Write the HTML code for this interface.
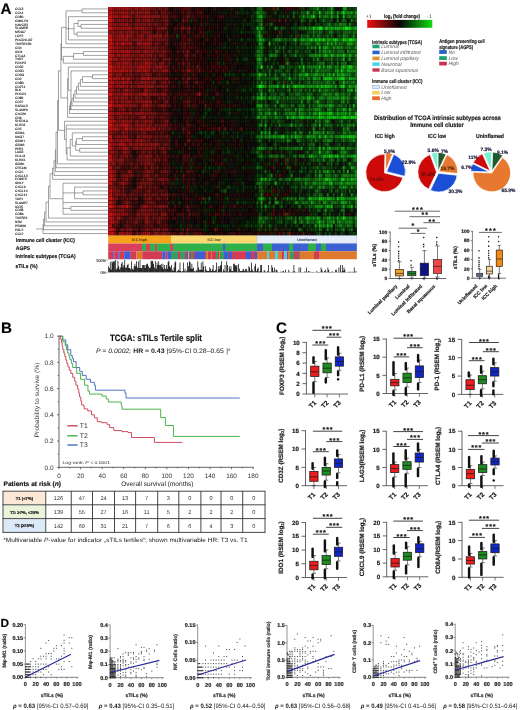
<!DOCTYPE html>
<html><head><meta charset="utf-8"><title>Figure</title>
<style>
html,body{margin:0;padding:0;background:#fff;}
body{width:520px;height:710px;overflow:hidden;}
svg{display:block;filter:blur(0.3px);font-family:"Liberation Sans",Arial,sans-serif;text-rendering:geometricPrecision;}
text[font-weight=bold]{stroke:#222;stroke-width:0.18px;}
.nb{stroke:none!important;}
.lb{stroke:#222;stroke-width:0.1px;}
</style></head><body>
<svg width="520" height="710" viewBox="0 0 520 710">
<rect width="520" height="710" fill="#fff"/>
<text x="0.6" y="13.8" font-size="15.2" font-weight="bold" font-family="Liberation Sans">A</text>
<text x="1" y="332.6" font-size="15.2" font-weight="bold">B</text>
<text x="276" y="333" font-size="15.2" font-weight="bold">C</text>
<text x="0.6" y="626.8" font-size="11.8" font-weight="bold">D</text>
<g font-size="3.3" fill="#111" style="stroke:#333;stroke-width:0.12px">
<text x="15" y="10.09">CCL3</text>
<text x="15" y="13.96">CCL4</text>
<text x="15" y="17.83">CD80</text>
<text x="15" y="21.71">CMKLR1</text>
<text x="15" y="25.58">HAVCR2</text>
<text x="15" y="29.45">SLAMF8</text>
<text x="15" y="33.32">MS4A7</text>
<text x="15" y="37.2">LCP2</text>
<text x="15" y="41.07">PDCD1LG2</text>
<text x="15" y="44.94">TNFSF13B</text>
<text x="15" y="48.82">CD4</text>
<text x="15" y="52.69">IDO1</text>
<text x="15" y="56.56">CTLA4</text>
<text x="15" y="60.43">TIGIT</text>
<text x="15" y="64.31">FOXP3</text>
<text x="15" y="68.18">CD3Z</text>
<text x="15" y="72.05">CD3D</text>
<text x="15" y="75.93">CD3G</text>
<text x="15" y="79.8">CD2</text>
<text x="15" y="83.67">CD8B</text>
<text x="15" y="87.54">CD274</text>
<text x="15" y="91.42">BLK</text>
<text x="15" y="95.29">PDCD1</text>
<text x="15" y="99.16">CD86</text>
<text x="15" y="103.04">CD27</text>
<text x="15" y="106.91">RASAL3</text>
<text x="15" y="110.78">SLAMF6</text>
<text x="15" y="114.65">CXCR6</text>
<text x="15" y="118.53">CD6</text>
<text x="15" y="122.4">SH2D1A</text>
<text x="15" y="126.27">KLRD1</text>
<text x="15" y="130.15">CD5</text>
<text x="15" y="134.02">GZMA</text>
<text x="15" y="137.89">NKG7</text>
<text x="15" y="141.76">GZMH</text>
<text x="15" y="145.64">GZMB</text>
<text x="15" y="149.51">PRF1</text>
<text x="15" y="153.38">LAG3</text>
<text x="15" y="157.26">HLA-G</text>
<text x="15" y="161.13">KLRK1</text>
<text x="15" y="165">GZMK</text>
<text x="15" y="168.87">CRTAM</text>
<text x="15" y="172.75">CCL5</text>
<text x="15" y="176.62">CXCL13</text>
<text x="15" y="180.49">EOMES</text>
<text x="15" y="184.37">GNLY</text>
<text x="15" y="188.24">CXCL9</text>
<text x="15" y="192.11">CXCL10</text>
<text x="15" y="195.98">CXCL11</text>
<text x="15" y="199.86">TAP1</text>
<text x="15" y="203.73">SLAMF7</text>
<text x="15" y="207.6">ICOS</text>
<text x="15" y="211.48">CD38</text>
<text x="15" y="215.35">CD8A</text>
<text x="15" y="219.22">TNFSF4</text>
<text x="15" y="223.09">B2M</text>
<text x="15" y="226.97">PSMB9</text>
<text x="15" y="230.84">FGL2</text>
<text x="15" y="234.71">CCL2</text>
</g>
<path d="M82 8.94H108.2M82 12.81H108.2M82 8.94V12.81M66 10.87H82M68.5 16.68H108.2M78 20.56H108.2M81 24.43H108.2M81 28.3H108.2M81 24.43V28.3M78 26.36H81M78 20.56V26.36M74 23.46H78M77 32.17H108.2M77 36.05H108.2M77 32.17V36.05M74 34.11H77M74 23.46V34.11M68.5 28.78H74M68.5 39.92H108.2M68.5 16.68V39.92M66 28.3H68.5M66 43.79H108.2M66 10.87V43.79M61.5 27.33H66M61.5 47.67H108.2M83.4 51.54H108.2M83.4 55.41H108.2M83.4 51.54V55.41M73.6 53.47H83.4M73.6 59.28H108.2M73.6 53.47V59.28M63.3 56.38H73.6M63.3 63.16H108.2M63.3 56.38V63.16M61.5 59.77H63.3M61.5 27.33V59.77M60.9 43.55H61.5M68.3 67.03H108.2M71 70.9H108.2M92.5 74.78H108.2M92.5 78.65H108.2M92.5 74.78V78.65M82.4 76.71H92.5M82.4 82.52H108.2M82.4 76.71V82.52M80.4 79.62H82.4M80.4 86.39H108.2M80.4 79.62V86.39M78.4 83.01H80.4M78.4 90.27H108.2M78.4 83.01V90.27M76.5 86.64H78.4M76.5 94.14H108.2M76.5 86.64V94.14M75 90.39H76.5M75 98.01H108.2M75 90.39V98.01M73.5 94.2H75M73.5 101.89H108.2M73.5 94.2V101.89M72 98.04H73.5M72 105.76H108.2M72 98.04V105.76M70.5 101.9H72M70.5 109.63H108.2M70.5 101.9V109.63M69.5 105.77H70.5M69.5 113.5H108.2M69.5 105.77V113.5M71 109.64H69.5M71 70.9V109.64M68.3 90.27H71M68.3 67.03V90.27M67.6 78.65H68.3M67.6 117.38H108.2M67.6 78.65V117.38M60.9 98.01H67.6M60.9 43.55V98.01M58.5 70.78H60.9M64.5 121.25H108.2M66.2 125.12H108.2M66.2 129H108.2M72.3 132.87H108.2M82.4 136.74H108.2M82.4 140.61H108.2M82.4 136.74V140.61M76.3 138.68H82.4M76.3 144.49H108.2M76.3 138.68V144.49M75.7 141.58H76.3M79.7 148.36H108.2M79.7 152.23H108.2M79.7 148.36V152.23M75.7 150.3H79.7M75.7 141.58V150.3M72.3 145.94H75.7M72.3 132.87V145.94M70.3 139.4H72.3M70.3 156.11H108.2M70.3 139.4V156.11M67 147.76H70.3M67 159.98H108.2M67 147.76V159.98M66.2 153.87H67M66.2 125.12V153.87M64.5 139.49H66.2M64.5 121.25V139.49M58.5 130.37H64.5M58.5 70.78V130.37M57.5 100.58H58.5M57.5 163.85H108.2M57.5 100.58V163.85M56 132.21H57.5M56 167.72H108.2M56 132.21V167.72M55.4 149.97H56M55.4 171.6H108.2M55.4 149.97V171.6M54 160.78H55.4M54 175.47H108.2M54 160.78V175.47M52.5 168.13H54M52.5 179.34H108.2M52.5 168.13V179.34M50 173.74H52.5M63 183.22H108.2M74.6 187.09H108.2M83 190.96H108.2M83 194.83H108.2M83 190.96V194.83M74.6 192.9H83M74.6 198.71H108.2M74.6 187.09V198.71M63 192.9H74.6M63 202.58H108.2M70.8 206.45H108.2M70.8 210.33H108.2M70.8 206.45V210.33M63 208.39H70.8M63 214.2H108.2M63 183.22V214.2M50 198.71H63M50 173.74V198.71M48.5 186.22H50M48.5 218.07H108.2M48.5 186.22V218.07M46 202.15H48.5M46 221.94H108.2M46 202.15V221.94M44.6 212.05H46M44.6 225.82H108.2M44.6 212.05V225.82M43.6 218.93H44.6M43.6 229.69H108.2M43.6 218.93V229.69M43 224.31H43.6M43 233.56H108.2M43 224.31V233.56M36 228.94H43" fill="none" stroke="#555" stroke-width="0.55"/>
<g filter="url(#hb)">
<rect x="108.2" y="7" width="248.6" height="228.5" fill="#000"/>
<path fill="#aa1414" d="M108.2 7h2v3.87h-2zM118.22 7h2v3.87h-2zM122.23 7h2v3.87h-2zM126.24 7h2v3.87h-2zM148.3 7h2v3.87h-2zM108.2 10.87h2v3.87h-2zM114.21 14.75h2v3.87h-2zM144.29 14.75h2v3.87h-2zM148.3 14.75h2v3.87h-2zM112.21 26.36h2v3.87h-2zM116.22 26.36h2v3.87h-2zM122.23 26.36h2v3.87h-2zM126.24 37.98h2v3.87h-2zM148.3 41.86h2v3.87h-2zM122.23 53.47h2v3.87h-2zM148.3 61.22h2v3.87h-2zM144.29 65.09h2v3.87h-2zM114.21 68.97h2v3.87h-2zM122.23 68.97h2v3.87h-2zM164.34 68.97h2v3.87h-2zM188.39 68.97h2v3.87h-2zM146.29 76.71h4.01v3.87h-4.01zM108.2 80.58h2v3.87h-2zM122.23 84.46h2v3.87h-2zM126.24 84.46h2v3.87h-2zM130.25 84.46h2v3.87h-2zM108.2 88.33h2v3.87h-2zM122.23 92.2h2v3.87h-2zM130.25 92.2h2v3.87h-2zM198.42 92.2h2v3.87h-2zM110.2 96.08h2v3.87h-2zM108.2 99.95h2v3.87h-2zM128.25 99.95h2v3.87h-2zM112.21 103.82h2v3.87h-2zM116.22 103.82h2v3.87h-2zM142.28 103.82h2v3.87h-2zM110.2 107.69h2v3.87h-2zM112.21 111.57h2v3.87h-2zM116.22 111.57h2v3.87h-2zM122.23 119.31h2v3.87h-2zM116.22 123.19h2v3.87h-2zM124.24 123.19h4.01v3.87h-4.01zM112.21 127.06h2v3.87h-2zM124.24 127.06h4.01v3.87h-4.01zM146.29 127.06h2v3.87h-2zM136.27 138.68h2v3.87h-2zM140.28 138.68h2v3.87h-2zM122.23 146.42h2v3.87h-2zM110.2 150.3h2v3.87h-2zM108.2 161.92h2v3.87h-2zM108.2 169.66h2v3.87h-2zM128.25 169.66h2v3.87h-2zM108.2 173.53h2v3.87h-2zM108.2 208.39h2v3.87h-2zM112.21 216.14h2v3.87h-2zM118.22 216.14h2v3.87h-2zM108.2 223.88h4.01v3.87h-4.01zM126.24 231.63h2v3.87h-2zM148.3 231.63h2v3.87h-2z"/>
<path fill="#be1414" d="M110.2 7h2v3.87h-2zM122.23 14.75h2v3.87h-2zM108.2 22.49h2v3.87h-2zM108.2 41.86h2v3.87h-2zM116.22 41.86h2v3.87h-2zM108.2 45.73h2v3.87h-2zM110.2 49.6h2v3.87h-2zM122.23 49.6h2v3.87h-2zM108.2 53.47h2v3.87h-2zM112.21 53.47h2v3.87h-2zM130.25 68.97h2v3.87h-2zM144.29 68.97h2v3.87h-2zM108.2 72.84h2v3.87h-2zM112.21 80.58h2v3.87h-2zM110.2 84.46h2v3.87h-2zM110.2 115.44h2v3.87h-2zM110.2 127.06h2v3.87h-2zM110.2 142.55h2v3.87h-2zM140.28 142.55h2v3.87h-2zM110.2 154.17h2v3.87h-2zM110.2 165.79h2v3.87h-2zM108.2 177.41h2v3.87h-2zM112.21 204.52h2v3.87h-2zM108.2 216.14h4.01v3.87h-4.01z"/>
<path fill="#a01414" d="M112.21 7h2v3.87h-2zM116.22 7h2v3.87h-2zM124.24 7h2v3.87h-2zM136.27 7h2v3.87h-2zM142.28 7h2v3.87h-2zM122.23 10.87h2v3.87h-2zM126.24 10.87h2v3.87h-2zM136.27 10.87h2v3.87h-2zM112.21 14.75h2v3.87h-2zM116.22 14.75h2v3.87h-2zM124.24 14.75h4.01v3.87h-4.01zM136.27 14.75h2v3.87h-2zM142.28 14.75h2v3.87h-2zM112.21 18.62h2v3.87h-2zM130.25 18.62h2v3.87h-2zM126.24 22.49h2v3.87h-2zM148.3 22.49h2v3.87h-2zM120.23 26.36h2v3.87h-2zM126.24 26.36h2v3.87h-2zM136.27 26.36h2v3.87h-2zM142.28 26.36h2v3.87h-2zM120.23 34.11h4.01v3.87h-4.01zM140.28 34.11h2v3.87h-2zM118.22 37.98h2v3.87h-2zM124.24 37.98h2v3.87h-2zM148.3 37.98h2v3.87h-2zM112.21 41.86h2v3.87h-2zM120.23 41.86h2v3.87h-2zM146.29 41.86h2v3.87h-2zM112.21 45.73h2v3.87h-2zM116.22 45.73h2v3.87h-2zM112.21 49.6h2v3.87h-2zM120.23 49.6h2v3.87h-2zM124.24 49.6h2v3.87h-2zM128.25 49.6h2v3.87h-2zM138.27 49.6h2v3.87h-2zM186.39 49.6h2v3.87h-2zM128.25 53.47h2v3.87h-2zM122.23 57.35h2v3.87h-2zM130.25 57.35h2v3.87h-2zM136.27 57.35h2v3.87h-2zM144.29 57.35h2v3.87h-2zM118.22 61.22h2v3.87h-2zM122.23 61.22h2v3.87h-2zM144.29 61.22h4.01v3.87h-4.01zM130.25 65.09h2v3.87h-2zM136.27 65.09h2v3.87h-2zM146.29 65.09h2v3.87h-2zM112.21 68.97h2v3.87h-2zM124.24 68.97h2v3.87h-2zM140.28 68.97h2v3.87h-2zM146.29 68.97h2v3.87h-2zM118.22 76.71h2v3.87h-2zM126.24 76.71h4.01v3.87h-4.01zM126.24 80.58h2v3.87h-2zM130.25 80.58h2v3.87h-2zM144.29 80.58h2v3.87h-2zM112.21 84.46h2v3.87h-2zM144.29 84.46h2v3.87h-2zM144.29 88.33h2v3.87h-2zM118.22 92.2h2v3.87h-2zM124.24 92.2h4.01v3.87h-4.01zM142.28 92.2h6.01v3.87h-6.01zM108.2 96.08h2v3.87h-2zM116.22 96.08h2v3.87h-2zM112.21 99.95h2v3.87h-2zM116.22 99.95h2v3.87h-2zM118.22 103.82h2v3.87h-2zM122.23 103.82h2v3.87h-2zM118.22 111.57h2v3.87h-2zM122.23 111.57h2v3.87h-2zM136.27 111.57h2v3.87h-2zM112.21 115.44h2v3.87h-2zM136.27 119.31h2v3.87h-2zM144.29 119.31h2v3.87h-2zM112.21 123.19h2v3.87h-2zM136.27 123.19h2v3.87h-2zM144.29 123.19h2v3.87h-2zM116.22 127.06h2v3.87h-2zM130.25 127.06h2v3.87h-2zM152.31 127.06h2v3.87h-2zM110.2 130.93h2v3.87h-2zM122.23 130.93h2v3.87h-2zM108.2 138.68h2v3.87h-2zM120.23 138.68h2v3.87h-2zM112.21 142.55h2v3.87h-2zM118.22 142.55h4.01v3.87h-4.01zM124.24 142.55h2v3.87h-2zM136.27 142.55h2v3.87h-2zM146.29 142.55h2v3.87h-2zM150.3 142.55h2v3.87h-2zM124.24 146.42h4.01v3.87h-4.01zM144.29 146.42h2v3.87h-2zM112.21 150.3h2v3.87h-2zM112.21 173.53h2v3.87h-2zM126.24 177.41h2v3.87h-2zM122.23 181.28h2v3.87h-2zM110.2 185.15h2v3.87h-2zM116.22 192.9h2v3.87h-2zM144.29 192.9h2v3.87h-2zM112.21 196.77h2v3.87h-2zM148.3 196.77h2v3.87h-2zM112.21 208.39h2v3.87h-2zM122.23 208.39h2v3.87h-2zM114.21 212.26h2v3.87h-2zM164.34 212.26h2v3.87h-2zM108.2 220.01h2v3.87h-2zM146.29 231.63h2v3.87h-2z"/>
<path fill="#821414" d="M114.21 7h2v3.87h-2zM130.25 7h2v3.87h-2zM146.29 7h2v3.87h-2zM272.6 7h2v3.87h-2zM118.22 10.87h2v3.87h-2zM130.25 10.87h4.01v3.87h-4.01zM156.32 10.87h2v3.87h-2zM120.23 14.75h2v3.87h-2zM130.25 14.75h2v3.87h-2zM140.28 14.75h2v3.87h-2zM136.27 18.62h4.01v3.87h-4.01zM144.29 18.62h2v3.87h-2zM166.34 18.62h2v3.87h-2zM182.38 18.62h2v3.87h-2zM112.21 22.49h2v3.87h-2zM118.22 22.49h4.01v3.87h-4.01zM140.28 22.49h2v3.87h-2zM144.29 26.36h2v3.87h-2zM150.3 26.36h2v3.87h-2zM158.32 26.36h2v3.87h-2zM182.38 26.36h2v3.87h-2zM110.2 30.24h4.01v3.87h-4.01zM118.22 30.24h4.01v3.87h-4.01zM136.27 30.24h2v3.87h-2zM142.28 30.24h2v3.87h-2zM148.3 30.24h2v3.87h-2zM156.32 30.24h2v3.87h-2zM138.27 34.11h2v3.87h-2zM146.29 34.11h2v3.87h-2zM164.34 34.11h2v3.87h-2zM142.28 37.98h2v3.87h-2zM156.32 37.98h2v3.87h-2zM118.22 41.86h2v3.87h-2zM154.31 41.86h2v3.87h-2zM118.22 45.73h2v3.87h-2zM126.24 45.73h2v3.87h-2zM130.25 45.73h2v3.87h-2zM140.28 45.73h2v3.87h-2zM146.29 45.73h4.01v3.87h-4.01zM156.32 45.73h2v3.87h-2zM134.26 49.6h2v3.87h-2zM142.28 49.6h2v3.87h-2zM150.3 49.6h2v3.87h-2zM156.32 49.6h2v3.87h-2zM120.23 53.47h2v3.87h-2zM136.27 53.47h2v3.87h-2zM148.3 53.47h2v3.87h-2zM154.31 53.47h2v3.87h-2zM186.39 53.47h2v3.87h-2zM126.24 57.35h4.01v3.87h-4.01zM114.21 61.22h2v3.87h-2zM120.23 61.22h2v3.87h-2zM128.25 61.22h2v3.87h-2zM136.27 61.22h2v3.87h-2zM140.28 61.22h2v3.87h-2zM150.3 61.22h2v3.87h-2zM154.31 65.09h4.01v3.87h-4.01zM164.34 65.09h2v3.87h-2zM134.26 68.97h2v3.87h-2zM160.33 68.97h2v3.87h-2zM186.39 68.97h2v3.87h-2zM118.22 72.84h4.01v3.87h-4.01zM126.24 72.84h2v3.87h-2zM124.24 76.71h2v3.87h-2zM136.27 76.71h2v3.87h-2zM150.3 76.71h2v3.87h-2zM158.32 76.71h2v3.87h-2zM114.21 80.58h2v3.87h-2zM120.23 80.58h2v3.87h-2zM136.27 80.58h2v3.87h-2zM148.3 80.58h2v3.87h-2zM136.27 84.46h8.02v3.87h-8.02zM146.29 84.46h8.02v3.87h-8.02zM118.22 88.33h2v3.87h-2zM114.21 92.2h2v3.87h-2zM120.23 92.2h2v3.87h-2zM148.3 92.2h4.01v3.87h-4.01zM160.33 92.2h2v3.87h-2zM114.21 96.08h2v3.87h-2zM120.23 96.08h4.01v3.87h-4.01zM140.28 96.08h2v3.87h-2zM146.29 96.08h2v3.87h-2zM124.24 99.95h4.01v3.87h-4.01zM130.25 99.95h2v3.87h-2zM148.3 99.95h4.01v3.87h-4.01zM136.27 103.82h2v3.87h-2zM150.3 103.82h2v3.87h-2zM162.33 103.82h2v3.87h-2zM118.22 107.69h2v3.87h-2zM140.28 107.69h2v3.87h-2zM126.24 111.57h2v3.87h-2zM138.27 111.57h6.01v3.87h-6.01zM154.31 111.57h2v3.87h-2zM118.22 115.44h2v3.87h-2zM118.22 119.31h2v3.87h-2zM128.25 119.31h2v3.87h-2zM146.29 119.31h2v3.87h-2zM166.34 119.31h2v3.87h-2zM114.21 123.19h2v3.87h-2zM142.28 123.19h2v3.87h-2zM160.33 123.19h2v3.87h-2zM118.22 127.06h2v3.87h-2zM142.28 127.06h2v3.87h-2zM162.33 127.06h2v3.87h-2zM126.24 130.93h2v3.87h-2zM144.29 130.93h2v3.87h-2zM116.22 134.81h2v3.87h-2zM122.23 134.81h4.01v3.87h-4.01zM146.29 134.81h2v3.87h-2zM150.3 134.81h2v3.87h-2zM166.34 134.81h2v3.87h-2zM144.29 138.68h2v3.87h-2zM116.22 142.55h2v3.87h-2zM134.26 142.55h2v3.87h-2zM144.29 142.55h2v3.87h-2zM152.31 142.55h6.01v3.87h-6.01zM164.34 142.55h2v3.87h-2zM118.22 146.42h2v3.87h-2zM134.26 146.42h4.01v3.87h-4.01zM140.28 146.42h2v3.87h-2zM154.31 146.42h2v3.87h-2zM108.2 150.3h2v3.87h-2zM164.34 150.3h2v3.87h-2zM114.21 154.17h2v3.87h-2zM120.23 154.17h2v3.87h-2zM144.29 154.17h2v3.87h-2zM116.22 158.04h2v3.87h-2zM148.3 158.04h2v3.87h-2zM114.21 161.92h2v3.87h-2zM130.25 161.92h2v3.87h-2zM156.32 165.79h2v3.87h-2zM164.34 169.66h2v3.87h-2zM114.21 173.53h2v3.87h-2zM122.23 173.53h2v3.87h-2zM144.29 173.53h2v3.87h-2zM148.3 177.41h4.01v3.87h-4.01zM160.33 177.41h2v3.87h-2zM124.24 181.28h2v3.87h-2zM112.21 185.15h2v3.87h-2zM148.3 189.03h2v3.87h-2zM124.24 192.9h2v3.87h-2zM166.34 192.9h2v3.87h-2zM114.21 204.52h2v3.87h-2zM118.22 204.52h2v3.87h-2zM146.29 204.52h2v3.87h-2zM154.31 204.52h2v3.87h-2zM150.3 208.39h2v3.87h-2zM120.23 212.26h2v3.87h-2zM124.24 212.26h2v3.87h-2zM138.27 212.26h2v3.87h-2zM146.29 212.26h2v3.87h-2zM152.31 212.26h2v3.87h-2zM188.39 212.26h2v3.87h-2zM136.27 216.14h2v3.87h-2zM144.29 216.14h4.01v3.87h-4.01zM158.32 216.14h2v3.87h-2zM144.29 220.01h4.01v3.87h-4.01zM122.23 227.75h2v3.87h-2zM152.31 227.75h2v3.87h-2zM162.33 227.75h2v3.87h-2zM214.46 227.75h2v3.87h-2zM124.24 231.63h2v3.87h-2zM130.25 231.63h2v3.87h-2z"/>
<path fill="#8c1414" d="M120.23 7h2v3.87h-2zM114.21 10.87h2v3.87h-2zM144.29 10.87h4.01v3.87h-4.01zM118.22 14.75h2v3.87h-2zM128.25 14.75h2v3.87h-2zM138.27 14.75h2v3.87h-2zM162.33 14.75h2v3.87h-2zM126.24 18.62h2v3.87h-2zM146.29 18.62h4.01v3.87h-4.01zM114.21 22.49h2v3.87h-2zM122.23 22.49h2v3.87h-2zM136.27 22.49h2v3.87h-2zM144.29 22.49h2v3.87h-2zM114.21 26.36h2v3.87h-2zM118.22 26.36h2v3.87h-2zM130.25 26.36h2v3.87h-2zM138.27 26.36h2v3.87h-2zM146.29 26.36h2v3.87h-2zM164.34 26.36h2v3.87h-2zM108.2 30.24h2v3.87h-2zM126.24 30.24h2v3.87h-2zM144.29 30.24h2v3.87h-2zM112.21 34.11h2v3.87h-2zM116.22 34.11h2v3.87h-2zM128.25 34.11h2v3.87h-2zM136.27 34.11h2v3.87h-2zM142.28 34.11h2v3.87h-2zM150.3 34.11h2v3.87h-2zM156.32 34.11h2v3.87h-2zM114.21 37.98h2v3.87h-2zM122.23 37.98h2v3.87h-2zM130.25 37.98h2v3.87h-2zM138.27 37.98h2v3.87h-2zM124.24 41.86h4.01v3.87h-4.01zM136.27 41.86h6.01v3.87h-6.01zM150.3 41.86h2v3.87h-2zM114.21 45.73h2v3.87h-2zM120.23 45.73h2v3.87h-2zM144.29 45.73h2v3.87h-2zM118.22 49.6h2v3.87h-2zM148.3 49.6h2v3.87h-2zM152.31 49.6h2v3.87h-2zM164.34 49.6h2v3.87h-2zM140.28 53.47h2v3.87h-2zM146.29 53.47h2v3.87h-2zM112.21 57.35h6.01v3.87h-6.01zM140.28 57.35h2v3.87h-2zM134.26 61.22h2v3.87h-2zM116.22 65.09h2v3.87h-2zM126.24 65.09h2v3.87h-2zM158.32 65.09h4.01v3.87h-4.01zM166.34 68.97h2v3.87h-2zM118.22 80.58h2v3.87h-2zM128.25 80.58h2v3.87h-2zM146.29 80.58h2v3.87h-2zM164.34 80.58h2v3.87h-2zM118.22 84.46h4.01v3.87h-4.01zM162.33 84.46h2v3.87h-2zM124.24 88.33h4.01v3.87h-4.01zM146.29 88.33h2v3.87h-2zM112.21 92.2h2v3.87h-2zM128.25 92.2h2v3.87h-2zM138.27 92.2h4.01v3.87h-4.01zM156.32 92.2h2v3.87h-2zM164.34 92.2h2v3.87h-2zM112.21 96.08h2v3.87h-2zM130.25 96.08h2v3.87h-2zM120.23 99.95h2v3.87h-2zM140.28 99.95h2v3.87h-2zM144.29 99.95h4.01v3.87h-4.01zM166.34 99.95h2v3.87h-2zM114.21 103.82h2v3.87h-2zM124.24 103.82h2v3.87h-2zM128.25 103.82h4.01v3.87h-4.01zM148.3 103.82h2v3.87h-2zM120.23 111.57h2v3.87h-2zM124.24 111.57h2v3.87h-2zM128.25 111.57h4.01v3.87h-4.01zM144.29 111.57h2v3.87h-2zM150.3 111.57h2v3.87h-2zM120.23 115.44h2v3.87h-2zM126.24 115.44h2v3.87h-2zM140.28 115.44h6.01v3.87h-6.01zM148.3 115.44h2v3.87h-2zM124.24 119.31h2v3.87h-2zM130.25 119.31h2v3.87h-2zM118.22 123.19h4.01v3.87h-4.01zM128.25 123.19h2v3.87h-2zM164.34 123.19h2v3.87h-2zM122.23 127.06h2v3.87h-2zM154.31 127.06h2v3.87h-2zM158.32 127.06h2v3.87h-2zM108.2 130.93h2v3.87h-2zM118.22 134.81h2v3.87h-2zM148.3 134.81h2v3.87h-2zM112.21 138.68h2v3.87h-2zM124.24 138.68h2v3.87h-2zM128.25 138.68h2v3.87h-2zM188.39 138.68h2v3.87h-2zM114.21 142.55h2v3.87h-2zM128.25 142.55h4.01v3.87h-4.01zM142.28 142.55h2v3.87h-2zM112.21 146.42h2v3.87h-2zM150.3 146.42h2v3.87h-2zM122.23 150.3h2v3.87h-2zM142.28 150.3h2v3.87h-2zM140.28 154.17h2v3.87h-2zM112.21 158.04h2v3.87h-2zM146.29 158.04h2v3.87h-2zM110.2 161.92h4.01v3.87h-4.01zM144.29 161.92h2v3.87h-2zM144.29 165.79h2v3.87h-2zM150.3 165.79h2v3.87h-2zM114.21 169.66h2v3.87h-2zM146.29 169.66h2v3.87h-2zM126.24 173.53h2v3.87h-2zM130.25 173.53h2v3.87h-2zM122.23 177.41h2v3.87h-2zM162.33 177.41h2v3.87h-2zM120.23 181.28h2v3.87h-2zM140.28 181.28h2v3.87h-2zM144.29 181.28h2v3.87h-2zM148.3 181.28h2v3.87h-2zM108.2 185.15h2v3.87h-2zM122.23 185.15h2v3.87h-2zM114.21 189.03h2v3.87h-2zM112.21 200.64h2v3.87h-2zM126.24 200.64h2v3.87h-2zM120.23 204.52h4.01v3.87h-4.01zM144.29 208.39h2v3.87h-2zM116.22 212.26h2v3.87h-2zM126.24 212.26h2v3.87h-2zM136.27 212.26h2v3.87h-2zM284.63 212.26h2v3.87h-2zM116.22 216.14h2v3.87h-2zM116.22 220.01h2v3.87h-2zM114.21 227.75h2v3.87h-2zM126.24 227.75h2v3.87h-2zM114.21 231.63h2v3.87h-2zM118.22 231.63h6.01v3.87h-6.01zM136.27 231.63h2v3.87h-2zM142.28 231.63h2v3.87h-2zM154.31 231.63h4.01v3.87h-4.01z"/>
<path fill="#961414" d="M128.25 7h2v3.87h-2zM134.26 7h2v3.87h-2zM140.28 7h2v3.87h-2zM144.29 7h2v3.87h-2zM112.21 10.87h2v3.87h-2zM116.22 10.87h2v3.87h-2zM120.23 10.87h2v3.87h-2zM124.24 10.87h2v3.87h-2zM148.3 10.87h2v3.87h-2zM146.29 14.75h2v3.87h-2zM118.22 18.62h2v3.87h-2zM122.23 18.62h2v3.87h-2zM124.24 22.49h2v3.87h-2zM124.24 26.36h2v3.87h-2zM140.28 26.36h2v3.87h-2zM188.39 26.36h2v3.87h-2zM118.22 34.11h2v3.87h-2zM130.25 34.11h2v3.87h-2zM148.3 34.11h2v3.87h-2zM154.31 34.11h2v3.87h-2zM112.21 37.98h2v3.87h-2zM116.22 37.98h2v3.87h-2zM120.23 37.98h2v3.87h-2zM136.27 37.98h2v3.87h-2zM140.28 37.98h2v3.87h-2zM146.29 37.98h2v3.87h-2zM150.3 37.98h2v3.87h-2zM128.25 41.86h4.01v3.87h-4.01zM142.28 41.86h2v3.87h-2zM114.21 49.6h2v3.87h-2zM130.25 49.6h2v3.87h-2zM136.27 49.6h2v3.87h-2zM146.29 49.6h2v3.87h-2zM116.22 53.47h4.01v3.87h-4.01zM124.24 53.47h4.01v3.87h-4.01zM142.28 53.47h2v3.87h-2zM150.3 53.47h2v3.87h-2zM120.23 57.35h2v3.87h-2zM124.24 57.35h2v3.87h-2zM116.22 61.22h2v3.87h-2zM124.24 61.22h4.01v3.87h-4.01zM130.25 61.22h2v3.87h-2zM114.21 65.09h2v3.87h-2zM124.24 65.09h2v3.87h-2zM128.25 65.09h2v3.87h-2zM138.27 65.09h4.01v3.87h-4.01zM118.22 68.97h2v3.87h-2zM136.27 68.97h4.01v3.87h-4.01zM142.28 68.97h2v3.87h-2zM148.3 68.97h2v3.87h-2zM162.33 68.97h2v3.87h-2zM116.22 72.84h2v3.87h-2zM130.25 72.84h2v3.87h-2zM112.21 76.71h6.01v3.87h-6.01zM140.28 76.71h6.01v3.87h-6.01zM116.22 80.58h2v3.87h-2zM124.24 80.58h2v3.87h-2zM116.22 84.46h2v3.87h-2zM112.21 88.33h2v3.87h-2zM116.22 92.2h2v3.87h-2zM136.27 92.2h2v3.87h-2zM162.33 92.2h2v3.87h-2zM122.23 99.95h2v3.87h-2zM142.28 99.95h2v3.87h-2zM126.24 103.82h2v3.87h-2zM144.29 103.82h4.01v3.87h-4.01zM108.2 107.69h2v3.87h-2zM122.23 107.69h2v3.87h-2zM114.21 119.31h2v3.87h-2zM126.24 119.31h2v3.87h-2zM130.25 123.19h2v3.87h-2zM140.28 123.19h2v3.87h-2zM148.3 123.19h2v3.87h-2zM136.27 127.06h2v3.87h-2zM144.29 127.06h2v3.87h-2zM126.24 134.81h2v3.87h-2zM116.22 138.68h2v3.87h-2zM122.23 138.68h2v3.87h-2zM126.24 138.68h2v3.87h-2zM130.25 138.68h2v3.87h-2zM148.3 146.42h2v3.87h-2zM162.33 146.42h2v3.87h-2zM124.24 150.3h2v3.87h-2zM126.24 154.17h2v3.87h-2zM146.29 154.17h2v3.87h-2zM122.23 158.04h2v3.87h-2zM154.31 158.04h2v3.87h-2zM148.3 161.92h2v3.87h-2zM112.21 169.66h2v3.87h-2zM148.3 169.66h2v3.87h-2zM146.29 173.53h2v3.87h-2zM112.21 177.41h4.01v3.87h-4.01zM140.28 185.15h2v3.87h-2zM124.24 204.52h2v3.87h-2zM162.33 204.52h2v3.87h-2zM110.2 208.39h2v3.87h-2zM118.22 212.26h2v3.87h-2zM122.23 212.26h2v3.87h-2zM144.29 212.26h2v3.87h-2zM148.3 212.26h2v3.87h-2zM146.29 227.75h2v3.87h-2zM128.25 231.63h2v3.87h-2zM144.29 231.63h2v3.87h-2zM288.64 231.63h2v3.87h-2z"/>
<path fill="#6e1414" d="M132.26 7h2v3.87h-2zM138.27 7h2v3.87h-2zM154.31 7h2v3.87h-2zM160.33 7h2v3.87h-2zM160.33 10.87h2v3.87h-2zM164.34 14.75h4.01v3.87h-4.01zM124.24 18.62h2v3.87h-2zM164.34 18.62h2v3.87h-2zM128.25 22.49h2v3.87h-2zM156.32 22.49h2v3.87h-2zM164.34 22.49h2v3.87h-2zM132.26 26.36h2v3.87h-2zM156.32 26.36h2v3.87h-2zM180.37 26.36h2v3.87h-2zM114.21 30.24h4.01v3.87h-4.01zM124.24 30.24h2v3.87h-2zM140.28 30.24h2v3.87h-2zM166.34 30.24h2v3.87h-2zM132.26 34.11h2v3.87h-2zM296.65 34.11h2v3.87h-2zM128.25 37.98h2v3.87h-2zM132.26 37.98h4.01v3.87h-4.01zM152.31 37.98h2v3.87h-2zM160.33 37.98h2v3.87h-2zM166.34 37.98h2v3.87h-2zM114.21 41.86h2v3.87h-2zM166.34 41.86h2v3.87h-2zM124.24 45.73h2v3.87h-2zM132.26 45.73h2v3.87h-2zM160.33 45.73h2v3.87h-2zM140.28 49.6h2v3.87h-2zM160.33 49.6h2v3.87h-2zM134.26 53.47h2v3.87h-2zM118.22 57.35h2v3.87h-2zM138.27 57.35h2v3.87h-2zM150.3 57.35h2v3.87h-2zM156.32 57.35h2v3.87h-2zM162.33 57.35h4.01v3.87h-4.01zM168.35 57.35h2v3.87h-2zM112.21 61.22h2v3.87h-2zM168.35 61.22h2v3.87h-2zM188.39 61.22h2v3.87h-2zM284.63 61.22h2v3.87h-2zM132.26 65.09h4.01v3.87h-4.01zM152.31 65.09h2v3.87h-2zM166.34 65.09h2v3.87h-2zM156.32 68.97h2v3.87h-2zM150.3 72.84h2v3.87h-2zM152.31 76.71h6.01v3.87h-6.01zM162.33 76.71h2v3.87h-2zM150.3 80.58h6.01v3.87h-6.01zM168.35 80.58h2v3.87h-2zM196.41 80.58h2v3.87h-2zM156.32 84.46h2v3.87h-2zM114.21 88.33h2v3.87h-2zM128.25 88.33h2v3.87h-2zM148.3 88.33h2v3.87h-2zM132.26 92.2h2v3.87h-2zM158.32 92.2h2v3.87h-2zM196.41 92.2h2v3.87h-2zM118.22 96.08h2v3.87h-2zM134.26 96.08h4.01v3.87h-4.01zM114.21 99.95h2v3.87h-2zM118.22 99.95h2v3.87h-2zM134.26 99.95h6.01v3.87h-6.01zM154.31 99.95h2v3.87h-2zM186.39 99.95h2v3.87h-2zM140.28 103.82h2v3.87h-2zM188.39 103.82h2v3.87h-2zM124.24 107.69h2v3.87h-2zM142.28 107.69h2v3.87h-2zM152.31 111.57h2v3.87h-2zM116.22 115.44h2v3.87h-2zM160.33 115.44h2v3.87h-2zM140.28 119.31h2v3.87h-2zM164.34 119.31h2v3.87h-2zM154.31 123.19h2v3.87h-2zM134.26 127.06h2v3.87h-2zM150.3 127.06h2v3.87h-2zM218.47 127.06h2v3.87h-2zM240.52 127.06h2v3.87h-2zM112.21 130.93h2v3.87h-2zM142.28 130.93h2v3.87h-2zM154.31 134.81h2v3.87h-2zM114.21 138.68h2v3.87h-2zM134.26 138.68h2v3.87h-2zM138.27 138.68h2v3.87h-2zM154.31 138.68h2v3.87h-2zM168.35 138.68h2v3.87h-2zM158.32 142.55h2v3.87h-2zM132.26 146.42h2v3.87h-2zM158.32 146.42h2v3.87h-2zM164.34 146.42h2v3.87h-2zM154.31 150.3h2v3.87h-2zM122.23 154.17h2v3.87h-2zM130.25 154.17h2v3.87h-2zM138.27 154.17h2v3.87h-2zM114.21 158.04h2v3.87h-2zM136.27 158.04h2v3.87h-2zM140.28 158.04h2v3.87h-2zM158.32 158.04h2v3.87h-2zM118.22 161.92h2v3.87h-2zM136.27 161.92h2v3.87h-2zM152.31 161.92h2v3.87h-2zM114.21 165.79h2v3.87h-2zM136.27 165.79h2v3.87h-2zM160.33 169.66h2v3.87h-2zM128.25 173.53h2v3.87h-2zM124.24 177.41h2v3.87h-2zM156.32 177.41h2v3.87h-2zM112.21 181.28h2v3.87h-2zM126.24 181.28h2v3.87h-2zM162.33 181.28h2v3.87h-2zM114.21 185.15h2v3.87h-2zM148.3 185.15h2v3.87h-2zM116.22 189.03h2v3.87h-2zM136.27 189.03h2v3.87h-2zM118.22 192.9h2v3.87h-2zM130.25 192.9h2v3.87h-2zM154.31 192.9h2v3.87h-2zM114.21 196.77h4.01v3.87h-4.01zM158.32 196.77h2v3.87h-2zM114.21 200.64h2v3.87h-2zM124.24 200.64h2v3.87h-2zM148.3 200.64h2v3.87h-2zM128.25 204.52h2v3.87h-2zM140.28 204.52h2v3.87h-2zM150.3 204.52h2v3.87h-2zM164.34 204.52h2v3.87h-2zM116.22 208.39h6.01v3.87h-6.01zM140.28 208.39h4.01v3.87h-4.01zM146.29 208.39h2v3.87h-2zM156.32 208.39h2v3.87h-2zM130.25 212.26h2v3.87h-2zM142.28 212.26h2v3.87h-2zM138.27 216.14h2v3.87h-2zM160.33 216.14h2v3.87h-2zM114.21 220.01h2v3.87h-2zM126.24 220.01h2v3.87h-2zM134.26 220.01h4.01v3.87h-4.01zM156.32 220.01h2v3.87h-2zM136.27 227.75h2v3.87h-2zM148.3 227.75h2v3.87h-2zM154.31 227.75h2v3.87h-2zM164.34 227.75h4.01v3.87h-4.01zM152.31 231.63h2v3.87h-2zM282.62 231.63h2v3.87h-2z"/>
<path fill="#641414" d="M150.3 7h2v3.87h-2zM166.34 7h2v3.87h-2zM134.26 10.87h2v3.87h-2zM154.31 10.87h2v3.87h-2zM162.33 10.87h2v3.87h-2zM134.26 14.75h2v3.87h-2zM188.39 14.75h2v3.87h-2zM114.21 18.62h4.01v3.87h-4.01zM128.25 18.62h2v3.87h-2zM134.26 18.62h2v3.87h-2zM140.28 18.62h2v3.87h-2zM150.3 18.62h4.01v3.87h-4.01zM156.32 18.62h2v3.87h-2zM162.33 18.62h2v3.87h-2zM186.39 18.62h2v3.87h-2zM284.63 18.62h2v3.87h-2zM146.29 22.49h2v3.87h-2zM150.3 22.49h2v3.87h-2zM200.42 22.49h2v3.87h-2zM186.39 26.36h2v3.87h-2zM150.3 30.24h2v3.87h-2zM188.39 30.24h2v3.87h-2zM154.31 37.98h2v3.87h-2zM164.34 37.98h2v3.87h-2zM188.39 37.98h2v3.87h-2zM158.32 41.86h2v3.87h-2zM164.34 41.86h2v3.87h-2zM188.39 41.86h2v3.87h-2zM128.25 45.73h2v3.87h-2zM138.27 45.73h2v3.87h-2zM152.31 45.73h4.01v3.87h-4.01zM162.33 45.73h2v3.87h-2zM154.31 49.6h2v3.87h-2zM158.32 49.6h2v3.87h-2zM182.38 49.6h2v3.87h-2zM196.41 49.6h2v3.87h-2zM114.21 53.47h2v3.87h-2zM158.32 53.47h4.01v3.87h-4.01zM164.34 53.47h2v3.87h-2zM184.38 53.47h2v3.87h-2zM194.41 53.47h2v3.87h-2zM152.31 57.35h4.01v3.87h-4.01zM166.34 57.35h2v3.87h-2zM152.31 61.22h2v3.87h-2zM158.32 61.22h2v3.87h-2zM186.39 65.09h2v3.87h-2zM132.26 68.97h2v3.87h-2zM158.32 68.97h2v3.87h-2zM182.38 68.97h2v3.87h-2zM114.21 72.84h2v3.87h-2zM124.24 72.84h2v3.87h-2zM128.25 72.84h2v3.87h-2zM136.27 72.84h2v3.87h-2zM140.28 72.84h4.01v3.87h-4.01zM158.32 72.84h2v3.87h-2zM132.26 76.71h2v3.87h-2zM182.38 76.71h2v3.87h-2zM186.39 76.71h4.01v3.87h-4.01zM160.33 80.58h2v3.87h-2zM132.26 84.46h4.01v3.87h-4.01zM154.31 84.46h2v3.87h-2zM158.32 84.46h2v3.87h-2zM164.34 84.46h4.01v3.87h-4.01zM116.22 88.33h2v3.87h-2zM132.26 88.33h2v3.87h-2zM138.27 88.33h2v3.87h-2zM150.3 88.33h2v3.87h-2zM154.31 88.33h2v3.87h-2zM164.34 88.33h2v3.87h-2zM216.46 92.2h2v3.87h-2zM138.27 96.08h2v3.87h-2zM144.29 96.08h2v3.87h-2zM158.32 96.08h2v3.87h-2zM132.26 99.95h2v3.87h-2zM188.39 99.95h2v3.87h-2zM158.32 103.82h2v3.87h-2zM168.35 103.82h2v3.87h-2zM128.25 107.69h4.01v3.87h-4.01zM136.27 107.69h2v3.87h-2zM144.29 107.69h4.01v3.87h-4.01zM162.33 107.69h2v3.87h-2zM132.26 111.57h2v3.87h-2zM164.34 111.57h2v3.87h-2zM124.24 115.44h2v3.87h-2zM132.26 115.44h2v3.87h-2zM150.3 115.44h4.01v3.87h-4.01zM134.26 119.31h2v3.87h-2zM138.27 119.31h2v3.87h-2zM152.31 119.31h2v3.87h-2zM162.33 123.19h2v3.87h-2zM132.26 127.06h2v3.87h-2zM164.34 127.06h2v3.87h-2zM168.35 127.06h2v3.87h-2zM182.38 127.06h2v3.87h-2zM116.22 130.93h2v3.87h-2zM124.24 130.93h2v3.87h-2zM130.25 130.93h2v3.87h-2zM136.27 130.93h2v3.87h-2zM140.28 130.93h2v3.87h-2zM160.33 130.93h2v3.87h-2zM130.25 134.81h2v3.87h-2zM140.28 134.81h2v3.87h-2zM156.32 134.81h2v3.87h-2zM164.34 134.81h2v3.87h-2zM146.29 138.68h2v3.87h-2zM156.32 138.68h2v3.87h-2zM162.33 142.55h2v3.87h-2zM166.34 142.55h2v3.87h-2zM184.38 142.55h2v3.87h-2zM114.21 146.42h2v3.87h-2zM128.25 146.42h2v3.87h-2zM152.31 146.42h2v3.87h-2zM160.33 146.42h2v3.87h-2zM168.35 146.42h2v3.87h-2zM188.39 146.42h2v3.87h-2zM114.21 150.3h4.01v3.87h-4.01zM128.25 150.3h2v3.87h-2zM144.29 150.3h2v3.87h-2zM150.3 150.3h2v3.87h-2zM162.33 150.3h2v3.87h-2zM116.22 154.17h2v3.87h-2zM142.28 154.17h2v3.87h-2zM164.34 154.17h2v3.87h-2zM126.24 158.04h2v3.87h-2zM138.27 158.04h2v3.87h-2zM142.28 158.04h2v3.87h-2zM150.3 158.04h2v3.87h-2zM284.63 158.04h2v3.87h-2zM122.23 161.92h2v3.87h-2zM284.63 161.92h2v3.87h-2zM112.21 165.79h2v3.87h-2zM116.22 165.79h4.01v3.87h-4.01zM130.25 165.79h2v3.87h-2zM134.26 165.79h2v3.87h-2zM152.31 165.79h2v3.87h-2zM164.34 165.79h2v3.87h-2zM272.6 165.79h2v3.87h-2zM150.3 169.66h4.01v3.87h-4.01zM162.33 169.66h2v3.87h-2zM166.34 169.66h2v3.87h-2zM120.23 173.53h2v3.87h-2zM138.27 173.53h2v3.87h-2zM142.28 173.53h2v3.87h-2zM154.31 173.53h4.01v3.87h-4.01zM182.38 173.53h2v3.87h-2zM152.31 177.41h2v3.87h-2zM158.32 177.41h2v3.87h-2zM164.34 177.41h2v3.87h-2zM142.28 181.28h2v3.87h-2zM146.29 181.28h2v3.87h-2zM150.3 181.28h2v3.87h-2zM116.22 185.15h2v3.87h-2zM136.27 185.15h2v3.87h-2zM150.3 185.15h2v3.87h-2zM154.31 185.15h2v3.87h-2zM146.29 189.03h2v3.87h-2zM160.33 189.03h2v3.87h-2zM112.21 192.9h2v3.87h-2zM120.23 192.9h2v3.87h-2zM132.26 192.9h2v3.87h-2zM136.27 192.9h2v3.87h-2zM140.28 192.9h2v3.87h-2zM146.29 192.9h2v3.87h-2zM150.3 192.9h2v3.87h-2zM156.32 192.9h2v3.87h-2zM160.33 192.9h4.01v3.87h-4.01zM134.26 196.77h2v3.87h-2zM146.29 196.77h2v3.87h-2zM150.3 196.77h2v3.87h-2zM156.32 196.77h2v3.87h-2zM128.25 200.64h2v3.87h-2zM152.31 200.64h2v3.87h-2zM116.22 204.52h2v3.87h-2zM130.25 204.52h2v3.87h-2zM156.32 204.52h2v3.87h-2zM186.39 204.52h2v3.87h-2zM152.31 208.39h2v3.87h-2zM160.33 208.39h2v3.87h-2zM150.3 212.26h2v3.87h-2zM154.31 212.26h2v3.87h-2zM114.21 216.14h2v3.87h-2zM120.23 216.14h2v3.87h-2zM130.25 216.14h2v3.87h-2zM148.3 216.14h2v3.87h-2zM162.33 216.14h2v3.87h-2zM114.21 223.88h2v3.87h-2zM126.24 223.88h2v3.87h-2zM144.29 223.88h2v3.87h-2zM150.3 223.88h2v3.87h-2zM182.38 227.75h2v3.87h-2zM158.32 231.63h2v3.87h-2zM166.34 231.63h4.01v3.87h-4.01z"/>
<path fill="#781414" d="M152.31 7h2v3.87h-2zM158.32 7h2v3.87h-2zM164.34 7h2v3.87h-2zM128.25 10.87h2v3.87h-2zM138.27 10.87h6.01v3.87h-6.01zM164.34 10.87h2v3.87h-2zM150.3 14.75h10.02v3.87h-10.02zM186.39 14.75h2v3.87h-2zM120.23 18.62h2v3.87h-2zM142.28 18.62h2v3.87h-2zM278.61 18.62h2v3.87h-2zM116.22 22.49h2v3.87h-2zM130.25 22.49h2v3.87h-2zM134.26 22.49h2v3.87h-2zM138.27 22.49h2v3.87h-2zM142.28 22.49h2v3.87h-2zM154.31 22.49h2v3.87h-2zM166.34 22.49h2v3.87h-2zM134.26 26.36h2v3.87h-2zM148.3 26.36h2v3.87h-2zM160.33 26.36h4.01v3.87h-4.01zM122.23 30.24h2v3.87h-2zM128.25 30.24h6.01v3.87h-6.01zM146.29 30.24h2v3.87h-2zM278.61 30.24h2v3.87h-2zM114.21 34.11h2v3.87h-2zM124.24 34.11h2v3.87h-2zM152.31 34.11h2v3.87h-2zM158.32 34.11h4.01v3.87h-4.01zM166.34 34.11h2v3.87h-2zM144.29 37.98h2v3.87h-2zM158.32 37.98h2v3.87h-2zM162.33 37.98h2v3.87h-2zM156.32 41.86h2v3.87h-2zM122.23 45.73h2v3.87h-2zM136.27 45.73h2v3.87h-2zM142.28 45.73h2v3.87h-2zM150.3 45.73h2v3.87h-2zM132.26 49.6h2v3.87h-2zM162.33 49.6h2v3.87h-2zM130.25 53.47h4.01v3.87h-4.01zM138.27 53.47h2v3.87h-2zM144.29 53.47h2v3.87h-2zM162.33 53.47h2v3.87h-2zM134.26 57.35h2v3.87h-2zM142.28 57.35h2v3.87h-2zM146.29 57.35h4.01v3.87h-4.01zM186.39 57.35h2v3.87h-2zM138.27 61.22h2v3.87h-2zM142.28 61.22h2v3.87h-2zM154.31 61.22h2v3.87h-2zM160.33 61.22h4.01v3.87h-4.01zM182.38 61.22h2v3.87h-2zM120.23 65.09h2v3.87h-2zM150.3 65.09h2v3.87h-2zM162.33 65.09h2v3.87h-2zM196.41 65.09h2v3.87h-2zM128.25 68.97h2v3.87h-2zM152.31 68.97h4.01v3.87h-4.01zM198.42 68.97h2v3.87h-2zM112.21 72.84h2v3.87h-2zM144.29 72.84h6.01v3.87h-6.01zM120.23 76.71h2v3.87h-2zM130.25 76.71h2v3.87h-2zM160.33 76.71h2v3.87h-2zM164.34 76.71h4.01v3.87h-4.01zM134.26 80.58h2v3.87h-2zM138.27 80.58h6.01v3.87h-6.01zM162.33 80.58h2v3.87h-2zM186.39 80.58h2v3.87h-2zM114.21 84.46h2v3.87h-2zM124.24 84.46h2v3.87h-2zM160.33 84.46h2v3.87h-2zM122.23 88.33h2v3.87h-2zM130.25 88.33h2v3.87h-2zM134.26 92.2h2v3.87h-2zM152.31 92.2h4.01v3.87h-4.01zM124.24 96.08h4.01v3.87h-4.01zM148.3 96.08h2v3.87h-2zM162.33 96.08h2v3.87h-2zM164.34 99.95h2v3.87h-2zM132.26 103.82h4.01v3.87h-4.01zM160.33 103.82h2v3.87h-2zM164.34 103.82h2v3.87h-2zM204.43 103.82h2v3.87h-2zM112.21 107.69h2v3.87h-2zM120.23 107.69h2v3.87h-2zM148.3 107.69h2v3.87h-2zM114.21 111.57h2v3.87h-2zM134.26 111.57h2v3.87h-2zM146.29 111.57h4.01v3.87h-4.01zM122.23 115.44h2v3.87h-2zM130.25 115.44h2v3.87h-2zM138.27 115.44h2v3.87h-2zM116.22 119.31h2v3.87h-2zM120.23 119.31h2v3.87h-2zM142.28 119.31h2v3.87h-2zM148.3 119.31h4.01v3.87h-4.01zM134.26 123.19h2v3.87h-2zM138.27 123.19h2v3.87h-2zM146.29 123.19h2v3.87h-2zM150.3 123.19h2v3.87h-2zM156.32 123.19h2v3.87h-2zM166.34 123.19h2v3.87h-2zM120.23 127.06h2v3.87h-2zM128.25 127.06h2v3.87h-2zM138.27 127.06h2v3.87h-2zM224.48 127.06h2v3.87h-2zM188.39 130.93h2v3.87h-2zM114.21 134.81h2v3.87h-2zM120.23 134.81h2v3.87h-2zM136.27 134.81h4.01v3.87h-4.01zM142.28 134.81h4.01v3.87h-4.01zM160.33 134.81h2v3.87h-2zM118.22 138.68h2v3.87h-2zM142.28 138.68h2v3.87h-2zM148.3 138.68h2v3.87h-2zM126.24 142.55h2v3.87h-2zM132.26 142.55h2v3.87h-2zM138.27 142.55h2v3.87h-2zM148.3 142.55h2v3.87h-2zM116.22 146.42h2v3.87h-2zM120.23 146.42h2v3.87h-2zM138.27 146.42h2v3.87h-2zM142.28 146.42h2v3.87h-2zM146.29 146.42h2v3.87h-2zM126.24 150.3h2v3.87h-2zM148.3 150.3h2v3.87h-2zM112.21 154.17h2v3.87h-2zM124.24 154.17h2v3.87h-2zM148.3 154.17h4.01v3.87h-4.01zM156.32 154.17h2v3.87h-2zM118.22 158.04h4.01v3.87h-4.01zM144.29 158.04h2v3.87h-2zM164.34 158.04h2v3.87h-2zM120.23 161.92h2v3.87h-2zM140.28 161.92h2v3.87h-2zM146.29 161.92h2v3.87h-2zM150.3 161.92h2v3.87h-2zM130.25 169.66h2v3.87h-2zM144.29 169.66h2v3.87h-2zM124.24 173.53h2v3.87h-2zM148.3 173.53h2v3.87h-2zM142.28 177.41h2v3.87h-2zM146.29 177.41h2v3.87h-2zM166.34 177.41h2v3.87h-2zM118.22 181.28h2v3.87h-2zM138.27 185.15h2v3.87h-2zM144.29 185.15h2v3.87h-2zM112.21 189.03h2v3.87h-2zM118.22 189.03h2v3.87h-2zM122.23 189.03h2v3.87h-2zM114.21 192.9h2v3.87h-2zM122.23 192.9h2v3.87h-2zM148.3 192.9h2v3.87h-2zM152.31 192.9h2v3.87h-2zM164.34 192.9h2v3.87h-2zM126.24 196.77h2v3.87h-2zM130.25 196.77h2v3.87h-2zM136.27 196.77h2v3.87h-2zM144.29 196.77h2v3.87h-2zM166.34 196.77h2v3.87h-2zM202.43 196.77h2v3.87h-2zM146.29 200.64h2v3.87h-2zM150.3 200.64h2v3.87h-2zM142.28 204.52h2v3.87h-2zM148.3 204.52h2v3.87h-2zM158.32 204.52h4.01v3.87h-4.01zM166.34 204.52h2v3.87h-2zM114.21 208.39h2v3.87h-2zM148.3 208.39h2v3.87h-2zM140.28 212.26h2v3.87h-2zM156.32 212.26h2v3.87h-2zM160.33 212.26h4.01v3.87h-4.01zM152.31 216.14h2v3.87h-2zM148.3 220.01h2v3.87h-2zM158.32 220.01h2v3.87h-2zM120.23 227.75h2v3.87h-2zM128.25 227.75h4.01v3.87h-4.01zM144.29 227.75h2v3.87h-2zM156.32 227.75h4.01v3.87h-4.01zM186.39 227.75h2v3.87h-2zM140.28 231.63h2v3.87h-2zM160.33 231.63h6.01v3.87h-6.01zM180.37 231.63h2v3.87h-2zM186.39 231.63h2v3.87h-2zM302.67 231.63h2v3.87h-2z"/>
<path fill="#5a0a0a" d="M156.32 7h2v3.87h-2zM162.33 7h2v3.87h-2zM182.38 7h2v3.87h-2zM186.39 7h4.01v3.87h-4.01zM196.41 7h2v3.87h-2zM286.63 7h2v3.87h-2zM150.3 10.87h4.01v3.87h-4.01zM166.34 10.87h2v3.87h-2zM132.26 14.75h2v3.87h-2zM160.33 14.75h2v3.87h-2zM182.38 14.75h2v3.87h-2zM154.31 18.62h2v3.87h-2zM132.26 22.49h2v3.87h-2zM152.31 22.49h2v3.87h-2zM158.32 22.49h4.01v3.87h-4.01zM152.31 26.36h2v3.87h-2zM166.34 26.36h2v3.87h-2zM176.36 26.36h2v3.87h-2zM184.38 26.36h2v3.87h-2zM134.26 30.24h2v3.87h-2zM158.32 30.24h4.01v3.87h-4.01zM180.37 30.24h2v3.87h-2zM134.26 34.11h2v3.87h-2zM144.29 34.11h2v3.87h-2zM162.33 34.11h2v3.87h-2zM182.38 37.98h2v3.87h-2zM186.39 37.98h2v3.87h-2zM134.26 41.86h2v3.87h-2zM160.33 41.86h2v3.87h-2zM182.38 41.86h4.01v3.87h-4.01zM134.26 45.73h2v3.87h-2zM164.34 45.73h2v3.87h-2zM190.4 45.73h2v3.87h-2zM166.34 49.6h2v3.87h-2zM152.31 53.47h2v3.87h-2zM164.34 61.22h2v3.87h-2zM186.39 61.22h2v3.87h-2zM182.38 65.09h2v3.87h-2zM188.39 65.09h2v3.87h-2zM192.4 68.97h2v3.87h-2zM216.46 68.97h2v3.87h-2zM122.23 72.84h2v3.87h-2zM134.26 72.84h2v3.87h-2zM156.32 72.84h2v3.87h-2zM162.33 72.84h2v3.87h-2zM186.39 72.84h2v3.87h-2zM138.27 76.71h2v3.87h-2zM174.36 76.71h2v3.87h-2zM166.34 80.58h2v3.87h-2zM184.38 80.58h2v3.87h-2zM194.41 80.58h2v3.87h-2zM192.4 84.46h2v3.87h-2zM120.23 88.33h2v3.87h-2zM134.26 88.33h4.01v3.87h-4.01zM152.31 88.33h2v3.87h-2zM162.33 88.33h2v3.87h-2zM166.34 92.2h2v3.87h-2zM128.25 96.08h2v3.87h-2zM164.34 96.08h2v3.87h-2zM156.32 99.95h2v3.87h-2zM162.33 99.95h2v3.87h-2zM182.38 99.95h2v3.87h-2zM198.42 99.95h2v3.87h-2zM156.32 103.82h2v3.87h-2zM166.34 103.82h2v3.87h-2zM116.22 107.69h2v3.87h-2zM162.33 111.57h2v3.87h-2zM166.34 111.57h2v3.87h-2zM114.21 115.44h2v3.87h-2zM128.25 115.44h2v3.87h-2zM134.26 115.44h2v3.87h-2zM162.33 115.44h4.01v3.87h-4.01zM132.26 119.31h2v3.87h-2zM160.33 119.31h4.01v3.87h-4.01zM152.31 123.19h2v3.87h-2zM158.32 123.19h2v3.87h-2zM156.32 127.06h2v3.87h-2zM160.33 127.06h2v3.87h-2zM198.42 127.06h2v3.87h-2zM114.21 130.93h2v3.87h-2zM120.23 130.93h2v3.87h-2zM156.32 130.93h2v3.87h-2zM112.21 134.81h2v3.87h-2zM152.31 134.81h2v3.87h-2zM132.26 138.68h2v3.87h-2zM152.31 138.68h2v3.87h-2zM162.33 138.68h2v3.87h-2zM186.39 138.68h2v3.87h-2zM168.35 142.55h2v3.87h-2zM130.25 146.42h2v3.87h-2zM140.28 150.3h2v3.87h-2zM160.33 150.3h2v3.87h-2zM186.39 154.17h2v3.87h-2zM128.25 158.04h2v3.87h-2zM156.32 158.04h2v3.87h-2zM126.24 161.92h2v3.87h-2zM142.28 161.92h2v3.87h-2zM162.33 161.92h2v3.87h-2zM168.35 161.92h2v3.87h-2zM186.39 165.79h2v3.87h-2zM116.22 169.66h2v3.87h-2zM120.23 169.66h4.01v3.87h-4.01zM142.28 169.66h2v3.87h-2zM120.23 177.41h2v3.87h-2zM140.28 177.41h2v3.87h-2zM144.29 177.41h2v3.87h-2zM182.38 177.41h2v3.87h-2zM188.39 177.41h2v3.87h-2zM114.21 181.28h2v3.87h-2zM136.27 181.28h4.01v3.87h-4.01zM166.34 181.28h2v3.87h-2zM118.22 185.15h2v3.87h-2zM142.28 185.15h2v3.87h-2zM156.32 185.15h2v3.87h-2zM164.34 185.15h2v3.87h-2zM134.26 189.03h2v3.87h-2zM144.29 189.03h2v3.87h-2zM150.3 189.03h2v3.87h-2zM134.26 192.9h2v3.87h-2zM172.35 192.9h2v3.87h-2zM266.58 192.9h2v3.87h-2zM120.23 196.77h4.01v3.87h-4.01zM160.33 196.77h2v3.87h-2zM164.34 196.77h2v3.87h-2zM122.23 200.64h2v3.87h-2zM144.29 200.64h2v3.87h-2zM154.31 200.64h2v3.87h-2zM152.31 204.52h2v3.87h-2zM124.24 208.39h4.01v3.87h-4.01zM130.25 208.39h2v3.87h-2zM136.27 208.39h4.01v3.87h-4.01zM288.64 208.39h2v3.87h-2zM214.46 212.26h2v3.87h-2zM132.26 216.14h2v3.87h-2zM140.28 216.14h4.01v3.87h-4.01zM154.31 216.14h4.01v3.87h-4.01zM164.34 216.14h2v3.87h-2zM118.22 220.01h2v3.87h-2zM150.3 220.01h4.01v3.87h-4.01zM128.25 223.88h2v3.87h-2zM146.29 223.88h4.01v3.87h-4.01zM152.31 223.88h2v3.87h-2zM160.33 223.88h2v3.87h-2zM164.34 223.88h2v3.87h-2zM124.24 227.75h2v3.87h-2zM140.28 227.75h4.01v3.87h-4.01zM150.3 227.75h2v3.87h-2zM150.3 231.63h2v3.87h-2zM172.35 231.63h2v3.87h-2zM194.41 231.63h4.01v3.87h-4.01zM270.59 231.63h2v3.87h-2zM278.61 231.63h2v3.87h-2z"/>
<path fill="#280a0a" d="M168.35 7h2v3.87h-2zM172.35 7h2v3.87h-2zM194.41 7h2v3.87h-2zM200.42 7h2v3.87h-2zM206.44 7h2v3.87h-2zM210.45 7h2v3.87h-2zM270.59 7h2v3.87h-2zM278.61 7h2v3.87h-2zM292.65 7h2v3.87h-2zM338.76 7h2v3.87h-2zM172.35 10.87h2v3.87h-2zM176.36 10.87h2v3.87h-2zM194.41 10.87h2v3.87h-2zM216.46 10.87h2v3.87h-2zM270.59 10.87h2v3.87h-2zM180.37 14.75h2v3.87h-2zM194.41 14.75h6.01v3.87h-6.01zM204.43 14.75h2v3.87h-2zM212.45 14.75h2v3.87h-2zM216.46 14.75h2v3.87h-2zM228.49 14.75h2v3.87h-2zM288.64 14.75h2v3.87h-2zM180.37 18.62h2v3.87h-2zM212.45 18.62h2v3.87h-2zM220.47 18.62h2v3.87h-2zM262.57 18.62h2v3.87h-2zM280.62 18.62h2v3.87h-2zM290.64 18.62h2v3.87h-2zM296.65 18.62h2v3.87h-2zM184.38 22.49h4.01v3.87h-4.01zM196.41 22.49h2v3.87h-2zM224.48 22.49h2v3.87h-2zM232.5 22.49h2v3.87h-2zM262.57 22.49h2v3.87h-2zM284.63 22.49h2v3.87h-2zM168.35 26.36h2v3.87h-2zM172.35 26.36h2v3.87h-2zM190.4 26.36h2v3.87h-2zM220.47 26.36h2v3.87h-2zM230.5 26.36h2v3.87h-2zM172.35 30.24h6.01v3.87h-6.01zM214.46 30.24h2v3.87h-2zM272.6 30.24h2v3.87h-2zM174.36 34.11h2v3.87h-2zM186.39 34.11h2v3.87h-2zM232.5 34.11h2v3.87h-2zM262.57 34.11h2v3.87h-2zM174.36 37.98h2v3.87h-2zM192.4 37.98h2v3.87h-2zM202.43 37.98h2v3.87h-2zM226.49 37.98h2v3.87h-2zM232.5 37.98h2v3.87h-2zM176.36 41.86h2v3.87h-2zM190.4 41.86h2v3.87h-2zM196.41 41.86h2v3.87h-2zM200.42 41.86h2v3.87h-2zM204.43 41.86h2v3.87h-2zM208.44 41.86h2v3.87h-2zM212.45 41.86h4.01v3.87h-4.01zM296.65 41.86h2v3.87h-2zM178.37 45.73h2v3.87h-2zM206.44 45.73h2v3.87h-2zM190.4 49.6h2v3.87h-2zM202.43 49.6h2v3.87h-2zM220.47 49.6h2v3.87h-2zM230.5 49.6h2v3.87h-2zM284.63 49.6h2v3.87h-2zM292.65 49.6h2v3.87h-2zM172.35 53.47h2v3.87h-2zM178.37 53.47h2v3.87h-2zM206.44 53.47h4.01v3.87h-4.01zM212.45 53.47h2v3.87h-2zM218.47 53.47h2v3.87h-2zM228.49 53.47h2v3.87h-2zM286.63 53.47h2v3.87h-2zM188.39 57.35h2v3.87h-2zM192.4 57.35h2v3.87h-2zM196.41 57.35h2v3.87h-2zM202.43 57.35h2v3.87h-2zM226.49 57.35h6.01v3.87h-6.01zM290.64 57.35h2v3.87h-2zM320.71 57.35h2v3.87h-2zM196.41 61.22h2v3.87h-2zM206.44 61.22h2v3.87h-2zM226.49 61.22h2v3.87h-2zM176.36 65.09h2v3.87h-2zM180.37 65.09h2v3.87h-2zM204.43 65.09h2v3.87h-2zM216.46 65.09h2v3.87h-2zM222.48 65.09h2v3.87h-2zM226.49 65.09h2v3.87h-2zM230.5 65.09h2v3.87h-2zM234.5 65.09h2v3.87h-2zM248.54 65.09h2v3.87h-2zM208.44 68.97h2v3.87h-2zM220.47 68.97h2v3.87h-2zM224.48 68.97h2v3.87h-2zM180.37 72.84h2v3.87h-2zM194.41 72.84h4.01v3.87h-4.01zM202.43 72.84h2v3.87h-2zM214.46 72.84h2v3.87h-2zM170.35 76.71h4.01v3.87h-4.01zM180.37 76.71h2v3.87h-2zM208.44 76.71h4.01v3.87h-4.01zM222.48 76.71h2v3.87h-2zM238.51 76.71h2v3.87h-2zM170.35 80.58h2v3.87h-2zM174.36 80.58h2v3.87h-2zM180.37 80.58h2v3.87h-2zM204.43 80.58h2v3.87h-2zM208.44 80.58h2v3.87h-2zM230.5 80.58h2v3.87h-2zM234.5 80.58h2v3.87h-2zM336.75 80.58h2v3.87h-2zM170.35 84.46h2v3.87h-2zM176.36 84.46h2v3.87h-2zM196.41 84.46h2v3.87h-2zM202.43 84.46h2v3.87h-2zM214.46 84.46h2v3.87h-2zM242.52 84.46h2v3.87h-2zM182.38 88.33h6.01v3.87h-6.01zM216.46 88.33h2v3.87h-2zM228.49 88.33h2v3.87h-2zM172.35 92.2h2v3.87h-2zM202.43 92.2h2v3.87h-2zM210.45 92.2h2v3.87h-2zM218.47 92.2h6.01v3.87h-6.01zM172.35 96.08h2v3.87h-2zM176.36 96.08h4.01v3.87h-4.01zM182.38 96.08h2v3.87h-2zM196.41 96.08h4.01v3.87h-4.01zM202.43 96.08h2v3.87h-2zM190.4 99.95h2v3.87h-2zM238.51 99.95h2v3.87h-2zM172.35 103.82h2v3.87h-2zM176.36 103.82h2v3.87h-2zM198.42 103.82h2v3.87h-2zM206.44 103.82h4.01v3.87h-4.01zM214.46 103.82h4.01v3.87h-4.01zM220.47 103.82h6.01v3.87h-6.01zM158.32 107.69h4.01v3.87h-4.01zM186.39 107.69h2v3.87h-2zM218.47 107.69h2v3.87h-2zM172.35 111.57h2v3.87h-2zM178.37 111.57h2v3.87h-2zM216.46 111.57h2v3.87h-2zM238.51 111.57h2v3.87h-2zM192.4 115.44h4.01v3.87h-4.01zM208.44 119.31h2v3.87h-2zM212.45 119.31h2v3.87h-2zM232.5 119.31h4.01v3.87h-4.01zM248.54 119.31h2v3.87h-2zM302.67 119.31h2v3.87h-2zM184.38 123.19h2v3.87h-2zM190.4 123.19h2v3.87h-2zM194.41 123.19h2v3.87h-2zM198.42 123.19h2v3.87h-2zM226.49 123.19h2v3.87h-2zM230.5 123.19h4.01v3.87h-4.01zM238.51 123.19h2v3.87h-2zM248.54 123.19h2v3.87h-2zM266.58 123.19h2v3.87h-2zM304.67 123.19h2v3.87h-2zM178.37 127.06h2v3.87h-2zM196.41 127.06h2v3.87h-2zM202.43 127.06h2v3.87h-2zM208.44 127.06h2v3.87h-2zM234.5 127.06h2v3.87h-2zM254.55 127.06h2v3.87h-2zM272.6 127.06h2v3.87h-2zM316.7 127.06h2v3.87h-2zM168.35 130.93h2v3.87h-2zM184.38 134.81h2v3.87h-2zM200.42 134.81h2v3.87h-2zM182.38 138.68h2v3.87h-2zM206.44 138.68h2v3.87h-2zM210.45 138.68h2v3.87h-2zM216.46 138.68h2v3.87h-2zM178.37 142.55h2v3.87h-2zM182.38 142.55h2v3.87h-2zM208.44 142.55h4.01v3.87h-4.01zM214.46 142.55h2v3.87h-2zM224.48 142.55h2v3.87h-2zM230.5 142.55h2v3.87h-2zM234.5 142.55h2v3.87h-2zM276.61 142.55h2v3.87h-2zM284.63 142.55h2v3.87h-2zM172.35 146.42h2v3.87h-2zM180.37 146.42h2v3.87h-2zM212.45 146.42h4.01v3.87h-4.01zM222.48 146.42h2v3.87h-2zM230.5 146.42h2v3.87h-2zM184.38 150.3h2v3.87h-2zM214.46 150.3h2v3.87h-2zM278.61 150.3h2v3.87h-2zM132.26 154.17h4.01v3.87h-4.01zM170.35 154.17h2v3.87h-2zM194.41 154.17h6.01v3.87h-6.01zM212.45 154.17h2v3.87h-2zM216.46 154.17h4.01v3.87h-4.01zM168.35 158.04h2v3.87h-2zM220.47 158.04h2v3.87h-2zM270.59 158.04h2v3.87h-2zM184.38 161.92h2v3.87h-2zM206.44 161.92h2v3.87h-2zM262.57 161.92h2v3.87h-2zM128.25 165.79h2v3.87h-2zM172.35 165.79h4.01v3.87h-4.01zM182.38 165.79h2v3.87h-2zM188.39 165.79h2v3.87h-2zM198.42 165.79h2v3.87h-2zM220.47 165.79h2v3.87h-2zM234.5 165.79h2v3.87h-2zM278.61 165.79h2v3.87h-2zM170.35 169.66h2v3.87h-2zM200.42 169.66h2v3.87h-2zM206.44 169.66h2v3.87h-2zM230.5 169.66h4.01v3.87h-4.01zM242.52 169.66h2v3.87h-2zM248.54 169.66h2v3.87h-2zM334.75 169.66h2v3.87h-2zM178.37 173.53h2v3.87h-2zM194.41 173.53h2v3.87h-2zM214.46 173.53h4.01v3.87h-4.01zM234.5 173.53h2v3.87h-2zM238.51 173.53h2v3.87h-2zM172.35 177.41h2v3.87h-2zM178.37 177.41h2v3.87h-2zM184.38 177.41h2v3.87h-2zM200.42 177.41h2v3.87h-2zM206.44 177.41h2v3.87h-2zM210.45 177.41h4.01v3.87h-4.01zM220.47 177.41h2v3.87h-2zM132.26 181.28h2v3.87h-2zM174.36 181.28h2v3.87h-2zM216.46 181.28h2v3.87h-2zM220.47 181.28h2v3.87h-2zM128.25 185.15h2v3.87h-2zM172.35 185.15h4.01v3.87h-4.01zM202.43 185.15h2v3.87h-2zM266.58 185.15h2v3.87h-2zM128.25 189.03h2v3.87h-2zM202.43 189.03h2v3.87h-2zM280.62 189.03h2v3.87h-2zM286.63 189.03h2v3.87h-2zM302.67 189.03h2v3.87h-2zM192.4 192.9h2v3.87h-2zM218.47 192.9h2v3.87h-2zM248.54 192.9h2v3.87h-2zM274.6 192.9h2v3.87h-2zM278.61 192.9h2v3.87h-2zM282.62 192.9h2v3.87h-2zM174.36 196.77h2v3.87h-2zM184.38 196.77h2v3.87h-2zM190.4 196.77h2v3.87h-2zM248.54 196.77h2v3.87h-2zM276.61 196.77h2v3.87h-2zM140.28 200.64h2v3.87h-2zM180.37 200.64h2v3.87h-2zM184.38 200.64h2v3.87h-2zM218.47 200.64h2v3.87h-2zM270.59 200.64h2v3.87h-2zM168.35 204.52h2v3.87h-2zM176.36 204.52h2v3.87h-2zM182.38 204.52h2v3.87h-2zM192.4 204.52h8.02v3.87h-8.02zM202.43 204.52h2v3.87h-2zM226.49 204.52h2v3.87h-2zM246.53 204.52h4.01v3.87h-4.01zM254.55 204.52h2v3.87h-2zM134.26 208.39h2v3.87h-2zM176.36 208.39h2v3.87h-2zM196.41 208.39h4.01v3.87h-4.01zM214.46 208.39h2v3.87h-2zM220.47 208.39h2v3.87h-2zM238.51 208.39h2v3.87h-2zM262.57 208.39h2v3.87h-2zM276.61 208.39h2v3.87h-2zM284.63 208.39h2v3.87h-2zM306.68 208.39h2v3.87h-2zM190.4 212.26h2v3.87h-2zM202.43 212.26h2v3.87h-2zM232.5 212.26h4.01v3.87h-4.01zM244.53 212.26h2v3.87h-2zM248.54 212.26h2v3.87h-2zM254.55 212.26h2v3.87h-2zM290.64 212.26h2v3.87h-2zM302.67 212.26h2v3.87h-2zM176.36 216.14h2v3.87h-2zM184.38 216.14h4.01v3.87h-4.01zM198.42 216.14h2v3.87h-2zM232.5 216.14h2v3.87h-2zM272.6 216.14h2v3.87h-2zM142.28 220.01h2v3.87h-2zM186.39 220.01h2v3.87h-2zM202.43 220.01h2v3.87h-2zM208.44 220.01h2v3.87h-2zM214.46 220.01h2v3.87h-2zM262.57 223.88h2v3.87h-2zM192.4 227.75h2v3.87h-2zM212.45 227.75h2v3.87h-2zM220.47 227.75h2v3.87h-2zM272.6 227.75h2v3.87h-2zM304.67 227.75h2v3.87h-2zM202.43 231.63h2v3.87h-2zM218.47 231.63h2v3.87h-2zM226.49 231.63h4.01v3.87h-4.01zM246.53 231.63h2v3.87h-2zM252.55 231.63h2v3.87h-2zM262.57 231.63h4.01v3.87h-4.01zM280.62 231.63h2v3.87h-2zM284.63 231.63h2v3.87h-2zM290.64 231.63h2v3.87h-2zM296.65 231.63h4.01v3.87h-4.01zM306.68 231.63h4.01v3.87h-4.01zM320.71 231.63h2v3.87h-2zM332.74 231.63h2v3.87h-2z"/>
<path fill="#140a0a" d="M170.35 7h2v3.87h-2zM222.48 7h4.01v3.87h-4.01zM228.49 7h2v3.87h-2zM206.44 10.87h2v3.87h-2zM212.45 10.87h2v3.87h-2zM226.49 10.87h2v3.87h-2zM232.5 10.87h2v3.87h-2zM248.54 10.87h2v3.87h-2zM178.37 14.75h2v3.87h-2zM214.46 14.75h2v3.87h-2zM224.48 14.75h4.01v3.87h-4.01zM238.51 14.75h2v3.87h-2zM244.53 14.75h2v3.87h-2zM248.54 14.75h2v3.87h-2zM178.37 18.62h2v3.87h-2zM198.42 18.62h2v3.87h-2zM222.48 18.62h2v3.87h-2zM240.52 18.62h2v3.87h-2zM248.54 18.62h2v3.87h-2zM282.62 18.62h2v3.87h-2zM286.63 18.62h2v3.87h-2zM306.68 18.62h2v3.87h-2zM312.69 18.62h2v3.87h-2zM338.76 18.62h2v3.87h-2zM346.78 18.62h2v3.87h-2zM192.4 22.49h2v3.87h-2zM202.43 22.49h2v3.87h-2zM214.46 22.49h2v3.87h-2zM218.47 22.49h2v3.87h-2zM222.48 22.49h2v3.87h-2zM238.51 22.49h2v3.87h-2zM278.61 22.49h2v3.87h-2zM288.64 22.49h2v3.87h-2zM296.65 22.49h2v3.87h-2zM312.69 22.49h2v3.87h-2zM320.71 22.49h2v3.87h-2zM206.44 26.36h2v3.87h-2zM210.45 26.36h2v3.87h-2zM218.47 26.36h2v3.87h-2zM222.48 26.36h2v3.87h-2zM228.49 26.36h2v3.87h-2zM244.53 26.36h2v3.87h-2zM248.54 26.36h2v3.87h-2zM184.38 30.24h2v3.87h-2zM190.4 30.24h2v3.87h-2zM196.41 30.24h2v3.87h-2zM210.45 30.24h4.01v3.87h-4.01zM218.47 30.24h6.01v3.87h-6.01zM274.6 30.24h4.01v3.87h-4.01zM288.64 30.24h2v3.87h-2zM230.5 34.11h2v3.87h-2zM234.5 34.11h6.01v3.87h-6.01zM244.53 34.11h2v3.87h-2zM250.54 34.11h2v3.87h-2zM272.6 34.11h2v3.87h-2zM208.44 37.98h2v3.87h-2zM212.45 37.98h2v3.87h-2zM216.46 37.98h2v3.87h-2zM222.48 37.98h2v3.87h-2zM230.5 37.98h2v3.87h-2zM244.53 37.98h2v3.87h-2zM170.35 41.86h2v3.87h-2zM216.46 41.86h2v3.87h-2zM230.5 41.86h2v3.87h-2zM240.52 41.86h2v3.87h-2zM248.54 41.86h2v3.87h-2zM266.58 41.86h2v3.87h-2zM286.63 41.86h2v3.87h-2zM170.35 45.73h2v3.87h-2zM202.43 45.73h4.01v3.87h-4.01zM210.45 45.73h2v3.87h-2zM220.47 45.73h2v3.87h-2zM230.5 45.73h2v3.87h-2zM234.5 45.73h2v3.87h-2zM266.58 45.73h2v3.87h-2zM172.35 49.6h4.01v3.87h-4.01zM222.48 49.6h2v3.87h-2zM228.49 49.6h2v3.87h-2zM232.5 49.6h2v3.87h-2zM264.58 49.6h4.01v3.87h-4.01zM230.5 53.47h4.01v3.87h-4.01zM238.51 53.47h2v3.87h-2zM210.45 57.35h2v3.87h-2zM222.48 57.35h2v3.87h-2zM234.5 57.35h2v3.87h-2zM252.55 57.35h2v3.87h-2zM262.57 57.35h2v3.87h-2zM276.61 57.35h2v3.87h-2zM280.62 57.35h2v3.87h-2zM208.44 61.22h2v3.87h-2zM224.48 61.22h2v3.87h-2zM248.54 61.22h2v3.87h-2zM266.58 61.22h2v3.87h-2zM298.66 61.22h2v3.87h-2zM194.41 65.09h2v3.87h-2zM202.43 65.09h2v3.87h-2zM228.49 65.09h2v3.87h-2zM242.52 65.09h2v3.87h-2zM246.53 65.09h2v3.87h-2zM172.35 68.97h2v3.87h-2zM212.45 68.97h2v3.87h-2zM232.5 68.97h6.01v3.87h-6.01zM244.53 68.97h4.01v3.87h-4.01zM252.55 68.97h2v3.87h-2zM290.64 68.97h2v3.87h-2zM174.36 72.84h2v3.87h-2zM198.42 72.84h4.01v3.87h-4.01zM210.45 72.84h2v3.87h-2zM216.46 72.84h2v3.87h-2zM178.37 76.71h2v3.87h-2zM198.42 76.71h2v3.87h-2zM202.43 76.71h2v3.87h-2zM212.45 76.71h2v3.87h-2zM226.49 76.71h4.01v3.87h-4.01zM240.52 76.71h2v3.87h-2zM210.45 80.58h2v3.87h-2zM224.48 80.58h2v3.87h-2zM246.53 80.58h4.01v3.87h-4.01zM266.58 80.58h2v3.87h-2zM190.4 84.46h2v3.87h-2zM204.43 84.46h2v3.87h-2zM208.44 84.46h2v3.87h-2zM226.49 84.46h2v3.87h-2zM230.5 84.46h2v3.87h-2zM172.35 88.33h4.01v3.87h-4.01zM200.42 88.33h2v3.87h-2zM218.47 88.33h2v3.87h-2zM234.5 88.33h2v3.87h-2zM238.51 88.33h2v3.87h-2zM290.64 88.33h2v3.87h-2zM208.44 92.2h2v3.87h-2zM212.45 92.2h2v3.87h-2zM210.45 96.08h2v3.87h-2zM214.46 96.08h6.01v3.87h-6.01zM222.48 96.08h2v3.87h-2zM230.5 96.08h2v3.87h-2zM242.52 96.08h2v3.87h-2zM170.35 99.95h2v3.87h-2zM196.41 99.95h2v3.87h-2zM214.46 99.95h2v3.87h-2zM230.5 99.95h4.01v3.87h-4.01zM252.55 99.95h2v3.87h-2zM266.58 99.95h2v3.87h-2zM212.45 103.82h2v3.87h-2zM230.5 103.82h2v3.87h-2zM240.52 103.82h2v3.87h-2zM246.53 103.82h2v3.87h-2zM252.55 103.82h2v3.87h-2zM170.35 107.69h2v3.87h-2zM198.42 107.69h4.01v3.87h-4.01zM216.46 107.69h2v3.87h-2zM324.72 107.69h2v3.87h-2zM174.36 111.57h4.01v3.87h-4.01zM214.46 111.57h2v3.87h-2zM232.5 111.57h2v3.87h-2zM172.35 115.44h2v3.87h-2zM212.45 115.44h2v3.87h-2zM220.47 115.44h4.01v3.87h-4.01zM240.52 115.44h2v3.87h-2zM170.35 119.31h4.01v3.87h-4.01zM176.36 119.31h2v3.87h-2zM184.38 119.31h2v3.87h-2zM192.4 119.31h2v3.87h-2zM238.51 119.31h2v3.87h-2zM242.52 119.31h2v3.87h-2zM252.55 119.31h2v3.87h-2zM304.67 119.31h2v3.87h-2zM332.74 119.31h2v3.87h-2zM172.35 123.19h2v3.87h-2zM196.41 123.19h2v3.87h-2zM218.47 123.19h2v3.87h-2zM240.52 123.19h2v3.87h-2zM254.55 123.19h2v3.87h-2zM272.6 123.19h2v3.87h-2zM180.37 127.06h2v3.87h-2zM192.4 127.06h2v3.87h-2zM204.43 127.06h2v3.87h-2zM228.49 127.06h2v3.87h-2zM232.5 127.06h2v3.87h-2zM244.53 127.06h4.01v3.87h-4.01zM252.55 127.06h2v3.87h-2zM266.58 127.06h2v3.87h-2zM288.64 127.06h2v3.87h-2zM192.4 130.93h2v3.87h-2zM216.46 130.93h2v3.87h-2zM238.51 130.93h2v3.87h-2zM280.62 130.93h2v3.87h-2zM172.35 134.81h6.01v3.87h-6.01zM180.37 134.81h4.01v3.87h-4.01zM216.46 134.81h2v3.87h-2zM220.47 134.81h2v3.87h-2zM224.48 134.81h4.01v3.87h-4.01zM234.5 134.81h2v3.87h-2zM248.54 134.81h2v3.87h-2zM180.37 138.68h2v3.87h-2zM212.45 138.68h2v3.87h-2zM230.5 138.68h4.01v3.87h-4.01zM242.52 138.68h2v3.87h-2zM254.55 138.68h2v3.87h-2zM292.65 138.68h2v3.87h-2zM170.35 142.55h2v3.87h-2zM190.4 142.55h2v3.87h-2zM200.42 142.55h2v3.87h-2zM240.52 142.55h4.01v3.87h-4.01zM246.53 142.55h4.01v3.87h-4.01zM254.55 142.55h2v3.87h-2zM292.65 142.55h4.01v3.87h-4.01zM304.67 142.55h2v3.87h-2zM320.71 142.55h2v3.87h-2zM352.79 142.55h2v3.87h-2zM178.37 146.42h2v3.87h-2zM184.38 146.42h2v3.87h-2zM190.4 146.42h2v3.87h-2zM202.43 146.42h2v3.87h-2zM208.44 146.42h2v3.87h-2zM246.53 146.42h6.01v3.87h-6.01zM132.26 150.3h2v3.87h-2zM196.41 150.3h2v3.87h-2zM200.42 150.3h2v3.87h-2zM208.44 150.3h2v3.87h-2zM230.5 150.3h2v3.87h-2zM242.52 150.3h2v3.87h-2zM248.54 150.3h2v3.87h-2zM262.57 150.3h2v3.87h-2zM272.6 150.3h2v3.87h-2zM282.62 150.3h2v3.87h-2zM332.74 150.3h2v3.87h-2zM214.46 154.17h2v3.87h-2zM224.48 154.17h4.01v3.87h-4.01zM234.5 154.17h2v3.87h-2zM252.55 154.17h2v3.87h-2zM170.35 158.04h2v3.87h-2zM180.37 158.04h2v3.87h-2zM196.41 158.04h2v3.87h-2zM218.47 158.04h2v3.87h-2zM228.49 158.04h2v3.87h-2zM238.51 158.04h2v3.87h-2zM266.58 158.04h2v3.87h-2zM278.61 158.04h2v3.87h-2zM300.66 158.04h2v3.87h-2zM306.68 158.04h2v3.87h-2zM176.36 161.92h2v3.87h-2zM186.39 161.92h2v3.87h-2zM196.41 161.92h6.01v3.87h-6.01zM218.47 161.92h2v3.87h-2zM224.48 161.92h2v3.87h-2zM230.5 161.92h4.01v3.87h-4.01zM238.51 161.92h4.01v3.87h-4.01zM248.54 161.92h2v3.87h-2zM304.67 161.92h2v3.87h-2zM310.69 161.92h2v3.87h-2zM192.4 165.79h2v3.87h-2zM214.46 165.79h2v3.87h-2zM226.49 165.79h2v3.87h-2zM240.52 165.79h2v3.87h-2zM268.59 165.79h4.01v3.87h-4.01zM296.65 165.79h2v3.87h-2zM174.36 169.66h2v3.87h-2zM178.37 169.66h2v3.87h-2zM184.38 169.66h2v3.87h-2zM194.41 169.66h2v3.87h-2zM210.45 169.66h2v3.87h-2zM246.53 169.66h2v3.87h-2zM280.62 169.66h2v3.87h-2zM284.63 169.66h2v3.87h-2zM170.35 173.53h2v3.87h-2zM196.41 173.53h2v3.87h-2zM200.42 173.53h4.01v3.87h-4.01zM218.47 173.53h2v3.87h-2zM224.48 173.53h4.01v3.87h-4.01zM232.5 173.53h2v3.87h-2zM242.52 173.53h2v3.87h-2zM246.53 173.53h6.01v3.87h-6.01zM272.6 173.53h2v3.87h-2zM282.62 173.53h4.01v3.87h-4.01zM292.65 173.53h2v3.87h-2zM302.67 173.53h2v3.87h-2zM196.41 177.41h2v3.87h-2zM202.43 177.41h2v3.87h-2zM208.44 177.41h2v3.87h-2zM214.46 177.41h2v3.87h-2zM230.5 177.41h2v3.87h-2zM246.53 177.41h4.01v3.87h-4.01zM134.26 181.28h2v3.87h-2zM196.41 181.28h4.01v3.87h-4.01zM202.43 181.28h2v3.87h-2zM244.53 181.28h2v3.87h-2zM132.26 185.15h2v3.87h-2zM160.33 185.15h2v3.87h-2zM222.48 185.15h4.01v3.87h-4.01zM284.63 185.15h4.01v3.87h-4.01zM176.36 189.03h2v3.87h-2zM180.37 189.03h2v3.87h-2zM212.45 189.03h2v3.87h-2zM218.47 189.03h2v3.87h-2zM238.51 189.03h2v3.87h-2zM244.53 189.03h2v3.87h-2zM250.54 189.03h4.01v3.87h-4.01zM284.63 189.03h2v3.87h-2zM296.65 189.03h2v3.87h-2zM190.4 192.9h2v3.87h-2zM200.42 192.9h4.01v3.87h-4.01zM212.45 192.9h2v3.87h-2zM222.48 192.9h6.01v3.87h-6.01zM230.5 192.9h4.01v3.87h-4.01zM236.51 192.9h2v3.87h-2zM242.52 192.9h2v3.87h-2zM246.53 192.9h2v3.87h-2zM250.54 192.9h2v3.87h-2zM268.59 192.9h2v3.87h-2zM296.65 192.9h2v3.87h-2zM330.74 192.9h2v3.87h-2zM338.76 192.9h2v3.87h-2zM140.28 196.77h2v3.87h-2zM170.35 196.77h2v3.87h-2zM176.36 196.77h2v3.87h-2zM196.41 196.77h2v3.87h-2zM206.44 196.77h2v3.87h-2zM222.48 196.77h2v3.87h-2zM234.5 196.77h2v3.87h-2zM238.51 196.77h2v3.87h-2zM244.53 196.77h2v3.87h-2zM296.65 196.77h2v3.87h-2zM118.22 200.64h2v3.87h-2zM138.27 200.64h2v3.87h-2zM174.36 200.64h4.01v3.87h-4.01zM182.38 200.64h2v3.87h-2zM188.39 200.64h2v3.87h-2zM212.45 200.64h2v3.87h-2zM220.47 200.64h2v3.87h-2zM232.5 200.64h4.01v3.87h-4.01zM266.58 200.64h2v3.87h-2zM172.35 204.52h2v3.87h-2zM212.45 204.52h2v3.87h-2zM220.47 204.52h2v3.87h-2zM236.51 204.52h2v3.87h-2zM252.55 204.52h2v3.87h-2zM286.63 204.52h2v3.87h-2zM184.38 208.39h2v3.87h-2zM202.43 208.39h2v3.87h-2zM216.46 208.39h2v3.87h-2zM224.48 208.39h2v3.87h-2zM230.5 208.39h6.01v3.87h-6.01zM246.53 208.39h2v3.87h-2zM250.54 208.39h2v3.87h-2zM266.58 208.39h2v3.87h-2zM274.6 208.39h2v3.87h-2zM280.62 208.39h2v3.87h-2zM286.63 208.39h2v3.87h-2zM290.64 208.39h4.01v3.87h-4.01zM320.71 208.39h2v3.87h-2zM346.78 208.39h2v3.87h-2zM174.36 212.26h2v3.87h-2zM212.45 212.26h2v3.87h-2zM226.49 212.26h2v3.87h-2zM236.51 212.26h2v3.87h-2zM242.52 212.26h2v3.87h-2zM250.54 212.26h4.01v3.87h-4.01zM274.6 212.26h2v3.87h-2zM280.62 212.26h2v3.87h-2zM294.65 212.26h2v3.87h-2zM318.71 212.26h2v3.87h-2zM346.78 212.26h2v3.87h-2zM170.35 216.14h2v3.87h-2zM192.4 216.14h2v3.87h-2zM210.45 216.14h2v3.87h-2zM218.47 216.14h4.01v3.87h-4.01zM228.49 216.14h4.01v3.87h-4.01zM234.5 216.14h2v3.87h-2zM238.51 216.14h4.01v3.87h-4.01zM296.65 216.14h2v3.87h-2zM168.35 220.01h2v3.87h-2zM174.36 220.01h2v3.87h-2zM192.4 220.01h2v3.87h-2zM200.42 220.01h2v3.87h-2zM206.44 220.01h2v3.87h-2zM210.45 220.01h2v3.87h-2zM216.46 220.01h2v3.87h-2zM220.47 220.01h4.01v3.87h-4.01zM228.49 220.01h2v3.87h-2zM234.5 220.01h2v3.87h-2zM172.35 223.88h2v3.87h-2zM202.43 223.88h2v3.87h-2zM292.65 223.88h2v3.87h-2zM300.66 223.88h2v3.87h-2zM208.44 227.75h2v3.87h-2zM218.47 227.75h2v3.87h-2zM222.48 227.75h2v3.87h-2zM228.49 227.75h8.02v3.87h-8.02zM240.52 227.75h2v3.87h-2zM244.53 227.75h4.01v3.87h-4.01zM254.55 227.75h2v3.87h-2zM278.61 227.75h2v3.87h-2zM322.72 227.75h2v3.87h-2zM332.74 227.75h2v3.87h-2zM206.44 231.63h2v3.87h-2zM222.48 231.63h2v3.87h-2zM250.54 231.63h2v3.87h-2zM254.55 231.63h2v3.87h-2zM276.61 231.63h2v3.87h-2zM312.69 231.63h2v3.87h-2zM322.72 231.63h2v3.87h-2zM336.75 231.63h2v3.87h-2z"/>
<path fill="#3c0a0a" d="M174.36 7h2v3.87h-2zM180.37 7h2v3.87h-2zM198.42 7h2v3.87h-2zM266.58 7h2v3.87h-2zM288.64 7h2v3.87h-2zM298.66 7h2v3.87h-2zM170.35 10.87h2v3.87h-2zM174.36 10.87h2v3.87h-2zM180.37 10.87h2v3.87h-2zM284.63 10.87h2v3.87h-2zM168.35 14.75h2v3.87h-2zM184.38 14.75h2v3.87h-2zM202.43 14.75h2v3.87h-2zM218.47 14.75h6.01v3.87h-6.01zM270.59 14.75h2v3.87h-2zM168.35 18.62h2v3.87h-2zM172.35 18.62h2v3.87h-2zM200.42 18.62h2v3.87h-2zM206.44 18.62h2v3.87h-2zM266.58 18.62h2v3.87h-2zM270.59 18.62h4.01v3.87h-4.01zM170.35 22.49h2v3.87h-2zM180.37 22.49h2v3.87h-2zM188.39 22.49h2v3.87h-2zM194.41 22.49h2v3.87h-2zM206.44 22.49h2v3.87h-2zM216.46 22.49h2v3.87h-2zM274.6 22.49h2v3.87h-2zM306.68 22.49h2v3.87h-2zM194.41 26.36h2v3.87h-2zM202.43 26.36h2v3.87h-2zM208.44 26.36h2v3.87h-2zM216.46 26.36h2v3.87h-2zM152.31 30.24h2v3.87h-2zM162.33 30.24h2v3.87h-2zM192.4 30.24h2v3.87h-2zM202.43 30.24h2v3.87h-2zM266.58 30.24h2v3.87h-2zM180.37 34.11h2v3.87h-2zM196.41 34.11h4.01v3.87h-4.01zM206.44 34.11h2v3.87h-2zM278.61 34.11h2v3.87h-2zM168.35 37.98h2v3.87h-2zM180.37 37.98h2v3.87h-2zM184.38 37.98h2v3.87h-2zM190.4 37.98h2v3.87h-2zM194.41 37.98h2v3.87h-2zM168.35 41.86h2v3.87h-2zM186.39 41.86h2v3.87h-2zM192.4 41.86h2v3.87h-2zM218.47 41.86h2v3.87h-2zM176.36 45.73h2v3.87h-2zM180.37 45.73h2v3.87h-2zM186.39 45.73h2v3.87h-2zM192.4 45.73h2v3.87h-2zM198.42 45.73h2v3.87h-2zM170.35 49.6h2v3.87h-2zM176.36 49.6h4.01v3.87h-4.01zM198.42 49.6h2v3.87h-2zM204.43 49.6h2v3.87h-2zM210.45 49.6h2v3.87h-2zM214.46 49.6h4.01v3.87h-4.01zM238.51 49.6h2v3.87h-2zM170.35 53.47h2v3.87h-2zM176.36 53.47h2v3.87h-2zM182.38 53.47h2v3.87h-2zM198.42 53.47h4.01v3.87h-4.01zM216.46 53.47h2v3.87h-2zM224.48 53.47h2v3.87h-2zM174.36 57.35h4.01v3.87h-4.01zM184.38 57.35h2v3.87h-2zM190.4 57.35h2v3.87h-2zM200.42 57.35h2v3.87h-2zM192.4 61.22h2v3.87h-2zM210.45 61.22h2v3.87h-2zM234.5 61.22h2v3.87h-2zM178.37 65.09h2v3.87h-2zM200.42 65.09h2v3.87h-2zM206.44 65.09h2v3.87h-2zM210.45 65.09h2v3.87h-2zM170.35 68.97h2v3.87h-2zM180.37 68.97h2v3.87h-2zM196.41 68.97h2v3.87h-2zM206.44 68.97h2v3.87h-2zM214.46 68.97h2v3.87h-2zM226.49 68.97h2v3.87h-2zM238.51 68.97h2v3.87h-2zM152.31 72.84h2v3.87h-2zM168.35 72.84h2v3.87h-2zM184.38 76.71h2v3.87h-2zM192.4 76.71h4.01v3.87h-4.01zM204.43 76.71h2v3.87h-2zM156.32 80.58h2v3.87h-2zM202.43 80.58h2v3.87h-2zM178.37 84.46h2v3.87h-2zM182.38 84.46h2v3.87h-2zM200.42 84.46h2v3.87h-2zM140.28 88.33h2v3.87h-2zM158.32 88.33h2v3.87h-2zM214.46 88.33h2v3.87h-2zM168.35 92.2h4.01v3.87h-4.01zM174.36 92.2h2v3.87h-2zM182.38 92.2h2v3.87h-2zM188.39 92.2h2v3.87h-2zM150.3 96.08h2v3.87h-2zM154.31 96.08h2v3.87h-2zM186.39 96.08h2v3.87h-2zM152.31 99.95h2v3.87h-2zM168.35 99.95h2v3.87h-2zM174.36 99.95h2v3.87h-2zM218.47 99.95h2v3.87h-2zM174.36 103.82h2v3.87h-2zM182.38 103.82h2v3.87h-2zM210.45 103.82h2v3.87h-2zM218.47 103.82h2v3.87h-2zM234.5 103.82h2v3.87h-2zM132.26 107.69h2v3.87h-2zM166.34 107.69h2v3.87h-2zM184.38 107.69h2v3.87h-2zM168.35 111.57h4.01v3.87h-4.01zM184.38 111.57h2v3.87h-2zM196.41 111.57h2v3.87h-2zM166.34 115.44h4.01v3.87h-4.01zM182.38 115.44h2v3.87h-2zM186.39 115.44h4.01v3.87h-4.01zM154.31 119.31h2v3.87h-2zM168.35 119.31h2v3.87h-2zM188.39 119.31h2v3.87h-2zM196.41 119.31h2v3.87h-2zM202.43 119.31h2v3.87h-2zM220.47 119.31h4.01v3.87h-4.01zM178.37 123.19h2v3.87h-2zM182.38 123.19h2v3.87h-2zM200.42 123.19h2v3.87h-2zM206.44 123.19h2v3.87h-2zM210.45 123.19h2v3.87h-2zM206.44 127.06h2v3.87h-2zM216.46 127.06h2v3.87h-2zM222.48 127.06h2v3.87h-2zM230.5 127.06h2v3.87h-2zM148.3 130.93h2v3.87h-2zM186.39 130.93h2v3.87h-2zM186.39 134.81h2v3.87h-2zM190.4 134.81h2v3.87h-2zM174.36 138.68h2v3.87h-2zM196.41 138.68h2v3.87h-2zM174.36 142.55h4.01v3.87h-4.01zM188.39 142.55h2v3.87h-2zM196.41 142.55h4.01v3.87h-4.01zM238.51 142.55h2v3.87h-2zM176.36 146.42h2v3.87h-2zM182.38 146.42h2v3.87h-2zM196.41 146.42h2v3.87h-2zM216.46 146.42h2v3.87h-2zM138.27 150.3h2v3.87h-2zM152.31 150.3h2v3.87h-2zM182.38 150.3h2v3.87h-2zM188.39 150.3h2v3.87h-2zM172.35 154.17h2v3.87h-2zM134.26 158.04h2v3.87h-2zM182.38 158.04h4.01v3.87h-4.01zM202.43 158.04h2v3.87h-2zM288.64 158.04h2v3.87h-2zM296.65 158.04h2v3.87h-2zM216.46 161.92h2v3.87h-2zM276.61 161.92h2v3.87h-2zM138.27 165.79h2v3.87h-2zM142.28 165.79h2v3.87h-2zM160.33 165.79h2v3.87h-2zM196.41 165.79h2v3.87h-2zM290.64 165.79h2v3.87h-2zM118.22 169.66h2v3.87h-2zM138.27 169.66h2v3.87h-2zM154.31 169.66h2v3.87h-2zM158.32 169.66h2v3.87h-2zM234.5 169.66h2v3.87h-2zM134.26 173.53h2v3.87h-2zM198.42 173.53h2v3.87h-2zM186.39 177.41h2v3.87h-2zM130.25 181.28h2v3.87h-2zM182.38 181.28h2v3.87h-2zM206.44 181.28h2v3.87h-2zM124.24 185.15h2v3.87h-2zM130.25 185.15h2v3.87h-2zM162.33 185.15h2v3.87h-2zM166.34 185.15h2v3.87h-2zM188.39 185.15h2v3.87h-2zM272.6 185.15h2v3.87h-2zM126.24 189.03h2v3.87h-2zM188.39 189.03h2v3.87h-2zM288.64 189.03h2v3.87h-2zM138.27 192.9h2v3.87h-2zM174.36 192.9h2v3.87h-2zM184.38 192.9h2v3.87h-2zM208.44 192.9h2v3.87h-2zM284.63 192.9h2v3.87h-2zM118.22 196.77h2v3.87h-2zM132.26 196.77h2v3.87h-2zM182.38 196.77h2v3.87h-2zM188.39 196.77h2v3.87h-2zM220.47 196.77h2v3.87h-2zM116.22 200.64h2v3.87h-2zM156.32 200.64h2v3.87h-2zM164.34 200.64h6.01v3.87h-6.01zM136.27 204.52h2v3.87h-2zM190.4 204.52h2v3.87h-2zM208.44 204.52h4.01v3.87h-4.01zM232.5 204.52h4.01v3.87h-4.01zM166.34 208.39h2v3.87h-2zM170.35 208.39h4.01v3.87h-4.01zM182.38 208.39h2v3.87h-2zM282.62 208.39h2v3.87h-2zM302.67 208.39h2v3.87h-2zM132.26 212.26h2v3.87h-2zM170.35 212.26h2v3.87h-2zM176.36 212.26h4.01v3.87h-4.01zM208.44 212.26h2v3.87h-2zM224.48 212.26h2v3.87h-2zM228.49 212.26h2v3.87h-2zM278.61 212.26h2v3.87h-2zM288.64 212.26h2v3.87h-2zM292.65 212.26h2v3.87h-2zM168.35 216.14h2v3.87h-2zM172.35 216.14h4.01v3.87h-4.01zM138.27 220.01h2v3.87h-2zM154.31 220.01h2v3.87h-2zM182.38 220.01h2v3.87h-2zM118.22 223.88h2v3.87h-2zM122.23 223.88h2v3.87h-2zM132.26 223.88h2v3.87h-2zM138.27 223.88h6.01v3.87h-6.01zM158.32 223.88h2v3.87h-2zM186.39 223.88h4.01v3.87h-4.01zM118.22 227.75h2v3.87h-2zM190.4 227.75h2v3.87h-2zM270.59 227.75h2v3.87h-2zM134.26 231.63h2v3.87h-2zM176.36 231.63h2v3.87h-2zM184.38 231.63h2v3.87h-2zM188.39 231.63h2v3.87h-2zM220.47 231.63h2v3.87h-2zM230.5 231.63h6.01v3.87h-6.01zM248.54 231.63h2v3.87h-2zM256.56 231.63h4.01v3.87h-4.01zM266.58 231.63h2v3.87h-2z"/>
<path fill="#320a0a" d="M176.36 7h4.01v3.87h-4.01zM190.4 7h2v3.87h-2zM202.43 7h2v3.87h-2zM274.6 7h2v3.87h-2zM282.62 7h2v3.87h-2zM290.64 7h2v3.87h-2zM296.65 7h2v3.87h-2zM158.32 10.87h2v3.87h-2zM184.38 10.87h2v3.87h-2zM190.4 10.87h4.01v3.87h-4.01zM202.43 10.87h2v3.87h-2zM210.45 10.87h2v3.87h-2zM234.5 10.87h2v3.87h-2zM238.51 10.87h2v3.87h-2zM298.66 10.87h2v3.87h-2zM170.35 14.75h2v3.87h-2zM190.4 14.75h2v3.87h-2zM234.5 14.75h2v3.87h-2zM296.65 14.75h2v3.87h-2zM196.41 18.62h2v3.87h-2zM216.46 18.62h2v3.87h-2zM168.35 22.49h2v3.87h-2zM176.36 22.49h4.01v3.87h-4.01zM208.44 22.49h2v3.87h-2zM234.5 22.49h2v3.87h-2zM280.62 22.49h2v3.87h-2zM192.4 26.36h2v3.87h-2zM200.42 26.36h2v3.87h-2zM212.45 26.36h2v3.87h-2zM182.38 30.24h2v3.87h-2zM290.64 30.24h2v3.87h-2zM170.35 34.11h4.01v3.87h-4.01zM178.37 34.11h2v3.87h-2zM192.4 34.11h2v3.87h-2zM200.42 34.11h2v3.87h-2zM216.46 34.11h4.01v3.87h-4.01zM266.58 34.11h2v3.87h-2zM196.41 37.98h2v3.87h-2zM178.37 41.86h2v3.87h-2zM194.41 41.86h2v3.87h-2zM198.42 41.86h2v3.87h-2zM220.47 41.86h2v3.87h-2zM234.5 41.86h2v3.87h-2zM238.51 41.86h2v3.87h-2zM168.35 45.73h2v3.87h-2zM196.41 45.73h2v3.87h-2zM180.37 49.6h2v3.87h-2zM184.38 49.6h2v3.87h-2zM194.41 49.6h2v3.87h-2zM206.44 49.6h2v3.87h-2zM218.47 49.6h2v3.87h-2zM226.49 49.6h2v3.87h-2zM168.35 53.47h2v3.87h-2zM190.4 53.47h2v3.87h-2zM226.49 53.47h2v3.87h-2zM234.5 53.47h2v3.87h-2zM170.35 57.35h2v3.87h-2zM178.37 57.35h2v3.87h-2zM198.42 57.35h2v3.87h-2zM224.48 57.35h2v3.87h-2zM282.62 57.35h2v3.87h-2zM176.36 61.22h2v3.87h-2zM180.37 61.22h2v3.87h-2zM194.41 61.22h2v3.87h-2zM202.43 61.22h2v3.87h-2zM214.46 61.22h2v3.87h-2zM292.65 61.22h2v3.87h-2zM174.36 65.09h2v3.87h-2zM190.4 65.09h2v3.87h-2zM214.46 65.09h2v3.87h-2zM220.47 65.09h2v3.87h-2zM264.58 65.09h2v3.87h-2zM178.37 68.97h2v3.87h-2zM200.42 68.97h2v3.87h-2zM230.5 68.97h2v3.87h-2zM250.54 68.97h2v3.87h-2zM266.58 68.97h2v3.87h-2zM182.38 72.84h2v3.87h-2zM188.39 72.84h2v3.87h-2zM190.4 76.71h2v3.87h-2zM206.44 76.71h2v3.87h-2zM232.5 76.71h2v3.87h-2zM172.35 80.58h2v3.87h-2zM188.39 80.58h2v3.87h-2zM192.4 80.58h2v3.87h-2zM198.42 80.58h4.01v3.87h-4.01zM216.46 80.58h4.01v3.87h-4.01zM238.51 80.58h2v3.87h-2zM174.36 84.46h2v3.87h-2zM184.38 84.46h2v3.87h-2zM206.44 84.46h2v3.87h-2zM210.45 84.46h2v3.87h-2zM222.48 84.46h2v3.87h-2zM178.37 88.33h2v3.87h-2zM192.4 88.33h2v3.87h-2zM202.43 88.33h2v3.87h-2zM176.36 92.2h2v3.87h-2zM190.4 92.2h4.01v3.87h-4.01zM214.46 92.2h2v3.87h-2zM184.38 96.08h2v3.87h-2zM192.4 96.08h2v3.87h-2zM160.33 99.95h2v3.87h-2zM172.35 99.95h2v3.87h-2zM192.4 99.95h2v3.87h-2zM200.42 99.95h2v3.87h-2zM206.44 99.95h2v3.87h-2zM194.41 103.82h4.01v3.87h-4.01zM232.5 103.82h2v3.87h-2zM238.51 103.82h2v3.87h-2zM154.31 107.69h2v3.87h-2zM172.35 107.69h2v3.87h-2zM182.38 107.69h2v3.87h-2zM194.41 107.69h2v3.87h-2zM182.38 111.57h2v3.87h-2zM188.39 111.57h4.01v3.87h-4.01zM234.5 111.57h2v3.87h-2zM174.36 115.44h2v3.87h-2zM184.38 115.44h2v3.87h-2zM158.32 119.31h2v3.87h-2zM182.38 119.31h2v3.87h-2zM230.5 119.31h2v3.87h-2zM176.36 123.19h2v3.87h-2zM192.4 123.19h2v3.87h-2zM214.46 123.19h2v3.87h-2zM234.5 123.19h2v3.87h-2zM170.35 127.06h4.01v3.87h-4.01zM176.36 127.06h2v3.87h-2zM194.41 127.06h2v3.87h-2zM210.45 127.06h2v3.87h-2zM214.46 127.06h2v3.87h-2zM238.51 127.06h2v3.87h-2zM158.32 130.93h2v3.87h-2zM164.34 130.93h2v3.87h-2zM184.38 130.93h2v3.87h-2zM134.26 134.81h2v3.87h-2zM198.42 138.68h2v3.87h-2zM214.46 138.68h2v3.87h-2zM234.5 138.68h2v3.87h-2zM186.39 142.55h2v3.87h-2zM202.43 142.55h2v3.87h-2zM216.46 142.55h4.01v3.87h-4.01zM206.44 146.42h2v3.87h-2zM234.5 146.42h2v3.87h-2zM158.32 150.3h2v3.87h-2zM166.34 150.3h2v3.87h-2zM270.59 150.3h2v3.87h-2zM284.63 150.3h2v3.87h-2zM298.66 150.3h2v3.87h-2zM192.4 154.17h2v3.87h-2zM210.45 154.17h2v3.87h-2zM188.39 158.04h2v3.87h-2zM194.41 158.04h2v3.87h-2zM230.5 158.04h2v3.87h-2zM280.62 158.04h2v3.87h-2zM292.65 158.04h2v3.87h-2zM158.32 161.92h2v3.87h-2zM210.45 161.92h2v3.87h-2zM214.46 161.92h2v3.87h-2zM222.48 161.92h2v3.87h-2zM266.58 161.92h2v3.87h-2zM292.65 161.92h2v3.87h-2zM314.7 161.92h2v3.87h-2zM322.72 161.92h2v3.87h-2zM122.23 165.79h4.01v3.87h-4.01zM158.32 165.79h2v3.87h-2zM200.42 165.79h2v3.87h-2zM266.58 165.79h2v3.87h-2zM284.63 165.79h2v3.87h-2zM134.26 169.66h2v3.87h-2zM182.38 169.66h2v3.87h-2zM190.4 169.66h2v3.87h-2zM272.6 169.66h2v3.87h-2zM282.62 169.66h2v3.87h-2zM118.22 173.53h2v3.87h-2zM140.28 173.53h2v3.87h-2zM168.35 173.53h2v3.87h-2zM192.4 173.53h2v3.87h-2zM276.61 173.53h2v3.87h-2zM138.27 177.41h2v3.87h-2zM234.5 181.28h2v3.87h-2zM186.39 189.03h2v3.87h-2zM274.6 189.03h2v3.87h-2zM176.36 192.9h2v3.87h-2zM188.39 192.9h2v3.87h-2zM194.41 192.9h4.01v3.87h-4.01zM228.49 192.9h2v3.87h-2zM238.51 192.9h2v3.87h-2zM264.58 192.9h2v3.87h-2zM286.63 192.9h2v3.87h-2zM172.35 196.77h2v3.87h-2zM194.41 196.77h2v3.87h-2zM200.42 196.77h2v3.87h-2zM278.61 196.77h2v3.87h-2zM120.23 200.64h2v3.87h-2zM132.26 200.64h4.01v3.87h-4.01zM142.28 200.64h2v3.87h-2zM162.33 200.64h2v3.87h-2zM186.39 200.64h2v3.87h-2zM134.26 204.52h2v3.87h-2zM138.27 204.52h2v3.87h-2zM178.37 204.52h2v3.87h-2zM184.38 204.52h2v3.87h-2zM218.47 204.52h2v3.87h-2zM228.49 204.52h2v3.87h-2zM132.26 208.39h2v3.87h-2zM174.36 208.39h2v3.87h-2zM206.44 208.39h2v3.87h-2zM304.67 208.39h2v3.87h-2zM168.35 212.26h2v3.87h-2zM194.41 212.26h6.01v3.87h-6.01zM210.45 212.26h2v3.87h-2zM218.47 212.26h2v3.87h-2zM238.51 212.26h4.01v3.87h-4.01zM256.56 212.26h2v3.87h-2zM266.58 212.26h2v3.87h-2zM196.41 216.14h2v3.87h-2zM222.48 216.14h2v3.87h-2zM120.23 220.01h2v3.87h-2zM124.24 220.01h2v3.87h-2zM162.33 220.01h2v3.87h-2zM166.34 220.01h2v3.87h-2zM176.36 220.01h2v3.87h-2zM154.31 223.88h4.01v3.87h-4.01zM168.35 223.88h2v3.87h-2zM170.35 227.75h2v3.87h-2zM174.36 227.75h6.01v3.87h-6.01zM196.41 227.75h6.01v3.87h-6.01zM282.62 227.75h4.01v3.87h-4.01zM204.43 231.63h2v3.87h-2zM210.45 231.63h2v3.87h-2zM216.46 231.63h2v3.87h-2zM274.6 231.63h2v3.87h-2zM292.65 231.63h2v3.87h-2z"/>
<path fill="#640a0a" d="M184.38 7h2v3.87h-2zM154.31 26.36h2v3.87h-2zM132.26 57.35h2v3.87h-2zM128.25 84.46h2v3.87h-2zM150.3 107.69h2v3.87h-2zM146.29 165.79h2v3.87h-2zM132.26 173.53h2v3.87h-2zM156.32 189.03h2v3.87h-2zM128.25 192.9h2v3.87h-2zM128.25 216.14h2v3.87h-2zM166.34 216.14h2v3.87h-2zM130.25 220.01h2v3.87h-2z"/>
<path fill="#1e0a0a" d="M192.4 7h2v3.87h-2zM216.46 7h2v3.87h-2zM220.47 7h2v3.87h-2zM234.5 7h2v3.87h-2zM238.51 7h2v3.87h-2zM248.54 7h2v3.87h-2zM254.55 7h2v3.87h-2zM262.57 7h4.01v3.87h-4.01zM284.63 7h2v3.87h-2zM304.67 7h2v3.87h-2zM178.37 10.87h2v3.87h-2zM220.47 10.87h2v3.87h-2zM266.58 10.87h2v3.87h-2zM282.62 10.87h2v3.87h-2zM210.45 14.75h2v3.87h-2zM230.5 14.75h4.01v3.87h-4.01zM284.63 14.75h2v3.87h-2zM170.35 18.62h2v3.87h-2zM204.43 18.62h2v3.87h-2zM276.61 18.62h2v3.87h-2zM334.75 18.62h2v3.87h-2zM174.36 22.49h2v3.87h-2zM276.61 22.49h2v3.87h-2zM282.62 22.49h2v3.87h-2zM298.66 22.49h2v3.87h-2zM170.35 26.36h2v3.87h-2zM178.37 26.36h2v3.87h-2zM196.41 26.36h2v3.87h-2zM204.43 26.36h2v3.87h-2zM238.51 26.36h2v3.87h-2zM154.31 30.24h2v3.87h-2zM178.37 30.24h2v3.87h-2zM194.41 30.24h2v3.87h-2zM270.59 30.24h2v3.87h-2zM210.45 34.11h6.01v3.87h-6.01zM222.48 34.11h2v3.87h-2zM240.52 34.11h2v3.87h-2zM248.54 34.11h2v3.87h-2zM170.35 37.98h4.01v3.87h-4.01zM178.37 37.98h2v3.87h-2zM198.42 37.98h2v3.87h-2zM210.45 37.98h2v3.87h-2zM218.47 37.98h2v3.87h-2zM172.35 41.86h2v3.87h-2zM210.45 41.86h2v3.87h-2zM232.5 41.86h2v3.87h-2zM250.54 41.86h2v3.87h-2zM270.59 41.86h2v3.87h-2zM174.36 45.73h2v3.87h-2zM214.46 45.73h2v3.87h-2zM192.4 49.6h2v3.87h-2zM212.45 49.6h2v3.87h-2zM272.6 49.6h2v3.87h-2zM344.77 49.6h2v3.87h-2zM174.36 53.47h2v3.87h-2zM180.37 53.47h2v3.87h-2zM204.43 53.47h2v3.87h-2zM210.45 53.47h2v3.87h-2zM214.46 53.47h2v3.87h-2zM220.47 53.47h2v3.87h-2zM248.54 53.47h2v3.87h-2zM172.35 57.35h2v3.87h-2zM204.43 57.35h4.01v3.87h-4.01zM214.46 57.35h2v3.87h-2zM170.35 61.22h2v3.87h-2zM174.36 61.22h2v3.87h-2zM190.4 61.22h2v3.87h-2zM200.42 61.22h2v3.87h-2zM212.45 61.22h2v3.87h-2zM228.49 61.22h4.01v3.87h-4.01zM238.51 61.22h2v3.87h-2zM280.62 61.22h2v3.87h-2zM304.67 61.22h2v3.87h-2zM170.35 65.09h2v3.87h-2zM184.38 65.09h2v3.87h-2zM208.44 65.09h2v3.87h-2zM232.5 65.09h2v3.87h-2zM238.51 65.09h2v3.87h-2zM244.53 65.09h2v3.87h-2zM204.43 68.97h2v3.87h-2zM218.47 68.97h2v3.87h-2zM272.6 68.97h2v3.87h-2zM176.36 72.84h2v3.87h-2zM208.44 72.84h2v3.87h-2zM218.47 72.84h2v3.87h-2zM200.42 76.71h2v3.87h-2zM214.46 76.71h2v3.87h-2zM218.47 76.71h2v3.87h-2zM224.48 76.71h2v3.87h-2zM230.5 76.71h2v3.87h-2zM176.36 80.58h2v3.87h-2zM190.4 80.58h2v3.87h-2zM206.44 80.58h2v3.87h-2zM228.49 80.58h2v3.87h-2zM272.6 80.58h2v3.87h-2zM194.41 84.46h2v3.87h-2zM190.4 88.33h2v3.87h-2zM196.41 88.33h2v3.87h-2zM204.43 88.33h2v3.87h-2zM208.44 88.33h6.01v3.87h-6.01zM220.47 88.33h2v3.87h-2zM224.48 92.2h2v3.87h-2zM230.5 92.2h6.01v3.87h-6.01zM238.51 92.2h2v3.87h-2zM248.54 92.2h2v3.87h-2zM170.35 96.08h2v3.87h-2zM200.42 96.08h2v3.87h-2zM176.36 99.95h6.01v3.87h-6.01zM208.44 99.95h4.01v3.87h-4.01zM220.47 99.95h4.01v3.87h-4.01zM170.35 103.82h2v3.87h-2zM178.37 103.82h4.01v3.87h-4.01zM200.42 103.82h2v3.87h-2zM226.49 103.82h2v3.87h-2zM242.52 103.82h2v3.87h-2zM168.35 107.69h2v3.87h-2zM174.36 107.69h4.01v3.87h-4.01zM188.39 107.69h2v3.87h-2zM196.41 107.69h2v3.87h-2zM202.43 107.69h2v3.87h-2zM210.45 107.69h2v3.87h-2zM214.46 107.69h2v3.87h-2zM222.48 107.69h2v3.87h-2zM180.37 111.57h2v3.87h-2zM186.39 111.57h2v3.87h-2zM194.41 111.57h2v3.87h-2zM198.42 111.57h2v3.87h-2zM230.5 111.57h2v3.87h-2zM176.36 115.44h2v3.87h-2zM198.42 115.44h2v3.87h-2zM206.44 115.44h2v3.87h-2zM180.37 119.31h2v3.87h-2zM194.41 119.31h2v3.87h-2zM206.44 119.31h2v3.87h-2zM216.46 119.31h2v3.87h-2zM224.48 119.31h4.01v3.87h-4.01zM216.46 123.19h2v3.87h-2zM220.47 123.19h2v3.87h-2zM228.49 123.19h2v3.87h-2zM244.53 123.19h2v3.87h-2zM190.4 127.06h2v3.87h-2zM200.42 127.06h2v3.87h-2zM220.47 127.06h2v3.87h-2zM236.51 127.06h2v3.87h-2zM248.54 127.06h4.01v3.87h-4.01zM282.62 127.06h2v3.87h-2zM354.8 127.06h2v3.87h-2zM190.4 130.93h2v3.87h-2zM194.41 130.93h2v3.87h-2zM218.47 134.81h2v3.87h-2zM170.35 138.68h2v3.87h-2zM202.43 138.68h2v3.87h-2zM220.47 138.68h2v3.87h-2zM228.49 138.68h2v3.87h-2zM238.51 138.68h2v3.87h-2zM248.54 138.68h2v3.87h-2zM172.35 142.55h2v3.87h-2zM194.41 142.55h2v3.87h-2zM206.44 142.55h2v3.87h-2zM226.49 142.55h4.01v3.87h-4.01zM232.5 142.55h2v3.87h-2zM268.59 142.55h2v3.87h-2zM332.74 142.55h2v3.87h-2zM174.36 146.42h2v3.87h-2zM194.41 146.42h2v3.87h-2zM238.51 146.42h2v3.87h-2zM134.26 150.3h2v3.87h-2zM168.35 150.3h2v3.87h-2zM174.36 150.3h2v3.87h-2zM186.39 150.3h2v3.87h-2zM216.46 150.3h2v3.87h-2zM220.47 150.3h2v3.87h-2zM296.65 150.3h2v3.87h-2zM300.66 150.3h2v3.87h-2zM174.36 154.17h2v3.87h-2zM178.37 154.17h2v3.87h-2zM208.44 154.17h2v3.87h-2zM220.47 154.17h4.01v3.87h-4.01zM230.5 154.17h2v3.87h-2zM238.51 154.17h2v3.87h-2zM244.53 154.17h2v3.87h-2zM174.36 158.04h6.01v3.87h-6.01zM214.46 158.04h4.01v3.87h-4.01zM248.54 158.04h2v3.87h-2zM298.66 158.04h2v3.87h-2zM178.37 161.92h2v3.87h-2zM202.43 161.92h2v3.87h-2zM244.53 161.92h4.01v3.87h-4.01zM250.54 161.92h2v3.87h-2zM274.6 161.92h2v3.87h-2zM278.61 161.92h2v3.87h-2zM296.65 161.92h2v3.87h-2zM184.38 165.79h2v3.87h-2zM238.51 165.79h2v3.87h-2zM292.65 165.79h2v3.87h-2zM172.35 169.66h2v3.87h-2zM222.48 169.66h8.02v3.87h-8.02zM238.51 169.66h2v3.87h-2zM244.53 169.66h2v3.87h-2zM250.54 169.66h4.01v3.87h-4.01zM266.58 169.66h2v3.87h-2zM180.37 173.53h2v3.87h-2zM186.39 173.53h2v3.87h-2zM190.4 173.53h2v3.87h-2zM210.45 173.53h2v3.87h-2zM220.47 173.53h2v3.87h-2zM230.5 173.53h2v3.87h-2zM280.62 173.53h2v3.87h-2zM132.26 177.41h2v3.87h-2zM184.38 181.28h4.01v3.87h-4.01zM200.42 181.28h2v3.87h-2zM210.45 181.28h2v3.87h-2zM232.5 181.28h2v3.87h-2zM238.51 181.28h2v3.87h-2zM248.54 181.28h2v3.87h-2zM134.26 185.15h2v3.87h-2zM176.36 185.15h2v3.87h-2zM180.37 185.15h2v3.87h-2zM262.57 185.15h2v3.87h-2zM168.35 189.03h2v3.87h-2zM178.37 189.03h2v3.87h-2zM182.38 189.03h4.01v3.87h-4.01zM194.41 189.03h2v3.87h-2zM216.46 189.03h2v3.87h-2zM256.56 189.03h2v3.87h-2zM346.78 189.03h2v3.87h-2zM178.37 192.9h4.01v3.87h-4.01zM186.39 192.9h2v3.87h-2zM206.44 192.9h2v3.87h-2zM210.45 192.9h2v3.87h-2zM220.47 192.9h2v3.87h-2zM234.5 192.9h2v3.87h-2zM240.52 192.9h2v3.87h-2zM244.53 192.9h2v3.87h-2zM280.62 192.9h2v3.87h-2zM300.66 192.9h2v3.87h-2zM138.27 196.77h2v3.87h-2zM168.35 196.77h2v3.87h-2zM192.4 196.77h2v3.87h-2zM216.46 196.77h4.01v3.87h-4.01zM230.5 196.77h4.01v3.87h-4.01zM196.41 200.64h2v3.87h-2zM262.57 200.64h2v3.87h-2zM170.35 204.52h2v3.87h-2zM200.42 204.52h2v3.87h-2zM214.46 204.52h2v3.87h-2zM230.5 204.52h2v3.87h-2zM238.51 204.52h8.02v3.87h-8.02zM288.64 204.52h2v3.87h-2zM180.37 208.39h2v3.87h-2zM190.4 208.39h6.01v3.87h-6.01zM226.49 208.39h2v3.87h-2zM252.55 208.39h4.01v3.87h-4.01zM278.61 208.39h2v3.87h-2zM344.77 208.39h2v3.87h-2zM184.38 212.26h4.01v3.87h-4.01zM200.42 212.26h2v3.87h-2zM206.44 212.26h2v3.87h-2zM230.5 212.26h2v3.87h-2zM246.53 212.26h2v3.87h-2zM276.61 212.26h2v3.87h-2zM298.66 212.26h2v3.87h-2zM304.67 212.26h2v3.87h-2zM340.76 212.26h2v3.87h-2zM352.79 212.26h2v3.87h-2zM194.41 216.14h2v3.87h-2zM248.54 216.14h2v3.87h-2zM188.39 220.01h2v3.87h-2zM196.41 220.01h4.01v3.87h-4.01zM218.47 220.01h2v3.87h-2zM224.48 220.01h2v3.87h-2zM120.23 223.88h2v3.87h-2zM174.36 223.88h2v3.87h-2zM178.37 223.88h2v3.87h-2zM182.38 223.88h2v3.87h-2zM210.45 223.88h2v3.87h-2zM234.5 223.88h2v3.87h-2zM138.27 227.75h2v3.87h-2zM172.35 227.75h2v3.87h-2zM184.38 227.75h2v3.87h-2zM210.45 227.75h2v3.87h-2zM250.54 227.75h2v3.87h-2zM266.58 227.75h2v3.87h-2zM296.65 227.75h2v3.87h-2zM344.77 227.75h2v3.87h-2zM214.46 231.63h2v3.87h-2zM224.48 231.63h2v3.87h-2zM236.51 231.63h2v3.87h-2zM240.52 231.63h6.01v3.87h-6.01zM294.65 231.63h2v3.87h-2z"/>
<path fill="#0a140a" d="M204.43 7h2v3.87h-2zM218.47 7h2v3.87h-2zM232.5 7h2v3.87h-2zM246.53 7h2v3.87h-2zM280.62 7h2v3.87h-2zM294.65 7h2v3.87h-2zM334.75 7h2v3.87h-2zM340.76 7h2v3.87h-2zM214.46 10.87h2v3.87h-2zM228.49 10.87h2v3.87h-2zM268.59 10.87h2v3.87h-2zM290.64 10.87h2v3.87h-2zM208.44 14.75h2v3.87h-2zM240.52 14.75h2v3.87h-2zM246.53 14.75h2v3.87h-2zM276.61 14.75h2v3.87h-2zM290.64 14.75h2v3.87h-2zM316.7 14.75h2v3.87h-2zM202.43 18.62h2v3.87h-2zM208.44 18.62h4.01v3.87h-4.01zM218.47 18.62h2v3.87h-2zM224.48 18.62h2v3.87h-2zM232.5 18.62h2v3.87h-2zM238.51 18.62h2v3.87h-2zM264.58 18.62h2v3.87h-2zM298.66 18.62h2v3.87h-2zM198.42 22.49h2v3.87h-2zM210.45 22.49h2v3.87h-2zM228.49 22.49h4.01v3.87h-4.01zM236.51 22.49h2v3.87h-2zM240.52 22.49h2v3.87h-2zM244.53 22.49h2v3.87h-2zM272.6 22.49h2v3.87h-2zM304.67 22.49h2v3.87h-2zM310.69 22.49h2v3.87h-2zM232.5 26.36h2v3.87h-2zM270.59 26.36h2v3.87h-2zM278.61 26.36h2v3.87h-2zM216.46 30.24h2v3.87h-2zM224.48 30.24h4.01v3.87h-4.01zM232.5 30.24h4.01v3.87h-4.01zM284.63 30.24h2v3.87h-2zM300.66 30.24h2v3.87h-2zM190.4 34.11h2v3.87h-2zM264.58 34.11h2v3.87h-2zM270.59 34.11h2v3.87h-2zM274.6 34.11h2v3.87h-2zM284.63 34.11h4.01v3.87h-4.01zM222.48 41.86h2v3.87h-2zM252.55 41.86h4.01v3.87h-4.01zM280.62 41.86h2v3.87h-2zM208.44 45.73h2v3.87h-2zM212.45 45.73h2v3.87h-2zM216.46 45.73h2v3.87h-2zM232.5 45.73h2v3.87h-2zM238.51 45.73h2v3.87h-2zM248.54 45.73h2v3.87h-2zM252.55 45.73h2v3.87h-2zM286.63 45.73h2v3.87h-2zM208.44 49.6h2v3.87h-2zM234.5 49.6h2v3.87h-2zM242.52 49.6h2v3.87h-2zM246.53 49.6h2v3.87h-2zM250.54 49.6h2v3.87h-2zM280.62 49.6h2v3.87h-2zM312.69 49.6h2v3.87h-2zM196.41 53.47h2v3.87h-2zM236.51 53.47h2v3.87h-2zM240.52 53.47h6.01v3.87h-6.01zM250.54 53.47h2v3.87h-2zM266.58 53.47h2v3.87h-2zM180.37 57.35h2v3.87h-2zM208.44 57.35h2v3.87h-2zM212.45 57.35h2v3.87h-2zM218.47 57.35h2v3.87h-2zM232.5 57.35h2v3.87h-2zM240.52 57.35h2v3.87h-2zM250.54 57.35h2v3.87h-2zM254.55 57.35h2v3.87h-2zM278.61 57.35h2v3.87h-2zM288.64 57.35h2v3.87h-2zM294.65 57.35h2v3.87h-2zM298.66 57.35h2v3.87h-2zM172.35 61.22h2v3.87h-2zM204.43 61.22h2v3.87h-2zM236.51 61.22h2v3.87h-2zM244.53 61.22h4.01v3.87h-4.01zM250.54 61.22h2v3.87h-2zM262.57 61.22h2v3.87h-2zM274.6 61.22h2v3.87h-2zM278.61 61.22h2v3.87h-2zM282.62 61.22h2v3.87h-2zM346.78 61.22h2v3.87h-2zM252.55 65.09h2v3.87h-2zM240.52 68.97h4.01v3.87h-4.01zM254.55 68.97h2v3.87h-2zM172.35 72.84h2v3.87h-2zM204.43 72.84h2v3.87h-2zM226.49 72.84h2v3.87h-2zM230.5 72.84h2v3.87h-2zM234.5 72.84h2v3.87h-2zM244.53 72.84h4.01v3.87h-4.01zM266.58 72.84h2v3.87h-2zM244.53 76.71h4.01v3.87h-4.01zM320.71 76.71h2v3.87h-2zM242.52 80.58h2v3.87h-2zM250.54 80.58h2v3.87h-2zM254.55 80.58h2v3.87h-2zM274.6 80.58h2v3.87h-2zM280.62 80.58h2v3.87h-2zM300.66 80.58h2v3.87h-2zM212.45 84.46h2v3.87h-2zM216.46 84.46h2v3.87h-2zM220.47 84.46h2v3.87h-2zM224.48 84.46h2v3.87h-2zM236.51 84.46h6.01v3.87h-6.01zM246.53 84.46h2v3.87h-2zM176.36 88.33h2v3.87h-2zM194.41 88.33h2v3.87h-2zM222.48 88.33h2v3.87h-2zM230.5 88.33h2v3.87h-2zM246.53 88.33h2v3.87h-2zM252.55 88.33h2v3.87h-2zM226.49 92.2h2v3.87h-2zM240.52 92.2h2v3.87h-2zM246.53 92.2h2v3.87h-2zM254.55 92.2h2v3.87h-2zM206.44 96.08h4.01v3.87h-4.01zM220.47 96.08h2v3.87h-2zM228.49 96.08h2v3.87h-2zM248.54 96.08h2v3.87h-2zM212.45 99.95h2v3.87h-2zM224.48 99.95h2v3.87h-2zM240.52 99.95h2v3.87h-2zM246.53 99.95h4.01v3.87h-4.01zM254.55 99.95h2v3.87h-2zM310.69 99.95h2v3.87h-2zM324.72 99.95h2v3.87h-2zM244.53 103.82h2v3.87h-2zM250.54 103.82h2v3.87h-2zM254.55 103.82h2v3.87h-2zM276.61 103.82h2v3.87h-2zM294.65 103.82h2v3.87h-2zM192.4 107.69h2v3.87h-2zM212.45 107.69h2v3.87h-2zM230.5 107.69h2v3.87h-2zM248.54 107.69h2v3.87h-2zM202.43 111.57h2v3.87h-2zM224.48 111.57h2v3.87h-2zM240.52 111.57h2v3.87h-2zM254.55 111.57h2v3.87h-2zM170.35 115.44h2v3.87h-2zM196.41 115.44h2v3.87h-2zM200.42 115.44h2v3.87h-2zM216.46 115.44h4.01v3.87h-4.01zM230.5 115.44h2v3.87h-2zM238.51 115.44h2v3.87h-2zM248.54 115.44h2v3.87h-2zM190.4 119.31h2v3.87h-2zM200.42 119.31h2v3.87h-2zM204.43 119.31h2v3.87h-2zM210.45 119.31h2v3.87h-2zM214.46 119.31h2v3.87h-2zM218.47 119.31h2v3.87h-2zM228.49 119.31h2v3.87h-2zM240.52 119.31h2v3.87h-2zM246.53 119.31h2v3.87h-2zM254.55 119.31h2v3.87h-2zM268.59 119.31h2v3.87h-2zM284.63 119.31h2v3.87h-2zM180.37 123.19h2v3.87h-2zM204.43 123.19h2v3.87h-2zM208.44 123.19h2v3.87h-2zM246.53 123.19h2v3.87h-2zM250.54 123.19h4.01v3.87h-4.01zM262.57 123.19h2v3.87h-2zM308.68 123.19h2v3.87h-2zM260.57 127.06h2v3.87h-2zM292.65 127.06h2v3.87h-2zM304.67 127.06h4.01v3.87h-4.01zM170.35 130.93h2v3.87h-2zM196.41 130.93h2v3.87h-2zM202.43 130.93h2v3.87h-2zM208.44 130.93h2v3.87h-2zM234.5 130.93h2v3.87h-2zM240.52 130.93h2v3.87h-2zM270.59 130.93h2v3.87h-2zM306.68 130.93h2v3.87h-2zM194.41 134.81h4.01v3.87h-4.01zM210.45 134.81h4.01v3.87h-4.01zM228.49 134.81h2v3.87h-2zM238.51 134.81h6.01v3.87h-6.01zM252.55 134.81h2v3.87h-2zM190.4 138.68h4.01v3.87h-4.01zM224.48 138.68h2v3.87h-2zM246.53 138.68h2v3.87h-2zM250.54 138.68h4.01v3.87h-4.01zM262.57 138.68h4.01v3.87h-4.01zM270.59 138.68h2v3.87h-2zM332.74 138.68h2v3.87h-2zM256.56 142.55h2v3.87h-2zM282.62 142.55h2v3.87h-2zM288.64 142.55h2v3.87h-2zM296.65 142.55h2v3.87h-2zM314.7 142.55h2v3.87h-2zM198.42 146.42h2v3.87h-2zM210.45 146.42h2v3.87h-2zM218.47 146.42h4.01v3.87h-4.01zM224.48 146.42h2v3.87h-2zM228.49 146.42h2v3.87h-2zM254.55 146.42h2v3.87h-2zM276.61 146.42h2v3.87h-2zM170.35 150.3h4.01v3.87h-4.01zM176.36 150.3h2v3.87h-2zM192.4 150.3h2v3.87h-2zM224.48 150.3h2v3.87h-2zM238.51 150.3h4.01v3.87h-4.01zM246.53 150.3h2v3.87h-2zM292.65 150.3h2v3.87h-2zM302.67 150.3h2v3.87h-2zM334.75 150.3h2v3.87h-2zM202.43 154.17h2v3.87h-2zM228.49 154.17h2v3.87h-2zM248.54 154.17h2v3.87h-2zM172.35 158.04h2v3.87h-2zM192.4 158.04h2v3.87h-2zM206.44 158.04h2v3.87h-2zM226.49 158.04h2v3.87h-2zM242.52 158.04h2v3.87h-2zM250.54 158.04h2v3.87h-2zM256.56 158.04h2v3.87h-2zM264.58 158.04h2v3.87h-2zM348.78 158.04h2v3.87h-2zM174.36 161.92h2v3.87h-2zM180.37 161.92h2v3.87h-2zM226.49 161.92h4.01v3.87h-4.01zM234.5 161.92h2v3.87h-2zM254.55 161.92h2v3.87h-2zM260.57 161.92h2v3.87h-2zM270.59 161.92h2v3.87h-2zM288.64 161.92h2v3.87h-2zM324.72 161.92h2v3.87h-2zM332.74 161.92h2v3.87h-2zM338.76 161.92h2v3.87h-2zM170.35 165.79h2v3.87h-2zM178.37 165.79h2v3.87h-2zM202.43 165.79h2v3.87h-2zM228.49 165.79h6.01v3.87h-6.01zM236.51 165.79h2v3.87h-2zM244.53 165.79h2v3.87h-2zM280.62 165.79h2v3.87h-2zM218.47 169.66h4.01v3.87h-4.01zM236.51 169.66h2v3.87h-2zM240.52 169.66h2v3.87h-2zM274.6 169.66h2v3.87h-2zM296.65 169.66h2v3.87h-2zM302.67 169.66h2v3.87h-2zM344.77 169.66h2v3.87h-2zM172.35 173.53h2v3.87h-2zM204.43 173.53h2v3.87h-2zM236.51 173.53h2v3.87h-2zM240.52 173.53h2v3.87h-2zM252.55 173.53h4.01v3.87h-4.01zM262.57 173.53h2v3.87h-2zM296.65 173.53h2v3.87h-2zM300.66 173.53h2v3.87h-2zM322.72 173.53h2v3.87h-2zM190.4 177.41h2v3.87h-2zM194.41 177.41h2v3.87h-2zM198.42 177.41h2v3.87h-2zM218.47 177.41h2v3.87h-2zM222.48 177.41h2v3.87h-2zM228.49 177.41h2v3.87h-2zM234.5 177.41h4.01v3.87h-4.01zM250.54 177.41h2v3.87h-2zM276.61 177.41h2v3.87h-2zM180.37 181.28h2v3.87h-2zM194.41 181.28h2v3.87h-2zM208.44 181.28h2v3.87h-2zM236.51 181.28h2v3.87h-2zM270.59 181.28h2v3.87h-2zM280.62 181.28h2v3.87h-2zM284.63 181.28h2v3.87h-2zM178.37 185.15h2v3.87h-2zM192.4 185.15h2v3.87h-2zM196.41 185.15h2v3.87h-2zM204.43 185.15h2v3.87h-2zM210.45 185.15h6.01v3.87h-6.01zM220.47 185.15h2v3.87h-2zM230.5 185.15h2v3.87h-2zM240.52 185.15h2v3.87h-2zM244.53 185.15h2v3.87h-2zM248.54 185.15h2v3.87h-2zM256.56 185.15h2v3.87h-2zM268.59 185.15h2v3.87h-2zM274.6 185.15h2v3.87h-2zM278.61 185.15h2v3.87h-2zM172.35 189.03h2v3.87h-2zM196.41 189.03h2v3.87h-2zM210.45 189.03h2v3.87h-2zM228.49 189.03h6.01v3.87h-6.01zM248.54 189.03h2v3.87h-2zM254.55 189.03h2v3.87h-2zM292.65 189.03h2v3.87h-2zM310.69 189.03h4.01v3.87h-4.01zM326.73 189.03h2v3.87h-2zM170.35 192.9h2v3.87h-2zM198.42 192.9h2v3.87h-2zM214.46 192.9h2v3.87h-2zM288.64 192.9h2v3.87h-2zM292.65 192.9h4.01v3.87h-4.01zM324.72 192.9h2v3.87h-2zM328.73 192.9h2v3.87h-2zM214.46 196.77h2v3.87h-2zM228.49 196.77h2v3.87h-2zM242.52 196.77h2v3.87h-2zM246.53 196.77h2v3.87h-2zM250.54 196.77h2v3.87h-2zM266.58 196.77h2v3.87h-2zM272.6 196.77h2v3.87h-2zM194.41 200.64h2v3.87h-2zM202.43 200.64h2v3.87h-2zM210.45 200.64h2v3.87h-2zM214.46 200.64h4.01v3.87h-4.01zM254.55 200.64h2v3.87h-2zM282.62 200.64h2v3.87h-2zM262.57 204.52h2v3.87h-2zM200.42 208.39h2v3.87h-2zM210.45 208.39h2v3.87h-2zM240.52 208.39h4.01v3.87h-4.01zM270.59 208.39h2v3.87h-2zM310.69 208.39h2v3.87h-2zM352.79 208.39h2v3.87h-2zM220.47 212.26h2v3.87h-2zM296.65 212.26h2v3.87h-2zM300.66 212.26h2v3.87h-2zM306.68 212.26h2v3.87h-2zM320.71 212.26h2v3.87h-2zM330.74 212.26h2v3.87h-2zM334.75 212.26h2v3.87h-2zM344.77 212.26h2v3.87h-2zM180.37 216.14h2v3.87h-2zM200.42 216.14h2v3.87h-2zM204.43 216.14h2v3.87h-2zM244.53 216.14h2v3.87h-2zM252.55 216.14h2v3.87h-2zM256.56 216.14h2v3.87h-2zM184.38 220.01h2v3.87h-2zM236.51 220.01h2v3.87h-2zM242.52 220.01h2v3.87h-2zM250.54 220.01h2v3.87h-2zM176.36 223.88h2v3.87h-2zM194.41 223.88h2v3.87h-2zM208.44 223.88h2v3.87h-2zM212.45 223.88h2v3.87h-2zM218.47 223.88h2v3.87h-2zM238.51 223.88h2v3.87h-2zM242.52 223.88h2v3.87h-2zM272.6 223.88h2v3.87h-2zM280.62 223.88h4.01v3.87h-4.01zM288.64 223.88h2v3.87h-2zM298.66 223.88h2v3.87h-2zM224.48 227.75h2v3.87h-2zM290.64 227.75h2v3.87h-2zM302.67 227.75h2v3.87h-2zM352.79 227.75h2v3.87h-2zM208.44 231.63h2v3.87h-2zM304.67 231.63h2v3.87h-2zM310.69 231.63h2v3.87h-2zM338.76 231.63h2v3.87h-2zM344.77 231.63h2v3.87h-2z"/>
<path fill="#0a0a0a" d="M208.44 7h2v3.87h-2zM244.53 7h2v3.87h-2zM336.75 7h2v3.87h-2zM204.43 10.87h2v3.87h-2zM208.44 10.87h2v3.87h-2zM276.61 10.87h2v3.87h-2zM242.52 14.75h2v3.87h-2zM274.6 14.75h2v3.87h-2zM214.46 18.62h2v3.87h-2zM228.49 18.62h2v3.87h-2zM234.5 18.62h2v3.87h-2zM246.53 18.62h2v3.87h-2zM316.7 18.62h2v3.87h-2zM332.74 18.62h2v3.87h-2zM172.35 22.49h2v3.87h-2zM190.4 22.49h2v3.87h-2zM220.47 22.49h2v3.87h-2zM290.64 22.49h2v3.87h-2zM214.46 26.36h2v3.87h-2zM246.53 26.36h2v3.87h-2zM266.58 26.36h2v3.87h-2zM168.35 30.24h4.01v3.87h-4.01zM228.49 30.24h4.01v3.87h-4.01zM238.51 30.24h2v3.87h-2zM282.62 30.24h2v3.87h-2zM298.66 30.24h2v3.87h-2zM220.47 34.11h2v3.87h-2zM224.48 34.11h2v3.87h-2zM228.49 34.11h2v3.87h-2zM242.52 34.11h2v3.87h-2zM246.53 34.11h2v3.87h-2zM252.55 34.11h2v3.87h-2zM282.62 34.11h2v3.87h-2zM292.65 34.11h2v3.87h-2zM334.75 34.11h2v3.87h-2zM200.42 37.98h2v3.87h-2zM220.47 37.98h2v3.87h-2zM224.48 37.98h2v3.87h-2zM234.5 37.98h2v3.87h-2zM238.51 37.98h2v3.87h-2zM206.44 41.86h2v3.87h-2zM226.49 41.86h2v3.87h-2zM246.53 41.86h2v3.87h-2zM264.58 41.86h2v3.87h-2zM172.35 45.73h2v3.87h-2zM200.42 45.73h2v3.87h-2zM248.54 49.6h2v3.87h-2zM202.43 53.47h2v3.87h-2zM280.62 53.47h2v3.87h-2zM238.51 57.35h2v3.87h-2zM248.54 57.35h2v3.87h-2zM344.77 57.35h2v3.87h-2zM220.47 61.22h2v3.87h-2zM232.5 61.22h2v3.87h-2zM242.52 61.22h2v3.87h-2zM254.55 61.22h2v3.87h-2zM324.72 61.22h2v3.87h-2zM236.51 65.09h2v3.87h-2zM240.52 65.09h2v3.87h-2zM250.54 65.09h2v3.87h-2zM276.61 65.09h2v3.87h-2zM248.54 68.97h2v3.87h-2zM222.48 72.84h2v3.87h-2zM238.51 72.84h2v3.87h-2zM250.54 76.71h2v3.87h-2zM214.46 80.58h2v3.87h-2zM240.52 80.58h2v3.87h-2zM244.53 80.58h2v3.87h-2zM180.37 84.46h2v3.87h-2zM218.47 84.46h2v3.87h-2zM232.5 84.46h4.01v3.87h-4.01zM180.37 88.33h2v3.87h-2zM224.48 88.33h2v3.87h-2zM232.5 88.33h2v3.87h-2zM242.52 92.2h2v3.87h-2zM250.54 92.2h2v3.87h-2zM224.48 96.08h2v3.87h-2zM232.5 96.08h2v3.87h-2zM238.51 96.08h2v3.87h-2zM234.5 99.95h4.01v3.87h-4.01zM244.53 99.95h2v3.87h-2zM202.43 103.82h2v3.87h-2zM248.54 103.82h2v3.87h-2zM180.37 107.69h2v3.87h-2zM234.5 107.69h2v3.87h-2zM200.42 111.57h2v3.87h-2zM208.44 111.57h6.01v3.87h-6.01zM220.47 111.57h4.01v3.87h-4.01zM244.53 111.57h2v3.87h-2zM248.54 111.57h2v3.87h-2zM178.37 115.44h4.01v3.87h-4.01zM178.37 119.31h2v3.87h-2zM250.54 119.31h2v3.87h-2zM288.64 119.31h2v3.87h-2zM312.69 119.31h2v3.87h-2zM212.45 123.19h2v3.87h-2zM224.48 123.19h2v3.87h-2zM242.52 123.19h2v3.87h-2zM226.49 127.06h2v3.87h-2zM242.52 127.06h2v3.87h-2zM270.59 127.06h2v3.87h-2zM280.62 127.06h2v3.87h-2zM174.36 130.93h4.01v3.87h-4.01zM180.37 130.93h2v3.87h-2zM214.46 130.93h2v3.87h-2zM230.5 130.93h2v3.87h-2zM198.42 134.81h2v3.87h-2zM202.43 134.81h2v3.87h-2zM244.53 134.81h4.01v3.87h-4.01zM172.35 138.68h2v3.87h-2zM178.37 138.68h2v3.87h-2zM184.38 138.68h2v3.87h-2zM204.43 138.68h2v3.87h-2zM208.44 138.68h2v3.87h-2zM236.51 138.68h2v3.87h-2zM244.53 138.68h2v3.87h-2zM180.37 142.55h2v3.87h-2zM212.45 142.55h2v3.87h-2zM236.51 142.55h2v3.87h-2zM244.53 142.55h2v3.87h-2zM250.54 142.55h4.01v3.87h-4.01zM266.58 142.55h2v3.87h-2zM270.59 142.55h2v3.87h-2zM280.62 142.55h2v3.87h-2zM316.7 142.55h2v3.87h-2zM340.76 142.55h2v3.87h-2zM186.39 146.42h2v3.87h-2zM192.4 146.42h2v3.87h-2zM232.5 146.42h2v3.87h-2zM244.53 146.42h2v3.87h-2zM190.4 150.3h2v3.87h-2zM194.41 150.3h2v3.87h-2zM218.47 150.3h2v3.87h-2zM234.5 150.3h2v3.87h-2zM180.37 154.17h2v3.87h-2zM190.4 154.17h2v3.87h-2zM242.52 154.17h2v3.87h-2zM250.54 154.17h2v3.87h-2zM254.55 154.17h2v3.87h-2zM198.42 158.04h4.01v3.87h-4.01zM232.5 158.04h4.01v3.87h-4.01zM244.53 158.04h2v3.87h-2zM334.75 158.04h2v3.87h-2zM170.35 161.92h2v3.87h-2zM194.41 161.92h2v3.87h-2zM208.44 161.92h2v3.87h-2zM212.45 161.92h2v3.87h-2zM242.52 161.92h2v3.87h-2zM282.62 161.92h2v3.87h-2zM340.76 161.92h2v3.87h-2zM206.44 165.79h2v3.87h-2zM276.61 165.79h2v3.87h-2zM306.68 165.79h2v3.87h-2zM198.42 169.66h2v3.87h-2zM270.59 169.66h2v3.87h-2zM286.63 169.66h2v3.87h-2zM306.68 169.66h2v3.87h-2zM340.76 169.66h2v3.87h-2zM348.78 169.66h2v3.87h-2zM206.44 173.53h2v3.87h-2zM228.49 173.53h2v3.87h-2zM244.53 173.53h2v3.87h-2zM312.69 173.53h2v3.87h-2zM134.26 177.41h2v3.87h-2zM204.43 177.41h2v3.87h-2zM216.46 177.41h2v3.87h-2zM232.5 177.41h2v3.87h-2zM242.52 177.41h4.01v3.87h-4.01zM190.4 181.28h2v3.87h-2zM212.45 181.28h4.01v3.87h-4.01zM226.49 181.28h2v3.87h-2zM230.5 181.28h2v3.87h-2zM246.53 181.28h2v3.87h-2zM250.54 181.28h4.01v3.87h-4.01zM168.35 185.15h2v3.87h-2zM198.42 185.15h2v3.87h-2zM208.44 185.15h2v3.87h-2zM238.51 185.15h2v3.87h-2zM252.55 185.15h2v3.87h-2zM170.35 189.03h2v3.87h-2zM174.36 189.03h2v3.87h-2zM198.42 189.03h4.01v3.87h-4.01zM206.44 189.03h2v3.87h-2zM214.46 189.03h2v3.87h-2zM226.49 189.03h2v3.87h-2zM234.5 189.03h2v3.87h-2zM246.53 189.03h2v3.87h-2zM332.74 189.03h2v3.87h-2zM204.43 192.9h2v3.87h-2zM252.55 192.9h2v3.87h-2zM310.69 192.9h2v3.87h-2zM334.75 192.9h2v3.87h-2zM180.37 196.77h2v3.87h-2zM210.45 196.77h4.01v3.87h-4.01zM254.55 196.77h2v3.87h-2zM192.4 200.64h2v3.87h-2zM198.42 200.64h2v3.87h-2zM272.6 200.64h2v3.87h-2zM180.37 204.52h2v3.87h-2zM206.44 204.52h2v3.87h-2zM216.46 204.52h2v3.87h-2zM276.61 204.52h2v3.87h-2zM282.62 204.52h2v3.87h-2zM178.37 208.39h2v3.87h-2zM248.54 208.39h2v3.87h-2zM336.75 208.39h2v3.87h-2zM262.57 212.26h2v3.87h-2zM350.79 212.26h2v3.87h-2zM190.4 216.14h2v3.87h-2zM202.43 216.14h2v3.87h-2zM208.44 216.14h2v3.87h-2zM216.46 216.14h2v3.87h-2zM224.48 216.14h4.01v3.87h-4.01zM246.53 216.14h2v3.87h-2zM170.35 220.01h4.01v3.87h-4.01zM178.37 220.01h2v3.87h-2zM190.4 220.01h2v3.87h-2zM194.41 220.01h2v3.87h-2zM226.49 220.01h2v3.87h-2zM238.51 220.01h2v3.87h-2zM282.62 220.01h2v3.87h-2zM296.65 220.01h2v3.87h-2zM192.4 223.88h2v3.87h-2zM200.42 223.88h2v3.87h-2zM230.5 223.88h2v3.87h-2zM332.74 223.88h2v3.87h-2zM248.54 227.75h2v3.87h-2zM294.65 227.75h2v3.87h-2zM212.45 231.63h2v3.87h-2zM326.73 231.63h2v3.87h-2zM346.78 231.63h2v3.87h-2z"/>
<path fill="#0a1e0a" d="M212.45 7h2v3.87h-2zM226.49 7h2v3.87h-2zM236.51 7h2v3.87h-2zM218.47 10.87h2v3.87h-2zM222.48 10.87h2v3.87h-2zM230.5 10.87h2v3.87h-2zM244.53 10.87h2v3.87h-2zM250.54 10.87h2v3.87h-2zM278.61 10.87h2v3.87h-2zM286.63 10.87h2v3.87h-2zM236.51 14.75h2v3.87h-2zM254.55 14.75h2v3.87h-2zM272.6 14.75h2v3.87h-2zM294.65 14.75h2v3.87h-2zM174.36 18.62h4.01v3.87h-4.01zM192.4 18.62h2v3.87h-2zM226.49 18.62h2v3.87h-2zM230.5 18.62h2v3.87h-2zM236.51 18.62h2v3.87h-2zM268.59 18.62h2v3.87h-2zM292.65 18.62h2v3.87h-2zM212.45 22.49h2v3.87h-2zM254.55 22.49h2v3.87h-2zM286.63 22.49h2v3.87h-2zM292.65 22.49h2v3.87h-2zM346.78 22.49h2v3.87h-2zM226.49 26.36h2v3.87h-2zM234.5 26.36h2v3.87h-2zM240.52 26.36h2v3.87h-2zM286.63 26.36h4.01v3.87h-4.01zM204.43 30.24h4.01v3.87h-4.01zM242.52 30.24h2v3.87h-2zM246.53 30.24h4.01v3.87h-4.01zM268.59 30.24h2v3.87h-2zM302.67 30.24h4.01v3.87h-4.01zM322.72 30.24h2v3.87h-2zM204.43 34.11h2v3.87h-2zM208.44 34.11h2v3.87h-2zM176.36 37.98h2v3.87h-2zM204.43 37.98h2v3.87h-2zM242.52 37.98h2v3.87h-2zM250.54 37.98h2v3.87h-2zM254.55 37.98h2v3.87h-2zM228.49 41.86h2v3.87h-2zM236.51 41.86h2v3.87h-2zM242.52 41.86h2v3.87h-2zM278.61 41.86h2v3.87h-2zM292.65 41.86h2v3.87h-2zM218.47 45.73h2v3.87h-2zM226.49 45.73h2v3.87h-2zM240.52 45.73h4.01v3.87h-4.01zM246.53 45.73h2v3.87h-2zM276.61 45.73h2v3.87h-2zM292.65 45.73h2v3.87h-2zM316.7 45.73h2v3.87h-2zM224.48 49.6h2v3.87h-2zM240.52 49.6h2v3.87h-2zM244.53 49.6h2v3.87h-2zM252.55 49.6h2v3.87h-2zM222.48 53.47h2v3.87h-2zM220.47 57.35h2v3.87h-2zM266.58 57.35h2v3.87h-2zM270.59 57.35h2v3.87h-2zM292.65 57.35h2v3.87h-2zM304.67 57.35h2v3.87h-2zM310.69 57.35h2v3.87h-2zM240.52 61.22h2v3.87h-2zM270.59 61.22h2v3.87h-2zM290.64 61.22h2v3.87h-2zM310.69 61.22h2v3.87h-2zM338.76 61.22h2v3.87h-2zM254.55 65.09h2v3.87h-2zM274.6 65.09h2v3.87h-2zM284.63 65.09h2v3.87h-2zM258.56 68.97h2v3.87h-2zM282.62 68.97h2v3.87h-2zM170.35 72.84h2v3.87h-2zM178.37 72.84h2v3.87h-2zM190.4 72.84h2v3.87h-2zM206.44 72.84h2v3.87h-2zM220.47 72.84h2v3.87h-2zM240.52 72.84h2v3.87h-2zM290.64 72.84h2v3.87h-2zM242.52 76.71h2v3.87h-2zM252.55 76.71h4.01v3.87h-4.01zM222.48 80.58h2v3.87h-2zM236.51 80.58h2v3.87h-2zM288.64 80.58h2v3.87h-2zM310.69 80.58h2v3.87h-2zM228.49 84.46h2v3.87h-2zM244.53 84.46h2v3.87h-2zM250.54 84.46h2v3.87h-2zM254.55 84.46h2v3.87h-2zM170.35 88.33h2v3.87h-2zM254.55 88.33h4.01v3.87h-4.01zM262.57 88.33h2v3.87h-2zM266.58 88.33h2v3.87h-2zM274.6 88.33h2v3.87h-2zM284.63 88.33h2v3.87h-2zM310.69 88.33h2v3.87h-2zM338.76 88.33h2v3.87h-2zM344.77 88.33h2v3.87h-2zM204.43 92.2h2v3.87h-2zM236.51 92.2h2v3.87h-2zM244.53 92.2h2v3.87h-2zM266.58 92.2h2v3.87h-2zM286.63 92.2h2v3.87h-2zM190.4 96.08h2v3.87h-2zM204.43 96.08h2v3.87h-2zM234.5 96.08h2v3.87h-2zM204.43 99.95h2v3.87h-2zM268.59 99.95h2v3.87h-2zM304.67 99.95h2v3.87h-2zM350.79 99.95h2v3.87h-2zM190.4 103.82h2v3.87h-2zM236.51 103.82h2v3.87h-2zM262.57 103.82h2v3.87h-2zM346.78 103.82h2v3.87h-2zM190.4 107.69h2v3.87h-2zM232.5 107.69h2v3.87h-2zM242.52 107.69h4.01v3.87h-4.01zM206.44 111.57h2v3.87h-2zM226.49 111.57h2v3.87h-2zM236.51 111.57h2v3.87h-2zM250.54 111.57h2v3.87h-2zM210.45 115.44h2v3.87h-2zM214.46 115.44h2v3.87h-2zM226.49 115.44h4.01v3.87h-4.01zM234.5 115.44h2v3.87h-2zM242.52 115.44h2v3.87h-2zM236.51 119.31h2v3.87h-2zM244.53 119.31h2v3.87h-2zM262.57 119.31h2v3.87h-2zM286.63 119.31h2v3.87h-2zM292.65 119.31h2v3.87h-2zM330.74 119.31h2v3.87h-2zM350.79 119.31h2v3.87h-2zM236.51 123.19h2v3.87h-2zM278.61 127.06h2v3.87h-2zM300.66 127.06h2v3.87h-2zM324.72 127.06h2v3.87h-2zM332.74 127.06h6.01v3.87h-6.01zM340.76 127.06h2v3.87h-2zM350.79 127.06h2v3.87h-2zM178.37 130.93h2v3.87h-2zM206.44 130.93h2v3.87h-2zM218.47 130.93h4.01v3.87h-4.01zM228.49 130.93h2v3.87h-2zM244.53 130.93h4.01v3.87h-4.01zM254.55 130.93h2v3.87h-2zM258.56 130.93h2v3.87h-2zM278.61 130.93h2v3.87h-2zM296.65 130.93h2v3.87h-2zM170.35 134.81h2v3.87h-2zM214.46 134.81h2v3.87h-2zM230.5 134.81h2v3.87h-2zM222.48 138.68h2v3.87h-2zM266.58 138.68h2v3.87h-2zM220.47 142.55h4.01v3.87h-4.01zM290.64 142.55h2v3.87h-2zM300.66 142.55h2v3.87h-2zM330.74 142.55h2v3.87h-2zM344.77 142.55h2v3.87h-2zM170.35 146.42h2v3.87h-2zM204.43 146.42h2v3.87h-2zM236.51 146.42h2v3.87h-2zM242.52 146.42h2v3.87h-2zM272.6 146.42h2v3.87h-2zM302.67 146.42h2v3.87h-2zM180.37 150.3h2v3.87h-2zM202.43 150.3h2v3.87h-2zM206.44 150.3h2v3.87h-2zM232.5 150.3h2v3.87h-2zM236.51 150.3h2v3.87h-2zM244.53 150.3h2v3.87h-2zM274.6 150.3h4.01v3.87h-4.01zM204.43 154.17h4.01v3.87h-4.01zM232.5 154.17h2v3.87h-2zM240.52 154.17h2v3.87h-2zM266.58 154.17h2v3.87h-2zM296.65 154.17h2v3.87h-2zM204.43 158.04h2v3.87h-2zM208.44 158.04h4.01v3.87h-4.01zM222.48 158.04h2v3.87h-2zM246.53 158.04h2v3.87h-2zM252.55 158.04h2v3.87h-2zM282.62 158.04h2v3.87h-2zM302.67 158.04h2v3.87h-2zM190.4 161.92h2v3.87h-2zM236.51 161.92h2v3.87h-2zM252.55 161.92h2v3.87h-2zM290.64 161.92h2v3.87h-2zM344.77 161.92h2v3.87h-2zM194.41 165.79h2v3.87h-2zM210.45 165.79h2v3.87h-2zM222.48 165.79h4.01v3.87h-4.01zM246.53 165.79h2v3.87h-2zM250.54 165.79h6.01v3.87h-6.01zM262.57 165.79h2v3.87h-2zM294.65 165.79h2v3.87h-2zM298.66 165.79h2v3.87h-2zM332.74 165.79h2v3.87h-2zM336.75 165.79h4.01v3.87h-4.01zM196.41 169.66h2v3.87h-2zM208.44 169.66h2v3.87h-2zM212.45 169.66h2v3.87h-2zM254.55 169.66h6.01v3.87h-6.01zM262.57 169.66h2v3.87h-2zM278.61 169.66h2v3.87h-2zM294.65 169.66h2v3.87h-2zM176.36 173.53h2v3.87h-2zM208.44 173.53h2v3.87h-2zM222.48 173.53h2v3.87h-2zM286.63 173.53h2v3.87h-2zM294.65 173.53h2v3.87h-2zM170.35 177.41h2v3.87h-2zM180.37 177.41h2v3.87h-2zM226.49 177.41h2v3.87h-2zM238.51 177.41h4.01v3.87h-4.01zM252.55 177.41h2v3.87h-2zM170.35 181.28h2v3.87h-2zM178.37 181.28h2v3.87h-2zM204.43 181.28h2v3.87h-2zM224.48 181.28h2v3.87h-2zM228.49 181.28h2v3.87h-2zM290.64 181.28h2v3.87h-2zM184.38 185.15h2v3.87h-2zM190.4 185.15h2v3.87h-2zM206.44 185.15h2v3.87h-2zM234.5 185.15h2v3.87h-2zM282.62 185.15h2v3.87h-2zM288.64 185.15h2v3.87h-2zM190.4 189.03h4.01v3.87h-4.01zM208.44 189.03h2v3.87h-2zM240.52 189.03h2v3.87h-2zM304.67 189.03h2v3.87h-2zM320.71 189.03h4.01v3.87h-4.01zM338.76 189.03h2v3.87h-2zM350.79 189.03h2v3.87h-2zM354.8 189.03h2v3.87h-2zM290.64 192.9h2v3.87h-2zM304.67 192.9h2v3.87h-2zM322.72 192.9h2v3.87h-2zM346.78 192.9h4.01v3.87h-4.01zM178.37 196.77h2v3.87h-2zM240.52 196.77h2v3.87h-2zM252.55 196.77h2v3.87h-2zM170.35 200.64h2v3.87h-2zM206.44 200.64h4.01v3.87h-4.01zM222.48 200.64h4.01v3.87h-4.01zM228.49 200.64h4.01v3.87h-4.01zM238.51 200.64h2v3.87h-2zM246.53 200.64h2v3.87h-2zM250.54 200.64h2v3.87h-2zM258.56 200.64h2v3.87h-2zM290.64 200.64h2v3.87h-2zM320.71 200.64h2v3.87h-2zM204.43 204.52h2v3.87h-2zM274.6 204.52h2v3.87h-2zM294.65 204.52h2v3.87h-2zM302.67 204.52h2v3.87h-2zM332.74 204.52h2v3.87h-2zM212.45 208.39h2v3.87h-2zM236.51 208.39h2v3.87h-2zM244.53 208.39h2v3.87h-2zM258.56 208.39h2v3.87h-2zM268.59 208.39h2v3.87h-2zM294.65 208.39h2v3.87h-2zM298.66 208.39h2v3.87h-2zM314.7 208.39h2v3.87h-2zM334.75 208.39h2v3.87h-2zM338.76 208.39h2v3.87h-2zM348.78 208.39h2v3.87h-2zM354.8 208.39h2v3.87h-2zM204.43 212.26h2v3.87h-2zM264.58 212.26h2v3.87h-2zM316.7 212.26h2v3.87h-2zM326.73 212.26h2v3.87h-2zM336.75 212.26h2v3.87h-2zM178.37 216.14h2v3.87h-2zM206.44 216.14h2v3.87h-2zM242.52 216.14h2v3.87h-2zM250.54 216.14h2v3.87h-2zM282.62 216.14h2v3.87h-2zM230.5 220.01h4.01v3.87h-4.01zM240.52 220.01h2v3.87h-2zM244.53 220.01h2v3.87h-2zM254.55 220.01h2v3.87h-2zM270.59 220.01h4.01v3.87h-4.01zM170.35 223.88h2v3.87h-2zM184.38 223.88h2v3.87h-2zM198.42 223.88h2v3.87h-2zM206.44 223.88h2v3.87h-2zM214.46 223.88h2v3.87h-2zM220.47 223.88h2v3.87h-2zM228.49 223.88h2v3.87h-2zM236.51 223.88h2v3.87h-2zM276.61 223.88h2v3.87h-2zM286.63 223.88h2v3.87h-2zM352.79 223.88h2v3.87h-2zM206.44 227.75h2v3.87h-2zM236.51 227.75h2v3.87h-2zM242.52 227.75h2v3.87h-2zM252.55 227.75h2v3.87h-2zM262.57 227.75h2v3.87h-2zM292.65 227.75h2v3.87h-2zM260.57 231.63h2v3.87h-2zM268.59 231.63h2v3.87h-2zM300.66 231.63h2v3.87h-2zM330.74 231.63h2v3.87h-2z"/>
<path fill="#460a0a" d="M214.46 7h2v3.87h-2zM198.42 10.87h4.01v3.87h-4.01zM172.35 14.75h2v3.87h-2zM176.36 14.75h2v3.87h-2zM200.42 14.75h2v3.87h-2zM206.44 14.75h2v3.87h-2zM132.26 18.62h2v3.87h-2zM184.38 18.62h2v3.87h-2zM188.39 18.62h2v3.87h-2zM194.41 18.62h2v3.87h-2zM182.38 22.49h2v3.87h-2zM198.42 26.36h2v3.87h-2zM164.34 30.24h2v3.87h-2zM198.42 30.24h4.01v3.87h-4.01zM168.35 34.11h2v3.87h-2zM194.41 34.11h2v3.87h-2zM174.36 41.86h2v3.87h-2zM202.43 41.86h2v3.87h-2zM194.41 45.73h2v3.87h-2zM188.39 49.6h2v3.87h-2zM200.42 49.6h2v3.87h-2zM166.34 53.47h2v3.87h-2zM188.39 53.47h2v3.87h-2zM158.32 57.35h2v3.87h-2zM194.41 57.35h2v3.87h-2zM216.46 57.35h2v3.87h-2zM184.38 61.22h2v3.87h-2zM198.42 61.22h2v3.87h-2zM172.35 65.09h2v3.87h-2zM192.4 65.09h2v3.87h-2zM198.42 65.09h2v3.87h-2zM212.45 65.09h2v3.87h-2zM176.36 68.97h2v3.87h-2zM184.38 68.97h2v3.87h-2zM190.4 68.97h2v3.87h-2zM194.41 68.97h2v3.87h-2zM202.43 68.97h2v3.87h-2zM210.45 68.97h2v3.87h-2zM164.34 72.84h2v3.87h-2zM176.36 76.71h2v3.87h-2zM196.41 76.71h2v3.87h-2zM216.46 76.71h2v3.87h-2zM220.47 76.71h2v3.87h-2zM234.5 76.71h2v3.87h-2zM132.26 80.58h2v3.87h-2zM284.63 80.58h2v3.87h-2zM168.35 84.46h2v3.87h-2zM172.35 84.46h2v3.87h-2zM186.39 84.46h2v3.87h-2zM198.42 84.46h2v3.87h-2zM156.32 88.33h2v3.87h-2zM160.33 88.33h2v3.87h-2zM168.35 88.33h2v3.87h-2zM188.39 88.33h2v3.87h-2zM198.42 88.33h2v3.87h-2zM180.37 92.2h2v3.87h-2zM184.38 92.2h2v3.87h-2zM194.41 92.2h2v3.87h-2zM200.42 92.2h2v3.87h-2zM206.44 92.2h2v3.87h-2zM152.31 96.08h2v3.87h-2zM160.33 96.08h2v3.87h-2zM166.34 96.08h2v3.87h-2zM174.36 96.08h2v3.87h-2zM188.39 96.08h2v3.87h-2zM194.41 96.08h2v3.87h-2zM184.38 99.95h2v3.87h-2zM194.41 99.95h2v3.87h-2zM202.43 99.95h2v3.87h-2zM184.38 103.82h2v3.87h-2zM228.49 103.82h2v3.87h-2zM114.21 107.69h2v3.87h-2zM126.24 107.69h2v3.87h-2zM134.26 107.69h2v3.87h-2zM138.27 107.69h2v3.87h-2zM156.32 107.69h2v3.87h-2zM158.32 115.44h2v3.87h-2zM198.42 119.31h2v3.87h-2zM168.35 123.19h4.01v3.87h-4.01zM174.36 123.19h2v3.87h-2zM202.43 123.19h2v3.87h-2zM222.48 123.19h2v3.87h-2zM174.36 127.06h2v3.87h-2zM184.38 127.06h2v3.87h-2zM188.39 127.06h2v3.87h-2zM310.69 127.06h2v3.87h-2zM128.25 130.93h2v3.87h-2zM132.26 130.93h4.01v3.87h-4.01zM152.31 130.93h2v3.87h-2zM182.38 130.93h2v3.87h-2zM158.32 134.81h2v3.87h-2zM188.39 134.81h2v3.87h-2zM176.36 138.68h2v3.87h-2zM194.41 138.68h2v3.87h-2zM200.42 138.68h2v3.87h-2zM192.4 142.55h2v3.87h-2zM130.25 150.3h2v3.87h-2zM156.32 150.3h2v3.87h-2zM266.58 150.3h2v3.87h-2zM136.27 154.17h2v3.87h-2zM152.31 154.17h2v3.87h-2zM158.32 154.17h4.01v3.87h-4.01zM166.34 154.17h4.01v3.87h-4.01zM176.36 154.17h2v3.87h-2zM182.38 154.17h4.01v3.87h-4.01zM200.42 154.17h2v3.87h-2zM130.25 158.04h4.01v3.87h-4.01zM160.33 158.04h2v3.87h-2zM166.34 158.04h2v3.87h-2zM212.45 158.04h2v3.87h-2zM272.6 158.04h2v3.87h-2zM116.22 161.92h2v3.87h-2zM132.26 161.92h4.01v3.87h-4.01zM138.27 161.92h2v3.87h-2zM154.31 161.92h2v3.87h-2zM160.33 161.92h2v3.87h-2zM164.34 161.92h4.01v3.87h-4.01zM182.38 161.92h2v3.87h-2zM192.4 161.92h2v3.87h-2zM132.26 165.79h2v3.87h-2zM140.28 165.79h2v3.87h-2zM148.3 165.79h2v3.87h-2zM166.34 165.79h4.01v3.87h-4.01zM124.24 169.66h2v3.87h-2zM176.36 169.66h2v3.87h-2zM214.46 169.66h2v3.87h-2zM116.22 173.53h2v3.87h-2zM136.27 173.53h2v3.87h-2zM158.32 173.53h2v3.87h-2zM162.33 173.53h2v3.87h-2zM184.38 173.53h2v3.87h-2zM188.39 173.53h2v3.87h-2zM130.25 177.41h2v3.87h-2zM168.35 177.41h2v3.87h-2zM174.36 177.41h2v3.87h-2zM128.25 181.28h2v3.87h-2zM154.31 181.28h2v3.87h-2zM158.32 181.28h2v3.87h-2zM168.35 181.28h2v3.87h-2zM192.4 181.28h2v3.87h-2zM126.24 185.15h2v3.87h-2zM146.29 185.15h2v3.87h-2zM152.31 185.15h2v3.87h-2zM158.32 185.15h2v3.87h-2zM216.46 185.15h2v3.87h-2zM124.24 189.03h2v3.87h-2zM142.28 189.03h2v3.87h-2zM154.31 189.03h2v3.87h-2zM162.33 189.03h6.01v3.87h-6.01zM266.58 189.03h2v3.87h-2zM272.6 189.03h2v3.87h-2zM276.61 189.03h2v3.87h-2zM158.32 192.9h2v3.87h-2zM168.35 192.9h2v3.87h-2zM182.38 192.9h2v3.87h-2zM262.57 192.9h2v3.87h-2zM142.28 196.77h2v3.87h-2zM152.31 196.77h2v3.87h-2zM162.33 196.77h2v3.87h-2zM186.39 196.77h2v3.87h-2zM198.42 196.77h2v3.87h-2zM136.27 200.64h2v3.87h-2zM158.32 200.64h2v3.87h-2zM132.26 204.52h2v3.87h-2zM188.39 204.52h2v3.87h-2zM218.47 208.39h2v3.87h-2zM272.6 208.39h2v3.87h-2zM296.65 208.39h2v3.87h-2zM134.26 212.26h2v3.87h-2zM158.32 212.26h2v3.87h-2zM172.35 212.26h2v3.87h-2zM180.37 212.26h2v3.87h-2zM192.4 212.26h2v3.87h-2zM222.48 212.26h2v3.87h-2zM270.59 212.26h2v3.87h-2zM308.68 212.26h2v3.87h-2zM348.78 212.26h2v3.87h-2zM124.24 216.14h2v3.87h-2zM150.3 216.14h2v3.87h-2zM188.39 216.14h2v3.87h-2zM122.23 220.01h2v3.87h-2zM112.21 223.88h2v3.87h-2zM136.27 223.88h2v3.87h-2zM166.34 223.88h2v3.87h-2zM116.22 227.75h2v3.87h-2zM216.46 227.75h2v3.87h-2zM260.57 227.75h2v3.87h-2zM116.22 231.63h2v3.87h-2zM132.26 231.63h2v3.87h-2zM174.36 231.63h2v3.87h-2zM178.37 231.63h2v3.87h-2zM238.51 231.63h2v3.87h-2z"/>
<path fill="#500a0a" d="M230.5 7h2v3.87h-2zM168.35 10.87h2v3.87h-2zM182.38 10.87h2v3.87h-2zM186.39 10.87h4.01v3.87h-4.01zM196.41 10.87h2v3.87h-2zM174.36 14.75h2v3.87h-2zM192.4 14.75h2v3.87h-2zM158.32 18.62h4.01v3.87h-4.01zM162.33 22.49h2v3.87h-2zM266.58 22.49h2v3.87h-2zM174.36 26.36h2v3.87h-2zM138.27 30.24h2v3.87h-2zM186.39 30.24h2v3.87h-2zM182.38 34.11h4.01v3.87h-4.01zM188.39 34.11h2v3.87h-2zM202.43 34.11h2v3.87h-2zM206.44 37.98h2v3.87h-2zM214.46 37.98h2v3.87h-2zM132.26 41.86h2v3.87h-2zM152.31 41.86h2v3.87h-2zM162.33 41.86h2v3.87h-2zM180.37 41.86h2v3.87h-2zM158.32 45.73h2v3.87h-2zM166.34 45.73h2v3.87h-2zM182.38 45.73h4.01v3.87h-4.01zM188.39 45.73h2v3.87h-2zM168.35 49.6h2v3.87h-2zM156.32 53.47h2v3.87h-2zM192.4 53.47h2v3.87h-2zM160.33 57.35h2v3.87h-2zM182.38 57.35h2v3.87h-2zM132.26 61.22h2v3.87h-2zM156.32 61.22h2v3.87h-2zM166.34 61.22h2v3.87h-2zM178.37 61.22h2v3.87h-2zM216.46 61.22h2v3.87h-2zM168.35 65.09h2v3.87h-2zM218.47 65.09h2v3.87h-2zM224.48 65.09h2v3.87h-2zM150.3 68.97h2v3.87h-2zM168.35 68.97h2v3.87h-2zM174.36 68.97h2v3.87h-2zM222.48 68.97h2v3.87h-2zM132.26 72.84h2v3.87h-2zM138.27 72.84h2v3.87h-2zM154.31 72.84h2v3.87h-2zM160.33 72.84h2v3.87h-2zM166.34 72.84h2v3.87h-2zM184.38 72.84h2v3.87h-2zM192.4 72.84h2v3.87h-2zM134.26 76.71h2v3.87h-2zM168.35 76.71h2v3.87h-2zM158.32 80.58h2v3.87h-2zM182.38 80.58h2v3.87h-2zM188.39 84.46h2v3.87h-2zM142.28 88.33h2v3.87h-2zM166.34 88.33h2v3.87h-2zM178.37 92.2h2v3.87h-2zM186.39 92.2h2v3.87h-2zM132.26 96.08h2v3.87h-2zM142.28 96.08h2v3.87h-2zM156.32 96.08h2v3.87h-2zM168.35 96.08h2v3.87h-2zM158.32 99.95h2v3.87h-2zM216.46 99.95h2v3.87h-2zM138.27 103.82h2v3.87h-2zM152.31 103.82h4.01v3.87h-4.01zM186.39 103.82h2v3.87h-2zM192.4 103.82h2v3.87h-2zM152.31 107.69h2v3.87h-2zM164.34 107.69h2v3.87h-2zM156.32 111.57h6.01v3.87h-6.01zM136.27 115.44h2v3.87h-2zM146.29 115.44h2v3.87h-2zM154.31 115.44h4.01v3.87h-4.01zM156.32 119.31h2v3.87h-2zM186.39 119.31h2v3.87h-2zM132.26 123.19h2v3.87h-2zM186.39 123.19h4.01v3.87h-4.01zM166.34 127.06h2v3.87h-2zM186.39 127.06h2v3.87h-2zM212.45 127.06h2v3.87h-2zM118.22 130.93h2v3.87h-2zM138.27 130.93h2v3.87h-2zM146.29 130.93h2v3.87h-2zM150.3 130.93h2v3.87h-2zM154.31 130.93h2v3.87h-2zM162.33 130.93h2v3.87h-2zM166.34 130.93h2v3.87h-2zM128.25 134.81h2v3.87h-2zM132.26 134.81h2v3.87h-2zM162.33 134.81h2v3.87h-2zM168.35 134.81h2v3.87h-2zM150.3 138.68h2v3.87h-2zM158.32 138.68h4.01v3.87h-4.01zM164.34 138.68h4.01v3.87h-4.01zM160.33 142.55h2v3.87h-2zM156.32 146.42h2v3.87h-2zM166.34 146.42h2v3.87h-2zM200.42 146.42h2v3.87h-2zM118.22 150.3h4.01v3.87h-4.01zM136.27 150.3h2v3.87h-2zM146.29 150.3h2v3.87h-2zM198.42 150.3h2v3.87h-2zM118.22 154.17h2v3.87h-2zM128.25 154.17h2v3.87h-2zM154.31 154.17h2v3.87h-2zM162.33 154.17h2v3.87h-2zM188.39 154.17h2v3.87h-2zM124.24 158.04h2v3.87h-2zM152.31 158.04h2v3.87h-2zM162.33 158.04h2v3.87h-2zM186.39 158.04h2v3.87h-2zM124.24 161.92h2v3.87h-2zM128.25 161.92h2v3.87h-2zM156.32 161.92h2v3.87h-2zM188.39 161.92h2v3.87h-2zM220.47 161.92h2v3.87h-2zM120.23 165.79h2v3.87h-2zM126.24 165.79h2v3.87h-2zM154.31 165.79h2v3.87h-2zM162.33 165.79h2v3.87h-2zM126.24 169.66h2v3.87h-2zM132.26 169.66h2v3.87h-2zM136.27 169.66h2v3.87h-2zM140.28 169.66h2v3.87h-2zM156.32 169.66h2v3.87h-2zM168.35 169.66h2v3.87h-2zM186.39 169.66h4.01v3.87h-4.01zM192.4 169.66h2v3.87h-2zM216.46 169.66h2v3.87h-2zM150.3 173.53h4.01v3.87h-4.01zM160.33 173.53h2v3.87h-2zM164.34 173.53h4.01v3.87h-4.01zM174.36 173.53h2v3.87h-2zM212.45 173.53h2v3.87h-2zM278.61 173.53h2v3.87h-2zM116.22 177.41h4.01v3.87h-4.01zM128.25 177.41h2v3.87h-2zM136.27 177.41h2v3.87h-2zM154.31 177.41h2v3.87h-2zM192.4 177.41h2v3.87h-2zM116.22 181.28h2v3.87h-2zM152.31 181.28h2v3.87h-2zM156.32 181.28h2v3.87h-2zM160.33 181.28h2v3.87h-2zM164.34 181.28h2v3.87h-2zM188.39 181.28h2v3.87h-2zM120.23 185.15h2v3.87h-2zM186.39 185.15h2v3.87h-2zM120.23 189.03h2v3.87h-2zM130.25 189.03h4.01v3.87h-4.01zM138.27 189.03h4.01v3.87h-4.01zM152.31 189.03h2v3.87h-2zM158.32 189.03h2v3.87h-2zM126.24 192.9h2v3.87h-2zM142.28 192.9h2v3.87h-2zM216.46 192.9h2v3.87h-2zM270.59 192.9h2v3.87h-2zM124.24 196.77h2v3.87h-2zM128.25 196.77h2v3.87h-2zM154.31 196.77h2v3.87h-2zM130.25 200.64h2v3.87h-2zM160.33 200.64h2v3.87h-2zM174.36 204.52h2v3.87h-2zM222.48 204.52h2v3.87h-2zM128.25 208.39h2v3.87h-2zM154.31 208.39h2v3.87h-2zM158.32 208.39h2v3.87h-2zM162.33 208.39h4.01v3.87h-4.01zM168.35 208.39h2v3.87h-2zM186.39 208.39h4.01v3.87h-4.01zM128.25 212.26h2v3.87h-2zM166.34 212.26h2v3.87h-2zM182.38 212.26h2v3.87h-2zM216.46 212.26h2v3.87h-2zM272.6 212.26h2v3.87h-2zM282.62 212.26h2v3.87h-2zM122.23 216.14h2v3.87h-2zM126.24 216.14h2v3.87h-2zM134.26 216.14h2v3.87h-2zM182.38 216.14h2v3.87h-2zM128.25 220.01h2v3.87h-2zM132.26 220.01h2v3.87h-2zM140.28 220.01h2v3.87h-2zM160.33 220.01h2v3.87h-2zM164.34 220.01h2v3.87h-2zM116.22 223.88h2v3.87h-2zM124.24 223.88h2v3.87h-2zM130.25 223.88h2v3.87h-2zM134.26 223.88h2v3.87h-2zM162.33 223.88h2v3.87h-2zM132.26 227.75h4.01v3.87h-4.01zM160.33 227.75h2v3.87h-2zM168.35 227.75h2v3.87h-2zM188.39 227.75h2v3.87h-2zM194.41 227.75h2v3.87h-2zM238.51 227.75h2v3.87h-2zM276.61 227.75h2v3.87h-2zM138.27 231.63h2v3.87h-2zM170.35 231.63h2v3.87h-2zM182.38 231.63h2v3.87h-2zM192.4 231.63h2v3.87h-2zM198.42 231.63h4.01v3.87h-4.01z"/>
<path fill="#0a320a" d="M240.52 7h2v3.87h-2zM246.53 10.87h2v3.87h-2zM254.55 10.87h2v3.87h-2zM334.75 10.87h2v3.87h-2zM250.54 14.75h4.01v3.87h-4.01zM268.59 14.75h2v3.87h-2zM340.76 14.75h2v3.87h-2zM190.4 18.62h2v3.87h-2zM246.53 22.49h2v3.87h-2zM252.55 22.49h2v3.87h-2zM256.56 22.49h2v3.87h-2zM330.74 22.49h2v3.87h-2zM352.79 22.49h2v3.87h-2zM224.48 26.36h2v3.87h-2zM284.63 26.36h2v3.87h-2zM252.55 30.24h4.01v3.87h-4.01zM280.62 30.24h2v3.87h-2zM296.65 30.24h2v3.87h-2zM340.76 30.24h2v3.87h-2zM280.62 34.11h2v3.87h-2zM320.71 34.11h2v3.87h-2zM340.76 34.11h2v3.87h-2zM348.78 34.11h2v3.87h-2zM228.49 37.98h2v3.87h-2zM248.54 37.98h2v3.87h-2zM266.58 37.98h2v3.87h-2zM224.48 41.86h2v3.87h-2zM274.6 41.86h2v3.87h-2zM254.55 45.73h2v3.87h-2zM284.63 45.73h2v3.87h-2zM304.67 45.73h2v3.87h-2zM320.71 45.73h2v3.87h-2zM286.63 49.6h2v3.87h-2zM264.58 53.47h2v3.87h-2zM304.67 53.47h4.01v3.87h-4.01zM242.52 57.35h6.01v3.87h-6.01zM274.6 57.35h2v3.87h-2zM306.68 57.35h2v3.87h-2zM314.7 57.35h2v3.87h-2zM332.74 57.35h2v3.87h-2zM350.79 57.35h2v3.87h-2zM218.47 61.22h2v3.87h-2zM222.48 61.22h2v3.87h-2zM288.64 61.22h2v3.87h-2zM294.65 61.22h2v3.87h-2zM314.7 61.22h2v3.87h-2zM332.74 61.22h2v3.87h-2zM348.78 61.22h4.01v3.87h-4.01zM262.57 65.09h2v3.87h-2zM292.65 65.09h2v3.87h-2zM260.57 68.97h2v3.87h-2zM292.65 68.97h2v3.87h-2zM296.65 68.97h2v3.87h-2zM304.67 68.97h2v3.87h-2zM248.54 72.84h2v3.87h-2zM278.61 76.71h4.01v3.87h-4.01zM178.37 80.58h2v3.87h-2zM252.55 80.58h2v3.87h-2zM258.56 80.58h2v3.87h-2zM294.65 80.58h2v3.87h-2zM334.75 80.58h2v3.87h-2zM266.58 84.46h2v3.87h-2zM278.61 88.33h4.01v3.87h-4.01zM306.68 88.33h2v3.87h-2zM352.79 88.33h2v3.87h-2zM180.37 96.08h2v3.87h-2zM246.53 96.08h2v3.87h-2zM250.54 96.08h2v3.87h-2zM254.55 96.08h2v3.87h-2zM228.49 99.95h2v3.87h-2zM250.54 99.95h2v3.87h-2zM258.56 99.95h2v3.87h-2zM270.59 99.95h2v3.87h-2zM286.63 99.95h2v3.87h-2zM338.76 99.95h2v3.87h-2zM270.59 103.82h4.01v3.87h-4.01zM288.64 103.82h2v3.87h-2zM350.79 103.82h2v3.87h-2zM204.43 107.69h2v3.87h-2zM224.48 107.69h2v3.87h-2zM246.53 107.69h2v3.87h-2zM282.62 107.69h2v3.87h-2zM346.78 107.69h2v3.87h-2zM192.4 111.57h2v3.87h-2zM280.62 111.57h2v3.87h-2zM256.56 119.31h2v3.87h-2zM282.62 119.31h2v3.87h-2zM298.66 119.31h2v3.87h-2zM310.69 119.31h2v3.87h-2zM320.71 119.31h2v3.87h-2zM334.75 119.31h4.01v3.87h-4.01zM342.77 119.31h2v3.87h-2zM352.79 119.31h2v3.87h-2zM302.67 123.19h2v3.87h-2zM334.75 123.19h2v3.87h-2zM338.76 123.19h2v3.87h-2zM276.61 127.06h2v3.87h-2zM286.63 127.06h2v3.87h-2zM302.67 127.06h2v3.87h-2zM314.7 127.06h2v3.87h-2zM326.73 127.06h4.01v3.87h-4.01zM226.49 130.93h2v3.87h-2zM236.51 130.93h2v3.87h-2zM250.54 130.93h4.01v3.87h-4.01zM256.56 130.93h2v3.87h-2zM284.63 130.93h2v3.87h-2zM288.64 130.93h2v3.87h-2zM304.67 130.93h2v3.87h-2zM324.72 130.93h2v3.87h-2zM340.76 130.93h2v3.87h-2zM204.43 134.81h2v3.87h-2zM250.54 134.81h2v3.87h-2zM240.52 138.68h2v3.87h-2zM338.76 138.68h2v3.87h-2zM272.6 142.55h2v3.87h-2zM278.61 142.55h2v3.87h-2zM334.75 142.55h2v3.87h-2zM226.49 146.42h2v3.87h-2zM306.68 146.42h2v3.87h-2zM344.77 146.42h2v3.87h-2zM178.37 150.3h2v3.87h-2zM212.45 150.3h2v3.87h-2zM222.48 150.3h2v3.87h-2zM226.49 150.3h2v3.87h-2zM250.54 150.3h2v3.87h-2zM280.62 150.3h2v3.87h-2zM286.63 150.3h2v3.87h-2zM308.68 150.3h2v3.87h-2zM348.78 150.3h2v3.87h-2zM236.51 154.17h2v3.87h-2zM262.57 154.17h2v3.87h-2zM304.67 154.17h2v3.87h-2zM276.61 158.04h2v3.87h-2zM326.73 158.04h2v3.87h-2zM258.56 161.92h2v3.87h-2zM272.6 161.92h2v3.87h-2zM280.62 161.92h2v3.87h-2zM298.66 161.92h2v3.87h-2zM302.67 161.92h2v3.87h-2zM306.68 161.92h2v3.87h-2zM312.69 161.92h2v3.87h-2zM320.71 161.92h2v3.87h-2zM334.75 161.92h2v3.87h-2zM346.78 161.92h2v3.87h-2zM180.37 165.79h2v3.87h-2zM310.69 165.79h2v3.87h-2zM318.71 165.79h4.01v3.87h-4.01zM340.76 165.79h2v3.87h-2zM346.78 165.79h2v3.87h-2zM180.37 169.66h2v3.87h-2zM260.57 169.66h2v3.87h-2zM258.56 173.53h2v3.87h-2zM274.6 173.53h2v3.87h-2zM288.64 173.53h2v3.87h-2zM176.36 177.41h2v3.87h-2zM282.62 177.41h2v3.87h-2zM172.35 181.28h2v3.87h-2zM218.47 181.28h2v3.87h-2zM276.61 181.28h2v3.87h-2zM288.64 181.28h2v3.87h-2zM296.65 181.28h2v3.87h-2zM302.67 181.28h2v3.87h-2zM182.38 185.15h2v3.87h-2zM194.41 185.15h2v3.87h-2zM218.47 185.15h2v3.87h-2zM236.51 185.15h2v3.87h-2zM276.61 185.15h2v3.87h-2zM296.65 185.15h2v3.87h-2zM306.68 185.15h2v3.87h-2zM334.75 185.15h2v3.87h-2zM204.43 189.03h2v3.87h-2zM220.47 189.03h4.01v3.87h-4.01zM236.51 189.03h2v3.87h-2zM264.58 189.03h2v3.87h-2zM268.59 189.03h2v3.87h-2zM278.61 189.03h2v3.87h-2zM300.66 189.03h2v3.87h-2zM272.6 192.9h2v3.87h-2zM352.79 192.9h2v3.87h-2zM204.43 196.77h2v3.87h-2zM224.48 196.77h2v3.87h-2zM280.62 196.77h2v3.87h-2zM304.67 196.77h2v3.87h-2zM172.35 200.64h2v3.87h-2zM242.52 200.64h2v3.87h-2zM298.66 200.64h2v3.87h-2zM278.61 204.52h2v3.87h-2zM290.64 204.52h2v3.87h-2zM306.68 204.52h2v3.87h-2zM352.79 204.52h2v3.87h-2zM204.43 208.39h2v3.87h-2zM268.59 212.26h2v3.87h-2zM214.46 216.14h2v3.87h-2zM246.53 220.01h2v3.87h-2zM252.55 220.01h2v3.87h-2zM256.56 220.01h2v3.87h-2zM266.58 220.01h2v3.87h-2zM274.6 220.01h2v3.87h-2zM190.4 223.88h2v3.87h-2zM216.46 223.88h2v3.87h-2zM224.48 223.88h2v3.87h-2zM244.53 223.88h4.01v3.87h-4.01zM254.55 223.88h2v3.87h-2zM312.69 223.88h2v3.87h-2zM180.37 227.75h2v3.87h-2zM204.43 227.75h2v3.87h-2zM280.62 227.75h2v3.87h-2zM288.64 227.75h2v3.87h-2zM312.69 227.75h2v3.87h-2zM348.78 231.63h4.01v3.87h-4.01zM354.8 231.63h2v3.87h-2z"/>
<path fill="#0a280a" d="M242.52 7h2v3.87h-2zM250.54 7h4.01v3.87h-4.01zM268.59 7h2v3.87h-2zM306.68 7h2v3.87h-2zM320.71 7h2v3.87h-2zM324.72 7h2v3.87h-2zM346.78 7h2v3.87h-2zM350.79 7h2v3.87h-2zM224.48 10.87h2v3.87h-2zM240.52 10.87h4.01v3.87h-4.01zM272.6 10.87h2v3.87h-2zM280.62 10.87h2v3.87h-2zM288.64 10.87h2v3.87h-2zM310.69 10.87h2v3.87h-2zM266.58 14.75h2v3.87h-2zM280.62 14.75h2v3.87h-2zM338.76 14.75h2v3.87h-2zM242.52 18.62h4.01v3.87h-4.01zM250.54 18.62h2v3.87h-2zM254.55 18.62h2v3.87h-2zM274.6 18.62h2v3.87h-2zM288.64 18.62h2v3.87h-2zM294.65 18.62h2v3.87h-2zM348.78 18.62h2v3.87h-2zM204.43 22.49h2v3.87h-2zM226.49 22.49h2v3.87h-2zM248.54 22.49h4.01v3.87h-4.01zM264.58 22.49h2v3.87h-2zM302.67 22.49h2v3.87h-2zM354.8 22.49h2v3.87h-2zM236.51 26.36h2v3.87h-2zM242.52 26.36h2v3.87h-2zM250.54 26.36h6.01v3.87h-6.01zM264.58 26.36h2v3.87h-2zM272.6 26.36h2v3.87h-2zM208.44 30.24h2v3.87h-2zM236.51 30.24h2v3.87h-2zM244.53 30.24h2v3.87h-2zM250.54 30.24h2v3.87h-2zM286.63 30.24h2v3.87h-2zM292.65 30.24h2v3.87h-2zM334.75 30.24h2v3.87h-2zM226.49 34.11h2v3.87h-2zM254.55 34.11h2v3.87h-2zM268.59 34.11h2v3.87h-2zM288.64 34.11h2v3.87h-2zM298.66 34.11h2v3.87h-2zM310.69 34.11h2v3.87h-2zM332.74 34.11h2v3.87h-2zM236.51 37.98h2v3.87h-2zM246.53 37.98h2v3.87h-2zM252.55 37.98h2v3.87h-2zM270.59 37.98h2v3.87h-2zM244.53 41.86h2v3.87h-2zM256.56 41.86h2v3.87h-2zM282.62 41.86h2v3.87h-2zM288.64 41.86h2v3.87h-2zM222.48 45.73h4.01v3.87h-4.01zM228.49 45.73h2v3.87h-2zM244.53 45.73h2v3.87h-2zM250.54 45.73h2v3.87h-2zM264.58 45.73h2v3.87h-2zM270.59 45.73h4.01v3.87h-4.01zM280.62 45.73h2v3.87h-2zM236.51 49.6h2v3.87h-2zM254.55 49.6h2v3.87h-2zM262.57 49.6h2v3.87h-2zM298.66 49.6h2v3.87h-2zM302.67 49.6h2v3.87h-2zM310.69 49.6h2v3.87h-2zM316.7 49.6h2v3.87h-2zM246.53 53.47h2v3.87h-2zM252.55 53.47h2v3.87h-2zM278.61 53.47h2v3.87h-2zM296.65 53.47h2v3.87h-2zM272.6 57.35h2v3.87h-2zM296.65 57.35h2v3.87h-2zM302.67 57.35h2v3.87h-2zM308.68 57.35h2v3.87h-2zM252.55 61.22h2v3.87h-2zM264.58 61.22h2v3.87h-2zM268.59 61.22h2v3.87h-2zM334.75 61.22h2v3.87h-2zM268.59 65.09h2v3.87h-2zM272.6 65.09h2v3.87h-2zM304.67 65.09h2v3.87h-2zM228.49 68.97h2v3.87h-2zM212.45 72.84h2v3.87h-2zM236.51 72.84h2v3.87h-2zM270.59 72.84h2v3.87h-2zM276.61 72.84h4.01v3.87h-4.01zM236.51 76.71h2v3.87h-2zM248.54 76.71h2v3.87h-2zM296.65 76.71h2v3.87h-2zM220.47 80.58h2v3.87h-2zM232.5 80.58h2v3.87h-2zM296.65 80.58h2v3.87h-2zM248.54 84.46h2v3.87h-2zM206.44 88.33h2v3.87h-2zM236.51 88.33h2v3.87h-2zM240.52 88.33h2v3.87h-2zM244.53 88.33h2v3.87h-2zM248.54 88.33h2v3.87h-2zM302.67 88.33h2v3.87h-2zM228.49 92.2h2v3.87h-2zM252.55 92.2h2v3.87h-2zM262.57 92.2h2v3.87h-2zM276.61 92.2h2v3.87h-2zM284.63 92.2h2v3.87h-2zM314.7 92.2h2v3.87h-2zM350.79 92.2h2v3.87h-2zM226.49 96.08h2v3.87h-2zM244.53 96.08h2v3.87h-2zM226.49 99.95h2v3.87h-2zM242.52 99.95h2v3.87h-2zM262.57 99.95h2v3.87h-2zM278.61 99.95h2v3.87h-2zM298.66 99.95h2v3.87h-2zM344.77 99.95h2v3.87h-2zM304.67 103.82h4.01v3.87h-4.01zM310.69 103.82h2v3.87h-2zM178.37 107.69h2v3.87h-2zM206.44 107.69h2v3.87h-2zM220.47 107.69h2v3.87h-2zM226.49 107.69h2v3.87h-2zM238.51 107.69h4.01v3.87h-4.01zM254.55 107.69h2v3.87h-2zM292.65 107.69h2v3.87h-2zM218.47 111.57h2v3.87h-2zM242.52 111.57h2v3.87h-2zM246.53 111.57h2v3.87h-2zM262.57 111.57h2v3.87h-2zM190.4 115.44h2v3.87h-2zM204.43 115.44h2v3.87h-2zM208.44 115.44h2v3.87h-2zM224.48 115.44h2v3.87h-2zM232.5 115.44h2v3.87h-2zM236.51 115.44h2v3.87h-2zM244.53 115.44h4.01v3.87h-4.01zM250.54 115.44h6.01v3.87h-6.01zM174.36 119.31h2v3.87h-2zM258.56 119.31h2v3.87h-2zM274.6 119.31h2v3.87h-2zM308.68 119.31h2v3.87h-2zM344.77 119.31h2v3.87h-2zM256.56 123.19h2v3.87h-2zM268.59 123.19h2v3.87h-2zM276.61 123.19h2v3.87h-2zM316.7 123.19h2v3.87h-2zM320.71 123.19h2v3.87h-2zM332.74 123.19h2v3.87h-2zM256.56 127.06h2v3.87h-2zM262.57 127.06h2v3.87h-2zM274.6 127.06h2v3.87h-2zM284.63 127.06h2v3.87h-2zM290.64 127.06h2v3.87h-2zM294.65 127.06h2v3.87h-2zM308.68 127.06h2v3.87h-2zM320.71 127.06h2v3.87h-2zM338.76 127.06h2v3.87h-2zM198.42 130.93h2v3.87h-2zM224.48 130.93h2v3.87h-2zM232.5 130.93h2v3.87h-2zM242.52 130.93h2v3.87h-2zM248.54 130.93h2v3.87h-2zM272.6 130.93h2v3.87h-2zM282.62 130.93h2v3.87h-2zM302.67 130.93h2v3.87h-2zM310.69 130.93h2v3.87h-2zM334.75 130.93h2v3.87h-2zM178.37 134.81h2v3.87h-2zM192.4 134.81h2v3.87h-2zM206.44 134.81h4.01v3.87h-4.01zM222.48 134.81h2v3.87h-2zM232.5 134.81h2v3.87h-2zM254.55 134.81h2v3.87h-2zM218.47 138.68h2v3.87h-2zM226.49 138.68h2v3.87h-2zM272.6 138.68h2v3.87h-2zM284.63 138.68h2v3.87h-2zM294.65 138.68h2v3.87h-2zM304.67 138.68h2v3.87h-2zM312.69 138.68h2v3.87h-2zM320.71 138.68h2v3.87h-2zM204.43 142.55h2v3.87h-2zM258.56 142.55h2v3.87h-2zM262.57 142.55h2v3.87h-2zM328.73 142.55h2v3.87h-2zM346.78 142.55h2v3.87h-2zM240.52 146.42h2v3.87h-2zM204.43 150.3h2v3.87h-2zM254.55 150.3h2v3.87h-2zM264.58 150.3h2v3.87h-2zM294.65 150.3h2v3.87h-2zM310.69 150.3h2v3.87h-2zM350.79 150.3h4.01v3.87h-4.01zM246.53 154.17h2v3.87h-2zM278.61 154.17h2v3.87h-2zM284.63 154.17h4.01v3.87h-4.01zM290.64 154.17h2v3.87h-2zM236.51 158.04h2v3.87h-2zM240.52 158.04h2v3.87h-2zM254.55 158.04h2v3.87h-2zM258.56 158.04h2v3.87h-2zM262.57 158.04h2v3.87h-2zM268.59 158.04h2v3.87h-2zM290.64 158.04h2v3.87h-2zM304.67 158.04h2v3.87h-2zM340.76 158.04h2v3.87h-2zM346.78 158.04h2v3.87h-2zM172.35 161.92h2v3.87h-2zM204.43 161.92h2v3.87h-2zM264.58 161.92h2v3.87h-2zM300.66 161.92h2v3.87h-2zM316.7 161.92h2v3.87h-2zM176.36 165.79h2v3.87h-2zM212.45 165.79h2v3.87h-2zM216.46 165.79h2v3.87h-2zM248.54 165.79h2v3.87h-2zM264.58 165.79h2v3.87h-2zM274.6 165.79h2v3.87h-2zM282.62 165.79h2v3.87h-2zM302.67 165.79h2v3.87h-2zM204.43 169.66h2v3.87h-2zM290.64 169.66h4.01v3.87h-4.01zM312.69 169.66h2v3.87h-2zM316.7 169.66h2v3.87h-2zM320.71 169.66h2v3.87h-2zM264.58 173.53h2v3.87h-2zM298.66 173.53h2v3.87h-2zM304.67 173.53h2v3.87h-2zM310.69 173.53h2v3.87h-2zM338.76 173.53h2v3.87h-2zM224.48 177.41h2v3.87h-2zM254.55 177.41h2v3.87h-2zM176.36 181.28h2v3.87h-2zM222.48 181.28h2v3.87h-2zM240.52 181.28h4.01v3.87h-4.01zM254.55 181.28h2v3.87h-2zM272.6 181.28h2v3.87h-2zM170.35 185.15h2v3.87h-2zM200.42 185.15h2v3.87h-2zM232.5 185.15h2v3.87h-2zM246.53 185.15h2v3.87h-2zM250.54 185.15h2v3.87h-2zM298.66 185.15h2v3.87h-2zM336.75 185.15h2v3.87h-2zM242.52 189.03h2v3.87h-2zM282.62 189.03h2v3.87h-2zM290.64 189.03h2v3.87h-2zM306.68 189.03h2v3.87h-2zM324.72 189.03h2v3.87h-2zM254.55 192.9h4.01v3.87h-4.01zM302.67 192.9h2v3.87h-2zM236.51 196.77h2v3.87h-2zM270.59 196.77h2v3.87h-2zM190.4 200.64h2v3.87h-2zM226.49 200.64h2v3.87h-2zM240.52 200.64h2v3.87h-2zM248.54 200.64h2v3.87h-2zM252.55 200.64h2v3.87h-2zM264.58 200.64h2v3.87h-2zM284.63 200.64h4.01v3.87h-4.01zM224.48 204.52h2v3.87h-2zM250.54 204.52h2v3.87h-2zM258.56 204.52h2v3.87h-2zM270.59 204.52h2v3.87h-2zM284.63 204.52h2v3.87h-2zM292.65 204.52h2v3.87h-2zM296.65 204.52h2v3.87h-2zM300.66 204.52h2v3.87h-2zM208.44 208.39h2v3.87h-2zM228.49 208.39h2v3.87h-2zM256.56 208.39h2v3.87h-2zM300.66 208.39h2v3.87h-2zM326.73 208.39h2v3.87h-2zM332.74 208.39h2v3.87h-2zM312.69 212.26h2v3.87h-2zM332.74 212.26h2v3.87h-2zM212.45 216.14h2v3.87h-2zM236.51 216.14h2v3.87h-2zM254.55 216.14h2v3.87h-2zM276.61 216.14h2v3.87h-2zM292.65 216.14h2v3.87h-2zM320.71 216.14h2v3.87h-2zM180.37 220.01h2v3.87h-2zM248.54 220.01h2v3.87h-2zM288.64 220.01h2v3.87h-2zM196.41 223.88h2v3.87h-2zM222.48 223.88h2v3.87h-2zM226.49 223.88h2v3.87h-2zM232.5 223.88h2v3.87h-2zM240.52 223.88h2v3.87h-2zM248.54 223.88h2v3.87h-2zM252.55 223.88h2v3.87h-2zM266.58 223.88h2v3.87h-2zM278.61 223.88h2v3.87h-2zM306.68 223.88h2v3.87h-2zM310.69 223.88h2v3.87h-2zM202.43 227.75h2v3.87h-2zM226.49 227.75h2v3.87h-2zM256.56 227.75h2v3.87h-2zM286.63 227.75h2v3.87h-2zM308.68 227.75h2v3.87h-2zM316.7 227.75h2v3.87h-2zM324.72 227.75h2v3.87h-2zM328.73 227.75h2v3.87h-2zM354.8 227.75h2v3.87h-2zM190.4 231.63h2v3.87h-2zM272.6 231.63h2v3.87h-2zM314.7 231.63h2v3.87h-2zM342.77 231.63h2v3.87h-2z"/>
<path fill="#146414" d="M256.56 7h2v3.87h-2zM292.65 10.87h2v3.87h-2zM300.66 10.87h2v3.87h-2zM332.74 10.87h2v3.87h-2zM292.65 14.75h2v3.87h-2zM308.68 14.75h2v3.87h-2zM256.56 18.62h2v3.87h-2zM308.68 18.62h2v3.87h-2zM270.59 22.49h2v3.87h-2zM326.73 22.49h2v3.87h-2zM280.62 26.36h2v3.87h-2zM298.66 26.36h2v3.87h-2zM256.56 30.24h2v3.87h-2zM342.77 30.24h2v3.87h-2zM354.8 30.24h2v3.87h-2zM300.66 34.11h2v3.87h-2zM316.7 34.11h4.01v3.87h-4.01zM330.74 34.11h2v3.87h-2zM344.77 34.11h4.01v3.87h-4.01zM294.65 41.86h2v3.87h-2zM314.7 41.86h2v3.87h-2zM328.73 41.86h2v3.87h-2zM352.79 41.86h2v3.87h-2zM274.6 45.73h2v3.87h-2zM278.61 45.73h2v3.87h-2zM282.62 45.73h2v3.87h-2zM334.75 45.73h2v3.87h-2zM344.77 45.73h2v3.87h-2zM274.6 49.6h4.01v3.87h-4.01zM288.64 49.6h2v3.87h-2zM294.65 49.6h2v3.87h-2zM314.7 49.6h2v3.87h-2zM336.75 49.6h8.02v3.87h-8.02zM348.78 49.6h2v3.87h-2zM272.6 53.47h2v3.87h-2zM284.63 53.47h2v3.87h-2zM328.73 53.47h2v3.87h-2zM334.75 53.47h2v3.87h-2zM326.73 57.35h2v3.87h-2zM336.75 57.35h2v3.87h-2zM354.8 57.35h2v3.87h-2zM256.56 61.22h2v3.87h-2zM260.57 61.22h2v3.87h-2zM318.71 61.22h4.01v3.87h-4.01zM340.76 61.22h4.01v3.87h-4.01zM354.8 61.22h2v3.87h-2zM266.58 65.09h2v3.87h-2zM274.6 68.97h2v3.87h-2zM286.63 68.97h2v3.87h-2zM294.65 68.97h2v3.87h-2zM300.66 68.97h2v3.87h-2zM322.72 68.97h2v3.87h-2zM344.77 68.97h2v3.87h-2zM280.62 72.84h2v3.87h-2zM284.63 72.84h2v3.87h-2zM288.64 72.84h2v3.87h-2zM294.65 72.84h2v3.87h-2zM308.68 72.84h2v3.87h-2zM330.74 72.84h2v3.87h-2zM284.63 76.71h2v3.87h-2zM294.65 76.71h2v3.87h-2zM300.66 76.71h2v3.87h-2zM344.77 76.71h4.01v3.87h-4.01zM298.66 80.58h2v3.87h-2zM306.68 80.58h2v3.87h-2zM320.71 80.58h2v3.87h-2zM328.73 80.58h2v3.87h-2zM338.76 80.58h2v3.87h-2zM332.74 84.46h2v3.87h-2zM346.78 84.46h2v3.87h-2zM294.65 88.33h2v3.87h-2zM298.66 88.33h4.01v3.87h-4.01zM322.72 88.33h2v3.87h-2zM342.77 88.33h2v3.87h-2zM264.58 92.2h2v3.87h-2zM274.6 92.2h2v3.87h-2zM294.65 92.2h6.01v3.87h-6.01zM310.69 92.2h2v3.87h-2zM320.71 92.2h2v3.87h-2zM346.78 92.2h2v3.87h-2zM276.61 96.08h2v3.87h-2zM294.65 96.08h2v3.87h-2zM348.78 96.08h2v3.87h-2zM352.79 96.08h2v3.87h-2zM256.56 99.95h2v3.87h-2zM306.68 99.95h4.01v3.87h-4.01zM318.71 99.95h2v3.87h-2zM328.73 99.95h2v3.87h-2zM354.8 99.95h2v3.87h-2zM300.66 103.82h2v3.87h-2zM322.72 103.82h2v3.87h-2zM340.76 103.82h2v3.87h-2zM344.77 103.82h2v3.87h-2zM348.78 103.82h2v3.87h-2zM266.58 107.69h2v3.87h-2zM302.67 107.69h2v3.87h-2zM306.68 107.69h2v3.87h-2zM352.79 107.69h2v3.87h-2zM304.67 111.57h2v3.87h-2zM316.7 111.57h2v3.87h-2zM334.75 111.57h2v3.87h-2zM268.59 115.44h2v3.87h-2zM280.62 115.44h2v3.87h-2zM288.64 115.44h2v3.87h-2zM336.75 123.19h2v3.87h-2zM268.59 127.06h2v3.87h-2zM320.71 130.93h2v3.87h-2zM258.56 134.81h2v3.87h-2zM266.58 134.81h2v3.87h-2zM320.71 134.81h2v3.87h-2zM310.69 138.68h2v3.87h-2zM322.72 138.68h4.01v3.87h-4.01zM348.78 138.68h4.01v3.87h-4.01zM274.6 146.42h2v3.87h-2zM280.62 146.42h2v3.87h-2zM290.64 146.42h2v3.87h-2zM298.66 146.42h2v3.87h-2zM330.74 146.42h4.01v3.87h-4.01zM350.79 146.42h2v3.87h-2zM306.68 150.3h2v3.87h-2zM324.72 150.3h2v3.87h-2zM328.73 150.3h2v3.87h-2zM354.8 150.3h2v3.87h-2zM274.6 154.17h4.01v3.87h-4.01zM318.71 154.17h2v3.87h-2zM344.77 154.17h2v3.87h-2zM312.69 158.04h2v3.87h-2zM286.63 165.79h2v3.87h-2zM322.72 165.79h2v3.87h-2zM264.58 169.66h2v3.87h-2zM328.73 169.66h2v3.87h-2zM338.76 169.66h2v3.87h-2zM320.71 173.53h2v3.87h-2zM340.76 173.53h2v3.87h-2zM348.78 173.53h2v3.87h-2zM352.79 173.53h2v3.87h-2zM262.57 177.41h2v3.87h-2zM302.67 177.41h2v3.87h-2zM256.56 181.28h2v3.87h-2zM306.68 181.28h2v3.87h-2zM316.7 181.28h2v3.87h-2zM320.71 181.28h2v3.87h-2zM336.75 181.28h2v3.87h-2zM342.77 181.28h2v3.87h-2zM258.56 185.15h2v3.87h-2zM294.65 185.15h2v3.87h-2zM304.67 185.15h2v3.87h-2zM354.8 185.15h2v3.87h-2zM224.48 189.03h2v3.87h-2zM314.7 189.03h2v3.87h-2zM330.74 189.03h2v3.87h-2zM314.7 192.9h2v3.87h-2zM320.71 192.9h2v3.87h-2zM300.66 196.77h4.01v3.87h-4.01zM256.56 200.64h2v3.87h-2zM300.66 200.64h2v3.87h-2zM304.67 200.64h4.01v3.87h-4.01zM280.62 204.52h2v3.87h-2zM340.76 204.52h2v3.87h-2zM316.7 208.39h2v3.87h-2zM342.77 212.26h2v3.87h-2zM300.66 216.14h2v3.87h-2zM324.72 216.14h2v3.87h-2zM330.74 216.14h2v3.87h-2zM338.76 216.14h2v3.87h-2zM308.68 220.01h2v3.87h-2zM314.7 220.01h2v3.87h-2zM340.76 220.01h4.01v3.87h-4.01zM336.75 223.88h2v3.87h-2zM350.79 223.88h2v3.87h-2zM340.76 227.75h2v3.87h-2z"/>
<path fill="#148214" d="M258.56 7h2v3.87h-2zM256.56 14.75h2v3.87h-2zM354.8 14.75h2v3.87h-2zM322.72 18.62h2v3.87h-2zM350.79 18.62h2v3.87h-2zM332.74 26.36h2v3.87h-2zM312.69 30.24h2v3.87h-2zM330.74 30.24h2v3.87h-2zM306.68 34.11h2v3.87h-2zM304.67 37.98h2v3.87h-2zM312.69 37.98h2v3.87h-2zM324.72 37.98h2v3.87h-2zM306.68 41.86h2v3.87h-2zM318.71 41.86h2v3.87h-2zM338.76 41.86h2v3.87h-2zM354.8 41.86h2v3.87h-2zM310.69 45.73h2v3.87h-2zM348.78 45.73h2v3.87h-2zM352.79 49.6h2v3.87h-2zM256.56 53.47h4.01v3.87h-4.01zM308.68 53.47h2v3.87h-2zM338.76 53.47h4.01v3.87h-4.01zM350.79 53.47h2v3.87h-2zM258.56 61.22h2v3.87h-2zM322.72 61.22h2v3.87h-2zM308.68 65.09h2v3.87h-2zM312.69 65.09h2v3.87h-2zM334.75 65.09h2v3.87h-2zM354.8 65.09h2v3.87h-2zM310.69 68.97h2v3.87h-2zM342.77 68.97h2v3.87h-2zM302.67 72.84h2v3.87h-2zM312.69 72.84h2v3.87h-2zM318.71 72.84h2v3.87h-2zM344.77 72.84h2v3.87h-2zM354.8 72.84h2v3.87h-2zM258.56 76.71h2v3.87h-2zM316.7 76.71h2v3.87h-2zM352.79 76.71h4.01v3.87h-4.01zM312.69 80.58h2v3.87h-2zM332.74 80.58h2v3.87h-2zM272.6 84.46h4.01v3.87h-4.01zM304.67 84.46h2v3.87h-2zM318.71 84.46h2v3.87h-2zM338.76 84.46h2v3.87h-2zM312.69 88.33h2v3.87h-2zM324.72 88.33h2v3.87h-2zM342.77 92.2h2v3.87h-2zM286.63 96.08h2v3.87h-2zM312.69 96.08h2v3.87h-2zM326.73 96.08h6.01v3.87h-6.01zM334.75 96.08h2v3.87h-2zM326.73 103.82h2v3.87h-2zM258.56 111.57h2v3.87h-2zM276.61 115.44h2v3.87h-2zM296.65 115.44h2v3.87h-2zM310.69 115.44h2v3.87h-2zM324.72 115.44h2v3.87h-2zM324.72 119.31h2v3.87h-2zM314.7 123.19h2v3.87h-2zM326.73 123.19h2v3.87h-2zM340.76 123.19h2v3.87h-2zM348.78 123.19h2v3.87h-2zM274.6 130.93h2v3.87h-2zM308.68 130.93h2v3.87h-2zM348.78 130.93h2v3.87h-2zM300.66 134.81h2v3.87h-2zM310.69 134.81h2v3.87h-2zM258.56 138.68h2v3.87h-2zM296.65 138.68h2v3.87h-2zM326.73 138.68h4.01v3.87h-4.01zM342.77 138.68h2v3.87h-2zM286.63 146.42h2v3.87h-2zM294.65 146.42h2v3.87h-2zM342.77 150.3h4.01v3.87h-4.01zM312.69 154.17h2v3.87h-2zM332.74 154.17h2v3.87h-2zM348.78 154.17h2v3.87h-2zM330.74 158.04h2v3.87h-2zM342.77 169.66h2v3.87h-2zM270.59 173.53h2v3.87h-2zM290.64 173.53h2v3.87h-2zM328.73 173.53h2v3.87h-2zM350.79 173.53h2v3.87h-2zM306.68 177.41h2v3.87h-2zM314.7 177.41h2v3.87h-2zM322.72 177.41h2v3.87h-2zM330.74 177.41h2v3.87h-2zM348.78 177.41h2v3.87h-2zM258.56 181.28h2v3.87h-2zM322.72 181.28h4.01v3.87h-4.01zM338.76 181.28h2v3.87h-2zM344.77 181.28h2v3.87h-2zM350.79 181.28h4.01v3.87h-4.01zM260.57 192.9h2v3.87h-2zM326.73 192.9h2v3.87h-2zM274.6 196.77h2v3.87h-2zM286.63 196.77h2v3.87h-2zM298.66 196.77h2v3.87h-2zM346.78 196.77h2v3.87h-2zM350.79 196.77h4.01v3.87h-4.01zM294.65 200.64h4.01v3.87h-4.01zM312.69 200.64h2v3.87h-2zM348.78 200.64h2v3.87h-2zM324.72 204.52h2v3.87h-2zM354.8 204.52h2v3.87h-2zM260.57 216.14h2v3.87h-2zM298.66 216.14h2v3.87h-2zM332.74 216.14h2v3.87h-2zM340.76 216.14h2v3.87h-2zM336.75 220.01h2v3.87h-2zM350.79 220.01h2v3.87h-2zM354.8 220.01h2v3.87h-2zM346.78 223.88h2v3.87h-2zM298.66 227.75h2v3.87h-2zM318.71 227.75h2v3.87h-2zM326.73 227.75h2v3.87h-2z"/>
<path fill="#147814" d="M260.57 7h2v3.87h-2zM260.57 10.87h2v3.87h-2zM324.72 10.87h2v3.87h-2zM344.77 10.87h2v3.87h-2zM348.78 10.87h2v3.87h-2zM322.72 14.75h2v3.87h-2zM326.73 14.75h2v3.87h-2zM260.57 18.62h2v3.87h-2zM342.77 18.62h2v3.87h-2zM338.76 22.49h4.01v3.87h-4.01zM258.56 26.36h2v3.87h-2zM302.67 26.36h2v3.87h-2zM318.71 30.24h2v3.87h-2zM328.73 30.24h2v3.87h-2zM352.79 30.24h2v3.87h-2zM260.57 34.11h2v3.87h-2zM312.69 34.11h2v3.87h-2zM274.6 37.98h4.01v3.87h-4.01zM284.63 37.98h2v3.87h-2zM292.65 37.98h2v3.87h-2zM306.68 45.73h2v3.87h-2zM338.76 45.73h2v3.87h-2zM260.57 49.6h2v3.87h-2zM260.57 53.47h2v3.87h-2zM310.69 53.47h4.01v3.87h-4.01zM316.7 53.47h2v3.87h-2zM344.77 53.47h2v3.87h-2zM260.57 57.35h2v3.87h-2zM264.58 57.35h2v3.87h-2zM300.66 57.35h2v3.87h-2zM330.74 57.35h2v3.87h-2zM336.75 61.22h2v3.87h-2zM344.77 61.22h2v3.87h-2zM270.59 65.09h2v3.87h-2zM282.62 65.09h2v3.87h-2zM306.68 65.09h2v3.87h-2zM310.69 65.09h2v3.87h-2zM314.7 65.09h4.01v3.87h-4.01zM330.74 65.09h2v3.87h-2zM344.77 65.09h2v3.87h-2zM268.59 68.97h2v3.87h-2zM314.7 68.97h2v3.87h-2zM324.72 68.97h2v3.87h-2zM268.59 72.84h2v3.87h-2zM274.6 72.84h2v3.87h-2zM310.69 72.84h2v3.87h-2zM320.71 72.84h2v3.87h-2zM346.78 72.84h2v3.87h-2zM298.66 76.71h2v3.87h-2zM302.67 76.71h2v3.87h-2zM306.68 76.71h4.01v3.87h-4.01zM332.74 76.71h2v3.87h-2zM290.64 80.58h2v3.87h-2zM316.7 80.58h2v3.87h-2zM346.78 80.58h2v3.87h-2zM288.64 84.46h2v3.87h-2zM352.79 84.46h2v3.87h-2zM260.57 88.33h2v3.87h-2zM288.64 88.33h2v3.87h-2zM326.73 88.33h2v3.87h-2zM308.68 92.2h2v3.87h-2zM322.72 92.2h2v3.87h-2zM348.78 92.2h2v3.87h-2zM354.8 92.2h2v3.87h-2zM262.57 96.08h4.01v3.87h-4.01zM272.6 96.08h4.01v3.87h-4.01zM278.61 96.08h2v3.87h-2zM282.62 96.08h2v3.87h-2zM300.66 96.08h2v3.87h-2zM318.71 96.08h6.01v3.87h-6.01zM330.74 99.95h2v3.87h-2zM340.76 99.95h2v3.87h-2zM346.78 99.95h2v3.87h-2zM264.58 103.82h2v3.87h-2zM274.6 103.82h2v3.87h-2zM302.67 103.82h2v3.87h-2zM308.68 103.82h2v3.87h-2zM316.7 103.82h2v3.87h-2zM324.72 103.82h2v3.87h-2zM268.59 107.69h2v3.87h-2zM284.63 107.69h2v3.87h-2zM308.68 107.69h2v3.87h-2zM326.73 107.69h2v3.87h-2zM266.58 111.57h2v3.87h-2zM292.65 111.57h4.01v3.87h-4.01zM300.66 111.57h4.01v3.87h-4.01zM338.76 111.57h2v3.87h-2zM304.67 115.44h2v3.87h-2zM314.7 119.31h2v3.87h-2zM318.71 119.31h2v3.87h-2zM340.76 119.31h2v3.87h-2zM258.56 123.19h2v3.87h-2zM278.61 123.19h2v3.87h-2zM346.78 123.19h2v3.87h-2zM322.72 127.06h2v3.87h-2zM316.7 130.93h4.01v3.87h-4.01zM344.77 130.93h2v3.87h-2zM354.8 130.93h2v3.87h-2zM256.56 134.81h2v3.87h-2zM276.61 134.81h4.01v3.87h-4.01zM314.7 134.81h2v3.87h-2zM322.72 134.81h2v3.87h-2zM328.73 134.81h2v3.87h-2zM334.75 134.81h6.01v3.87h-6.01zM288.64 138.68h2v3.87h-2zM314.7 138.68h2v3.87h-2zM296.65 146.42h2v3.87h-2zM312.69 146.42h2v3.87h-2zM334.75 146.42h2v3.87h-2zM348.78 146.42h2v3.87h-2zM256.56 150.3h2v3.87h-2zM270.59 154.17h2v3.87h-2zM294.65 154.17h2v3.87h-2zM298.66 154.17h2v3.87h-2zM314.7 154.17h2v3.87h-2zM320.71 154.17h2v3.87h-2zM336.75 158.04h2v3.87h-2zM342.77 158.04h2v3.87h-2zM352.79 158.04h2v3.87h-2zM314.7 169.66h2v3.87h-2zM322.72 169.66h4.01v3.87h-4.01zM332.74 169.66h2v3.87h-2zM314.7 173.53h2v3.87h-2zM326.73 173.53h2v3.87h-2zM334.75 173.53h2v3.87h-2zM342.77 173.53h6.01v3.87h-6.01zM296.65 177.41h2v3.87h-2zM316.7 177.41h2v3.87h-2zM260.57 181.28h2v3.87h-2zM334.75 181.28h2v3.87h-2zM318.71 192.9h2v3.87h-2zM262.57 196.77h2v3.87h-2zM290.64 196.77h2v3.87h-2zM294.65 196.77h2v3.87h-2zM316.7 196.77h2v3.87h-2zM338.76 196.77h2v3.87h-2zM344.77 196.77h2v3.87h-2zM268.59 200.64h2v3.87h-2zM302.67 200.64h2v3.87h-2zM318.71 200.64h2v3.87h-2zM334.75 200.64h2v3.87h-2zM354.8 200.64h2v3.87h-2zM298.66 204.52h2v3.87h-2zM342.77 208.39h2v3.87h-2zM290.64 216.14h2v3.87h-2zM294.65 216.14h2v3.87h-2zM304.67 216.14h2v3.87h-2zM348.78 216.14h4.01v3.87h-4.01zM258.56 220.01h2v3.87h-2zM262.57 220.01h2v3.87h-2zM328.73 220.01h4.01v3.87h-4.01zM344.77 220.01h4.01v3.87h-4.01zM320.71 223.88h2v3.87h-2zM328.73 223.88h2v3.87h-2zM338.76 223.88h4.01v3.87h-4.01zM348.78 223.88h2v3.87h-2zM354.8 223.88h2v3.87h-2zM350.79 227.75h2v3.87h-2z"/>
<path fill="#145a14" d="M276.61 7h2v3.87h-2zM312.69 7h4.01v3.87h-4.01zM322.72 7h2v3.87h-2zM262.57 10.87h2v3.87h-2zM302.67 10.87h2v3.87h-2zM308.68 10.87h2v3.87h-2zM314.7 14.75h2v3.87h-2zM354.8 18.62h2v3.87h-2zM258.56 22.49h2v3.87h-2zM322.72 26.36h2v3.87h-2zM320.71 30.24h2v3.87h-2zM336.75 30.24h2v3.87h-2zM346.78 30.24h2v3.87h-2zM338.76 34.11h2v3.87h-2zM272.6 37.98h2v3.87h-2zM280.62 37.98h2v3.87h-2zM288.64 37.98h2v3.87h-2zM298.66 37.98h2v3.87h-2zM322.72 41.86h2v3.87h-2zM336.75 41.86h2v3.87h-2zM340.76 41.86h4.01v3.87h-4.01zM312.69 45.73h2v3.87h-2zM308.68 49.6h2v3.87h-2zM320.71 53.47h2v3.87h-2zM340.76 57.35h2v3.87h-2zM316.7 61.22h2v3.87h-2zM352.79 61.22h2v3.87h-2zM258.56 65.09h2v3.87h-2zM278.61 68.97h2v3.87h-2zM318.71 68.97h2v3.87h-2zM326.73 68.97h4.01v3.87h-4.01zM262.57 72.84h2v3.87h-2zM268.59 76.71h2v3.87h-2zM256.56 80.58h2v3.87h-2zM268.59 80.58h2v3.87h-2zM282.62 80.58h2v3.87h-2zM314.7 80.58h2v3.87h-2zM318.71 80.58h2v3.87h-2zM324.72 80.58h2v3.87h-2zM344.77 80.58h2v3.87h-2zM348.78 80.58h2v3.87h-2zM280.62 84.46h2v3.87h-2zM304.67 88.33h2v3.87h-2zM330.74 88.33h4.01v3.87h-4.01zM256.56 92.2h2v3.87h-2zM270.59 92.2h2v3.87h-2zM282.62 92.2h2v3.87h-2zM290.64 92.2h2v3.87h-2zM300.66 92.2h2v3.87h-2zM252.55 96.08h2v3.87h-2zM292.65 96.08h2v3.87h-2zM316.7 96.08h2v3.87h-2zM324.72 96.08h2v3.87h-2zM338.76 96.08h2v3.87h-2zM312.69 99.95h2v3.87h-2zM266.58 103.82h2v3.87h-2zM284.63 103.82h2v3.87h-2zM292.65 103.82h2v3.87h-2zM336.75 103.82h2v3.87h-2zM274.6 107.69h2v3.87h-2zM286.63 107.69h4.01v3.87h-4.01zM310.69 107.69h2v3.87h-2zM350.79 107.69h2v3.87h-2zM272.6 111.57h2v3.87h-2zM278.61 111.57h2v3.87h-2zM346.78 111.57h2v3.87h-2zM350.79 111.57h2v3.87h-2zM270.59 115.44h2v3.87h-2zM278.61 115.44h2v3.87h-2zM260.57 119.31h2v3.87h-2zM264.58 119.31h2v3.87h-2zM348.78 119.31h2v3.87h-2zM354.8 119.31h2v3.87h-2zM298.66 123.19h4.01v3.87h-4.01zM328.73 123.19h4.01v3.87h-4.01zM342.77 123.19h2v3.87h-2zM350.79 123.19h2v3.87h-2zM264.58 127.06h2v3.87h-2zM318.71 127.06h2v3.87h-2zM330.74 130.93h4.01v3.87h-4.01zM274.6 142.55h2v3.87h-2zM308.68 142.55h2v3.87h-2zM354.8 142.55h2v3.87h-2zM264.58 146.42h2v3.87h-2zM268.59 146.42h2v3.87h-2zM284.63 146.42h2v3.87h-2zM288.64 146.42h2v3.87h-2zM312.69 150.3h2v3.87h-2zM272.6 154.17h2v3.87h-2zM292.65 154.17h2v3.87h-2zM328.73 158.04h2v3.87h-2zM344.77 158.04h2v3.87h-2zM318.71 161.92h2v3.87h-2zM326.73 161.92h2v3.87h-2zM330.74 161.92h2v3.87h-2zM288.64 165.79h2v3.87h-2zM354.8 165.79h2v3.87h-2zM268.59 173.53h2v3.87h-2zM332.74 173.53h2v3.87h-2zM278.61 177.41h4.01v3.87h-4.01zM284.63 177.41h4.01v3.87h-4.01zM300.66 177.41h2v3.87h-2zM312.69 177.41h2v3.87h-2zM300.66 181.28h2v3.87h-2zM308.68 181.28h2v3.87h-2zM300.66 185.15h2v3.87h-2zM316.7 185.15h2v3.87h-2zM320.71 185.15h2v3.87h-2zM328.73 185.15h2v3.87h-2zM260.57 189.03h2v3.87h-2zM336.75 189.03h2v3.87h-2zM332.74 192.9h2v3.87h-2zM208.44 196.77h2v3.87h-2zM268.59 196.77h2v3.87h-2zM326.73 200.64h2v3.87h-2zM336.75 200.64h2v3.87h-2zM272.6 204.52h2v3.87h-2zM310.69 204.52h2v3.87h-2zM318.71 208.39h2v3.87h-2zM266.58 216.14h2v3.87h-2zM286.63 216.14h4.01v3.87h-4.01zM260.57 220.01h2v3.87h-2zM280.62 220.01h2v3.87h-2zM298.66 220.01h2v3.87h-2zM310.69 220.01h4.01v3.87h-4.01zM324.72 223.88h2v3.87h-2zM334.75 223.88h2v3.87h-2zM344.77 223.88h2v3.87h-2zM318.71 231.63h2v3.87h-2z"/>
<path fill="#0a3c0a" d="M300.66 7h2v3.87h-2zM332.74 7h2v3.87h-2zM236.51 10.87h2v3.87h-2zM252.55 10.87h2v3.87h-2zM294.65 10.87h2v3.87h-2zM262.57 14.75h4.01v3.87h-4.01zM278.61 14.75h2v3.87h-2zM304.67 14.75h2v3.87h-2zM344.77 14.75h2v3.87h-2zM252.55 18.62h2v3.87h-2zM304.67 18.62h2v3.87h-2zM318.71 18.62h2v3.87h-2zM324.72 18.62h2v3.87h-2zM328.73 18.62h2v3.87h-2zM352.79 18.62h2v3.87h-2zM242.52 22.49h2v3.87h-2zM300.66 22.49h2v3.87h-2zM316.7 22.49h2v3.87h-2zM350.79 22.49h2v3.87h-2zM268.59 26.36h2v3.87h-2zM290.64 26.36h2v3.87h-2zM296.65 26.36h2v3.87h-2zM260.57 30.24h2v3.87h-2zM264.58 30.24h2v3.87h-2zM294.65 30.24h2v3.87h-2zM324.72 30.24h2v3.87h-2zM290.64 34.11h2v3.87h-2zM314.7 34.11h2v3.87h-2zM322.72 34.11h4.01v3.87h-4.01zM328.73 34.11h2v3.87h-2zM354.8 34.11h2v3.87h-2zM296.65 37.98h2v3.87h-2zM262.57 41.86h2v3.87h-2zM290.64 41.86h2v3.87h-2zM298.66 41.86h2v3.87h-2zM236.51 45.73h2v3.87h-2zM288.64 45.73h2v3.87h-2zM296.65 45.73h2v3.87h-2zM300.66 45.73h4.01v3.87h-4.01zM268.59 49.6h4.01v3.87h-4.01zM278.61 49.6h2v3.87h-2zM290.64 49.6h2v3.87h-2zM300.66 49.6h2v3.87h-2zM254.55 53.47h2v3.87h-2zM282.62 53.47h2v3.87h-2zM288.64 53.47h2v3.87h-2zM302.67 53.47h2v3.87h-2zM284.63 57.35h2v3.87h-2zM338.76 57.35h2v3.87h-2zM276.61 61.22h2v3.87h-2zM302.67 61.22h2v3.87h-2zM306.68 61.22h2v3.87h-2zM328.73 61.22h2v3.87h-2zM296.65 65.09h2v3.87h-2zM338.76 65.09h2v3.87h-2zM264.58 68.97h2v3.87h-2zM270.59 68.97h2v3.87h-2zM298.66 68.97h2v3.87h-2zM312.69 68.97h2v3.87h-2zM332.74 68.97h2v3.87h-2zM232.5 72.84h2v3.87h-2zM242.52 72.84h2v3.87h-2zM250.54 72.84h2v3.87h-2zM254.55 72.84h2v3.87h-2zM272.6 72.84h2v3.87h-2zM290.64 76.71h2v3.87h-2zM310.69 76.71h2v3.87h-2zM212.45 80.58h2v3.87h-2zM262.57 80.58h2v3.87h-2zM292.65 80.58h2v3.87h-2zM302.67 80.58h2v3.87h-2zM252.55 84.46h2v3.87h-2zM284.63 84.46h2v3.87h-2zM336.75 84.46h2v3.87h-2zM242.52 88.33h2v3.87h-2zM250.54 88.33h2v3.87h-2zM264.58 88.33h2v3.87h-2zM282.62 88.33h2v3.87h-2zM316.7 88.33h2v3.87h-2zM268.59 92.2h2v3.87h-2zM304.67 92.2h2v3.87h-2zM312.69 92.2h2v3.87h-2zM352.79 92.2h2v3.87h-2zM212.45 96.08h2v3.87h-2zM236.51 96.08h2v3.87h-2zM240.52 96.08h2v3.87h-2zM266.58 96.08h2v3.87h-2zM314.7 96.08h2v3.87h-2zM350.79 96.08h2v3.87h-2zM272.6 99.95h2v3.87h-2zM282.62 99.95h4.01v3.87h-4.01zM288.64 99.95h2v3.87h-2zM292.65 99.95h2v3.87h-2zM302.67 99.95h2v3.87h-2zM334.75 99.95h4.01v3.87h-4.01zM352.79 99.95h2v3.87h-2zM268.59 103.82h2v3.87h-2zM278.61 103.82h2v3.87h-2zM334.75 103.82h2v3.87h-2zM228.49 107.69h2v3.87h-2zM236.51 107.69h2v3.87h-2zM252.55 107.69h2v3.87h-2zM270.59 107.69h4.01v3.87h-4.01zM280.62 107.69h2v3.87h-2zM296.65 107.69h2v3.87h-2zM332.74 107.69h2v3.87h-2zM252.55 111.57h2v3.87h-2zM276.61 111.57h2v3.87h-2zM296.65 111.57h2v3.87h-2zM202.43 115.44h2v3.87h-2zM284.63 115.44h2v3.87h-2zM270.59 119.31h2v3.87h-2zM280.62 119.31h2v3.87h-2zM290.64 119.31h2v3.87h-2zM296.65 119.31h2v3.87h-2zM300.66 119.31h2v3.87h-2zM306.68 119.31h2v3.87h-2zM282.62 123.19h4.01v3.87h-4.01zM292.65 123.19h2v3.87h-2zM296.65 123.19h2v3.87h-2zM354.8 123.19h2v3.87h-2zM296.65 127.06h4.01v3.87h-4.01zM352.79 127.06h2v3.87h-2zM172.35 130.93h2v3.87h-2zM204.43 130.93h2v3.87h-2zM210.45 130.93h2v3.87h-2zM222.48 130.93h2v3.87h-2zM266.58 130.93h2v3.87h-2zM276.61 130.93h2v3.87h-2zM336.75 130.93h2v3.87h-2zM236.51 134.81h2v3.87h-2zM262.57 134.81h2v3.87h-2zM256.56 138.68h2v3.87h-2zM276.61 138.68h4.01v3.87h-4.01zM300.66 138.68h2v3.87h-2zM306.68 138.68h2v3.87h-2zM318.71 138.68h2v3.87h-2zM344.77 138.68h2v3.87h-2zM264.58 142.55h2v3.87h-2zM286.63 142.55h2v3.87h-2zM298.66 142.55h2v3.87h-2zM306.68 142.55h2v3.87h-2zM322.72 142.55h2v3.87h-2zM336.75 142.55h2v3.87h-2zM342.77 142.55h2v3.87h-2zM348.78 142.55h4.01v3.87h-4.01zM252.55 146.42h2v3.87h-2zM266.58 146.42h2v3.87h-2zM320.71 146.42h2v3.87h-2zM210.45 150.3h2v3.87h-2zM228.49 150.3h2v3.87h-2zM252.55 150.3h2v3.87h-2zM268.59 150.3h2v3.87h-2zM288.64 150.3h4.01v3.87h-4.01zM304.67 150.3h2v3.87h-2zM336.75 150.3h2v3.87h-2zM256.56 154.17h2v3.87h-2zM288.64 154.17h2v3.87h-2zM190.4 158.04h2v3.87h-2zM224.48 158.04h2v3.87h-2zM260.57 158.04h2v3.87h-2zM274.6 158.04h2v3.87h-2zM308.68 158.04h2v3.87h-2zM314.7 158.04h2v3.87h-2zM320.71 158.04h2v3.87h-2zM324.72 158.04h2v3.87h-2zM350.79 158.04h2v3.87h-2zM256.56 161.92h2v3.87h-2zM268.59 161.92h2v3.87h-2zM286.63 161.92h2v3.87h-2zM342.77 161.92h2v3.87h-2zM350.79 161.92h6.01v3.87h-6.01zM190.4 165.79h2v3.87h-2zM204.43 165.79h2v3.87h-2zM208.44 165.79h2v3.87h-2zM218.47 165.79h2v3.87h-2zM242.52 165.79h2v3.87h-2zM308.68 165.79h2v3.87h-2zM326.73 165.79h4.01v3.87h-4.01zM334.75 165.79h2v3.87h-2zM344.77 165.79h2v3.87h-2zM348.78 165.79h2v3.87h-2zM202.43 169.66h2v3.87h-2zM276.61 169.66h2v3.87h-2zM304.67 169.66h2v3.87h-2zM266.58 173.53h2v3.87h-2zM316.7 173.53h2v3.87h-2zM274.6 177.41h2v3.87h-2zM290.64 177.41h4.01v3.87h-4.01zM262.57 181.28h2v3.87h-2zM278.61 181.28h2v3.87h-2zM282.62 181.28h2v3.87h-2zM292.65 181.28h2v3.87h-2zM298.66 181.28h2v3.87h-2zM226.49 185.15h4.01v3.87h-4.01zM242.52 185.15h2v3.87h-2zM270.59 185.15h2v3.87h-2zM280.62 185.15h2v3.87h-2zM292.65 185.15h2v3.87h-2zM312.69 185.15h4.01v3.87h-4.01zM352.79 185.15h2v3.87h-2zM270.59 189.03h2v3.87h-2zM298.66 189.03h2v3.87h-2zM308.68 189.03h2v3.87h-2zM342.77 189.03h2v3.87h-2zM258.56 192.9h2v3.87h-2zM306.68 192.9h2v3.87h-2zM336.75 192.9h2v3.87h-2zM342.77 192.9h4.01v3.87h-4.01zM256.56 196.77h2v3.87h-2zM284.63 196.77h2v3.87h-2zM178.37 200.64h2v3.87h-2zM200.42 200.64h2v3.87h-2zM244.53 200.64h2v3.87h-2zM278.61 200.64h2v3.87h-2zM352.79 200.64h2v3.87h-2zM266.58 204.52h4.01v3.87h-4.01zM338.76 204.52h2v3.87h-2zM222.48 208.39h2v3.87h-2zM264.58 208.39h2v3.87h-2zM322.72 208.39h2v3.87h-2zM328.73 208.39h2v3.87h-2zM258.56 212.26h4.01v3.87h-4.01zM310.69 212.26h2v3.87h-2zM354.8 212.26h2v3.87h-2zM268.59 216.14h2v3.87h-2zM280.62 216.14h2v3.87h-2zM204.43 220.01h2v3.87h-2zM268.59 220.01h2v3.87h-2zM286.63 220.01h2v3.87h-2zM290.64 220.01h2v3.87h-2zM324.72 220.01h2v3.87h-2zM334.75 220.01h2v3.87h-2zM180.37 223.88h2v3.87h-2zM204.43 223.88h2v3.87h-2zM250.54 223.88h2v3.87h-2zM256.56 223.88h2v3.87h-2zM270.59 223.88h2v3.87h-2zM274.6 223.88h2v3.87h-2zM290.64 223.88h2v3.87h-2zM294.65 223.88h4.01v3.87h-4.01zM304.67 223.88h2v3.87h-2zM316.7 223.88h2v3.87h-2zM306.68 227.75h2v3.87h-2zM338.76 227.75h2v3.87h-2zM346.78 227.75h2v3.87h-2zM286.63 231.63h2v3.87h-2zM316.7 231.63h2v3.87h-2z"/>
<path fill="#0a460a" d="M302.67 7h2v3.87h-2zM308.68 7h2v3.87h-2zM318.71 7h2v3.87h-2zM352.79 7h2v3.87h-2zM264.58 10.87h2v3.87h-2zM296.65 10.87h2v3.87h-2zM338.76 10.87h2v3.87h-2zM282.62 14.75h2v3.87h-2zM350.79 14.75h2v3.87h-2zM310.69 18.62h2v3.87h-2zM320.71 18.62h2v3.87h-2zM326.73 18.62h2v3.87h-2zM340.76 18.62h2v3.87h-2zM268.59 22.49h2v3.87h-2zM294.65 22.49h2v3.87h-2zM308.68 22.49h2v3.87h-2zM314.7 22.49h2v3.87h-2zM318.71 22.49h2v3.87h-2zM324.72 22.49h2v3.87h-2zM332.74 22.49h2v3.87h-2zM282.62 26.36h2v3.87h-2zM294.65 26.36h2v3.87h-2zM240.52 30.24h2v3.87h-2zM262.57 30.24h2v3.87h-2zM306.68 30.24h6.01v3.87h-6.01zM326.73 30.24h2v3.87h-2zM332.74 30.24h2v3.87h-2zM338.76 30.24h2v3.87h-2zM350.79 30.24h2v3.87h-2zM276.61 34.11h2v3.87h-2zM294.65 34.11h2v3.87h-2zM302.67 34.11h4.01v3.87h-4.01zM350.79 34.11h2v3.87h-2zM240.52 37.98h2v3.87h-2zM264.58 37.98h2v3.87h-2zM268.59 37.98h2v3.87h-2zM286.63 37.98h2v3.87h-2zM276.61 41.86h2v3.87h-2zM312.69 41.86h2v3.87h-2zM268.59 45.73h2v3.87h-2zM290.64 45.73h2v3.87h-2zM304.67 49.6h4.01v3.87h-4.01zM320.71 49.6h2v3.87h-2zM334.75 49.6h2v3.87h-2zM262.57 53.47h2v3.87h-2zM276.61 53.47h2v3.87h-2zM292.65 53.47h2v3.87h-2zM298.66 53.47h4.01v3.87h-4.01zM236.51 57.35h2v3.87h-2zM334.75 57.35h2v3.87h-2zM272.6 61.22h2v3.87h-2zM296.65 61.22h2v3.87h-2zM312.69 61.22h2v3.87h-2zM326.73 61.22h2v3.87h-2zM288.64 65.09h4.01v3.87h-4.01zM300.66 65.09h2v3.87h-2zM262.57 68.97h2v3.87h-2zM276.61 68.97h2v3.87h-2zM284.63 68.97h2v3.87h-2zM308.68 68.97h2v3.87h-2zM224.48 72.84h2v3.87h-2zM228.49 72.84h2v3.87h-2zM252.55 72.84h2v3.87h-2zM286.63 72.84h2v3.87h-2zM296.65 72.84h2v3.87h-2zM352.79 72.84h2v3.87h-2zM260.57 76.71h8.02v3.87h-8.02zM282.62 76.71h2v3.87h-2zM304.67 76.71h2v3.87h-2zM286.63 80.58h2v3.87h-2zM304.67 80.58h2v3.87h-2zM226.49 88.33h2v3.87h-2zM276.61 88.33h2v3.87h-2zM334.75 88.33h4.01v3.87h-4.01zM340.76 88.33h2v3.87h-2zM278.61 92.2h2v3.87h-2zM292.65 92.2h2v3.87h-2zM318.71 92.2h2v3.87h-2zM332.74 92.2h2v3.87h-2zM280.62 96.08h2v3.87h-2zM284.63 96.08h2v3.87h-2zM274.6 99.95h2v3.87h-2zM280.62 99.95h2v3.87h-2zM290.64 99.95h2v3.87h-2zM294.65 99.95h2v3.87h-2zM320.71 99.95h2v3.87h-2zM332.74 99.95h2v3.87h-2zM348.78 99.95h2v3.87h-2zM296.65 103.82h2v3.87h-2zM342.77 103.82h2v3.87h-2zM208.44 107.69h2v3.87h-2zM250.54 107.69h2v3.87h-2zM278.61 107.69h2v3.87h-2zM304.67 107.69h2v3.87h-2zM320.71 107.69h2v3.87h-2zM334.75 107.69h2v3.87h-2zM354.8 107.69h2v3.87h-2zM204.43 111.57h2v3.87h-2zM228.49 111.57h2v3.87h-2zM270.59 111.57h2v3.87h-2zM282.62 111.57h2v3.87h-2zM306.68 111.57h2v3.87h-2zM310.69 111.57h2v3.87h-2zM266.58 115.44h2v3.87h-2zM272.6 115.44h2v3.87h-2zM282.62 115.44h2v3.87h-2zM266.58 119.31h2v3.87h-2zM272.6 119.31h2v3.87h-2zM294.65 119.31h2v3.87h-2zM346.78 119.31h2v3.87h-2zM274.6 123.19h2v3.87h-2zM280.62 123.19h2v3.87h-2zM286.63 123.19h4.01v3.87h-4.01zM310.69 123.19h2v3.87h-2zM258.56 127.06h2v3.87h-2zM344.77 127.06h2v3.87h-2zM348.78 127.06h2v3.87h-2zM200.42 130.93h2v3.87h-2zM212.45 130.93h2v3.87h-2zM262.57 130.93h2v3.87h-2zM290.64 130.93h2v3.87h-2zM338.76 130.93h2v3.87h-2zM346.78 130.93h2v3.87h-2zM350.79 130.93h2v3.87h-2zM288.64 134.81h2v3.87h-2zM302.67 134.81h4.01v3.87h-4.01zM260.57 138.68h2v3.87h-2zM290.64 138.68h2v3.87h-2zM302.67 138.68h2v3.87h-2zM334.75 138.68h4.01v3.87h-4.01zM304.67 146.42h2v3.87h-2zM314.7 146.42h4.01v3.87h-4.01zM324.72 146.42h2v3.87h-2zM258.56 150.3h2v3.87h-2zM338.76 150.3h2v3.87h-2zM264.58 154.17h2v3.87h-2zM294.65 158.04h2v3.87h-2zM310.69 158.04h2v3.87h-2zM338.76 158.04h2v3.87h-2zM294.65 161.92h2v3.87h-2zM328.73 161.92h2v3.87h-2zM312.69 165.79h2v3.87h-2zM324.72 165.79h2v3.87h-2zM330.74 165.79h2v3.87h-2zM268.59 169.66h2v3.87h-2zM288.64 169.66h2v3.87h-2zM298.66 169.66h2v3.87h-2zM308.68 169.66h4.01v3.87h-4.01zM350.79 169.66h2v3.87h-2zM306.68 173.53h4.01v3.87h-4.01zM330.74 173.53h2v3.87h-2zM256.56 177.41h4.01v3.87h-4.01zM266.58 177.41h2v3.87h-2zM272.6 177.41h2v3.87h-2zM266.58 181.28h4.01v3.87h-4.01zM286.63 181.28h2v3.87h-2zM294.65 181.28h2v3.87h-2zM332.74 181.28h2v3.87h-2zM254.55 185.15h2v3.87h-2zM264.58 185.15h2v3.87h-2zM290.64 185.15h2v3.87h-2zM302.67 185.15h2v3.87h-2zM324.72 185.15h4.01v3.87h-4.01zM348.78 185.15h2v3.87h-2zM262.57 189.03h2v3.87h-2zM328.73 189.03h2v3.87h-2zM334.75 189.03h2v3.87h-2zM344.77 189.03h2v3.87h-2zM352.79 189.03h2v3.87h-2zM276.61 192.9h2v3.87h-2zM298.66 192.9h2v3.87h-2zM316.7 192.9h2v3.87h-2zM354.8 192.9h2v3.87h-2zM226.49 196.77h2v3.87h-2zM204.43 200.64h2v3.87h-2zM288.64 200.64h2v3.87h-2zM292.65 200.64h2v3.87h-2zM350.79 200.64h2v3.87h-2zM256.56 204.52h2v3.87h-2zM312.69 204.52h2v3.87h-2zM334.75 204.52h2v3.87h-2zM344.77 204.52h2v3.87h-2zM260.57 208.39h2v3.87h-2zM312.69 208.39h2v3.87h-2zM286.63 212.26h2v3.87h-2zM314.7 212.26h2v3.87h-2zM322.72 212.26h2v3.87h-2zM338.76 212.26h2v3.87h-2zM262.57 216.14h2v3.87h-2zM278.61 216.14h2v3.87h-2zM302.67 216.14h2v3.87h-2zM212.45 220.01h2v3.87h-2zM264.58 220.01h2v3.87h-2zM276.61 220.01h2v3.87h-2zM284.63 220.01h2v3.87h-2zM304.67 220.01h2v3.87h-2zM352.79 220.01h2v3.87h-2zM264.58 223.88h2v3.87h-2zM284.63 223.88h2v3.87h-2zM268.59 227.75h2v3.87h-2zM300.66 227.75h2v3.87h-2zM310.69 227.75h2v3.87h-2zM336.75 227.75h2v3.87h-2zM324.72 231.63h2v3.87h-2zM334.75 231.63h2v3.87h-2zM352.79 231.63h2v3.87h-2z"/>
<path fill="#0a500a" d="M310.69 7h2v3.87h-2zM326.73 7h4.01v3.87h-4.01zM348.78 7h2v3.87h-2zM354.8 7h2v3.87h-2zM274.6 10.87h2v3.87h-2zM304.67 10.87h2v3.87h-2zM316.7 10.87h2v3.87h-2zM320.71 10.87h4.01v3.87h-4.01zM352.79 10.87h2v3.87h-2zM286.63 14.75h2v3.87h-2zM298.66 14.75h4.01v3.87h-4.01zM320.71 14.75h2v3.87h-2zM328.73 14.75h2v3.87h-2zM332.74 14.75h4.01v3.87h-4.01zM302.67 18.62h2v3.87h-2zM330.74 18.62h2v3.87h-2zM344.77 18.62h2v3.87h-2zM322.72 22.49h2v3.87h-2zM336.75 22.49h2v3.87h-2zM262.57 26.36h2v3.87h-2zM276.61 26.36h2v3.87h-2zM292.65 26.36h2v3.87h-2zM306.68 26.36h2v3.87h-2zM314.7 30.24h4.01v3.87h-4.01zM176.36 34.11h2v3.87h-2zM308.68 34.11h2v3.87h-2zM336.75 34.11h2v3.87h-2zM282.62 37.98h2v3.87h-2zM290.64 37.98h2v3.87h-2zM272.6 41.86h2v3.87h-2zM284.63 41.86h2v3.87h-2zM302.67 41.86h2v3.87h-2zM310.69 41.86h2v3.87h-2zM320.71 41.86h2v3.87h-2zM332.74 41.86h2v3.87h-2zM344.77 41.86h2v3.87h-2zM256.56 45.73h2v3.87h-2zM262.57 45.73h2v3.87h-2zM294.65 45.73h2v3.87h-2zM298.66 45.73h2v3.87h-2zM308.68 45.73h2v3.87h-2zM328.73 45.73h4.01v3.87h-4.01zM342.77 45.73h2v3.87h-2zM350.79 45.73h4.01v3.87h-4.01zM282.62 49.6h2v3.87h-2zM330.74 49.6h2v3.87h-2zM290.64 53.47h2v3.87h-2zM352.79 53.47h2v3.87h-2zM268.59 57.35h2v3.87h-2zM286.63 57.35h2v3.87h-2zM318.71 57.35h2v3.87h-2zM322.72 57.35h4.01v3.87h-4.01zM328.73 57.35h2v3.87h-2zM346.78 57.35h2v3.87h-2zM352.79 57.35h2v3.87h-2zM308.68 61.22h2v3.87h-2zM278.61 65.09h2v3.87h-2zM294.65 65.09h2v3.87h-2zM320.71 65.09h2v3.87h-2zM324.72 65.09h2v3.87h-2zM332.74 65.09h2v3.87h-2zM280.62 68.97h2v3.87h-2zM288.64 68.97h2v3.87h-2zM306.68 68.97h2v3.87h-2zM330.74 68.97h2v3.87h-2zM338.76 68.97h2v3.87h-2zM292.65 72.84h2v3.87h-2zM324.72 72.84h2v3.87h-2zM334.75 72.84h2v3.87h-2zM350.79 72.84h2v3.87h-2zM270.59 76.71h4.01v3.87h-4.01zM286.63 76.71h2v3.87h-2zM292.65 76.71h2v3.87h-2zM226.49 80.58h2v3.87h-2zM270.59 80.58h2v3.87h-2zM276.61 80.58h4.01v3.87h-4.01zM322.72 80.58h2v3.87h-2zM330.74 80.58h2v3.87h-2zM278.61 84.46h2v3.87h-2zM290.64 84.46h2v3.87h-2zM344.77 84.46h2v3.87h-2zM270.59 88.33h2v3.87h-2zM292.65 88.33h2v3.87h-2zM296.65 88.33h2v3.87h-2zM314.7 88.33h2v3.87h-2zM320.71 88.33h2v3.87h-2zM328.73 88.33h2v3.87h-2zM258.56 92.2h2v3.87h-2zM272.6 92.2h2v3.87h-2zM302.67 92.2h2v3.87h-2zM316.7 92.2h2v3.87h-2zM338.76 92.2h2v3.87h-2zM344.77 92.2h2v3.87h-2zM288.64 96.08h2v3.87h-2zM296.65 96.08h2v3.87h-2zM304.67 96.08h2v3.87h-2zM260.57 99.95h2v3.87h-2zM264.58 99.95h2v3.87h-2zM296.65 99.95h2v3.87h-2zM322.72 99.95h2v3.87h-2zM286.63 103.82h2v3.87h-2zM314.7 103.82h2v3.87h-2zM354.8 103.82h2v3.87h-2zM256.56 107.69h2v3.87h-2zM262.57 107.69h4.01v3.87h-4.01zM276.61 107.69h2v3.87h-2zM290.64 107.69h2v3.87h-2zM322.72 107.69h2v3.87h-2zM256.56 111.57h2v3.87h-2zM276.61 119.31h4.01v3.87h-4.01zM316.7 119.31h2v3.87h-2zM322.72 119.31h2v3.87h-2zM328.73 119.31h2v3.87h-2zM338.76 119.31h2v3.87h-2zM270.59 123.19h2v3.87h-2zM306.68 123.19h2v3.87h-2zM322.72 123.19h2v3.87h-2zM344.77 123.19h2v3.87h-2zM330.74 127.06h2v3.87h-2zM286.63 130.93h2v3.87h-2zM292.65 130.93h2v3.87h-2zM352.79 130.93h2v3.87h-2zM284.63 134.81h2v3.87h-2zM332.74 134.81h2v3.87h-2zM268.59 138.68h2v3.87h-2zM274.6 138.68h2v3.87h-2zM280.62 138.68h2v3.87h-2zM308.68 138.68h2v3.87h-2zM316.7 138.68h2v3.87h-2zM340.76 138.68h2v3.87h-2zM346.78 138.68h2v3.87h-2zM354.8 138.68h2v3.87h-2zM260.57 142.55h2v3.87h-2zM302.67 142.55h2v3.87h-2zM318.71 142.55h2v3.87h-2zM324.72 142.55h2v3.87h-2zM338.76 142.55h2v3.87h-2zM278.61 146.42h2v3.87h-2zM282.62 146.42h2v3.87h-2zM310.69 146.42h2v3.87h-2zM338.76 146.42h2v3.87h-2zM352.79 146.42h2v3.87h-2zM260.57 150.3h2v3.87h-2zM314.7 150.3h4.01v3.87h-4.01zM320.71 150.3h4.01v3.87h-4.01zM330.74 150.3h2v3.87h-2zM346.78 150.3h2v3.87h-2zM282.62 154.17h2v3.87h-2zM306.68 154.17h2v3.87h-2zM338.76 154.17h2v3.87h-2zM332.74 158.04h2v3.87h-2zM308.68 161.92h2v3.87h-2zM336.75 161.92h2v3.87h-2zM258.56 165.79h4.01v3.87h-4.01zM300.66 165.79h2v3.87h-2zM304.67 165.79h2v3.87h-2zM314.7 165.79h2v3.87h-2zM330.74 169.66h2v3.87h-2zM336.75 169.66h2v3.87h-2zM352.79 169.66h2v3.87h-2zM256.56 173.53h2v3.87h-2zM260.57 173.53h2v3.87h-2zM270.59 177.41h2v3.87h-2zM310.69 177.41h2v3.87h-2zM338.76 177.41h2v3.87h-2zM264.58 181.28h2v3.87h-2zM310.69 181.28h2v3.87h-2zM332.74 185.15h2v3.87h-2zM346.78 185.15h2v3.87h-2zM258.56 189.03h2v3.87h-2zM294.65 189.03h2v3.87h-2zM318.71 189.03h2v3.87h-2zM340.76 189.03h2v3.87h-2zM308.68 192.9h2v3.87h-2zM312.69 192.9h2v3.87h-2zM264.58 196.77h2v3.87h-2zM282.62 196.77h2v3.87h-2zM288.64 196.77h2v3.87h-2zM292.65 196.77h2v3.87h-2zM306.68 196.77h2v3.87h-2zM334.75 196.77h2v3.87h-2zM236.51 200.64h2v3.87h-2zM280.62 200.64h2v3.87h-2zM314.7 200.64h2v3.87h-2zM328.73 200.64h2v3.87h-2zM338.76 200.64h2v3.87h-2zM304.67 204.52h2v3.87h-2zM322.72 204.52h2v3.87h-2zM336.75 204.52h2v3.87h-2zM308.68 208.39h2v3.87h-2zM330.74 208.39h2v3.87h-2zM350.79 208.39h2v3.87h-2zM324.72 212.26h2v3.87h-2zM328.73 212.26h2v3.87h-2zM270.59 216.14h2v3.87h-2zM274.6 216.14h2v3.87h-2zM284.63 216.14h2v3.87h-2zM334.75 216.14h2v3.87h-2zM352.79 216.14h2v3.87h-2zM278.61 220.01h2v3.87h-2zM292.65 220.01h2v3.87h-2zM302.67 220.01h2v3.87h-2zM258.56 223.88h2v3.87h-2zM302.67 223.88h2v3.87h-2zM308.68 223.88h2v3.87h-2zM342.77 223.88h2v3.87h-2zM258.56 227.75h2v3.87h-2zM264.58 227.75h2v3.87h-2zM274.6 227.75h2v3.87h-2zM314.7 227.75h2v3.87h-2zM320.71 227.75h2v3.87h-2zM330.74 227.75h2v3.87h-2zM334.75 227.75h2v3.87h-2zM328.73 231.63h2v3.87h-2zM340.76 231.63h2v3.87h-2z"/>
<path fill="#14a014" d="M316.7 7h2v3.87h-2zM256.56 10.87h2v3.87h-2zM336.75 10.87h2v3.87h-2zM350.79 10.87h2v3.87h-2zM302.67 14.75h2v3.87h-2zM310.69 14.75h2v3.87h-2zM308.68 26.36h2v3.87h-2zM336.75 26.36h4.01v3.87h-4.01zM302.67 37.98h2v3.87h-2zM326.73 37.98h4.01v3.87h-4.01zM336.75 37.98h2v3.87h-2zM346.78 37.98h2v3.87h-2zM258.56 41.86h2v3.87h-2zM330.74 41.86h2v3.87h-2zM346.78 41.86h2v3.87h-2zM354.8 45.73h2v3.87h-2zM328.73 49.6h2v3.87h-2zM314.7 53.47h2v3.87h-2zM354.8 53.47h2v3.87h-2zM348.78 57.35h2v3.87h-2zM322.72 65.09h2v3.87h-2zM316.7 68.97h2v3.87h-2zM346.78 68.97h4.01v3.87h-4.01zM322.72 72.84h2v3.87h-2zM340.76 72.84h4.01v3.87h-4.01zM322.72 76.71h2v3.87h-2zM336.75 76.71h2v3.87h-2zM262.57 84.46h2v3.87h-2zM296.65 84.46h2v3.87h-2zM300.66 84.46h4.01v3.87h-4.01zM308.68 84.46h2v3.87h-2zM268.59 96.08h2v3.87h-2zM276.61 99.95h2v3.87h-2zM258.56 103.82h2v3.87h-2zM318.71 103.82h2v3.87h-2zM328.73 103.82h4.01v3.87h-4.01zM298.66 107.69h2v3.87h-2zM314.7 107.69h2v3.87h-2zM268.59 111.57h2v3.87h-2zM298.66 111.57h2v3.87h-2zM322.72 111.57h2v3.87h-2zM264.58 115.44h2v3.87h-2zM290.64 115.44h2v3.87h-2zM298.66 115.44h2v3.87h-2zM308.68 115.44h2v3.87h-2zM312.69 115.44h2v3.87h-2zM264.58 130.93h2v3.87h-2zM268.59 130.93h2v3.87h-2zM260.57 134.81h2v3.87h-2zM286.63 134.81h2v3.87h-2zM290.64 134.81h2v3.87h-2zM330.74 134.81h2v3.87h-2zM344.77 134.81h2v3.87h-2zM352.79 138.68h2v3.87h-2zM258.56 146.42h2v3.87h-2zM300.66 146.42h2v3.87h-2zM308.68 154.17h2v3.87h-2zM322.72 154.17h4.01v3.87h-4.01zM342.77 165.79h2v3.87h-2zM318.71 173.53h2v3.87h-2zM318.71 177.41h2v3.87h-2zM346.78 177.41h2v3.87h-2zM312.69 181.28h2v3.87h-2zM342.77 185.15h2v3.87h-2zM340.76 192.9h2v3.87h-2zM310.69 196.77h2v3.87h-2zM314.7 196.77h2v3.87h-2zM260.57 200.64h2v3.87h-2zM322.72 200.64h2v3.87h-2zM340.76 200.64h4.01v3.87h-4.01zM312.69 216.14h2v3.87h-2zM326.73 216.14h2v3.87h-2zM354.8 216.14h2v3.87h-2zM332.74 220.01h2v3.87h-2zM314.7 223.88h2v3.87h-2zM330.74 223.88h2v3.87h-2z"/>
<path fill="#14aa14" d="M330.74 7h2v3.87h-2zM354.8 10.87h2v3.87h-2zM258.56 14.75h2v3.87h-2zM318.71 14.75h2v3.87h-2zM330.74 14.75h2v3.87h-2zM336.75 14.75h2v3.87h-2zM260.57 26.36h2v3.87h-2zM324.72 26.36h4.01v3.87h-4.01zM258.56 30.24h2v3.87h-2zM258.56 37.98h4.01v3.87h-4.01zM300.66 37.98h2v3.87h-2zM316.7 37.98h2v3.87h-2zM348.78 41.86h2v3.87h-2zM318.71 53.47h2v3.87h-2zM336.75 53.47h2v3.87h-2zM328.73 65.09h2v3.87h-2zM340.76 65.09h2v3.87h-2zM346.78 65.09h2v3.87h-2zM336.75 68.97h2v3.87h-2zM304.67 72.84h4.01v3.87h-4.01zM328.73 72.84h2v3.87h-2zM336.75 72.84h2v3.87h-2zM330.74 76.71h2v3.87h-2zM292.65 84.46h2v3.87h-2zM310.69 84.46h2v3.87h-2zM326.73 84.46h4.01v3.87h-4.01zM334.75 84.46h2v3.87h-2zM318.71 88.33h2v3.87h-2zM350.79 88.33h2v3.87h-2zM306.68 96.08h2v3.87h-2zM336.75 96.08h2v3.87h-2zM354.8 96.08h2v3.87h-2zM256.56 103.82h2v3.87h-2zM260.57 103.82h2v3.87h-2zM314.7 111.57h2v3.87h-2zM320.71 111.57h2v3.87h-2zM326.73 111.57h2v3.87h-2zM344.77 111.57h2v3.87h-2zM348.78 111.57h2v3.87h-2zM302.67 115.44h2v3.87h-2zM322.72 115.44h2v3.87h-2zM330.74 115.44h2v3.87h-2zM334.75 115.44h2v3.87h-2zM348.78 115.44h2v3.87h-2zM290.64 123.19h2v3.87h-2zM318.71 123.19h2v3.87h-2zM260.57 130.93h2v3.87h-2zM268.59 134.81h2v3.87h-2zM272.6 134.81h2v3.87h-2zM306.68 134.81h2v3.87h-2zM312.69 134.81h2v3.87h-2zM346.78 134.81h2v3.87h-2zM340.76 146.42h2v3.87h-2zM326.73 154.17h2v3.87h-2zM334.75 154.17h2v3.87h-2zM340.76 154.17h2v3.87h-2zM352.79 154.17h4.01v3.87h-4.01zM350.79 165.79h2v3.87h-2zM326.73 169.66h2v3.87h-2zM264.58 177.41h2v3.87h-2zM340.76 181.28h2v3.87h-2zM346.78 181.28h2v3.87h-2zM322.72 196.77h2v3.87h-2zM326.73 196.77h4.01v3.87h-4.01zM342.77 196.77h2v3.87h-2zM310.69 200.64h2v3.87h-2zM342.77 204.52h2v3.87h-2zM328.73 216.14h2v3.87h-2zM336.75 216.14h2v3.87h-2z"/>
<path fill="#149614" d="M342.77 7h4.01v3.87h-4.01zM346.78 10.87h2v3.87h-2zM260.57 22.49h2v3.87h-2zM314.7 26.36h2v3.87h-2zM340.76 26.36h2v3.87h-2zM352.79 26.36h2v3.87h-2zM278.61 37.98h2v3.87h-2zM320.71 37.98h2v3.87h-2zM316.7 41.86h2v3.87h-2zM334.75 41.86h2v3.87h-2zM350.79 41.86h2v3.87h-2zM260.57 45.73h2v3.87h-2zM322.72 45.73h2v3.87h-2zM332.74 45.73h2v3.87h-2zM336.75 45.73h2v3.87h-2zM322.72 49.6h2v3.87h-2zM270.59 53.47h2v3.87h-2zM298.66 65.09h2v3.87h-2zM326.73 65.09h2v3.87h-2zM302.67 68.97h2v3.87h-2zM350.79 68.97h2v3.87h-2zM264.58 72.84h2v3.87h-2zM326.73 72.84h2v3.87h-2zM312.69 76.71h4.01v3.87h-4.01zM318.71 76.71h2v3.87h-2zM350.79 76.71h2v3.87h-2zM256.56 84.46h2v3.87h-2zM268.59 84.46h2v3.87h-2zM306.68 84.46h2v3.87h-2zM314.7 84.46h2v3.87h-2zM322.72 84.46h2v3.87h-2zM330.74 84.46h2v3.87h-2zM348.78 88.33h2v3.87h-2zM324.72 92.2h2v3.87h-2zM256.56 96.08h4.01v3.87h-4.01zM302.67 96.08h2v3.87h-2zM300.66 99.95h2v3.87h-2zM258.56 107.69h2v3.87h-2zM294.65 107.69h2v3.87h-2zM318.71 107.69h2v3.87h-2zM328.73 107.69h2v3.87h-2zM290.64 111.57h2v3.87h-2zM308.68 111.57h2v3.87h-2zM312.69 111.57h2v3.87h-2zM324.72 111.57h2v3.87h-2zM274.6 115.44h2v3.87h-2zM316.7 115.44h2v3.87h-2zM338.76 115.44h2v3.87h-2zM326.73 119.31h2v3.87h-2zM312.69 127.06h2v3.87h-2zM346.78 127.06h2v3.87h-2zM322.72 130.93h2v3.87h-2zM298.66 134.81h2v3.87h-2zM308.68 134.81h2v3.87h-2zM260.57 146.42h2v3.87h-2zM308.68 146.42h2v3.87h-2zM342.77 154.17h2v3.87h-2zM350.79 154.17h2v3.87h-2zM354.8 158.04h2v3.87h-2zM348.78 161.92h2v3.87h-2zM354.8 169.66h2v3.87h-2zM354.8 173.53h2v3.87h-2zM332.74 177.41h2v3.87h-2zM352.79 177.41h4.01v3.87h-4.01zM304.67 181.28h2v3.87h-2zM318.71 185.15h2v3.87h-2zM322.72 185.15h2v3.87h-2zM330.74 196.77h2v3.87h-2zM344.77 200.64h2v3.87h-2zM264.58 204.52h2v3.87h-2zM316.7 204.52h2v3.87h-2zM324.72 208.39h2v3.87h-2zM308.68 216.14h2v3.87h-2zM318.71 216.14h2v3.87h-2zM294.65 220.01h2v3.87h-2zM306.68 220.01h2v3.87h-2zM338.76 220.01h2v3.87h-2zM348.78 220.01h2v3.87h-2zM322.72 223.88h2v3.87h-2z"/>
<path fill="#c81414" d="M110.2 10.87h2v3.87h-2zM110.2 14.75h2v3.87h-2zM110.2 34.11h2v3.87h-2zM122.23 41.86h2v3.87h-2zM110.2 45.73h2v3.87h-2zM110.2 53.47h2v3.87h-2zM108.2 57.35h4.01v3.87h-4.01zM110.2 72.84h2v3.87h-2zM110.2 76.71h2v3.87h-2zM110.2 80.58h2v3.87h-2zM108.2 84.46h2v3.87h-2zM108.2 111.57h2v3.87h-2zM110.2 119.31h2v3.87h-2zM122.23 123.19h2v3.87h-2zM108.2 134.81h4.01v3.87h-4.01zM110.2 138.68h2v3.87h-2zM110.2 146.42h2v3.87h-2zM108.2 165.79h2v3.87h-2zM110.2 169.66h2v3.87h-2zM110.2 181.28h2v3.87h-2zM110.2 189.03h2v3.87h-2zM108.2 196.77h2v3.87h-2zM126.24 204.52h2v3.87h-2zM108.2 212.26h2v3.87h-2zM110.2 220.01h2v3.87h-2zM108.2 227.75h2v3.87h-2zM112.21 227.75h2v3.87h-2zM108.2 231.63h2v3.87h-2z"/>
<path fill="#148c14" d="M258.56 10.87h2v3.87h-2zM312.69 10.87h2v3.87h-2zM326.73 10.87h2v3.87h-2zM340.76 10.87h2v3.87h-2zM306.68 14.75h2v3.87h-2zM324.72 14.75h2v3.87h-2zM348.78 14.75h2v3.87h-2zM328.73 22.49h2v3.87h-2zM348.78 22.49h2v3.87h-2zM274.6 26.36h2v3.87h-2zM304.67 26.36h2v3.87h-2zM328.73 26.36h2v3.87h-2zM350.79 26.36h2v3.87h-2zM342.77 34.11h2v3.87h-2zM352.79 34.11h2v3.87h-2zM262.57 37.98h2v3.87h-2zM306.68 37.98h2v3.87h-2zM330.74 37.98h2v3.87h-2zM340.76 37.98h2v3.87h-2zM354.8 37.98h2v3.87h-2zM260.57 41.86h2v3.87h-2zM314.7 45.73h2v3.87h-2zM326.73 45.73h2v3.87h-2zM340.76 45.73h2v3.87h-2zM318.71 49.6h2v3.87h-2zM324.72 49.6h2v3.87h-2zM346.78 49.6h2v3.87h-2zM274.6 53.47h2v3.87h-2zM294.65 53.47h2v3.87h-2zM322.72 53.47h2v3.87h-2zM326.73 53.47h2v3.87h-2zM332.74 53.47h2v3.87h-2zM256.56 57.35h2v3.87h-2zM316.7 57.35h2v3.87h-2zM286.63 61.22h2v3.87h-2zM336.75 65.09h2v3.87h-2zM334.75 68.97h2v3.87h-2zM352.79 68.97h4.01v3.87h-4.01zM260.57 72.84h2v3.87h-2zM282.62 72.84h2v3.87h-2zM298.66 72.84h4.01v3.87h-4.01zM316.7 72.84h2v3.87h-2zM338.76 72.84h2v3.87h-2zM348.78 72.84h2v3.87h-2zM274.6 76.71h2v3.87h-2zM334.75 76.71h2v3.87h-2zM260.57 80.58h2v3.87h-2zM326.73 80.58h2v3.87h-2zM352.79 80.58h2v3.87h-2zM264.58 84.46h2v3.87h-2zM270.59 84.46h2v3.87h-2zM312.69 84.46h2v3.87h-2zM350.79 84.46h2v3.87h-2zM268.59 88.33h2v3.87h-2zM346.78 88.33h2v3.87h-2zM328.73 92.2h2v3.87h-2zM334.75 92.2h4.01v3.87h-4.01zM332.74 96.08h2v3.87h-2zM340.76 96.08h2v3.87h-2zM346.78 96.08h2v3.87h-2zM342.77 99.95h2v3.87h-2zM280.62 103.82h2v3.87h-2zM320.71 103.82h2v3.87h-2zM300.66 107.69h2v3.87h-2zM316.7 107.69h2v3.87h-2zM336.75 107.69h2v3.87h-2zM344.77 107.69h2v3.87h-2zM260.57 111.57h2v3.87h-2zM264.58 111.57h2v3.87h-2zM288.64 111.57h2v3.87h-2zM340.76 111.57h4.01v3.87h-4.01zM256.56 115.44h4.01v3.87h-4.01zM262.57 115.44h2v3.87h-2zM294.65 115.44h2v3.87h-2zM314.7 115.44h2v3.87h-2zM260.57 123.19h2v3.87h-2zM352.79 123.19h2v3.87h-2zM342.77 127.06h2v3.87h-2zM294.65 130.93h2v3.87h-2zM312.69 130.93h4.01v3.87h-4.01zM326.73 130.93h2v3.87h-2zM342.77 130.93h2v3.87h-2zM264.58 134.81h2v3.87h-2zM274.6 134.81h2v3.87h-2zM296.65 134.81h2v3.87h-2zM354.8 134.81h2v3.87h-2zM286.63 138.68h2v3.87h-2zM326.73 146.42h2v3.87h-2zM336.75 146.42h2v3.87h-2zM346.78 146.42h2v3.87h-2zM326.73 150.3h2v3.87h-2zM340.76 150.3h2v3.87h-2zM260.57 154.17h2v3.87h-2zM302.67 154.17h2v3.87h-2zM346.78 154.17h2v3.87h-2zM322.72 158.04h2v3.87h-2zM352.79 165.79h2v3.87h-2zM318.71 169.66h2v3.87h-2zM268.59 177.41h2v3.87h-2zM288.64 177.41h2v3.87h-2zM294.65 177.41h2v3.87h-2zM298.66 177.41h2v3.87h-2zM304.67 177.41h2v3.87h-2zM334.75 177.41h2v3.87h-2zM314.7 181.28h2v3.87h-2zM318.71 181.28h2v3.87h-2zM348.78 181.28h2v3.87h-2zM354.8 181.28h2v3.87h-2zM310.69 185.15h2v3.87h-2zM344.77 185.15h2v3.87h-2zM350.79 185.15h2v3.87h-2zM350.79 192.9h2v3.87h-2zM258.56 196.77h2v3.87h-2zM312.69 196.77h2v3.87h-2zM324.72 196.77h2v3.87h-2zM332.74 196.77h2v3.87h-2zM348.78 196.77h2v3.87h-2zM274.6 200.64h4.01v3.87h-4.01zM324.72 200.64h2v3.87h-2zM314.7 204.52h2v3.87h-2zM318.71 204.52h4.01v3.87h-4.01zM328.73 204.52h2v3.87h-2zM348.78 204.52h2v3.87h-2zM258.56 216.14h2v3.87h-2zM344.77 216.14h2v3.87h-2zM300.66 220.01h2v3.87h-2zM316.7 220.01h2v3.87h-2zM322.72 220.01h2v3.87h-2zM326.73 220.01h2v3.87h-2zM342.77 227.75h2v3.87h-2z"/>
<path fill="#14b414" d="M306.68 10.87h2v3.87h-2zM256.56 26.36h2v3.87h-2zM316.7 26.36h2v3.87h-2zM330.74 26.36h2v3.87h-2zM334.75 26.36h2v3.87h-2zM354.8 26.36h2v3.87h-2zM294.65 37.98h2v3.87h-2zM308.68 37.98h2v3.87h-2zM332.74 37.98h2v3.87h-2zM344.77 37.98h2v3.87h-2zM268.59 41.86h2v3.87h-2zM326.73 41.86h2v3.87h-2zM324.72 45.73h2v3.87h-2zM348.78 53.47h2v3.87h-2zM342.77 57.35h2v3.87h-2zM314.7 72.84h2v3.87h-2zM332.74 72.84h2v3.87h-2zM288.64 76.71h2v3.87h-2zM326.73 76.71h2v3.87h-2zM338.76 76.71h2v3.87h-2zM348.78 76.71h2v3.87h-2zM286.63 84.46h2v3.87h-2zM298.66 84.46h2v3.87h-2zM348.78 84.46h2v3.87h-2zM342.77 96.08h2v3.87h-2zM316.7 99.95h2v3.87h-2zM352.79 103.82h2v3.87h-2zM342.77 107.69h2v3.87h-2zM336.75 111.57h2v3.87h-2zM306.68 115.44h2v3.87h-2zM326.73 115.44h2v3.87h-2zM336.75 115.44h2v3.87h-2zM340.76 115.44h2v3.87h-2zM346.78 115.44h2v3.87h-2zM264.58 123.19h2v3.87h-2zM342.77 134.81h2v3.87h-2zM322.72 146.42h2v3.87h-2zM328.73 146.42h2v3.87h-2zM342.77 146.42h2v3.87h-2zM310.69 154.17h2v3.87h-2zM346.78 169.66h2v3.87h-2zM328.73 177.41h2v3.87h-2zM274.6 181.28h2v3.87h-2zM328.73 181.28h2v3.87h-2zM320.71 196.77h2v3.87h-2zM340.76 196.77h2v3.87h-2zM326.73 204.52h2v3.87h-2zM350.79 204.52h2v3.87h-2zM306.68 216.14h2v3.87h-2zM316.7 216.14h2v3.87h-2zM326.73 223.88h2v3.87h-2z"/>
<path fill="#0a5a0a" d="M314.7 10.87h2v3.87h-2zM314.7 18.62h2v3.87h-2zM296.65 49.6h2v3.87h-2zM286.63 65.09h2v3.87h-2zM340.76 80.58h2v3.87h-2zM354.8 80.58h2v3.87h-2zM286.63 88.33h2v3.87h-2zM288.64 92.2h2v3.87h-2zM338.76 107.69h2v3.87h-2zM316.7 134.81h2v3.87h-2zM282.62 138.68h2v3.87h-2zM310.69 142.55h2v3.87h-2zM316.7 154.17h2v3.87h-2zM286.63 158.04h2v3.87h-2zM318.71 158.04h2v3.87h-2zM300.66 169.66h2v3.87h-2zM336.75 173.53h2v3.87h-2zM308.68 200.64h2v3.87h-2zM316.7 200.64h2v3.87h-2zM346.78 200.64h2v3.87h-2zM348.78 227.75h2v3.87h-2z"/>
<path fill="#14c814" d="M318.71 10.87h2v3.87h-2zM318.71 45.73h2v3.87h-2zM324.72 53.47h2v3.87h-2zM330.74 53.47h2v3.87h-2zM302.67 65.09h2v3.87h-2zM318.71 65.09h2v3.87h-2zM340.76 76.71h4.01v3.87h-4.01zM276.61 84.46h2v3.87h-2zM282.62 84.46h2v3.87h-2zM320.71 84.46h2v3.87h-2zM324.72 84.46h2v3.87h-2zM340.76 84.46h2v3.87h-2zM308.68 96.08h2v3.87h-2zM330.74 111.57h2v3.87h-2zM354.8 111.57h2v3.87h-2zM286.63 115.44h2v3.87h-2zM292.65 115.44h2v3.87h-2zM328.73 115.44h2v3.87h-2zM354.8 115.44h2v3.87h-2zM282.62 134.81h2v3.87h-2zM294.65 134.81h2v3.87h-2zM318.71 134.81h2v3.87h-2zM324.72 134.81h2v3.87h-2zM352.79 134.81h2v3.87h-2zM318.71 146.42h2v3.87h-2zM260.57 177.41h2v3.87h-2zM350.79 177.41h2v3.87h-2zM308.68 196.77h2v3.87h-2zM336.75 196.77h2v3.87h-2zM318.71 220.01h2v3.87h-2z"/>
<path fill="#146e14" d="M328.73 10.87h2v3.87h-2zM346.78 14.75h2v3.87h-2zM352.79 14.75h2v3.87h-2zM258.56 18.62h2v3.87h-2zM300.66 18.62h2v3.87h-2zM336.75 18.62h2v3.87h-2zM334.75 22.49h2v3.87h-2zM342.77 22.49h4.01v3.87h-4.01zM300.66 26.36h2v3.87h-2zM310.69 26.36h2v3.87h-2zM344.77 30.24h2v3.87h-2zM348.78 30.24h2v3.87h-2zM256.56 34.11h2v3.87h-2zM326.73 34.11h2v3.87h-2zM256.56 37.98h2v3.87h-2zM338.76 37.98h2v3.87h-2zM300.66 41.86h2v3.87h-2zM304.67 41.86h2v3.87h-2zM308.68 41.86h2v3.87h-2zM324.72 41.86h2v3.87h-2zM258.56 45.73h2v3.87h-2zM346.78 45.73h2v3.87h-2zM256.56 49.6h4.01v3.87h-4.01zM326.73 49.6h2v3.87h-2zM332.74 49.6h2v3.87h-2zM350.79 49.6h2v3.87h-2zM354.8 49.6h2v3.87h-2zM268.59 53.47h2v3.87h-2zM346.78 53.47h2v3.87h-2zM312.69 57.35h2v3.87h-2zM300.66 61.22h2v3.87h-2zM330.74 61.22h2v3.87h-2zM256.56 65.09h2v3.87h-2zM280.62 65.09h2v3.87h-2zM352.79 65.09h2v3.87h-2zM256.56 68.97h2v3.87h-2zM320.71 68.97h2v3.87h-2zM256.56 72.84h2v3.87h-2zM256.56 76.71h2v3.87h-2zM276.61 76.71h2v3.87h-2zM264.58 80.58h2v3.87h-2zM308.68 80.58h2v3.87h-2zM350.79 80.58h2v3.87h-2zM258.56 88.33h2v3.87h-2zM272.6 88.33h2v3.87h-2zM308.68 88.33h2v3.87h-2zM280.62 92.2h2v3.87h-2zM306.68 92.2h2v3.87h-2zM326.73 92.2h2v3.87h-2zM330.74 92.2h2v3.87h-2zM340.76 92.2h2v3.87h-2zM270.59 96.08h2v3.87h-2zM290.64 96.08h2v3.87h-2zM298.66 96.08h2v3.87h-2zM310.69 96.08h2v3.87h-2zM344.77 96.08h2v3.87h-2zM314.7 99.95h2v3.87h-2zM326.73 99.95h2v3.87h-2zM282.62 103.82h2v3.87h-2zM290.64 103.82h2v3.87h-2zM298.66 103.82h2v3.87h-2zM312.69 103.82h2v3.87h-2zM332.74 103.82h2v3.87h-2zM338.76 103.82h2v3.87h-2zM260.57 107.69h2v3.87h-2zM312.69 107.69h2v3.87h-2zM330.74 107.69h2v3.87h-2zM340.76 107.69h2v3.87h-2zM284.63 111.57h4.01v3.87h-4.01zM332.74 111.57h2v3.87h-2zM352.79 111.57h2v3.87h-2zM260.57 115.44h2v3.87h-2zM294.65 123.19h2v3.87h-2zM312.69 123.19h2v3.87h-2zM324.72 123.19h2v3.87h-2zM298.66 130.93h4.01v3.87h-4.01zM328.73 130.93h2v3.87h-2zM270.59 134.81h2v3.87h-2zM292.65 134.81h2v3.87h-2zM326.73 134.81h2v3.87h-2zM298.66 138.68h2v3.87h-2zM330.74 138.68h2v3.87h-2zM312.69 142.55h2v3.87h-2zM326.73 142.55h2v3.87h-2zM256.56 146.42h2v3.87h-2zM262.57 146.42h2v3.87h-2zM270.59 146.42h2v3.87h-2zM292.65 146.42h2v3.87h-2zM354.8 146.42h2v3.87h-2zM258.56 154.17h2v3.87h-2zM268.59 154.17h2v3.87h-2zM280.62 154.17h2v3.87h-2zM300.66 154.17h2v3.87h-2zM316.7 158.04h2v3.87h-2zM256.56 165.79h2v3.87h-2zM316.7 165.79h2v3.87h-2zM324.72 173.53h2v3.87h-2zM308.68 177.41h2v3.87h-2zM320.71 177.41h2v3.87h-2zM336.75 177.41h2v3.87h-2zM344.77 177.41h2v3.87h-2zM326.73 181.28h2v3.87h-2zM260.57 185.15h2v3.87h-2zM308.68 185.15h2v3.87h-2zM330.74 185.15h2v3.87h-2zM338.76 185.15h4.01v3.87h-4.01zM316.7 189.03h2v3.87h-2zM348.78 189.03h2v3.87h-2zM330.74 200.64h4.01v3.87h-4.01zM260.57 204.52h2v3.87h-2zM308.68 204.52h2v3.87h-2zM346.78 204.52h2v3.87h-2zM340.76 208.39h2v3.87h-2zM264.58 216.14h2v3.87h-2zM310.69 216.14h2v3.87h-2zM314.7 216.14h2v3.87h-2zM322.72 216.14h2v3.87h-2zM346.78 216.14h2v3.87h-2zM320.71 220.01h2v3.87h-2zM260.57 223.88h2v3.87h-2zM268.59 223.88h2v3.87h-2z"/>
<path fill="#14be14" d="M330.74 10.87h2v3.87h-2zM260.57 14.75h2v3.87h-2zM342.77 14.75h2v3.87h-2zM342.77 26.36h2v3.87h-2zM258.56 34.11h2v3.87h-2zM352.79 37.98h2v3.87h-2zM258.56 57.35h2v3.87h-2zM342.77 65.09h2v3.87h-2zM350.79 65.09h2v3.87h-2zM342.77 80.58h2v3.87h-2zM316.7 84.46h2v3.87h-2zM354.8 84.46h2v3.87h-2zM354.8 88.33h2v3.87h-2zM260.57 92.2h2v3.87h-2zM348.78 107.69h2v3.87h-2zM274.6 111.57h2v3.87h-2zM320.71 115.44h2v3.87h-2zM280.62 134.81h2v3.87h-2zM340.76 134.81h2v3.87h-2zM350.79 134.81h2v3.87h-2zM330.74 154.17h2v3.87h-2zM336.75 154.17h2v3.87h-2zM324.72 177.41h4.01v3.87h-4.01zM340.76 177.41h4.01v3.87h-4.01zM330.74 181.28h2v3.87h-2zM260.57 196.77h2v3.87h-2zM354.8 196.77h2v3.87h-2zM330.74 204.52h2v3.87h-2zM318.71 223.88h2v3.87h-2z"/>
<path fill="#14dc14" d="M342.77 10.87h2v3.87h-2zM318.71 26.36h4.01v3.87h-4.01zM344.77 26.36h4.01v3.87h-4.01zM322.72 37.98h2v3.87h-2zM334.75 37.98h2v3.87h-2zM342.77 37.98h2v3.87h-2zM348.78 37.98h4.01v3.87h-4.01zM260.57 65.09h2v3.87h-2zM348.78 65.09h2v3.87h-2zM258.56 72.84h2v3.87h-2zM258.56 84.46h4.01v3.87h-4.01zM342.77 84.46h2v3.87h-2zM318.71 111.57h2v3.87h-2zM328.73 111.57h2v3.87h-2zM318.71 115.44h2v3.87h-2zM350.79 115.44h2v3.87h-2zM318.71 196.77h2v3.87h-2zM342.77 216.14h2v3.87h-2z"/>
<path fill="#d21414" d="M108.2 14.75h2v3.87h-2zM108.2 18.62h4.01v3.87h-4.01zM108.2 26.36h4.01v3.87h-4.01zM108.2 34.11h2v3.87h-2zM108.2 37.98h4.01v3.87h-4.01zM110.2 41.86h2v3.87h-2zM108.2 49.6h2v3.87h-2zM108.2 61.22h2v3.87h-2zM108.2 65.09h4.01v3.87h-4.01zM108.2 68.97h4.01v3.87h-4.01zM108.2 76.71h2v3.87h-2zM122.23 76.71h2v3.87h-2zM108.2 92.2h4.01v3.87h-4.01zM110.2 99.95h2v3.87h-2zM108.2 103.82h4.01v3.87h-4.01zM108.2 119.31h2v3.87h-2zM108.2 123.19h4.01v3.87h-4.01zM108.2 127.06h2v3.87h-2zM108.2 142.55h2v3.87h-2zM108.2 146.42h2v3.87h-2zM108.2 154.17h2v3.87h-2zM110.2 173.53h2v3.87h-2zM110.2 177.41h2v3.87h-2zM108.2 181.28h2v3.87h-2zM110.2 192.9h2v3.87h-2zM110.2 196.77h2v3.87h-2zM108.2 204.52h4.01v3.87h-4.01zM110.2 212.26h2v3.87h-2zM110.2 227.75h2v3.87h-2z"/>
<path fill="#14d214" d="M312.69 14.75h2v3.87h-2zM312.69 26.36h2v3.87h-2zM348.78 26.36h2v3.87h-2zM310.69 37.98h2v3.87h-2zM314.7 37.98h2v3.87h-2zM318.71 37.98h2v3.87h-2zM342.77 53.47h2v3.87h-2zM340.76 68.97h2v3.87h-2zM324.72 76.71h2v3.87h-2zM328.73 76.71h2v3.87h-2zM294.65 84.46h2v3.87h-2zM260.57 96.08h2v3.87h-2zM300.66 115.44h2v3.87h-2zM332.74 115.44h2v3.87h-2zM342.77 115.44h4.01v3.87h-4.01zM352.79 115.44h2v3.87h-2zM348.78 134.81h2v3.87h-2zM318.71 150.3h2v3.87h-2zM328.73 154.17h2v3.87h-2z"/>
<path fill="#b41414" d="M110.2 22.49h2v3.87h-2zM128.25 26.36h2v3.87h-2zM126.24 34.11h2v3.87h-2zM144.29 41.86h2v3.87h-2zM116.22 49.6h2v3.87h-2zM126.24 49.6h2v3.87h-2zM144.29 49.6h2v3.87h-2zM110.2 61.22h2v3.87h-2zM112.21 65.09h2v3.87h-2zM118.22 65.09h2v3.87h-2zM122.23 65.09h2v3.87h-2zM142.28 65.09h2v3.87h-2zM148.3 65.09h2v3.87h-2zM116.22 68.97h2v3.87h-2zM120.23 68.97h2v3.87h-2zM126.24 68.97h2v3.87h-2zM122.23 80.58h2v3.87h-2zM110.2 88.33h2v3.87h-2zM120.23 103.82h2v3.87h-2zM110.2 111.57h2v3.87h-2zM108.2 115.44h2v3.87h-2zM112.21 119.31h2v3.87h-2zM114.21 127.06h2v3.87h-2zM140.28 127.06h2v3.87h-2zM148.3 127.06h2v3.87h-2zM122.23 142.55h2v3.87h-2zM108.2 158.04h4.01v3.87h-4.01zM108.2 189.03h2v3.87h-2zM108.2 192.9h2v3.87h-2zM108.2 200.64h4.01v3.87h-4.01zM144.29 204.52h2v3.87h-2zM112.21 212.26h2v3.87h-2zM112.21 220.01h2v3.87h-2zM110.2 231.63h4.01v3.87h-4.01z"/>
</g>
<path d="M108.2 10.87H356.8M108.2 14.75H356.8M108.2 18.62H356.8M108.2 22.49H356.8M108.2 26.36H356.8M108.2 30.24H356.8M108.2 34.11H356.8M108.2 37.98H356.8M108.2 41.86H356.8M108.2 45.73H356.8M108.2 49.6H356.8M108.2 53.47H356.8M108.2 57.35H356.8M108.2 61.22H356.8M108.2 65.09H356.8M108.2 68.97H356.8M108.2 72.84H356.8M108.2 76.71H356.8M108.2 80.58H356.8M108.2 84.46H356.8M108.2 88.33H356.8M108.2 92.2H356.8M108.2 96.08H356.8M108.2 99.95H356.8M108.2 103.82H356.8M108.2 107.69H356.8M108.2 111.57H356.8M108.2 115.44H356.8M108.2 119.31H356.8M108.2 123.19H356.8M108.2 127.06H356.8M108.2 130.93H356.8M108.2 134.81H356.8M108.2 138.68H356.8M108.2 142.55H356.8M108.2 146.42H356.8M108.2 150.3H356.8M108.2 154.17H356.8M108.2 158.04H356.8M108.2 161.92H356.8M108.2 165.79H356.8M108.2 169.66H356.8M108.2 173.53H356.8M108.2 177.41H356.8M108.2 181.28H356.8M108.2 185.15H356.8M108.2 189.03H356.8M108.2 192.9H356.8M108.2 196.77H356.8M108.2 200.64H356.8M108.2 204.52H356.8M108.2 208.39H356.8M108.2 212.26H356.8M108.2 216.14H356.8M108.2 220.01H356.8M108.2 223.88H356.8M108.2 227.75H356.8M108.2 231.63H356.8" fill="none" stroke="#000" stroke-width="0.55" opacity="0.55"/>
<rect x="108.2" y="235.5" width="62.8" height="8" fill="#f7a21b"/>
<rect x="171" y="235.5" width="86" height="8" fill="#fbd870"/>
<rect x="257" y="235.7" width="99.8" height="7.6" fill="#e4edf8" stroke="#9fb4d8" stroke-width="0.4"/>
<text x="139.5" y="241.1" font-size="3.6" text-anchor="middle" font-weight="bold" fill="#3a2a10" class="nb">ICC high</text>
<text x="214" y="241.1" font-size="3.6" text-anchor="middle" font-weight="bold" fill="#3a3a10" class="nb">ICC low</text>
<text x="307" y="241.1" font-size="3.6" text-anchor="middle" font-weight="bold" fill="#1a2a4a" class="nb">Uninflamed</text>
<path fill="#d8405e" d="M108.2 243.5h4.05v7.8h-4.05zM112.2 243.5h9.05v7.8h-9.05zM121.2 243.5h3.05v7.8h-3.05zM124.2 243.5h9.05v7.8h-9.05zM133.2 243.5h5.05v7.8h-5.05zM138.2 243.5h3.85v7.8h-3.85zM146 243.5h2.05v7.8h-2.05zM148 243.5h2.05v7.8h-2.05zM155 243.5h1.05v7.8h-1.05zM156 243.5h1.05v7.8h-1.05zM170 243.5h1.05v7.8h-1.05zM171 243.5h2.05v7.8h-2.05z"/>
<path fill="#2eb04a" d="M142 243.5h4.05v7.8h-4.05zM150 243.5h4.05v7.8h-4.05zM154 243.5h1.05v7.8h-1.05zM157 243.5h1.05v7.8h-1.05zM158 243.5h4.05v7.8h-4.05zM162 243.5h4.05v7.8h-4.05zM166 243.5h4.05v7.8h-4.05zM173 243.5h8.05v7.8h-8.05zM181 243.5h7.05v7.8h-7.05zM188 243.5h5.05v7.8h-5.05zM193 243.5h7.05v7.8h-7.05zM200 243.5h7.05v7.8h-7.05zM207 243.5h6.05v7.8h-6.05zM213 243.5h1.05v7.8h-1.05zM214 243.5h3.05v7.8h-3.05zM217 243.5h6.05v7.8h-6.05zM225 243.5h4.05v7.8h-4.05zM229 243.5h5.05v7.8h-5.05zM234 243.5h2.05v7.8h-2.05zM236 243.5h8.05v7.8h-8.05zM244 243.5h2.05v7.8h-2.05zM246 243.5h3.05v7.8h-3.05zM249 243.5h7.05v7.8h-7.05zM256 243.5h1.05v7.8h-1.05zM263 243.5h5.05v7.8h-5.05zM268 243.5h4.05v7.8h-4.05zM289 243.5h4.05v7.8h-4.05zM308 243.5h8.05v7.8h-8.05zM321 243.5h5.05v7.8h-5.05z"/>
<path fill="#3c62d2" d="M223 243.5h2.05v7.8h-2.05zM257 243.5h6.05v7.8h-6.05zM272 243.5h4.05v7.8h-4.05zM276 243.5h2.05v7.8h-2.05zM278 243.5h2.05v7.8h-2.05zM280 243.5h6.05v7.8h-6.05zM286 243.5h3.05v7.8h-3.05zM293 243.5h3.05v7.8h-3.05zM296 243.5h8.05v7.8h-8.05zM304 243.5h4.05v7.8h-4.05zM316 243.5h5.05v7.8h-5.05zM326 243.5h6.05v7.8h-6.05zM332 243.5h2.05v7.8h-2.05zM334 243.5h8.05v7.8h-8.05zM342 243.5h5.05v7.8h-5.05zM347 243.5h7.05v7.8h-7.05zM354 243.5h2.85v7.8h-2.85z"/>
<path fill="#d23a55" d="M108.2 251.3h3.05v7.9h-3.05zM111.2 251.3h2.05v7.9h-2.05zM114.2 251.3h4.05v7.9h-4.05zM119.2 251.3h5.05v7.9h-5.05zM130.2 251.3h6.05v7.9h-6.05zM142.2 251.3h2.05v7.9h-2.05zM144.2 251.3h1.05v7.9h-1.05zM145.2 251.3h5.05v7.9h-5.05zM150.2 251.3h6.05v7.9h-6.05zM156.2 251.3h6.05v7.9h-6.05zM165.2 251.3h2.05v7.9h-2.05zM178 251.3h1.05v7.9h-1.05zM179 251.3h1.05v7.9h-1.05zM185 251.3h2.05v7.9h-2.05zM189 251.3h2.05v7.9h-2.05zM193 251.3h1.05v7.9h-1.05zM194 251.3h1.05v7.9h-1.05zM205 251.3h1.05v7.9h-1.05zM208 251.3h1.05v7.9h-1.05zM209 251.3h2.05v7.9h-2.05zM212 251.3h4.05v7.9h-4.05zM218 251.3h1.05v7.9h-1.05zM228 251.3h1.05v7.9h-1.05zM232 251.3h1.05v7.9h-1.05zM233 251.3h4.05v7.9h-4.05zM237 251.3h1.05v7.9h-1.05zM238 251.3h3.05v7.9h-3.05zM241 251.3h1.05v7.9h-1.05zM242 251.3h4.05v7.9h-4.05zM251 251.3h4.05v7.9h-4.05zM282 251.3h2.05v7.9h-2.05zM287 251.3h1.05v7.9h-1.05zM294 251.3h2.05v7.9h-2.05zM296 251.3h3.05v7.9h-3.05zM314 251.3h5.05v7.9h-5.05z"/>
<path fill="#3c5fd6" d="M113.2 251.3h1.05v7.9h-1.05zM118.2 251.3h1.05v7.9h-1.05zM124.2 251.3h6.05v7.9h-6.05zM162.2 251.3h3.05v7.9h-3.05zM167.2 251.3h3.85v7.9h-3.85zM187 251.3h1.05v7.9h-1.05zM195 251.3h4.05v7.9h-4.05zM199 251.3h2.05v7.9h-2.05zM201 251.3h4.05v7.9h-4.05zM224 251.3h4.05v7.9h-4.05zM229 251.3h3.05v7.9h-3.05zM246 251.3h2.05v7.9h-2.05zM248 251.3h1.05v7.9h-1.05zM249 251.3h2.05v7.9h-2.05zM255 251.3h2.05v7.9h-2.05z"/>
<path fill="#de7a2e" d="M136.2 251.3h6.05v7.9h-6.05zM206 251.3h2.05v7.9h-2.05zM211 251.3h1.05v7.9h-1.05zM219 251.3h1.05v7.9h-1.05zM257 251.3h3.05v7.9h-3.05zM260 251.3h3.05v7.9h-3.05zM263 251.3h2.05v7.9h-2.05zM265 251.3h2.05v7.9h-2.05zM269 251.3h1.05v7.9h-1.05zM270 251.3h4.05v7.9h-4.05zM274 251.3h1.05v7.9h-1.05zM278 251.3h4.05v7.9h-4.05zM288 251.3h2.05v7.9h-2.05zM300 251.3h2.05v7.9h-2.05zM302 251.3h4.05v7.9h-4.05zM306 251.3h3.05v7.9h-3.05zM309 251.3h5.05v7.9h-5.05zM319 251.3h9.05v7.9h-9.05zM328 251.3h8.05v7.9h-8.05zM336 251.3h9.05v7.9h-9.05zM345 251.3h6.05v7.9h-6.05zM351 251.3h2.05v7.9h-2.05zM353 251.3h3.85v7.9h-3.85z"/>
<path fill="#3a9a62" d="M171 251.3h3.05v7.9h-3.05zM174 251.3h4.05v7.9h-4.05zM180 251.3h1.05v7.9h-1.05zM181 251.3h4.05v7.9h-4.05zM191 251.3h2.05v7.9h-2.05zM216 251.3h2.05v7.9h-2.05zM220 251.3h1.05v7.9h-1.05zM221 251.3h3.05v7.9h-3.05zM290 251.3h4.05v7.9h-4.05zM299 251.3h1.05v7.9h-1.05z"/>
<path fill="#46d4e4" d="M188 251.3h1.05v7.9h-1.05zM267 251.3h2.05v7.9h-2.05zM275 251.3h3.05v7.9h-3.05zM284 251.3h3.05v7.9h-3.05z"/>
<path d="M108.2 266.2h0.75v6.1h-0.75zM109.05 268.03h0.75v4.27h-0.75zM109.9 261.93h0.75v10.37h-0.75zM110.75 269.86h0.75v2.44h-0.75zM111.6 261.32h0.75v10.98h-0.75zM112.45 262.54h0.75v9.76h-0.75zM113.3 261.32h0.75v10.98h-0.75zM114.15 261.32h0.75v10.98h-0.75zM115 260.1h0.75v12.2h-0.75zM115.85 269.86h0.75v2.44h-0.75zM116.7 268.03h0.75v4.27h-0.75zM117.55 260.71h0.75v11.59h-0.75zM118.4 266.2h0.75v6.1h-0.75zM119.25 269.25h0.75v3.05h-0.75zM120.1 267.42h0.75v4.88h-0.75zM120.95 263.76h0.75v8.54h-0.75zM121.8 261.93h0.75v10.37h-0.75zM122.65 267.42h0.75v4.88h-0.75zM123.5 264.98h0.75v7.32h-0.75zM124.35 260.1h0.75v12.2h-0.75zM125.2 267.42h0.75v4.88h-0.75zM126.05 267.42h0.75v4.88h-0.75zM126.9 264.98h0.75v7.32h-0.75zM127.75 263.76h0.75v8.54h-0.75zM128.6 268.03h0.75v4.27h-0.75zM129.45 268.03h0.75v4.27h-0.75zM130.3 269.25h0.75v3.05h-0.75zM131.15 261.32h0.75v10.98h-0.75zM132 268.64h0.75v3.66h-0.75zM132.85 269.86h0.75v2.44h-0.75zM133.7 266.2h0.75v6.1h-0.75zM134.55 263.76h0.75v8.54h-0.75zM135.4 266.2h0.75v6.1h-0.75zM136.25 261.32h0.75v10.98h-0.75zM137.1 267.42h0.75v4.88h-0.75zM137.95 261.32h0.75v10.98h-0.75zM138.8 268.03h0.75v4.27h-0.75zM139.65 260.1h0.75v12.2h-0.75zM140.5 268.03h0.75v4.27h-0.75zM141.35 268.03h0.75v4.27h-0.75zM142.2 264.98h0.75v7.32h-0.75zM143.05 264.98h0.75v7.32h-0.75zM143.9 264.98h0.75v7.32h-0.75zM144.75 268.03h0.75v4.27h-0.75zM145.6 264.98h0.75v7.32h-0.75zM146.45 263.76h0.75v8.54h-0.75zM147.3 263.76h0.75v8.54h-0.75zM148.15 266.2h0.75v6.1h-0.75zM149 268.03h0.75v4.27h-0.75zM149.85 267.42h0.75v4.88h-0.75zM150.7 260.71h0.75v11.59h-0.75zM151.55 261.32h0.75v10.98h-0.75zM152.4 260.71h0.75v11.59h-0.75zM153.25 263.76h0.75v8.54h-0.75zM154.1 267.42h0.75v4.88h-0.75zM154.95 261.32h0.75v10.98h-0.75zM155.8 268.64h0.75v3.66h-0.75zM156.65 262.54h0.75v9.76h-0.75zM157.5 264.98h0.75v7.32h-0.75zM158.35 261.32h0.75v10.98h-0.75zM159.2 264.98h0.75v7.32h-0.75zM160.05 264.98h0.75v7.32h-0.75zM160.9 263.76h0.75v8.54h-0.75zM161.75 267.42h0.75v4.88h-0.75zM162.6 263.76h0.75v8.54h-0.75zM163.45 269.25h0.75v3.05h-0.75zM164.3 264.98h0.75v7.32h-0.75zM165.15 268.64h0.75v3.66h-0.75zM166 264.98h0.75v7.32h-0.75zM166.85 268.64h0.75v3.66h-0.75zM167.7 261.93h0.75v10.37h-0.75zM168.55 260.71h0.75v11.59h-0.75zM169.4 266.2h0.75v6.1h-0.75zM170.25 267.42h0.75v4.88h-0.75zM171.1 264.98h0.75v7.32h-0.75zM171.95 269.86h0.75v2.44h-0.75zM172.8 271.08h0.75v1.22h-0.75zM173.65 267.42h0.75v4.88h-0.75zM174.5 262.54h0.75v9.76h-0.75zM175.35 261.32h0.75v10.98h-0.75zM176.2 271.69h0.75v0.61h-0.75zM177.05 271.08h0.75v1.22h-0.75zM177.9 269.86h0.75v2.44h-0.75zM178.75 270.47h0.75v1.83h-0.75zM179.6 262.54h0.75v9.76h-0.75zM180.45 271.08h0.75v1.22h-0.75zM181.3 271.69h0.75v0.61h-0.75zM182.15 271.08h0.75v1.22h-0.75zM183 262.54h0.75v9.76h-0.75zM183.85 271.08h0.75v1.22h-0.75zM184.7 268.64h0.75v3.66h-0.75zM185.55 271.69h0.75v0.61h-0.75zM186.4 270.47h0.75v1.83h-0.75zM187.25 262.54h0.75v9.76h-0.75zM188.1 266.2h0.75v6.1h-0.75zM188.95 261.32h0.75v10.98h-0.75zM189.8 262.54h0.75v9.76h-0.75zM190.65 268.64h0.75v3.66h-0.75zM191.5 263.76h0.75v8.54h-0.75zM192.35 268.64h0.75v3.66h-0.75zM193.2 267.42h0.75v4.88h-0.75zM194.05 271.08h0.75v1.22h-0.75zM194.9 271.69h0.75v0.61h-0.75zM195.75 269.86h0.75v2.44h-0.75zM196.6 271.08h0.75v1.22h-0.75zM197.45 261.32h0.75v10.98h-0.75zM198.3 267.42h0.75v4.88h-0.75zM199.15 269.86h0.75v2.44h-0.75zM200 269.86h0.75v2.44h-0.75zM200.85 262.54h0.75v9.76h-0.75zM201.7 269.86h0.75v2.44h-0.75zM202.55 261.32h0.75v10.98h-0.75zM203.4 266.2h0.75v6.1h-0.75zM204.25 271.69h0.75v0.61h-0.75zM205.1 266.2h0.75v6.1h-0.75zM205.95 269.86h0.75v2.44h-0.75zM206.8 271.08h0.75v1.22h-0.75zM207.65 271.08h0.75v1.22h-0.75zM208.5 271.08h0.75v1.22h-0.75zM209.35 267.42h0.75v4.88h-0.75zM210.2 268.64h0.75v3.66h-0.75zM211.05 271.08h0.75v1.22h-0.75zM211.9 269.25h0.75v3.05h-0.75zM212.75 264.98h0.75v7.32h-0.75zM213.6 271.08h0.75v1.22h-0.75zM214.45 271.08h0.75v1.22h-0.75zM215.3 269.86h0.75v2.44h-0.75zM216.15 262.54h0.75v9.76h-0.75zM217 271.69h0.75v0.61h-0.75zM217.85 266.2h0.75v6.1h-0.75zM218.7 269.25h0.75v3.05h-0.75zM219.55 266.2h0.75v6.1h-0.75zM220.4 264.98h0.75v7.32h-0.75zM221.25 261.32h0.75v10.98h-0.75zM222.1 271.69h0.75v0.61h-0.75zM222.95 269.25h0.75v3.05h-0.75zM223.8 271.08h0.75v1.22h-0.75zM224.65 264.98h0.75v7.32h-0.75zM225.5 271.69h0.75v0.61h-0.75zM226.35 261.32h0.75v10.98h-0.75zM227.2 264.98h0.75v7.32h-0.75zM228.05 271.69h0.75v0.61h-0.75zM228.9 266.2h0.75v6.1h-0.75zM229.75 269.25h0.75v3.05h-0.75zM230.6 266.2h0.75v6.1h-0.75zM231.45 271.08h0.75v1.22h-0.75zM232.3 271.08h0.75v1.22h-0.75zM233.15 263.76h0.75v8.54h-0.75zM234 263.76h0.75v8.54h-0.75zM234.85 264.98h0.75v7.32h-0.75zM235.7 266.2h0.75v6.1h-0.75zM236.55 264.98h0.75v7.32h-0.75zM237.4 271.69h0.75v0.61h-0.75zM238.25 263.76h0.75v8.54h-0.75zM239.1 268.64h0.75v3.66h-0.75zM239.95 271.08h0.75v1.22h-0.75zM240.8 271.08h0.75v1.22h-0.75zM241.65 271.08h0.75v1.22h-0.75zM242.5 269.86h0.75v2.44h-0.75zM243.35 268.64h0.75v3.66h-0.75zM244.2 271.08h0.75v1.22h-0.75zM245.05 269.25h0.75v3.05h-0.75zM245.9 268.64h0.75v3.66h-0.75zM246.75 270.47h0.75v1.83h-0.75zM247.6 271.69h0.75v0.61h-0.75zM248.45 266.2h0.75v6.1h-0.75zM249.3 267.42h0.75v4.88h-0.75zM250.15 271.08h0.75v1.22h-0.75zM251 262.54h0.75v9.76h-0.75zM251.85 269.25h0.75v3.05h-0.75zM252.7 271.08h0.75v1.22h-0.75zM253.55 271.69h0.75v0.61h-0.75zM254.4 266.2h0.75v6.1h-0.75zM255.25 263.76h0.75v8.54h-0.75zM256.1 271.08h0.75v1.22h-0.75zM256.95 268.64h0.75v3.66h-0.75zM257.8 267.42h0.75v4.88h-0.75zM258.65 272.06h0.75v0.24h-0.75zM259.5 271.08h0.75v1.22h-0.75zM260.35 264.98h0.75v7.32h-0.75zM261.2 264.98h0.75v7.32h-0.75zM262.05 271.69h0.75v0.61h-0.75zM263.75 269.86h0.75v2.44h-0.75zM264.6 271.32h0.75v0.98h-0.75zM265.45 271.69h0.75v0.61h-0.75zM267.15 271.08h0.75v1.22h-0.75zM268 264.98h0.75v7.32h-0.75zM269.7 271.69h0.75v0.61h-0.75zM271.4 264.98h0.75v7.32h-0.75zM272.25 267.42h0.75v4.88h-0.75zM273.1 271.32h0.75v0.98h-0.75zM273.95 267.42h0.75v4.88h-0.75zM275.65 269.86h0.75v2.44h-0.75zM276.5 269.86h0.75v2.44h-0.75zM277.35 271.69h0.75v0.61h-0.75zM279.9 271.69h0.75v0.61h-0.75zM280.75 271.69h0.75v0.61h-0.75zM282.45 271.32h0.75v0.98h-0.75zM283.3 271.08h0.75v1.22h-0.75zM284.15 272.06h0.75v0.24h-0.75zM285 269.86h0.75v2.44h-0.75zM288.4 269.86h0.75v2.44h-0.75zM289.25 271.69h0.75v0.61h-0.75zM291.8 271.69h0.75v0.61h-0.75zM292.65 271.69h0.75v0.61h-0.75zM293.5 264.98h0.75v7.32h-0.75zM294.35 271.32h0.75v0.98h-0.75zM295.2 271.93h0.75v0.37h-0.75zM298.6 267.42h0.75v4.88h-0.75zM300.3 267.42h0.75v4.88h-0.75zM302 272.06h0.75v0.24h-0.75zM304.55 271.32h0.75v0.98h-0.75zM305.4 272.06h0.75v0.24h-0.75zM306.25 267.42h0.75v4.88h-0.75zM307.95 271.08h0.75v1.22h-0.75zM308.8 271.32h0.75v0.98h-0.75zM310.5 271.69h0.75v0.61h-0.75zM312.2 271.93h0.75v0.37h-0.75zM313.05 272.06h0.75v0.24h-0.75zM316.45 271.08h0.75v1.22h-0.75zM317.3 271.93h0.75v0.37h-0.75zM318.15 272.06h0.75v0.24h-0.75zM319 272.06h0.75v0.24h-0.75zM320.7 267.42h0.75v4.88h-0.75zM321.55 269.86h0.75v2.44h-0.75zM322.4 271.69h0.75v0.61h-0.75zM324.1 271.08h0.75v1.22h-0.75zM324.95 269.86h0.75v2.44h-0.75zM325.8 271.69h0.75v0.61h-0.75zM327.5 267.42h0.75v4.88h-0.75zM328.35 269.86h0.75v2.44h-0.75zM329.2 272.06h0.75v0.24h-0.75zM330.05 272.06h0.75v0.24h-0.75zM330.9 272.06h0.75v0.24h-0.75zM331.75 271.32h0.75v0.98h-0.75zM333.45 271.93h0.75v0.37h-0.75zM335.15 269.86h0.75v2.44h-0.75zM336 269.86h0.75v2.44h-0.75zM338.55 267.42h0.75v4.88h-0.75zM339.4 272.06h0.75v0.24h-0.75zM340.25 264.98h0.75v7.32h-0.75zM341.1 271.69h0.75v0.61h-0.75zM341.95 264.98h0.75v7.32h-0.75zM342.8 271.08h0.75v1.22h-0.75zM343.65 267.42h0.75v4.88h-0.75zM344.5 269.86h0.75v2.44h-0.75zM345.35 272.06h0.75v0.24h-0.75zM347.9 271.69h0.75v0.61h-0.75zM348.75 271.93h0.75v0.37h-0.75zM349.6 271.69h0.75v0.61h-0.75zM350.45 271.69h0.75v0.61h-0.75zM352.15 271.69h0.75v0.61h-0.75zM353 271.93h0.75v0.37h-0.75zM353.85 267.42h0.75v4.88h-0.75zM354.7 271.93h0.75v0.37h-0.75zM355.55 271.08h0.75v1.22h-0.75z" fill="#111"/>
<line x1="108.2" y1="272.4" x2="356.8" y2="272.4" stroke="#666" stroke-width="0.35"/>
<line x1="106.2" y1="260" x2="108.2" y2="260" stroke="#333" stroke-width="0.4"/>
<line x1="106.2" y1="272.3" x2="108.2" y2="272.3" stroke="#333" stroke-width="0.4"/>
<text x="106" y="261.5" font-size="3.9" text-anchor="end" fill="#111" class="lb">100%</text>
<text x="106" y="273.7" font-size="3.9" text-anchor="end" fill="#111" class="lb">0%</text>
<text x="15.8" y="242.2" font-size="5.4" font-weight="bold" fill="#1a1a1a" textLength="59.2" lengthAdjust="spacingAndGlyphs" class="lb">Immune cell cluster (ICC)</text>
<text x="15.8" y="250" font-size="5.4" font-weight="bold" fill="#1a1a1a" textLength="14.4" lengthAdjust="spacingAndGlyphs" class="lb">AGPS</text>
<text x="15.6" y="257.8" font-size="5.4" font-weight="bold" fill="#1a1a1a" textLength="60" lengthAdjust="spacingAndGlyphs" class="lb">Intrinsic subtypes (TCGA)</text>
<text x="15.6" y="267.8" font-size="5.4" font-weight="bold" fill="#1a1a1a" textLength="22" lengthAdjust="spacingAndGlyphs" class="lb">sTILs (%)</text>
<defs><linearGradient id="fc" x1="0" x2="1" y1="0" y2="0"><stop offset="0" stop-color="#ee1111"/><stop offset="0.5" stop-color="#050505"/><stop offset="1" stop-color="#11dd11"/></linearGradient><filter id="hb" x="0" y="0" width="1" height="1"><feGaussianBlur stdDeviation="0.45"/></filter></defs>
<rect x="367.2" y="19.9" width="65.1" height="7.9" fill="url(#fc)"/>
<text x="368.6" y="17.9" font-size="5" text-anchor="middle" fill="#333">+1</text>
<text x="429.6" y="17.9" font-size="5" text-anchor="middle" fill="#333">-1</text>
<text x="384" y="17.6" font-size="5.4" font-weight="bold" fill="#222" textLength="36" lengthAdjust="spacingAndGlyphs">log<tspan font-size="3.4" dy="1">2</tspan><tspan dy="-1"> (fold change)</tspan></text>
<text x="372" y="43.8" font-size="5.3" font-weight="bold" fill="#222" textLength="50" lengthAdjust="spacingAndGlyphs">Intrinsic subtypes (TCGA)</text>
<rect x="372.2" y="44.6" width="7.6" height="3.8" fill="#1fa06c" stroke="#ffffff" stroke-width="0.3"/>
<text x="381.3" y="48.1" font-size="5" font-style="italic" fill="#5a5a5a">Luminal</text>
<rect x="372.2" y="50.5" width="7.6" height="3.8" fill="#2563c4" stroke="#ffffff" stroke-width="0.3"/>
<text x="381.3" y="54" font-size="5" font-style="italic" fill="#5a5a5a">Luminal infiltrated</text>
<rect x="372.2" y="56.4" width="7.6" height="3.8" fill="#e0922e" stroke="#ffffff" stroke-width="0.3"/>
<text x="381.3" y="59.9" font-size="5" font-style="italic" fill="#5a5a5a">Luminal papillary</text>
<rect x="372.2" y="62.2" width="7.6" height="3.8" fill="#3fd6e6" stroke="#ffffff" stroke-width="0.3"/>
<text x="381.3" y="65.7" font-size="5" font-style="italic" fill="#5a5a5a">Neuronal</text>
<rect x="372.2" y="68.1" width="7.6" height="3.8" fill="#c93352" stroke="#ffffff" stroke-width="0.3"/>
<text x="381.3" y="71.6" font-size="5" font-style="italic" fill="#5a5a5a">Basal squamous</text>
<text x="372" y="83.1" font-size="5.3" font-weight="bold" fill="#222" textLength="50.5" lengthAdjust="spacingAndGlyphs">Immune cell cluster (ICC)</text>
<rect x="372.4" y="85.3" width="7.2" height="3.4" fill="#dfe8f6" stroke="#7f9fd0" stroke-width="0.5"/>
<text x="381.3" y="88.6" font-size="5" font-style="italic" fill="#5a5a5a">Uninflamed</text>
<rect x="372.2" y="90.8" width="7.6" height="3.8" fill="#f2d466"/>
<text x="381.3" y="94.3" font-size="5" font-style="italic" fill="#5a5a5a">Low</text>
<rect x="372.2" y="96.3" width="7.6" height="3.8" fill="#e86a30"/>
<text x="381.3" y="99.8" font-size="5" font-style="italic" fill="#5a5a5a">High</text>
<text x="439.2" y="43.4" font-size="5.3" font-weight="bold" fill="#222" textLength="45.5" lengthAdjust="spacingAndGlyphs">Antigen presenting cell</text>
<text x="439.2" y="49.1" font-size="5.3" font-weight="bold" fill="#222" textLength="34" lengthAdjust="spacingAndGlyphs">signature (AGPS)</text>
<rect x="439.2" y="50.1" width="7.6" height="3.8" fill="#2563c4"/>
<text x="448.5" y="53.6" font-size="5" font-style="italic" fill="#5a5a5a">No</text>
<rect x="439.2" y="56.2" width="7.6" height="3.8" fill="#1fa06c"/>
<text x="448.5" y="59.7" font-size="5" font-style="italic" fill="#5a5a5a">Low</text>
<rect x="439.2" y="61.7" width="7.6" height="3.8" fill="#c93352"/>
<text x="448.5" y="65.2" font-size="5" font-style="italic" fill="#5a5a5a">High</text>
<text x="437.5" y="119.6" font-size="6.4" text-anchor="middle" font-weight="bold" fill="#111" textLength="127" lengthAdjust="spacingAndGlyphs">Distribution of TCGA intrinsic subtypes across</text>
<text x="437" y="126.8" font-size="6.4" text-anchor="middle" font-weight="bold" fill="#111" textLength="53.5" lengthAdjust="spacingAndGlyphs">Immune cell cluster</text>
<text x="384.7" y="137.8" font-size="5.8" text-anchor="middle" font-weight="bold" fill="#111" textLength="19.8" lengthAdjust="spacingAndGlyphs">ICC high</text>
<text x="437" y="137.8" font-size="5.8" text-anchor="middle" font-weight="bold" fill="#111" textLength="18" lengthAdjust="spacingAndGlyphs">ICC low</text>
<text x="490" y="137.8" font-size="5.8" text-anchor="middle" font-weight="bold" fill="#111" textLength="28" lengthAdjust="spacingAndGlyphs">Uninflamed</text>
<path d="M385.44 171.22L385.77 152.43A18.8 18.8 0 0 1 392.56 153.82Z" fill="#e8782f" stroke="#fff" stroke-width="0.7"/>
<path d="M386.63 171.68L393.74 154.28A18.8 18.8 0 0 1 404.85 176.33Z" fill="#1c4fd8" stroke="#fff" stroke-width="0.7"/>
<path d="M384.56 172.89L402.78 177.54A18.8 18.8 0 1 1 384.89 154.09Z" fill="#cc0a0a" stroke="#fff" stroke-width="0.7"/>
<path d="M438.02 171.22L438.02 152.42A18.8 18.8 0 0 1 446.02 154.21Z" fill="#1f5a2c" stroke="#fff" stroke-width="0.7"/>
<path d="M438.85 171.61L446.85 154.6A18.8 18.8 0 0 1 457.54 173.62Z" fill="#e8782f" stroke="#fff" stroke-width="0.7"/>
<path d="M438.39 173.25L457.08 175.25A18.8 18.8 0 0 1 430.38 190.26Z" fill="#1c4fd8" stroke="#fff" stroke-width="0.7"/>
<path d="M436.6 172.15L428.6 189.16A18.8 18.8 0 0 1 430.12 154.5Z" fill="#cc0a0a" stroke="#fff" stroke-width="0.7"/>
<path d="M437.62 171.22L431.15 153.57A18.8 18.8 0 0 1 437.62 152.42Z" fill="#7ef0d2" stroke="#fff" stroke-width="0.7"/>
<path d="M492 170.88L492.66 152.09A18.8 18.8 0 0 1 502.72 155.44Z" fill="#1f5a2c" stroke="#fff" stroke-width="0.7"/>
<path d="M491.77 172.94L502.49 157.49A18.8 18.8 0 1 1 472.98 172.28Z" fill="#e8782f" stroke="#fff" stroke-width="0.7"/>
<path d="M489.56 171.91L470.77 171.26A18.8 18.8 0 0 1 472.68 163.64Z" fill="#1c4fd8" stroke="#fff" stroke-width="0.7"/>
<path d="M490.11 170.96L473.23 162.69A18.8 18.8 0 0 1 482.38 153.83Z" fill="#cc0a0a" stroke="#fff" stroke-width="0.7"/>
<path d="M491.11 170.44L483.38 153.3A18.8 18.8 0 0 1 491.77 151.65Z" fill="#7ef0d2" stroke="#fff" stroke-width="0.7"/>
<text x="389.5" y="153" font-size="4.9" text-anchor="middle" font-weight="bold" fill="#1a1a3a" style="stroke:#1a1a3a">5.9%</text>
<text x="408.6" y="164.2" font-size="4.9" text-anchor="middle" font-weight="bold" fill="#1a1a3a" style="stroke:#1a1a3a">22.8%</text>
<text x="376.5" y="181.2" font-size="4.9" text-anchor="middle" font-weight="bold" fill="#7a0a0a" style="stroke:#7a0a0a">70.6%</text>
<text x="433.2" y="152" font-size="4.9" text-anchor="middle" font-weight="bold" fill="#1a1a3a" style="stroke:#1a1a3a">5.6%</text>
<text x="444.6" y="153" font-size="4.9" text-anchor="middle" font-weight="bold" fill="#1a1a3a" style="stroke:#1a1a3a">7%</text>
<text x="447.5" y="170" font-size="4.9" text-anchor="middle" font-weight="bold" fill="#5a2a0a" style="stroke:#5a2a0a">19.7%</text>
<text x="455.5" y="193" font-size="4.9" text-anchor="middle" font-weight="bold" fill="#1a1a3a" style="stroke:#1a1a3a">30.3%</text>
<text x="428.2" y="176" font-size="4.9" text-anchor="middle" font-weight="bold" fill="#6a0a0a" style="stroke:#6a0a0a">37.4%</text>
<text x="486" y="151" font-size="4.9" text-anchor="middle" font-weight="bold" fill="#1a1a3a" style="stroke:#1a1a3a">7.3%</text>
<text x="502.5" y="153.6" font-size="4.9" text-anchor="middle" font-weight="bold" fill="#1a1a3a" style="stroke:#1a1a3a">9.1%</text>
<text x="473" y="158.5" font-size="4.9" text-anchor="middle" font-weight="bold" fill="#1a1a3a" style="stroke:#1a1a3a">11%</text>
<text x="466.8" y="169.2" font-size="4.9" text-anchor="middle" font-weight="bold" fill="#1a1a3a" style="stroke:#1a1a3a">6.7%</text>
<text x="508.5" y="192.2" font-size="4.9" text-anchor="middle" font-weight="bold" fill="#1a1a3a" style="stroke:#1a1a3a">65.9%</text>
<line x1="390.2" y1="231.6" x2="390.2" y2="278.8" stroke="#444" stroke-width="0.7"/>
<line x1="388.6" y1="232" x2="390.2" y2="232" stroke="#444" stroke-width="0.7"/>
<text x="387.4" y="233.8" font-size="5" text-anchor="end" font-weight="bold" fill="#111">100</text>
<line x1="388.6" y1="241.3" x2="390.2" y2="241.3" stroke="#444" stroke-width="0.7"/>
<text x="387.4" y="243.1" font-size="5" text-anchor="end" font-weight="bold" fill="#111">80</text>
<line x1="388.6" y1="250.6" x2="390.2" y2="250.6" stroke="#444" stroke-width="0.7"/>
<text x="387.4" y="252.4" font-size="5" text-anchor="end" font-weight="bold" fill="#111">60</text>
<line x1="388.6" y1="259.9" x2="390.2" y2="259.9" stroke="#444" stroke-width="0.7"/>
<text x="387.4" y="261.7" font-size="5" text-anchor="end" font-weight="bold" fill="#111">40</text>
<line x1="388.6" y1="269.2" x2="390.2" y2="269.2" stroke="#444" stroke-width="0.7"/>
<text x="387.4" y="271" font-size="5" text-anchor="end" font-weight="bold" fill="#111">20</text>
<line x1="388.6" y1="278.5" x2="390.2" y2="278.5" stroke="#444" stroke-width="0.7"/>
<text x="387.4" y="280.3" font-size="5" text-anchor="end" font-weight="bold" fill="#111">0</text>
<line x1="390.2" y1="278.5" x2="446.2" y2="278.5" stroke="#444" stroke-width="0.8"/>
<line x1="399.4" y1="278.5" x2="399.4" y2="280.2" stroke="#444" stroke-width="0.6"/>
<line x1="411.8" y1="278.5" x2="411.8" y2="280.2" stroke="#444" stroke-width="0.6"/>
<line x1="424.4" y1="278.5" x2="424.4" y2="280.2" stroke="#444" stroke-width="0.6"/>
<line x1="437.5" y1="278.5" x2="437.5" y2="280.2" stroke="#444" stroke-width="0.6"/>
<line x1="399.4" y1="269.43" x2="399.4" y2="261.76" stroke="#111" stroke-width="0.55"/>
<line x1="399.4" y1="275.94" x2="399.4" y2="278.5" stroke="#111" stroke-width="0.55"/>
<line x1="397.35" y1="261.76" x2="401.45" y2="261.76" stroke="#111" stroke-width="0.55"/>
<line x1="397.35" y1="278.5" x2="401.45" y2="278.5" stroke="#111" stroke-width="0.55"/>
<rect x="395.3" y="269.43" width="8.2" height="6.51" fill="#f3a533" stroke="#1a1a1a" stroke-width="0.65"/>
<line x1="395.3" y1="273.38" x2="403.5" y2="273.38" stroke="#1a1a1a" stroke-width="0.65"/>
<path d="M398.7 259.9a0.7 0.7 0 1 0 0.01 0M398.7 257.57a0.7 0.7 0 1 0 0.01 0M398.7 255.25a0.7 0.7 0 1 0 0.01 0M398.7 252.93a0.7 0.7 0 1 0 0.01 0M398.7 250.6a0.7 0.7 0 1 0 0.01 0M398.7 245.95a0.7 0.7 0 1 0 0.01 0M398.7 241.3a0.7 0.7 0 1 0 0.01 0" fill="#111"/>
<line x1="411.8" y1="271.29" x2="411.8" y2="267.34" stroke="#111" stroke-width="0.55"/>
<line x1="411.8" y1="275.71" x2="411.8" y2="278.04" stroke="#111" stroke-width="0.55"/>
<line x1="409.75" y1="267.34" x2="413.85" y2="267.34" stroke="#111" stroke-width="0.55"/>
<line x1="409.75" y1="278.04" x2="413.85" y2="278.04" stroke="#111" stroke-width="0.55"/>
<rect x="407.7" y="271.29" width="8.2" height="4.42" fill="#1f8a2e" stroke="#1a1a1a" stroke-width="0.65"/>
<line x1="407.7" y1="273.38" x2="415.9" y2="273.38" stroke="#1a1a1a" stroke-width="0.65"/>
<path d="M411.1 264.55a0.7 0.7 0 1 0 0.01 0M411.1 259.9a0.7 0.7 0 1 0 0.01 0" fill="#111"/>
<line x1="424.4" y1="263.15" x2="424.4" y2="250.6" stroke="#111" stroke-width="0.55"/>
<line x1="424.4" y1="275.71" x2="424.4" y2="278.04" stroke="#111" stroke-width="0.55"/>
<line x1="422.3" y1="250.6" x2="426.5" y2="250.6" stroke="#111" stroke-width="0.55"/>
<line x1="422.3" y1="278.04" x2="426.5" y2="278.04" stroke="#111" stroke-width="0.55"/>
<rect x="420.2" y="263.15" width="8.4" height="12.56" fill="#10108c" stroke="#1a1a1a" stroke-width="0.65"/>
<line x1="420.2" y1="268.74" x2="428.6" y2="268.74" stroke="#1a1a1a" stroke-width="0.65"/>
<path d="M423.7 245.95a0.7 0.7 0 1 0 0.01 0M423.7 243.62a0.7 0.7 0 1 0 0.01 0M423.7 236.65a0.7 0.7 0 1 0 0.01 0M423.7 278.04a0.7 0.7 0 1 0 0.01 0" fill="#111"/>
<line x1="437.5" y1="259.44" x2="437.5" y2="245.95" stroke="#111" stroke-width="0.55"/>
<line x1="437.5" y1="273.38" x2="437.5" y2="277.11" stroke="#111" stroke-width="0.55"/>
<line x1="435.4" y1="245.95" x2="439.6" y2="245.95" stroke="#111" stroke-width="0.55"/>
<line x1="435.4" y1="277.11" x2="439.6" y2="277.11" stroke="#111" stroke-width="0.55"/>
<rect x="433.3" y="259.44" width="8.4" height="13.95" fill="#f24545" stroke="#1a1a1a" stroke-width="0.65"/>
<line x1="433.3" y1="266.41" x2="441.7" y2="266.41" stroke="#1a1a1a" stroke-width="0.65"/>
<path d="M436.8 243.62a0.7 0.7 0 1 0 0.01 0M436.8 241.3a0.7 0.7 0 1 0 0.01 0M436.8 236.65a0.7 0.7 0 1 0 0.01 0M436.8 278.04a0.7 0.7 0 1 0 0.01 0M436.8 277.57a0.7 0.7 0 1 0 0.01 0" fill="#111"/>
<line x1="394.8" y1="211.2" x2="440" y2="211.2" stroke="#444" stroke-width="0.8"/>
<text x="418" y="211.54" font-size="7" font-weight="bold" text-anchor="middle" letter-spacing="1.2" fill="#111">***</text>
<line x1="409.4" y1="216.7" x2="440" y2="216.7" stroke="#444" stroke-width="0.8"/>
<text x="425.15" y="217.24" font-size="7" font-weight="bold" text-anchor="middle" letter-spacing="0.9" fill="#111">**</text>
<line x1="423.4" y1="222.7" x2="440" y2="222.7" stroke="#444" stroke-width="0.8"/>
<text x="432.15" y="223.94" font-size="7" font-weight="bold" text-anchor="middle" letter-spacing="0.9" fill="#111">**</text>
<line x1="398.6" y1="228.2" x2="427.1" y2="228.2" stroke="#444" stroke-width="0.8"/>
<text x="413.3" y="228.44" font-size="7" font-weight="bold" text-anchor="middle" letter-spacing="0.9" fill="#111">*</text>
<line x1="410.5" y1="233.4" x2="425.5" y2="233.4" stroke="#444" stroke-width="0.8"/>
<text x="418.45" y="234.44" font-size="7" font-weight="bold" text-anchor="middle" letter-spacing="0.9" fill="#111">*</text>
<text x="376.5" y="255.3" font-size="5.2" text-anchor="middle" font-weight="bold" fill="#222" transform="rotate(-90 376.5 255.3)">sTILs (%)</text>
<text x="397.6" y="286.6" font-size="4.8" text-anchor="end" font-weight="bold" fill="#222" transform="rotate(-45 397.6 286.6)">Luminal papillary</text>
<text x="410" y="286.6" font-size="4.8" text-anchor="end" font-weight="bold" fill="#222" transform="rotate(-45 410 286.6)">Luminal</text>
<text x="422.6" y="286.6" font-size="4.8" text-anchor="end" font-weight="bold" fill="#222" transform="rotate(-45 422.6 286.6)">Luminal infiltrated</text>
<text x="435.7" y="286.6" font-size="4.8" text-anchor="end" font-weight="bold" fill="#222" transform="rotate(-45 435.7 286.6)">Basal squamous</text>
<line x1="472.4" y1="230.9" x2="472.4" y2="278.5" stroke="#444" stroke-width="0.7"/>
<line x1="470.8" y1="231.3" x2="472.4" y2="231.3" stroke="#444" stroke-width="0.7"/>
<text x="469.6" y="233.1" font-size="5" text-anchor="end" font-weight="bold" fill="#111">100</text>
<line x1="470.8" y1="240.68" x2="472.4" y2="240.68" stroke="#444" stroke-width="0.7"/>
<text x="469.6" y="242.48" font-size="5" text-anchor="end" font-weight="bold" fill="#111">80</text>
<line x1="470.8" y1="250.06" x2="472.4" y2="250.06" stroke="#444" stroke-width="0.7"/>
<text x="469.6" y="251.86" font-size="5" text-anchor="end" font-weight="bold" fill="#111">60</text>
<line x1="470.8" y1="259.44" x2="472.4" y2="259.44" stroke="#444" stroke-width="0.7"/>
<text x="469.6" y="261.24" font-size="5" text-anchor="end" font-weight="bold" fill="#111">40</text>
<line x1="470.8" y1="268.82" x2="472.4" y2="268.82" stroke="#444" stroke-width="0.7"/>
<text x="469.6" y="270.62" font-size="5" text-anchor="end" font-weight="bold" fill="#111">20</text>
<line x1="470.8" y1="278.2" x2="472.4" y2="278.2" stroke="#444" stroke-width="0.7"/>
<text x="469.6" y="280" font-size="5" text-anchor="end" font-weight="bold" fill="#111">0</text>
<line x1="472.4" y1="278.2" x2="505.8" y2="278.2" stroke="#444" stroke-width="0.8"/>
<line x1="479.7" y1="278.2" x2="479.7" y2="279.9" stroke="#444" stroke-width="0.6"/>
<line x1="489.4" y1="278.2" x2="489.4" y2="279.9" stroke="#444" stroke-width="0.6"/>
<line x1="499.3" y1="278.2" x2="499.3" y2="279.9" stroke="#444" stroke-width="0.6"/>
<line x1="479.7" y1="273.28" x2="479.7" y2="269.29" stroke="#111" stroke-width="0.55"/>
<line x1="479.7" y1="276.32" x2="479.7" y2="278.2" stroke="#111" stroke-width="0.55"/>
<line x1="478.2" y1="269.29" x2="481.2" y2="269.29" stroke="#111" stroke-width="0.55"/>
<line x1="478.2" y1="278.2" x2="481.2" y2="278.2" stroke="#111" stroke-width="0.55"/>
<rect x="476.7" y="273.28" width="6" height="3.05" fill="#8290c4" stroke="#1a1a1a" stroke-width="0.65"/>
<line x1="476.7" y1="274.92" x2="482.7" y2="274.92" stroke="#1a1a1a" stroke-width="0.65"/>
<path d="M479 267.41a0.7 0.7 0 1 0 0.01 0M479 265.54a0.7 0.7 0 1 0 0.01 0M479 263.66a0.7 0.7 0 1 0 0.01 0M479 261.78a0.7 0.7 0 1 0 0.01 0M479 259.91a0.7 0.7 0 1 0 0.01 0M479 257.09a0.7 0.7 0 1 0 0.01 0M479 250.06a0.7 0.7 0 1 0 0.01 0" fill="#111"/>
<line x1="489.4" y1="266.24" x2="489.4" y2="259.44" stroke="#111" stroke-width="0.55"/>
<line x1="489.4" y1="273.98" x2="489.4" y2="277.73" stroke="#111" stroke-width="0.55"/>
<line x1="487.85" y1="259.44" x2="490.95" y2="259.44" stroke="#111" stroke-width="0.55"/>
<line x1="487.85" y1="277.73" x2="490.95" y2="277.73" stroke="#111" stroke-width="0.55"/>
<rect x="486.3" y="266.24" width="6.2" height="7.74" fill="#f4d49a" stroke="#1a1a1a" stroke-width="0.65"/>
<line x1="486.3" y1="271.16" x2="492.5" y2="271.16" stroke="#1a1a1a" stroke-width="0.65"/>
<path d="M488.7 257.09a0.7 0.7 0 1 0 0.01 0M488.7 254.75a0.7 0.7 0 1 0 0.01 0M488.7 252.41a0.7 0.7 0 1 0 0.01 0M488.7 250.06a0.7 0.7 0 1 0 0.01 0M488.7 245.37a0.7 0.7 0 1 0 0.01 0M488.7 240.68a0.7 0.7 0 1 0 0.01 0M488.7 235.99a0.7 0.7 0 1 0 0.01 0M488.7 277.26a0.7 0.7 0 1 0 0.01 0M488.7 276.32a0.7 0.7 0 1 0 0.01 0M488.7 275.39a0.7 0.7 0 1 0 0.01 0" fill="#111"/>
<line x1="499.3" y1="250.06" x2="499.3" y2="245.37" stroke="#111" stroke-width="0.55"/>
<line x1="499.3" y1="266.47" x2="499.3" y2="273.51" stroke="#111" stroke-width="0.55"/>
<line x1="497.75" y1="245.37" x2="500.85" y2="245.37" stroke="#111" stroke-width="0.55"/>
<line x1="497.75" y1="273.51" x2="500.85" y2="273.51" stroke="#111" stroke-width="0.55"/>
<rect x="496.2" y="250.06" width="6.2" height="16.41" fill="#f58a12" stroke="#1a1a1a" stroke-width="0.65"/>
<line x1="496.2" y1="258.97" x2="502.4" y2="258.97" stroke="#1a1a1a" stroke-width="0.65"/>
<path d="M498.6 240.68a0.7 0.7 0 1 0 0.01 0M498.6 235.99a0.7 0.7 0 1 0 0.01 0M498.6 277.73a0.7 0.7 0 1 0 0.01 0M498.6 276.79a0.7 0.7 0 1 0 0.01 0M498.6 275.85a0.7 0.7 0 1 0 0.01 0M498.6 274.92a0.7 0.7 0 1 0 0.01 0M498.6 273.98a0.7 0.7 0 1 0 0.01 0" fill="#111"/>
<line x1="479" y1="232.4" x2="501.8" y2="232.4" stroke="#444" stroke-width="0.8"/>
<text x="491" y="233.24" font-size="7" font-weight="bold" text-anchor="middle" letter-spacing="1.2" fill="#111">***</text>
<text x="457.2" y="257.6" font-size="5.2" text-anchor="middle" font-weight="bold" fill="#222" transform="rotate(-90 457.2 257.6)">sTILs (%)</text>
<text x="477.9" y="286.4" font-size="4.8" text-anchor="end" font-weight="bold" fill="#222" transform="rotate(-45 477.9 286.4)">Uninflamed</text>
<text x="487.6" y="286.4" font-size="4.8" text-anchor="end" font-weight="bold" fill="#222" transform="rotate(-45 487.6 286.4)">ICC low</text>
<text x="497.5" y="286.4" font-size="4.8" text-anchor="end" font-weight="bold" fill="#222" transform="rotate(-45 497.5 286.4)">ICC high</text>
<line x1="59" y1="335.6" x2="59" y2="467.3" stroke="#222" stroke-width="0.7"/>
<line x1="59" y1="467.3" x2="253.63" y2="467.3" stroke="#222" stroke-width="0.7"/>
<line x1="57" y1="467.3" x2="59" y2="467.3" stroke="#222" stroke-width="0.6"/>
<line x1="57.8" y1="454.18" x2="59" y2="454.18" stroke="#222" stroke-width="0.6"/>
<line x1="57" y1="441.06" x2="59" y2="441.06" stroke="#222" stroke-width="0.6"/>
<line x1="57.8" y1="427.94" x2="59" y2="427.94" stroke="#222" stroke-width="0.6"/>
<line x1="57" y1="414.82" x2="59" y2="414.82" stroke="#222" stroke-width="0.6"/>
<line x1="57.8" y1="401.7" x2="59" y2="401.7" stroke="#222" stroke-width="0.6"/>
<line x1="57" y1="388.58" x2="59" y2="388.58" stroke="#222" stroke-width="0.6"/>
<line x1="57.8" y1="375.46" x2="59" y2="375.46" stroke="#222" stroke-width="0.6"/>
<line x1="57" y1="362.34" x2="59" y2="362.34" stroke="#222" stroke-width="0.6"/>
<line x1="57.8" y1="349.22" x2="59" y2="349.22" stroke="#222" stroke-width="0.6"/>
<line x1="57" y1="336.1" x2="59" y2="336.1" stroke="#222" stroke-width="0.6"/>
<text x="53.6" y="469.6" font-size="6.5" text-anchor="end" fill="#333">0.0</text>
<text x="53.6" y="443.36" font-size="6.5" text-anchor="end" fill="#333">0.2</text>
<text x="53.6" y="417.12" font-size="6.5" text-anchor="end" fill="#333">0.4</text>
<text x="53.6" y="390.88" font-size="6.5" text-anchor="end" fill="#333">0.6</text>
<text x="53.6" y="364.64" font-size="6.5" text-anchor="end" fill="#333">0.8</text>
<text x="53.6" y="338.4" font-size="6.5" text-anchor="end" fill="#333">1.0</text>
<line x1="59" y1="467.3" x2="59" y2="469.3" stroke="#222" stroke-width="0.6"/>
<text x="59" y="477.6" font-size="6.4" text-anchor="middle" fill="#333">0</text>
<line x1="80.57" y1="467.3" x2="80.57" y2="469.3" stroke="#222" stroke-width="0.6"/>
<text x="80.57" y="477.6" font-size="6.4" text-anchor="middle" fill="#333">20</text>
<line x1="102.14" y1="467.3" x2="102.14" y2="469.3" stroke="#222" stroke-width="0.6"/>
<text x="102.14" y="477.6" font-size="6.4" text-anchor="middle" fill="#333">40</text>
<line x1="123.71" y1="467.3" x2="123.71" y2="469.3" stroke="#222" stroke-width="0.6"/>
<text x="123.71" y="477.6" font-size="6.4" text-anchor="middle" fill="#333">60</text>
<line x1="145.28" y1="467.3" x2="145.28" y2="469.3" stroke="#222" stroke-width="0.6"/>
<text x="145.28" y="477.6" font-size="6.4" text-anchor="middle" fill="#333">80</text>
<line x1="166.85" y1="467.3" x2="166.85" y2="469.3" stroke="#222" stroke-width="0.6"/>
<text x="166.85" y="477.6" font-size="6.4" text-anchor="middle" fill="#333">100</text>
<line x1="188.42" y1="467.3" x2="188.42" y2="469.3" stroke="#222" stroke-width="0.6"/>
<text x="188.42" y="477.6" font-size="6.4" text-anchor="middle" fill="#333">120</text>
<line x1="209.99" y1="467.3" x2="209.99" y2="469.3" stroke="#222" stroke-width="0.6"/>
<text x="209.99" y="477.6" font-size="6.4" text-anchor="middle" fill="#333">140</text>
<line x1="231.56" y1="467.3" x2="231.56" y2="469.3" stroke="#222" stroke-width="0.6"/>
<text x="231.56" y="477.6" font-size="6.4" text-anchor="middle" fill="#333">160</text>
<line x1="253.13" y1="467.3" x2="253.13" y2="469.3" stroke="#222" stroke-width="0.6"/>
<text x="253.13" y="477.6" font-size="6.4" text-anchor="middle" fill="#333">180</text>
<line x1="69.78" y1="467.3" x2="69.78" y2="468.5" stroke="#222" stroke-width="0.5"/>
<line x1="91.36" y1="467.3" x2="91.36" y2="468.5" stroke="#222" stroke-width="0.5"/>
<line x1="112.92" y1="467.3" x2="112.92" y2="468.5" stroke="#222" stroke-width="0.5"/>
<line x1="134.5" y1="467.3" x2="134.5" y2="468.5" stroke="#222" stroke-width="0.5"/>
<line x1="156.06" y1="467.3" x2="156.06" y2="468.5" stroke="#222" stroke-width="0.5"/>
<line x1="177.63" y1="467.3" x2="177.63" y2="468.5" stroke="#222" stroke-width="0.5"/>
<line x1="199.21" y1="467.3" x2="199.21" y2="468.5" stroke="#222" stroke-width="0.5"/>
<line x1="220.78" y1="467.3" x2="220.78" y2="468.5" stroke="#222" stroke-width="0.5"/>
<line x1="242.34" y1="467.3" x2="242.34" y2="468.5" stroke="#222" stroke-width="0.5"/>
<text x="157.4" y="485.9" font-size="6.6" text-anchor="middle" fill="#222" textLength="72.3" lengthAdjust="spacingAndGlyphs">Overall survival (months)</text>
<text x="38.6" y="400" font-size="6.4" text-anchor="middle" fill="#333" textLength="75" lengthAdjust="spacingAndGlyphs" transform="rotate(-90 38.6 400)">Probability to survive (%)</text>
<text x="156" y="340.6" font-size="9.2" text-anchor="middle" font-weight="bold" fill="#111" textLength="92" lengthAdjust="spacingAndGlyphs">TCGA: sTILs Tertile split</text>
<text x="96" y="352.6" font-size="6.4" fill="#222" textLength="134.5" lengthAdjust="spacingAndGlyphs"><tspan font-style="italic">P = 0.0002;</tspan> <tspan font-weight="bold">HR = 0.43</tspan> [95%-CI 0.28–0.65 ]*</text>
<text x="62.5" y="464" font-size="4.3" fill="#333" textLength="47.5" lengthAdjust="spacingAndGlyphs">Log-rank: <tspan font-style="italic">P</tspan> &lt; 0.0001</text>
<path d="M59 336.2H62.49V339.9H65.8V344.8H67.7V349.7H70.8V355.6H72.32V358.6H73.45V361.6H76.12V367.5H79.7V371.4H82.32V375.4H86.17V379.3H90.5V382.3H94.35V385.2H95.4V390.2H124V390.2H124.99V393.1H126V398H239.8V398" fill="none" stroke="#4a6cc0" stroke-width="0.95"/>
<path d="M59 336.2H62.9V341.8H65.2V345.75H66.45V349.7H67.63V353H68.93V356.3H69.8V359.6H71.4V363.55H72.68V367.5H76.7V373.4H80.6V379.3H84.6V385.2H87.97V391.1H89.47V394.1H96.4V394.1H102.05V396.1H106.3V399H108.3V402H120.1V402H121.28V405.6H122.1V409.2H160.7V409.2H160.7V417.6H165.4V417.6H165.4V425.5H173.4V425.5H173.4V436.4H239.8V436.4" fill="none" stroke="#3fb23f" stroke-width="0.95"/>
<path d="M59 336.2H60.28V339H61.41V342.57H62.18V346.13H62.82V349.7H63.87V353.15H64.83V356.6H65.88V360.05H66.8V363.5H67.92V366.8H69.22V370.1H70.8V373.4H72.7V377.35H74.7V381.3H75.9V385.25H77.67V389.2H78.79V393.1H79.59V397H80.82V401H81.6V405H84.04V408.9H87.76V410.9H91.5V414.8H94.4V417.8H97.26V421.7H101.74V422.7H107.14V424.7H109.65V427.6H113.75V430.6H121.81V431.6H127.99V432.6H131.48V437.5H154.4V437.5H154.4V442.4H182.3V442.4" fill="none" stroke="#cc4455" stroke-width="0.95"/>
<line x1="67.4" y1="425.8" x2="77.6" y2="425.8" stroke="#cc4455" stroke-width="1.4"/>
<text x="79.8" y="428.2" font-size="6.8" fill="#333">T1</text>
<line x1="67.4" y1="435.8" x2="77.6" y2="435.8" stroke="#3fb23f" stroke-width="1.4"/>
<text x="79.8" y="438.2" font-size="6.8" fill="#333">T2</text>
<line x1="67.4" y1="445" x2="77.6" y2="445" stroke="#4a6cc0" stroke-width="1.4"/>
<text x="79.8" y="447.4" font-size="6.8" fill="#333">T3</text>
<text x="3.5" y="486" font-size="6.6" font-weight="bold" fill="#111" textLength="57.5" lengthAdjust="spacingAndGlyphs">Patients at risk (<tspan font-style="italic">n</tspan>)</text>
<rect x="3.6" y="491.8" width="41.6" height="12.4" fill="#fde7d6"/>
<rect x="3.6" y="505.4" width="41.6" height="12.6" fill="#e9f4d9"/>
<rect x="3.6" y="519.2" width="41.6" height="12.6" fill="#dce9f8"/>
<line x1="3" y1="491.2" x2="3" y2="532.4" stroke="#333" stroke-width="0.9"/>
<line x1="45.75" y1="491.2" x2="45.75" y2="532.4" stroke="#333" stroke-width="0.9"/>
<line x1="71.25" y1="491.2" x2="71.25" y2="532.4" stroke="#333" stroke-width="0.9"/>
<line x1="92.5" y1="491.2" x2="92.5" y2="532.4" stroke="#333" stroke-width="0.9"/>
<line x1="114.5" y1="491.2" x2="114.5" y2="532.4" stroke="#333" stroke-width="0.9"/>
<line x1="135.6" y1="491.2" x2="135.6" y2="532.4" stroke="#333" stroke-width="0.9"/>
<line x1="157.7" y1="491.2" x2="157.7" y2="532.4" stroke="#333" stroke-width="0.9"/>
<line x1="178.8" y1="491.2" x2="178.8" y2="532.4" stroke="#333" stroke-width="0.9"/>
<line x1="200.9" y1="491.2" x2="200.9" y2="532.4" stroke="#333" stroke-width="0.9"/>
<line x1="221" y1="491.2" x2="221" y2="532.4" stroke="#333" stroke-width="0.9"/>
<line x1="242.7" y1="491.2" x2="242.7" y2="532.4" stroke="#333" stroke-width="0.9"/>
<line x1="265" y1="491.2" x2="265" y2="532.4" stroke="#333" stroke-width="0.9"/>
<line x1="2.55" y1="491.2" x2="265.45" y2="491.2" stroke="#333" stroke-width="0.9"/>
<line x1="2.55" y1="504.8" x2="265.45" y2="504.8" stroke="#333" stroke-width="0.9"/>
<line x1="2.55" y1="518.6" x2="265.45" y2="518.6" stroke="#333" stroke-width="0.9"/>
<line x1="2.55" y1="532.4" x2="265.45" y2="532.4" stroke="#333" stroke-width="0.9"/>
<text x="24.4" y="499.9" font-size="4.2" text-anchor="middle" font-weight="bold" fill="#222">T1 (&lt;7%)</text>
<text x="24.4" y="513.6" font-size="4.2" text-anchor="middle" font-weight="bold" fill="#222">T2: ≥7%, &lt;25%</text>
<text x="24.4" y="527.4" font-size="4.2" text-anchor="middle" font-weight="bold" fill="#222">T3 (≥25%)</text>
<text x="58.5" y="500" font-size="5.6" text-anchor="middle" fill="#333">126</text>
<text x="81.88" y="500" font-size="5.6" text-anchor="middle" fill="#333">47</text>
<text x="103.5" y="500" font-size="5.6" text-anchor="middle" fill="#333">24</text>
<text x="125.05" y="500" font-size="5.6" text-anchor="middle" fill="#333">13</text>
<text x="146.65" y="500" font-size="5.6" text-anchor="middle" fill="#333">7</text>
<text x="168.25" y="500" font-size="5.6" text-anchor="middle" fill="#333">3</text>
<text x="189.85" y="500" font-size="5.6" text-anchor="middle" fill="#333">0</text>
<text x="210.95" y="500" font-size="5.6" text-anchor="middle" fill="#333">0</text>
<text x="231.85" y="500" font-size="5.6" text-anchor="middle" fill="#333">0</text>
<text x="253.85" y="500" font-size="5.6" text-anchor="middle" fill="#333">0</text>
<text x="58.5" y="513.7" font-size="5.6" text-anchor="middle" fill="#333">139</text>
<text x="81.88" y="513.7" font-size="5.6" text-anchor="middle" fill="#333">55</text>
<text x="103.5" y="513.7" font-size="5.6" text-anchor="middle" fill="#333">27</text>
<text x="125.05" y="513.7" font-size="5.6" text-anchor="middle" fill="#333">16</text>
<text x="146.65" y="513.7" font-size="5.6" text-anchor="middle" fill="#333">11</text>
<text x="168.25" y="513.7" font-size="5.6" text-anchor="middle" fill="#333">5</text>
<text x="189.85" y="513.7" font-size="5.6" text-anchor="middle" fill="#333">2</text>
<text x="210.95" y="513.7" font-size="5.6" text-anchor="middle" fill="#333">2</text>
<text x="231.85" y="513.7" font-size="5.6" text-anchor="middle" fill="#333">2</text>
<text x="253.85" y="513.7" font-size="5.6" text-anchor="middle" fill="#333">0</text>
<text x="58.5" y="527.5" font-size="5.6" text-anchor="middle" fill="#333">142</text>
<text x="81.88" y="527.5" font-size="5.6" text-anchor="middle" fill="#333">69</text>
<text x="103.5" y="527.5" font-size="5.6" text-anchor="middle" fill="#333">31</text>
<text x="125.05" y="527.5" font-size="5.6" text-anchor="middle" fill="#333">21</text>
<text x="146.65" y="527.5" font-size="5.6" text-anchor="middle" fill="#333">7</text>
<text x="168.25" y="527.5" font-size="5.6" text-anchor="middle" fill="#333">6</text>
<text x="189.85" y="527.5" font-size="5.6" text-anchor="middle" fill="#333">6</text>
<text x="210.95" y="527.5" font-size="5.6" text-anchor="middle" fill="#333">4</text>
<text x="231.85" y="527.5" font-size="5.6" text-anchor="middle" fill="#333">3</text>
<text x="253.85" y="527.5" font-size="5.6" text-anchor="middle" fill="#333">0</text>
<text x="3.2" y="542.3" font-size="6.1" fill="#222" textLength="244.5" lengthAdjust="spacingAndGlyphs">*Multivariable <tspan font-style="italic">P</tspan>-value for indicator „sTILs tertiles“; shown multivariable HR: T3 vs. T1</text>
<line x1="306.4" y1="342" x2="306.4" y2="394.3" stroke="#555" stroke-width="0.9"/>
<line x1="302.4" y1="394" x2="306.4" y2="394" stroke="#555" stroke-width="0.9"/>
<text x="299.8" y="396.23" font-size="6.2" text-anchor="end" font-weight="bold" fill="#111">0</text>
<line x1="302.4" y1="383.68" x2="306.4" y2="383.68" stroke="#555" stroke-width="0.9"/>
<text x="299.8" y="385.91" font-size="6.2" text-anchor="end" font-weight="bold" fill="#111">2</text>
<line x1="302.4" y1="373.36" x2="306.4" y2="373.36" stroke="#555" stroke-width="0.9"/>
<text x="299.8" y="375.59" font-size="6.2" text-anchor="end" font-weight="bold" fill="#111">4</text>
<line x1="302.4" y1="363.04" x2="306.4" y2="363.04" stroke="#555" stroke-width="0.9"/>
<text x="299.8" y="365.27" font-size="6.2" text-anchor="end" font-weight="bold" fill="#111">6</text>
<line x1="302.4" y1="352.72" x2="306.4" y2="352.72" stroke="#555" stroke-width="0.9"/>
<text x="299.8" y="354.95" font-size="6.2" text-anchor="end" font-weight="bold" fill="#111">8</text>
<line x1="302.4" y1="342.4" x2="306.4" y2="342.4" stroke="#555" stroke-width="0.9"/>
<text x="299.8" y="344.63" font-size="6.2" text-anchor="end" font-weight="bold" fill="#111">10</text>
<line x1="306.4" y1="394" x2="348" y2="394" stroke="#555" stroke-width="0.9"/>
<line x1="314.8" y1="394" x2="314.8" y2="397.3" stroke="#555" stroke-width="0.8"/>
<line x1="327.1" y1="394" x2="327.1" y2="397.3" stroke="#555" stroke-width="0.8"/>
<line x1="339.4" y1="394" x2="339.4" y2="397.3" stroke="#555" stroke-width="0.8"/>
<line x1="314.8" y1="366.14" x2="314.8" y2="361.49" stroke="#111" stroke-width="0.55"/>
<line x1="314.8" y1="376.46" x2="314.8" y2="381.62" stroke="#111" stroke-width="0.55"/>
<line x1="312.72" y1="361.49" x2="316.87" y2="361.49" stroke="#111" stroke-width="0.55"/>
<line x1="312.72" y1="381.62" x2="316.87" y2="381.62" stroke="#111" stroke-width="0.55"/>
<rect x="310.65" y="366.14" width="8.3" height="10.32" fill="#ee1c1c" stroke="#1a1a1a" stroke-width="0.75"/>
<line x1="310.65" y1="371.81" x2="318.95" y2="371.81" stroke="#1a1a1a" stroke-width="0.75"/>
<path d="M313.5 361.49a1.3 1.3 0 1 0 0.01 0M313.5 360.59a1.3 1.3 0 1 0 0.01 0M313.5 359.69a1.3 1.3 0 1 0 0.01 0M313.5 358.79a1.3 1.3 0 1 0 0.01 0M313.5 357.89a1.3 1.3 0 1 0 0.01 0M313.5 356.99a1.3 1.3 0 1 0 0.01 0M313.5 356.09a1.3 1.3 0 1 0 0.01 0M313.5 381.62a1.3 1.3 0 1 0 0.01 0M313.5 382.52a1.3 1.3 0 1 0 0.01 0M313.5 383.42a1.3 1.3 0 1 0 0.01 0M313.5 384.32a1.3 1.3 0 1 0 0.01 0M313.5 385.22a1.3 1.3 0 1 0 0.01 0M313.5 386.12a1.3 1.3 0 1 0 0.01 0M313.5 387.02a1.3 1.3 0 1 0 0.01 0M313.5 387.92a1.3 1.3 0 1 0 0.01 0M313.5 388.82a1.3 1.3 0 1 0 0.01 0M313.5 389.72a1.3 1.3 0 1 0 0.01 0M313.5 390.62a1.3 1.3 0 1 0 0.01 0M313.5 391.52a1.3 1.3 0 1 0 0.01 0" fill="#111"/>
<line x1="327.1" y1="363.04" x2="327.1" y2="357.88" stroke="#111" stroke-width="0.55"/>
<line x1="327.1" y1="372.84" x2="327.1" y2="377.49" stroke="#111" stroke-width="0.55"/>
<line x1="325.02" y1="357.88" x2="329.17" y2="357.88" stroke="#111" stroke-width="0.55"/>
<line x1="325.02" y1="377.49" x2="329.17" y2="377.49" stroke="#111" stroke-width="0.55"/>
<rect x="322.95" y="363.04" width="8.3" height="9.8" fill="#1e8c1e" stroke="#1a1a1a" stroke-width="0.75"/>
<line x1="322.95" y1="368.2" x2="331.25" y2="368.2" stroke="#1a1a1a" stroke-width="0.75"/>
<path d="M325.8 357.88a1.3 1.3 0 1 0 0.01 0M325.8 356.98a1.3 1.3 0 1 0 0.01 0M325.8 356.08a1.3 1.3 0 1 0 0.01 0M325.8 355.18a1.3 1.3 0 1 0 0.01 0M325.8 354.28a1.3 1.3 0 1 0 0.01 0M325.8 353.38a1.3 1.3 0 1 0 0.01 0M325.8 352.48a1.3 1.3 0 1 0 0.01 0M325.8 351.58a1.3 1.3 0 1 0 0.01 0M325.8 350.68a1.3 1.3 0 1 0 0.01 0M325.8 349.78a1.3 1.3 0 1 0 0.01 0M325.8 348.88a1.3 1.3 0 1 0 0.01 0M325.8 377.49a1.3 1.3 0 1 0 0.01 0M325.8 378.39a1.3 1.3 0 1 0 0.01 0M325.8 379.29a1.3 1.3 0 1 0 0.01 0M325.8 380.19a1.3 1.3 0 1 0 0.01 0M325.8 381.09a1.3 1.3 0 1 0 0.01 0" fill="#111"/>
<line x1="339.4" y1="356.85" x2="339.4" y2="353.24" stroke="#111" stroke-width="0.55"/>
<line x1="339.4" y1="366.14" x2="339.4" y2="370.26" stroke="#111" stroke-width="0.55"/>
<line x1="337.32" y1="353.24" x2="341.47" y2="353.24" stroke="#111" stroke-width="0.55"/>
<line x1="337.32" y1="370.26" x2="341.47" y2="370.26" stroke="#111" stroke-width="0.55"/>
<rect x="335.25" y="356.85" width="8.3" height="9.29" fill="#1226c8" stroke="#1a1a1a" stroke-width="0.75"/>
<line x1="335.25" y1="361.49" x2="343.55" y2="361.49" stroke="#1a1a1a" stroke-width="0.75"/>
<path d="M338.1 353.24a1.3 1.3 0 1 0 0.01 0M338.1 352.34a1.3 1.3 0 1 0 0.01 0M338.1 351.44a1.3 1.3 0 1 0 0.01 0M338.1 350.54a1.3 1.3 0 1 0 0.01 0M338.1 349.64a1.3 1.3 0 1 0 0.01 0M338.1 348.74a1.3 1.3 0 1 0 0.01 0M338.1 347.84a1.3 1.3 0 1 0 0.01 0M338.1 346.94a1.3 1.3 0 1 0 0.01 0M338.1 346.04a1.3 1.3 0 1 0 0.01 0M338.1 370.26a1.3 1.3 0 1 0 0.01 0M338.1 371.16a1.3 1.3 0 1 0 0.01 0M338.1 372.06a1.3 1.3 0 1 0 0.01 0M338.1 372.96a1.3 1.3 0 1 0 0.01 0M338.1 373.86a1.3 1.3 0 1 0 0.01 0M338.1 378a1.3 1.3 0 1 0 0.01 0" fill="#111"/>
<line x1="312.4" y1="330.3" x2="341.3" y2="330.3" stroke="#444" stroke-width="1"/>
<text x="327.25" y="331.34" font-size="7.2" font-weight="bold" text-anchor="middle" letter-spacing="0.8" fill="#111">***</text>
<line x1="326.6" y1="337.2" x2="341.3" y2="337.2" stroke="#444" stroke-width="1"/>
<text x="334.35" y="338.24" font-size="7.2" font-weight="bold" text-anchor="middle" letter-spacing="0.8" fill="#111">***</text>
<line x1="312.4" y1="345" x2="328.3" y2="345" stroke="#444" stroke-width="1"/>
<text x="320.75" y="346.04" font-size="7.2" font-weight="bold" text-anchor="middle" letter-spacing="0.8" fill="#111">***</text>
<text x="284.1" y="365.7" font-size="6.3" text-anchor="middle" font-weight="bold" fill="#222" transform="rotate(-90 284.1 365.7)">FOXP3 (RSEM log<tspan font-size="4.2" dy="1.2">2</tspan><tspan dy="-1.2">)</tspan></text>
<text x="316.8" y="403.2" font-size="6.4" text-anchor="end" font-weight="bold" fill="#111" transform="rotate(-45 316.8 403.2)">T1</text>
<text x="329.1" y="403.2" font-size="6.4" text-anchor="end" font-weight="bold" fill="#111" transform="rotate(-45 329.1 403.2)">T2</text>
<text x="341.4" y="403.2" font-size="6.4" text-anchor="end" font-weight="bold" fill="#111" transform="rotate(-45 341.4 403.2)">T3</text>
<line x1="386.4" y1="338.6" x2="386.4" y2="393.8" stroke="#555" stroke-width="0.9"/>
<line x1="382.4" y1="393.5" x2="386.4" y2="393.5" stroke="#555" stroke-width="0.9"/>
<text x="379.8" y="395.73" font-size="6.2" text-anchor="end" font-weight="bold" fill="#111">0</text>
<line x1="382.4" y1="375.33" x2="386.4" y2="375.33" stroke="#555" stroke-width="0.9"/>
<text x="379.8" y="377.57" font-size="6.2" text-anchor="end" font-weight="bold" fill="#111">5</text>
<line x1="382.4" y1="357.17" x2="386.4" y2="357.17" stroke="#555" stroke-width="0.9"/>
<text x="379.8" y="359.4" font-size="6.2" text-anchor="end" font-weight="bold" fill="#111">10</text>
<line x1="382.4" y1="339" x2="386.4" y2="339" stroke="#555" stroke-width="0.9"/>
<text x="379.8" y="341.23" font-size="6.2" text-anchor="end" font-weight="bold" fill="#111">15</text>
<line x1="386.4" y1="393.5" x2="428" y2="393.5" stroke="#555" stroke-width="0.9"/>
<line x1="394.8" y1="393.5" x2="394.8" y2="396.8" stroke="#555" stroke-width="0.8"/>
<line x1="407.1" y1="393.5" x2="407.1" y2="396.8" stroke="#555" stroke-width="0.8"/>
<line x1="419.4" y1="393.5" x2="419.4" y2="396.8" stroke="#555" stroke-width="0.8"/>
<line x1="394.8" y1="379.33" x2="394.8" y2="373.52" stroke="#111" stroke-width="0.55"/>
<line x1="394.8" y1="385.87" x2="394.8" y2="389.87" stroke="#111" stroke-width="0.55"/>
<line x1="392.72" y1="373.52" x2="396.87" y2="373.52" stroke="#111" stroke-width="0.55"/>
<line x1="392.72" y1="389.87" x2="396.87" y2="389.87" stroke="#111" stroke-width="0.55"/>
<rect x="390.65" y="379.33" width="8.3" height="6.54" fill="#ee1c1c" stroke="#1a1a1a" stroke-width="0.75"/>
<line x1="390.65" y1="382.6" x2="398.95" y2="382.6" stroke="#1a1a1a" stroke-width="0.75"/>
<path d="M393.5 373.52a1.3 1.3 0 1 0 0.01 0M393.5 372.62a1.3 1.3 0 1 0 0.01 0M393.5 371.72a1.3 1.3 0 1 0 0.01 0M393.5 370.82a1.3 1.3 0 1 0 0.01 0M393.5 369.92a1.3 1.3 0 1 0 0.01 0M393.5 369.02a1.3 1.3 0 1 0 0.01 0M393.5 368.12a1.3 1.3 0 1 0 0.01 0M393.5 367.22a1.3 1.3 0 1 0 0.01 0M393.5 366.32a1.3 1.3 0 1 0 0.01 0M393.5 365.42a1.3 1.3 0 1 0 0.01 0M393.5 364.52a1.3 1.3 0 1 0 0.01 0M393.5 363.62a1.3 1.3 0 1 0 0.01 0M393.5 362.72a1.3 1.3 0 1 0 0.01 0M393.5 361.82a1.3 1.3 0 1 0 0.01 0M393.5 360.92a1.3 1.3 0 1 0 0.01 0M393.5 389.87a1.3 1.3 0 1 0 0.01 0M393.5 390.77a1.3 1.3 0 1 0 0.01 0M393.5 391.67a1.3 1.3 0 1 0 0.01 0M393.5 392.57a1.3 1.3 0 1 0 0.01 0M393.5 393.47a1.3 1.3 0 1 0 0.01 0" fill="#111"/>
<line x1="407.1" y1="373.15" x2="407.1" y2="368.07" stroke="#111" stroke-width="0.55"/>
<line x1="407.1" y1="382.6" x2="407.1" y2="386.96" stroke="#111" stroke-width="0.55"/>
<line x1="405.02" y1="368.07" x2="409.17" y2="368.07" stroke="#111" stroke-width="0.55"/>
<line x1="405.02" y1="386.96" x2="409.17" y2="386.96" stroke="#111" stroke-width="0.55"/>
<rect x="402.95" y="373.15" width="8.3" height="9.45" fill="#1e8c1e" stroke="#1a1a1a" stroke-width="0.75"/>
<line x1="402.95" y1="377.88" x2="411.25" y2="377.88" stroke="#1a1a1a" stroke-width="0.75"/>
<path d="M405.8 368.07a1.3 1.3 0 1 0 0.01 0M405.8 367.17a1.3 1.3 0 1 0 0.01 0M405.8 366.27a1.3 1.3 0 1 0 0.01 0M405.8 365.37a1.3 1.3 0 1 0 0.01 0M405.8 364.47a1.3 1.3 0 1 0 0.01 0M405.8 363.57a1.3 1.3 0 1 0 0.01 0M405.8 362.67a1.3 1.3 0 1 0 0.01 0M405.8 361.77a1.3 1.3 0 1 0 0.01 0M405.8 386.96a1.3 1.3 0 1 0 0.01 0M405.8 387.86a1.3 1.3 0 1 0 0.01 0M405.8 388.76a1.3 1.3 0 1 0 0.01 0M405.8 389.66a1.3 1.3 0 1 0 0.01 0M405.8 390.56a1.3 1.3 0 1 0 0.01 0M405.8 391.46a1.3 1.3 0 1 0 0.01 0M405.8 392.36a1.3 1.3 0 1 0 0.01 0M405.8 393.26a1.3 1.3 0 1 0 0.01 0" fill="#111"/>
<line x1="419.4" y1="365.89" x2="419.4" y2="360.07" stroke="#111" stroke-width="0.55"/>
<line x1="419.4" y1="377.51" x2="419.4" y2="382.6" stroke="#111" stroke-width="0.55"/>
<line x1="417.32" y1="360.07" x2="421.47" y2="360.07" stroke="#111" stroke-width="0.55"/>
<line x1="417.32" y1="382.6" x2="421.47" y2="382.6" stroke="#111" stroke-width="0.55"/>
<rect x="415.25" y="365.89" width="8.3" height="11.63" fill="#1226c8" stroke="#1a1a1a" stroke-width="0.75"/>
<line x1="415.25" y1="371.7" x2="423.55" y2="371.7" stroke="#1a1a1a" stroke-width="0.75"/>
<path d="M418.1 360.07a1.3 1.3 0 1 0 0.01 0M418.1 359.17a1.3 1.3 0 1 0 0.01 0M418.1 358.27a1.3 1.3 0 1 0 0.01 0M418.1 357.37a1.3 1.3 0 1 0 0.01 0M418.1 356.47a1.3 1.3 0 1 0 0.01 0M418.1 355.57a1.3 1.3 0 1 0 0.01 0M418.1 354.67a1.3 1.3 0 1 0 0.01 0M418.1 353.77a1.3 1.3 0 1 0 0.01 0M418.1 382.6a1.3 1.3 0 1 0 0.01 0M418.1 383.5a1.3 1.3 0 1 0 0.01 0M418.1 384.4a1.3 1.3 0 1 0 0.01 0M418.1 385.3a1.3 1.3 0 1 0 0.01 0M418.1 386.2a1.3 1.3 0 1 0 0.01 0M418.1 387.1a1.3 1.3 0 1 0 0.01 0M418.1 388a1.3 1.3 0 1 0 0.01 0" fill="#111"/>
<line x1="393.6" y1="338.2" x2="422.7" y2="338.2" stroke="#444" stroke-width="1"/>
<text x="408.55" y="339.24" font-size="7.2" font-weight="bold" text-anchor="middle" letter-spacing="0.8" fill="#111">***</text>
<line x1="407" y1="347.7" x2="422.7" y2="347.7" stroke="#444" stroke-width="1"/>
<text x="415.25" y="348.74" font-size="7.2" font-weight="bold" text-anchor="middle" letter-spacing="0.8" fill="#111">***</text>
<line x1="393.6" y1="356.9" x2="409.2" y2="356.9" stroke="#444" stroke-width="1"/>
<text x="401.8" y="357.94" font-size="7.2" font-weight="bold" text-anchor="middle" letter-spacing="0.8" fill="#111">***</text>
<text x="364.1" y="363.75" font-size="6.3" text-anchor="middle" font-weight="bold" fill="#222" transform="rotate(-90 364.1 363.75)">PD-L1 (RSEM log<tspan font-size="4.2" dy="1.2">2</tspan><tspan dy="-1.2">)</tspan></text>
<text x="396.8" y="402.7" font-size="6.4" text-anchor="end" font-weight="bold" fill="#111" transform="rotate(-45 396.8 402.7)">T1</text>
<text x="409.1" y="402.7" font-size="6.4" text-anchor="end" font-weight="bold" fill="#111" transform="rotate(-45 409.1 402.7)">T2</text>
<text x="421.4" y="402.7" font-size="6.4" text-anchor="end" font-weight="bold" fill="#111" transform="rotate(-45 421.4 402.7)">T3</text>
<line x1="461.7" y1="339" x2="461.7" y2="394.7" stroke="#555" stroke-width="0.9"/>
<line x1="457.7" y1="394.4" x2="461.7" y2="394.4" stroke="#555" stroke-width="0.9"/>
<text x="455.1" y="396.63" font-size="6.2" text-anchor="end" font-weight="bold" fill="#111">0</text>
<line x1="457.7" y1="376.07" x2="461.7" y2="376.07" stroke="#555" stroke-width="0.9"/>
<text x="455.1" y="378.3" font-size="6.2" text-anchor="end" font-weight="bold" fill="#111">5</text>
<line x1="457.7" y1="357.73" x2="461.7" y2="357.73" stroke="#555" stroke-width="0.9"/>
<text x="455.1" y="359.97" font-size="6.2" text-anchor="end" font-weight="bold" fill="#111">10</text>
<line x1="457.7" y1="339.4" x2="461.7" y2="339.4" stroke="#555" stroke-width="0.9"/>
<text x="455.1" y="341.63" font-size="6.2" text-anchor="end" font-weight="bold" fill="#111">15</text>
<line x1="461.7" y1="394.4" x2="503.3" y2="394.4" stroke="#555" stroke-width="0.9"/>
<line x1="470.1" y1="394.4" x2="470.1" y2="397.7" stroke="#555" stroke-width="0.8"/>
<line x1="482.4" y1="394.4" x2="482.4" y2="397.7" stroke="#555" stroke-width="0.8"/>
<line x1="494.7" y1="394.4" x2="494.7" y2="397.7" stroke="#555" stroke-width="0.8"/>
<line x1="470.1" y1="379.73" x2="470.1" y2="374.97" stroke="#111" stroke-width="0.55"/>
<line x1="470.1" y1="389.63" x2="470.1" y2="394.4" stroke="#111" stroke-width="0.55"/>
<line x1="468.02" y1="374.97" x2="472.17" y2="374.97" stroke="#111" stroke-width="0.55"/>
<line x1="468.02" y1="394.4" x2="472.17" y2="394.4" stroke="#111" stroke-width="0.55"/>
<rect x="465.95" y="379.73" width="8.3" height="9.9" fill="#ee1c1c" stroke="#1a1a1a" stroke-width="0.75"/>
<line x1="465.95" y1="385.23" x2="474.25" y2="385.23" stroke="#1a1a1a" stroke-width="0.75"/>
<path d="M468.8 374.97a1.3 1.3 0 1 0 0.01 0M468.8 374.07a1.3 1.3 0 1 0 0.01 0M468.8 373.17a1.3 1.3 0 1 0 0.01 0M468.8 372.27a1.3 1.3 0 1 0 0.01 0M468.8 371.37a1.3 1.3 0 1 0 0.01 0" fill="#111"/>
<line x1="482.4" y1="375.7" x2="482.4" y2="371.3" stroke="#111" stroke-width="0.55"/>
<line x1="482.4" y1="383.77" x2="482.4" y2="388.9" stroke="#111" stroke-width="0.55"/>
<line x1="480.32" y1="371.3" x2="484.47" y2="371.3" stroke="#111" stroke-width="0.55"/>
<line x1="480.32" y1="388.9" x2="484.47" y2="388.9" stroke="#111" stroke-width="0.55"/>
<rect x="478.25" y="375.7" width="8.3" height="8.07" fill="#1e8c1e" stroke="#1a1a1a" stroke-width="0.75"/>
<line x1="478.25" y1="379.73" x2="486.55" y2="379.73" stroke="#1a1a1a" stroke-width="0.75"/>
<path d="M481.1 371.3a1.3 1.3 0 1 0 0.01 0M481.1 370.4a1.3 1.3 0 1 0 0.01 0M481.1 369.5a1.3 1.3 0 1 0 0.01 0M481.1 368.6a1.3 1.3 0 1 0 0.01 0M481.1 367.7a1.3 1.3 0 1 0 0.01 0M481.1 366.8a1.3 1.3 0 1 0 0.01 0M481.1 365.9a1.3 1.3 0 1 0 0.01 0M481.1 365a1.3 1.3 0 1 0 0.01 0M481.1 388.9a1.3 1.3 0 1 0 0.01 0M481.1 389.8a1.3 1.3 0 1 0 0.01 0M481.1 390.7a1.3 1.3 0 1 0 0.01 0M481.1 391.6a1.3 1.3 0 1 0 0.01 0M481.1 392.5a1.3 1.3 0 1 0 0.01 0M481.1 393.4a1.3 1.3 0 1 0 0.01 0M481.1 394.3a1.3 1.3 0 1 0 0.01 0" fill="#111"/>
<line x1="494.7" y1="367.63" x2="494.7" y2="362.87" stroke="#111" stroke-width="0.55"/>
<line x1="494.7" y1="376.07" x2="494.7" y2="381.2" stroke="#111" stroke-width="0.55"/>
<line x1="492.62" y1="362.87" x2="496.77" y2="362.87" stroke="#111" stroke-width="0.55"/>
<line x1="492.62" y1="381.2" x2="496.77" y2="381.2" stroke="#111" stroke-width="0.55"/>
<rect x="490.55" y="367.63" width="8.3" height="8.43" fill="#1226c8" stroke="#1a1a1a" stroke-width="0.75"/>
<line x1="490.55" y1="371.67" x2="498.85" y2="371.67" stroke="#1a1a1a" stroke-width="0.75"/>
<path d="M493.4 362.87a1.3 1.3 0 1 0 0.01 0M493.4 361.97a1.3 1.3 0 1 0 0.01 0M493.4 361.07a1.3 1.3 0 1 0 0.01 0M493.4 360.17a1.3 1.3 0 1 0 0.01 0M493.4 359.27a1.3 1.3 0 1 0 0.01 0M493.4 358.37a1.3 1.3 0 1 0 0.01 0M493.4 357.47a1.3 1.3 0 1 0 0.01 0M493.4 381.2a1.3 1.3 0 1 0 0.01 0M493.4 382.1a1.3 1.3 0 1 0 0.01 0M493.4 383a1.3 1.3 0 1 0 0.01 0M493.4 383.9a1.3 1.3 0 1 0 0.01 0M493.4 384.8a1.3 1.3 0 1 0 0.01 0M493.4 389.27a1.3 1.3 0 1 0 0.01 0M493.4 390.17a1.3 1.3 0 1 0 0.01 0M493.4 391.07a1.3 1.3 0 1 0 0.01 0M493.4 391.97a1.3 1.3 0 1 0 0.01 0M493.4 392.87a1.3 1.3 0 1 0 0.01 0" fill="#111"/>
<line x1="468.9" y1="342.5" x2="498.9" y2="342.5" stroke="#444" stroke-width="1"/>
<text x="484.3" y="343.54" font-size="7.2" font-weight="bold" text-anchor="middle" letter-spacing="0.8" fill="#111">***</text>
<line x1="482.8" y1="351.7" x2="498.9" y2="351.7" stroke="#444" stroke-width="1"/>
<text x="491.25" y="352.74" font-size="7.2" font-weight="bold" text-anchor="middle" letter-spacing="0.8" fill="#111">***</text>
<line x1="468.9" y1="360.7" x2="484.5" y2="360.7" stroke="#444" stroke-width="1"/>
<text x="477.1" y="361.74" font-size="7.2" font-weight="bold" text-anchor="middle" letter-spacing="0.8" fill="#111">***</text>
<text x="439.4" y="364.4" font-size="6.3" text-anchor="middle" font-weight="bold" fill="#222" transform="rotate(-90 439.4 364.4)">PD-1 (RSEM log<tspan font-size="4.2" dy="1.2">2</tspan><tspan dy="-1.2">)</tspan></text>
<text x="472.1" y="403.6" font-size="6.4" text-anchor="end" font-weight="bold" fill="#111" transform="rotate(-45 472.1 403.6)">T1</text>
<text x="484.4" y="403.6" font-size="6.4" text-anchor="end" font-weight="bold" fill="#111" transform="rotate(-45 484.4 403.6)">T2</text>
<text x="496.7" y="403.6" font-size="6.4" text-anchor="end" font-weight="bold" fill="#111" transform="rotate(-45 496.7 403.6)">T3</text>
<line x1="305.5" y1="430.3" x2="305.5" y2="486" stroke="#555" stroke-width="0.9"/>
<line x1="301.5" y1="485.7" x2="305.5" y2="485.7" stroke="#555" stroke-width="0.9"/>
<text x="298.9" y="487.93" font-size="6.2" text-anchor="end" font-weight="bold" fill="#111">0</text>
<line x1="301.5" y1="467.37" x2="305.5" y2="467.37" stroke="#555" stroke-width="0.9"/>
<text x="298.9" y="469.6" font-size="6.2" text-anchor="end" font-weight="bold" fill="#111">5</text>
<line x1="301.5" y1="449.03" x2="305.5" y2="449.03" stroke="#555" stroke-width="0.9"/>
<text x="298.9" y="451.27" font-size="6.2" text-anchor="end" font-weight="bold" fill="#111">10</text>
<line x1="301.5" y1="430.7" x2="305.5" y2="430.7" stroke="#555" stroke-width="0.9"/>
<text x="298.9" y="432.93" font-size="6.2" text-anchor="end" font-weight="bold" fill="#111">15</text>
<line x1="305.5" y1="485.7" x2="347.1" y2="485.7" stroke="#555" stroke-width="0.9"/>
<line x1="313.9" y1="485.7" x2="313.9" y2="489" stroke="#555" stroke-width="0.8"/>
<line x1="326.2" y1="485.7" x2="326.2" y2="489" stroke="#555" stroke-width="0.8"/>
<line x1="338.5" y1="485.7" x2="338.5" y2="489" stroke="#555" stroke-width="0.8"/>
<line x1="313.9" y1="471.4" x2="313.9" y2="467.37" stroke="#111" stroke-width="0.55"/>
<line x1="313.9" y1="481.3" x2="313.9" y2="485.7" stroke="#111" stroke-width="0.55"/>
<line x1="311.82" y1="467.37" x2="315.97" y2="467.37" stroke="#111" stroke-width="0.55"/>
<line x1="311.82" y1="485.7" x2="315.97" y2="485.7" stroke="#111" stroke-width="0.55"/>
<rect x="309.75" y="471.4" width="8.3" height="9.9" fill="#ee1c1c" stroke="#1a1a1a" stroke-width="0.75"/>
<line x1="309.75" y1="476.9" x2="318.05" y2="476.9" stroke="#1a1a1a" stroke-width="0.75"/>
<path d="M312.6 467.37a1.3 1.3 0 1 0 0.01 0M312.6 466.47a1.3 1.3 0 1 0 0.01 0M312.6 465.57a1.3 1.3 0 1 0 0.01 0M312.6 464.67a1.3 1.3 0 1 0 0.01 0M312.6 463.77a1.3 1.3 0 1 0 0.01 0M312.6 462.87a1.3 1.3 0 1 0 0.01 0M312.6 461.97a1.3 1.3 0 1 0 0.01 0" fill="#111"/>
<line x1="326.2" y1="467.37" x2="326.2" y2="463.7" stroke="#111" stroke-width="0.55"/>
<line x1="326.2" y1="475.07" x2="326.2" y2="480.2" stroke="#111" stroke-width="0.55"/>
<line x1="324.12" y1="463.7" x2="328.27" y2="463.7" stroke="#111" stroke-width="0.55"/>
<line x1="324.12" y1="480.2" x2="328.27" y2="480.2" stroke="#111" stroke-width="0.55"/>
<rect x="322.05" y="467.37" width="8.3" height="7.7" fill="#1e8c1e" stroke="#1a1a1a" stroke-width="0.75"/>
<line x1="322.05" y1="471.03" x2="330.35" y2="471.03" stroke="#1a1a1a" stroke-width="0.75"/>
<path d="M324.9 463.7a1.3 1.3 0 1 0 0.01 0M324.9 462.8a1.3 1.3 0 1 0 0.01 0M324.9 461.9a1.3 1.3 0 1 0 0.01 0M324.9 461a1.3 1.3 0 1 0 0.01 0M324.9 460.1a1.3 1.3 0 1 0 0.01 0M324.9 459.2a1.3 1.3 0 1 0 0.01 0M324.9 458.3a1.3 1.3 0 1 0 0.01 0M324.9 457.4a1.3 1.3 0 1 0 0.01 0M324.9 456.5a1.3 1.3 0 1 0 0.01 0M324.9 480.2a1.3 1.3 0 1 0 0.01 0M324.9 481.1a1.3 1.3 0 1 0 0.01 0M324.9 482a1.3 1.3 0 1 0 0.01 0M324.9 482.9a1.3 1.3 0 1 0 0.01 0M324.9 483.8a1.3 1.3 0 1 0 0.01 0M324.9 484.7a1.3 1.3 0 1 0 0.01 0M324.9 485.6a1.3 1.3 0 1 0 0.01 0" fill="#111"/>
<line x1="338.5" y1="458.93" x2="338.5" y2="454.53" stroke="#111" stroke-width="0.55"/>
<line x1="338.5" y1="467.37" x2="338.5" y2="472.87" stroke="#111" stroke-width="0.55"/>
<line x1="336.43" y1="454.53" x2="340.57" y2="454.53" stroke="#111" stroke-width="0.55"/>
<line x1="336.43" y1="472.87" x2="340.57" y2="472.87" stroke="#111" stroke-width="0.55"/>
<rect x="334.35" y="458.93" width="8.3" height="8.43" fill="#1226c8" stroke="#1a1a1a" stroke-width="0.75"/>
<line x1="334.35" y1="463.33" x2="342.65" y2="463.33" stroke="#1a1a1a" stroke-width="0.75"/>
<path d="M337.2 454.53a1.3 1.3 0 1 0 0.01 0M337.2 453.63a1.3 1.3 0 1 0 0.01 0M337.2 452.73a1.3 1.3 0 1 0 0.01 0M337.2 451.83a1.3 1.3 0 1 0 0.01 0M337.2 450.93a1.3 1.3 0 1 0 0.01 0M337.2 450.03a1.3 1.3 0 1 0 0.01 0M337.2 449.13a1.3 1.3 0 1 0 0.01 0M337.2 472.87a1.3 1.3 0 1 0 0.01 0M337.2 473.77a1.3 1.3 0 1 0 0.01 0M337.2 474.67a1.3 1.3 0 1 0 0.01 0M337.2 475.57a1.3 1.3 0 1 0 0.01 0M337.2 476.47a1.3 1.3 0 1 0 0.01 0M337.2 480.93a1.3 1.3 0 1 0 0.01 0M337.2 481.83a1.3 1.3 0 1 0 0.01 0M337.2 482.73a1.3 1.3 0 1 0 0.01 0M337.2 483.63a1.3 1.3 0 1 0 0.01 0" fill="#111"/>
<line x1="312.9" y1="431.2" x2="342.3" y2="431.2" stroke="#444" stroke-width="1"/>
<text x="328" y="432.24" font-size="7.2" font-weight="bold" text-anchor="middle" letter-spacing="0.8" fill="#111">***</text>
<line x1="326.2" y1="441.6" x2="342.3" y2="441.6" stroke="#444" stroke-width="1"/>
<text x="334.65" y="442.64" font-size="7.2" font-weight="bold" text-anchor="middle" letter-spacing="0.8" fill="#111">***</text>
<line x1="312.9" y1="451.7" x2="328.8" y2="451.7" stroke="#444" stroke-width="1"/>
<text x="321.25" y="452.74" font-size="7.2" font-weight="bold" text-anchor="middle" letter-spacing="0.8" fill="#111">***</text>
<text x="283.2" y="455.7" font-size="6.3" text-anchor="middle" font-weight="bold" fill="#222" transform="rotate(-90 283.2 455.7)">CD3Z (RSEM log<tspan font-size="4.2" dy="1.2">2</tspan><tspan dy="-1.2">)</tspan></text>
<text x="315.9" y="494.9" font-size="6.4" text-anchor="end" font-weight="bold" fill="#111" transform="rotate(-45 315.9 494.9)">T1</text>
<text x="328.2" y="494.9" font-size="6.4" text-anchor="end" font-weight="bold" fill="#111" transform="rotate(-45 328.2 494.9)">T2</text>
<text x="340.5" y="494.9" font-size="6.4" text-anchor="end" font-weight="bold" fill="#111" transform="rotate(-45 340.5 494.9)">T3</text>
<line x1="386.3" y1="430.8" x2="386.3" y2="486" stroke="#555" stroke-width="0.9"/>
<line x1="382.3" y1="485.7" x2="386.3" y2="485.7" stroke="#555" stroke-width="0.9"/>
<text x="379.7" y="487.93" font-size="6.2" text-anchor="end" font-weight="bold" fill="#111">0</text>
<line x1="382.3" y1="467.53" x2="386.3" y2="467.53" stroke="#555" stroke-width="0.9"/>
<text x="379.7" y="469.77" font-size="6.2" text-anchor="end" font-weight="bold" fill="#111">5</text>
<line x1="382.3" y1="449.37" x2="386.3" y2="449.37" stroke="#555" stroke-width="0.9"/>
<text x="379.7" y="451.6" font-size="6.2" text-anchor="end" font-weight="bold" fill="#111">10</text>
<line x1="382.3" y1="431.2" x2="386.3" y2="431.2" stroke="#555" stroke-width="0.9"/>
<text x="379.7" y="433.43" font-size="6.2" text-anchor="end" font-weight="bold" fill="#111">15</text>
<line x1="386.3" y1="485.7" x2="427.9" y2="485.7" stroke="#555" stroke-width="0.9"/>
<line x1="394.7" y1="485.7" x2="394.7" y2="489" stroke="#555" stroke-width="0.8"/>
<line x1="407" y1="485.7" x2="407" y2="489" stroke="#555" stroke-width="0.8"/>
<line x1="419.3" y1="485.7" x2="419.3" y2="489" stroke="#555" stroke-width="0.8"/>
<line x1="394.7" y1="464.63" x2="394.7" y2="462.08" stroke="#111" stroke-width="0.55"/>
<line x1="394.7" y1="472.62" x2="394.7" y2="476.98" stroke="#111" stroke-width="0.55"/>
<line x1="392.62" y1="462.08" x2="396.77" y2="462.08" stroke="#111" stroke-width="0.55"/>
<line x1="392.62" y1="476.98" x2="396.77" y2="476.98" stroke="#111" stroke-width="0.55"/>
<rect x="390.55" y="464.63" width="8.3" height="7.99" fill="#ee1c1c" stroke="#1a1a1a" stroke-width="0.75"/>
<line x1="390.55" y1="468.62" x2="398.85" y2="468.62" stroke="#1a1a1a" stroke-width="0.75"/>
<path d="M393.4 462.08a1.3 1.3 0 1 0 0.01 0M393.4 461.18a1.3 1.3 0 1 0 0.01 0M393.4 460.28a1.3 1.3 0 1 0 0.01 0M393.4 459.38a1.3 1.3 0 1 0 0.01 0M393.4 458.48a1.3 1.3 0 1 0 0.01 0M393.4 457.58a1.3 1.3 0 1 0 0.01 0M393.4 456.68a1.3 1.3 0 1 0 0.01 0M393.4 455.78a1.3 1.3 0 1 0 0.01 0M393.4 454.88a1.3 1.3 0 1 0 0.01 0M393.4 453.98a1.3 1.3 0 1 0 0.01 0M393.4 453.08a1.3 1.3 0 1 0 0.01 0M393.4 452.18a1.3 1.3 0 1 0 0.01 0M393.4 476.98a1.3 1.3 0 1 0 0.01 0M393.4 477.88a1.3 1.3 0 1 0 0.01 0M393.4 478.78a1.3 1.3 0 1 0 0.01 0M393.4 479.68a1.3 1.3 0 1 0 0.01 0M393.4 480.58a1.3 1.3 0 1 0 0.01 0M393.4 481.48a1.3 1.3 0 1 0 0.01 0M393.4 482.38a1.3 1.3 0 1 0 0.01 0M393.4 483.28a1.3 1.3 0 1 0 0.01 0M393.4 484.18a1.3 1.3 0 1 0 0.01 0M393.4 485.08a1.3 1.3 0 1 0 0.01 0" fill="#111"/>
<line x1="407" y1="461.72" x2="407" y2="458.09" stroke="#111" stroke-width="0.55"/>
<line x1="407" y1="469.35" x2="407" y2="473.35" stroke="#111" stroke-width="0.55"/>
<line x1="404.93" y1="458.09" x2="409.07" y2="458.09" stroke="#111" stroke-width="0.55"/>
<line x1="404.93" y1="473.35" x2="409.07" y2="473.35" stroke="#111" stroke-width="0.55"/>
<rect x="402.85" y="461.72" width="8.3" height="7.63" fill="#1e8c1e" stroke="#1a1a1a" stroke-width="0.75"/>
<line x1="402.85" y1="465.35" x2="411.15" y2="465.35" stroke="#1a1a1a" stroke-width="0.75"/>
<path d="M405.7 458.09a1.3 1.3 0 1 0 0.01 0M405.7 457.19a1.3 1.3 0 1 0 0.01 0M405.7 456.29a1.3 1.3 0 1 0 0.01 0M405.7 455.39a1.3 1.3 0 1 0 0.01 0M405.7 454.49a1.3 1.3 0 1 0 0.01 0M405.7 453.59a1.3 1.3 0 1 0 0.01 0M405.7 452.69a1.3 1.3 0 1 0 0.01 0M405.7 451.79a1.3 1.3 0 1 0 0.01 0M405.7 450.89a1.3 1.3 0 1 0 0.01 0M405.7 449.99a1.3 1.3 0 1 0 0.01 0M405.7 449.09a1.3 1.3 0 1 0 0.01 0M405.7 473.35a1.3 1.3 0 1 0 0.01 0M405.7 474.25a1.3 1.3 0 1 0 0.01 0M405.7 475.15a1.3 1.3 0 1 0 0.01 0M405.7 476.05a1.3 1.3 0 1 0 0.01 0M405.7 476.95a1.3 1.3 0 1 0 0.01 0M405.7 477.85a1.3 1.3 0 1 0 0.01 0M405.7 478.75a1.3 1.3 0 1 0 0.01 0M405.7 479.65a1.3 1.3 0 1 0 0.01 0M405.7 480.55a1.3 1.3 0 1 0 0.01 0M405.7 481.45a1.3 1.3 0 1 0 0.01 0M405.7 482.35a1.3 1.3 0 1 0 0.01 0M405.7 483.25a1.3 1.3 0 1 0 0.01 0M405.7 484.15a1.3 1.3 0 1 0 0.01 0M405.7 485.05a1.3 1.3 0 1 0 0.01 0" fill="#111"/>
<line x1="419.3" y1="453" x2="419.3" y2="449.37" stroke="#111" stroke-width="0.55"/>
<line x1="419.3" y1="462.08" x2="419.3" y2="467.53" stroke="#111" stroke-width="0.55"/>
<line x1="417.23" y1="449.37" x2="421.38" y2="449.37" stroke="#111" stroke-width="0.55"/>
<line x1="417.23" y1="467.53" x2="421.38" y2="467.53" stroke="#111" stroke-width="0.55"/>
<rect x="415.15" y="453" width="8.3" height="9.08" fill="#1226c8" stroke="#1a1a1a" stroke-width="0.75"/>
<line x1="415.15" y1="457.36" x2="423.45" y2="457.36" stroke="#1a1a1a" stroke-width="0.75"/>
<path d="M418 449.37a1.3 1.3 0 1 0 0.01 0M418 448.47a1.3 1.3 0 1 0 0.01 0M418 447.57a1.3 1.3 0 1 0 0.01 0M418 446.67a1.3 1.3 0 1 0 0.01 0M418 445.77a1.3 1.3 0 1 0 0.01 0M418 444.87a1.3 1.3 0 1 0 0.01 0M418 443.97a1.3 1.3 0 1 0 0.01 0M418 443.07a1.3 1.3 0 1 0 0.01 0M418 442.17a1.3 1.3 0 1 0 0.01 0M418 467.53a1.3 1.3 0 1 0 0.01 0M418 468.43a1.3 1.3 0 1 0 0.01 0M418 469.33a1.3 1.3 0 1 0 0.01 0M418 470.23a1.3 1.3 0 1 0 0.01 0M418 471.13a1.3 1.3 0 1 0 0.01 0M418 472.03a1.3 1.3 0 1 0 0.01 0M418 472.93a1.3 1.3 0 1 0 0.01 0M418 473.83a1.3 1.3 0 1 0 0.01 0M418 474.73a1.3 1.3 0 1 0 0.01 0" fill="#111"/>
<line x1="393.3" y1="431.6" x2="423" y2="431.6" stroke="#444" stroke-width="1"/>
<text x="408.55" y="432.64" font-size="7.2" font-weight="bold" text-anchor="middle" letter-spacing="0.8" fill="#111">***</text>
<line x1="407" y1="439.4" x2="423" y2="439.4" stroke="#444" stroke-width="1"/>
<text x="415.4" y="440.44" font-size="7.2" font-weight="bold" text-anchor="middle" letter-spacing="0.8" fill="#111">***</text>
<line x1="393.3" y1="446.5" x2="409.7" y2="446.5" stroke="#444" stroke-width="1"/>
<text x="401.9" y="447.54" font-size="7.2" font-weight="bold" text-anchor="middle" letter-spacing="0.8" fill="#111">***</text>
<text x="364" y="455.95" font-size="6.3" text-anchor="middle" font-weight="bold" fill="#222" transform="rotate(-90 364 455.95)">LAG3(RSEM log<tspan font-size="4.2" dy="1.2">2</tspan><tspan dy="-1.2">)</tspan></text>
<text x="396.7" y="494.9" font-size="6.4" text-anchor="end" font-weight="bold" fill="#111" transform="rotate(-45 396.7 494.9)">T1</text>
<text x="409" y="494.9" font-size="6.4" text-anchor="end" font-weight="bold" fill="#111" transform="rotate(-45 409 494.9)">T2</text>
<text x="421.3" y="494.9" font-size="6.4" text-anchor="end" font-weight="bold" fill="#111" transform="rotate(-45 421.3 494.9)">T3</text>
<line x1="462" y1="430.8" x2="462" y2="486" stroke="#555" stroke-width="0.9"/>
<line x1="458" y1="485.7" x2="462" y2="485.7" stroke="#555" stroke-width="0.9"/>
<text x="455.4" y="487.93" font-size="6.2" text-anchor="end" font-weight="bold" fill="#111">0</text>
<line x1="458" y1="467.53" x2="462" y2="467.53" stroke="#555" stroke-width="0.9"/>
<text x="455.4" y="469.77" font-size="6.2" text-anchor="end" font-weight="bold" fill="#111">5</text>
<line x1="458" y1="449.37" x2="462" y2="449.37" stroke="#555" stroke-width="0.9"/>
<text x="455.4" y="451.6" font-size="6.2" text-anchor="end" font-weight="bold" fill="#111">10</text>
<line x1="458" y1="431.2" x2="462" y2="431.2" stroke="#555" stroke-width="0.9"/>
<text x="455.4" y="433.43" font-size="6.2" text-anchor="end" font-weight="bold" fill="#111">15</text>
<line x1="462" y1="485.7" x2="503.6" y2="485.7" stroke="#555" stroke-width="0.9"/>
<line x1="470.4" y1="485.7" x2="470.4" y2="489" stroke="#555" stroke-width="0.8"/>
<line x1="482.7" y1="485.7" x2="482.7" y2="489" stroke="#555" stroke-width="0.8"/>
<line x1="495" y1="485.7" x2="495" y2="489" stroke="#555" stroke-width="0.8"/>
<line x1="470.4" y1="469.35" x2="470.4" y2="465.72" stroke="#111" stroke-width="0.55"/>
<line x1="470.4" y1="478.8" x2="470.4" y2="483.52" stroke="#111" stroke-width="0.55"/>
<line x1="468.32" y1="465.72" x2="472.47" y2="465.72" stroke="#111" stroke-width="0.55"/>
<line x1="468.32" y1="483.52" x2="472.47" y2="483.52" stroke="#111" stroke-width="0.55"/>
<rect x="466.25" y="469.35" width="8.3" height="9.45" fill="#ee1c1c" stroke="#1a1a1a" stroke-width="0.75"/>
<line x1="466.25" y1="473.71" x2="474.55" y2="473.71" stroke="#1a1a1a" stroke-width="0.75"/>
<path d="M469.1 465.72a1.3 1.3 0 1 0 0.01 0M469.1 464.82a1.3 1.3 0 1 0 0.01 0M469.1 463.92a1.3 1.3 0 1 0 0.01 0M469.1 463.02a1.3 1.3 0 1 0 0.01 0M469.1 462.12a1.3 1.3 0 1 0 0.01 0M469.1 461.22a1.3 1.3 0 1 0 0.01 0M469.1 460.32a1.3 1.3 0 1 0 0.01 0M469.1 459.42a1.3 1.3 0 1 0 0.01 0M469.1 458.52a1.3 1.3 0 1 0 0.01 0M469.1 457.62a1.3 1.3 0 1 0 0.01 0M469.1 456.72a1.3 1.3 0 1 0 0.01 0M469.1 455.82a1.3 1.3 0 1 0 0.01 0M469.1 483.52a1.3 1.3 0 1 0 0.01 0M469.1 484.42a1.3 1.3 0 1 0 0.01 0M469.1 485.32a1.3 1.3 0 1 0 0.01 0" fill="#111"/>
<line x1="482.7" y1="464.63" x2="482.7" y2="462.08" stroke="#111" stroke-width="0.55"/>
<line x1="482.7" y1="472.62" x2="482.7" y2="475.53" stroke="#111" stroke-width="0.55"/>
<line x1="480.62" y1="462.08" x2="484.77" y2="462.08" stroke="#111" stroke-width="0.55"/>
<line x1="480.62" y1="475.53" x2="484.77" y2="475.53" stroke="#111" stroke-width="0.55"/>
<rect x="478.55" y="464.63" width="8.3" height="7.99" fill="#1e8c1e" stroke="#1a1a1a" stroke-width="0.75"/>
<line x1="478.55" y1="468.99" x2="486.85" y2="468.99" stroke="#1a1a1a" stroke-width="0.75"/>
<path d="M481.4 462.08a1.3 1.3 0 1 0 0.01 0M481.4 461.18a1.3 1.3 0 1 0 0.01 0M481.4 460.28a1.3 1.3 0 1 0 0.01 0M481.4 459.38a1.3 1.3 0 1 0 0.01 0M481.4 458.48a1.3 1.3 0 1 0 0.01 0M481.4 457.58a1.3 1.3 0 1 0 0.01 0M481.4 456.68a1.3 1.3 0 1 0 0.01 0M481.4 455.78a1.3 1.3 0 1 0 0.01 0M481.4 454.88a1.3 1.3 0 1 0 0.01 0M481.4 475.53a1.3 1.3 0 1 0 0.01 0M481.4 476.43a1.3 1.3 0 1 0 0.01 0M481.4 477.33a1.3 1.3 0 1 0 0.01 0M481.4 478.23a1.3 1.3 0 1 0 0.01 0M481.4 479.13a1.3 1.3 0 1 0 0.01 0M481.4 480.03a1.3 1.3 0 1 0 0.01 0M481.4 480.93a1.3 1.3 0 1 0 0.01 0M481.4 481.83a1.3 1.3 0 1 0 0.01 0M481.4 482.73a1.3 1.3 0 1 0 0.01 0M481.4 483.63a1.3 1.3 0 1 0 0.01 0M481.4 484.53a1.3 1.3 0 1 0 0.01 0M481.4 485.43a1.3 1.3 0 1 0 0.01 0" fill="#111"/>
<line x1="495" y1="458.09" x2="495" y2="455.91" stroke="#111" stroke-width="0.55"/>
<line x1="495" y1="464.99" x2="495" y2="468.26" stroke="#111" stroke-width="0.55"/>
<line x1="492.93" y1="455.91" x2="497.07" y2="455.91" stroke="#111" stroke-width="0.55"/>
<line x1="492.93" y1="468.26" x2="497.07" y2="468.26" stroke="#111" stroke-width="0.55"/>
<rect x="490.85" y="458.09" width="8.3" height="6.9" fill="#1226c8" stroke="#1a1a1a" stroke-width="0.75"/>
<line x1="490.85" y1="461.72" x2="499.15" y2="461.72" stroke="#1a1a1a" stroke-width="0.75"/>
<path d="M493.7 455.91a1.3 1.3 0 1 0 0.01 0M493.7 455.01a1.3 1.3 0 1 0 0.01 0M493.7 454.11a1.3 1.3 0 1 0 0.01 0M493.7 453.21a1.3 1.3 0 1 0 0.01 0M493.7 452.31a1.3 1.3 0 1 0 0.01 0M493.7 451.41a1.3 1.3 0 1 0 0.01 0M493.7 450.51a1.3 1.3 0 1 0 0.01 0M493.7 449.61a1.3 1.3 0 1 0 0.01 0M493.7 468.26a1.3 1.3 0 1 0 0.01 0M493.7 469.16a1.3 1.3 0 1 0 0.01 0M493.7 470.06a1.3 1.3 0 1 0 0.01 0M493.7 470.96a1.3 1.3 0 1 0 0.01 0M493.7 471.86a1.3 1.3 0 1 0 0.01 0M493.7 472.76a1.3 1.3 0 1 0 0.01 0M493.7 479.16a1.3 1.3 0 1 0 0.01 0" fill="#111"/>
<line x1="468" y1="435.6" x2="498.9" y2="435.6" stroke="#444" stroke-width="1"/>
<text x="483.85" y="436.64" font-size="7.2" font-weight="bold" text-anchor="middle" letter-spacing="0.8" fill="#111">***</text>
<line x1="481.9" y1="443" x2="498.9" y2="443" stroke="#444" stroke-width="1"/>
<text x="490.8" y="444.04" font-size="7.2" font-weight="bold" text-anchor="middle" letter-spacing="0.8" fill="#111">***</text>
<line x1="468" y1="449.4" x2="484.5" y2="449.4" stroke="#444" stroke-width="1"/>
<text x="476.65" y="450.44" font-size="7.2" font-weight="bold" text-anchor="middle" letter-spacing="0.8" fill="#111">***</text>
<text x="439.7" y="455.95" font-size="6.3" text-anchor="middle" font-weight="bold" fill="#222" transform="rotate(-90 439.7 455.95)">CTLA4 (RSEM log<tspan font-size="4.2" dy="1.2">2</tspan><tspan dy="-1.2">)</tspan></text>
<text x="472.4" y="494.9" font-size="6.4" text-anchor="end" font-weight="bold" fill="#111" transform="rotate(-45 472.4 494.9)">T1</text>
<text x="484.7" y="494.9" font-size="6.4" text-anchor="end" font-weight="bold" fill="#111" transform="rotate(-45 484.7 494.9)">T2</text>
<text x="497" y="494.9" font-size="6.4" text-anchor="end" font-weight="bold" fill="#111" transform="rotate(-45 497 494.9)">T3</text>
<line x1="305.5" y1="522.1" x2="305.5" y2="577.8" stroke="#555" stroke-width="0.9"/>
<line x1="301.5" y1="577.5" x2="305.5" y2="577.5" stroke="#555" stroke-width="0.9"/>
<text x="298.9" y="579.73" font-size="6.2" text-anchor="end" font-weight="bold" fill="#111">0</text>
<line x1="301.5" y1="563.75" x2="305.5" y2="563.75" stroke="#555" stroke-width="0.9"/>
<text x="298.9" y="565.98" font-size="6.2" text-anchor="end" font-weight="bold" fill="#111">5</text>
<line x1="301.5" y1="550" x2="305.5" y2="550" stroke="#555" stroke-width="0.9"/>
<text x="298.9" y="552.23" font-size="6.2" text-anchor="end" font-weight="bold" fill="#111">10</text>
<line x1="301.5" y1="536.25" x2="305.5" y2="536.25" stroke="#555" stroke-width="0.9"/>
<text x="298.9" y="538.48" font-size="6.2" text-anchor="end" font-weight="bold" fill="#111">15</text>
<line x1="301.5" y1="522.5" x2="305.5" y2="522.5" stroke="#555" stroke-width="0.9"/>
<text x="298.9" y="524.73" font-size="6.2" text-anchor="end" font-weight="bold" fill="#111">20</text>
<line x1="305.5" y1="577.5" x2="347.1" y2="577.5" stroke="#555" stroke-width="0.9"/>
<line x1="313.9" y1="577.5" x2="313.9" y2="580.8" stroke="#555" stroke-width="0.8"/>
<line x1="326.2" y1="577.5" x2="326.2" y2="580.8" stroke="#555" stroke-width="0.8"/>
<line x1="338.5" y1="577.5" x2="338.5" y2="580.8" stroke="#555" stroke-width="0.8"/>
<line x1="313.9" y1="561.27" x2="313.9" y2="555.5" stroke="#111" stroke-width="0.55"/>
<line x1="313.9" y1="569.8" x2="313.9" y2="573.38" stroke="#111" stroke-width="0.55"/>
<line x1="311.82" y1="555.5" x2="315.97" y2="555.5" stroke="#111" stroke-width="0.55"/>
<line x1="311.82" y1="573.38" x2="315.97" y2="573.38" stroke="#111" stroke-width="0.55"/>
<rect x="309.75" y="561.27" width="8.3" height="8.52" fill="#ee1c1c" stroke="#1a1a1a" stroke-width="0.75"/>
<line x1="309.75" y1="565.67" x2="318.05" y2="565.67" stroke="#1a1a1a" stroke-width="0.75"/>
<path d="M312.6 555.5a1.3 1.3 0 1 0 0.01 0M312.6 554.6a1.3 1.3 0 1 0 0.01 0M312.6 553.7a1.3 1.3 0 1 0 0.01 0M312.6 552.8a1.3 1.3 0 1 0 0.01 0M312.6 551.9a1.3 1.3 0 1 0 0.01 0M312.6 551a1.3 1.3 0 1 0 0.01 0M312.6 550.1a1.3 1.3 0 1 0 0.01 0M312.6 549.2a1.3 1.3 0 1 0 0.01 0M312.6 548.3a1.3 1.3 0 1 0 0.01 0M312.6 547.4a1.3 1.3 0 1 0 0.01 0M312.6 573.38a1.3 1.3 0 1 0 0.01 0M312.6 574.27a1.3 1.3 0 1 0 0.01 0M312.6 575.17a1.3 1.3 0 1 0 0.01 0M312.6 576.07a1.3 1.3 0 1 0 0.01 0M312.6 576.97a1.3 1.3 0 1 0 0.01 0" fill="#111"/>
<line x1="326.2" y1="555.5" x2="326.2" y2="550" stroke="#111" stroke-width="0.55"/>
<line x1="326.2" y1="564.58" x2="326.2" y2="568.7" stroke="#111" stroke-width="0.55"/>
<line x1="324.12" y1="550" x2="328.27" y2="550" stroke="#111" stroke-width="0.55"/>
<line x1="324.12" y1="568.7" x2="328.27" y2="568.7" stroke="#111" stroke-width="0.55"/>
<rect x="322.05" y="555.5" width="8.3" height="9.08" fill="#1e8c1e" stroke="#1a1a1a" stroke-width="0.75"/>
<line x1="322.05" y1="560.17" x2="330.35" y2="560.17" stroke="#1a1a1a" stroke-width="0.75"/>
<path d="M324.9 550a1.3 1.3 0 1 0 0.01 0M324.9 549.1a1.3 1.3 0 1 0 0.01 0M324.9 548.2a1.3 1.3 0 1 0 0.01 0M324.9 547.3a1.3 1.3 0 1 0 0.01 0M324.9 546.4a1.3 1.3 0 1 0 0.01 0M324.9 545.5a1.3 1.3 0 1 0 0.01 0M324.9 544.6a1.3 1.3 0 1 0 0.01 0M324.9 543.7a1.3 1.3 0 1 0 0.01 0M324.9 542.8a1.3 1.3 0 1 0 0.01 0M324.9 541.9a1.3 1.3 0 1 0 0.01 0M324.9 541a1.3 1.3 0 1 0 0.01 0M324.9 540.1a1.3 1.3 0 1 0 0.01 0M324.9 539.2a1.3 1.3 0 1 0 0.01 0M324.9 568.7a1.3 1.3 0 1 0 0.01 0M324.9 569.6a1.3 1.3 0 1 0 0.01 0M324.9 570.5a1.3 1.3 0 1 0 0.01 0M324.9 571.4a1.3 1.3 0 1 0 0.01 0M324.9 572.3a1.3 1.3 0 1 0 0.01 0M324.9 573.2a1.3 1.3 0 1 0 0.01 0M324.9 574.1a1.3 1.3 0 1 0 0.01 0M324.9 575a1.3 1.3 0 1 0 0.01 0M324.9 575.9a1.3 1.3 0 1 0 0.01 0M324.9 576.8a1.3 1.3 0 1 0 0.01 0" fill="#111"/>
<line x1="338.5" y1="547.25" x2="338.5" y2="543.12" stroke="#111" stroke-width="0.55"/>
<line x1="338.5" y1="556.33" x2="338.5" y2="561" stroke="#111" stroke-width="0.55"/>
<line x1="336.43" y1="543.12" x2="340.57" y2="543.12" stroke="#111" stroke-width="0.55"/>
<line x1="336.43" y1="561" x2="340.57" y2="561" stroke="#111" stroke-width="0.55"/>
<rect x="334.35" y="547.25" width="8.3" height="9.08" fill="#1226c8" stroke="#1a1a1a" stroke-width="0.75"/>
<line x1="334.35" y1="551.92" x2="342.65" y2="551.92" stroke="#1a1a1a" stroke-width="0.75"/>
<path d="M337.2 543.12a1.3 1.3 0 1 0 0.01 0M337.2 542.23a1.3 1.3 0 1 0 0.01 0M337.2 541.33a1.3 1.3 0 1 0 0.01 0M337.2 540.43a1.3 1.3 0 1 0 0.01 0M337.2 539.53a1.3 1.3 0 1 0 0.01 0M337.2 538.63a1.3 1.3 0 1 0 0.01 0M337.2 537.73a1.3 1.3 0 1 0 0.01 0M337.2 536.83a1.3 1.3 0 1 0 0.01 0M337.2 561a1.3 1.3 0 1 0 0.01 0M337.2 561.9a1.3 1.3 0 1 0 0.01 0M337.2 562.8a1.3 1.3 0 1 0 0.01 0M337.2 563.7a1.3 1.3 0 1 0 0.01 0M337.2 564.6a1.3 1.3 0 1 0 0.01 0M337.2 565.5a1.3 1.3 0 1 0 0.01 0M337.2 566.4a1.3 1.3 0 1 0 0.01 0M337.2 567.3a1.3 1.3 0 1 0 0.01 0" fill="#111"/>
<line x1="312.9" y1="518.3" x2="342.3" y2="518.3" stroke="#444" stroke-width="1"/>
<text x="328" y="519.34" font-size="7.2" font-weight="bold" text-anchor="middle" letter-spacing="0.8" fill="#111">***</text>
<line x1="326" y1="527.3" x2="342.3" y2="527.3" stroke="#444" stroke-width="1"/>
<text x="334.55" y="528.34" font-size="7.2" font-weight="bold" text-anchor="middle" letter-spacing="0.8" fill="#111">***</text>
<line x1="312.9" y1="534.2" x2="328.8" y2="534.2" stroke="#444" stroke-width="1"/>
<text x="321.25" y="535.24" font-size="7.2" font-weight="bold" text-anchor="middle" letter-spacing="0.8" fill="#111">***</text>
<text x="283.2" y="547.5" font-size="6.3" text-anchor="middle" font-weight="bold" fill="#222" transform="rotate(-90 283.2 547.5)">IDO1 (RSEM log<tspan font-size="4.2" dy="1.2">2</tspan><tspan dy="-1.2">)</tspan></text>
<text x="315.9" y="586.7" font-size="6.4" text-anchor="end" font-weight="bold" fill="#111" transform="rotate(-45 315.9 586.7)">T1</text>
<text x="328.2" y="586.7" font-size="6.4" text-anchor="end" font-weight="bold" fill="#111" transform="rotate(-45 328.2 586.7)">T2</text>
<text x="340.5" y="586.7" font-size="6.4" text-anchor="end" font-weight="bold" fill="#111" transform="rotate(-45 340.5 586.7)">T3</text>
<line x1="386.7" y1="521.9" x2="386.7" y2="577.1" stroke="#555" stroke-width="0.9"/>
<line x1="382.7" y1="576.8" x2="386.7" y2="576.8" stroke="#555" stroke-width="0.9"/>
<text x="380.1" y="579.03" font-size="6.2" text-anchor="end" font-weight="bold" fill="#111">0</text>
<line x1="382.7" y1="563.17" x2="386.7" y2="563.17" stroke="#555" stroke-width="0.9"/>
<text x="380.1" y="565.41" font-size="6.2" text-anchor="end" font-weight="bold" fill="#111">5</text>
<line x1="382.7" y1="549.55" x2="386.7" y2="549.55" stroke="#555" stroke-width="0.9"/>
<text x="380.1" y="551.78" font-size="6.2" text-anchor="end" font-weight="bold" fill="#111">10</text>
<line x1="382.7" y1="535.92" x2="386.7" y2="535.92" stroke="#555" stroke-width="0.9"/>
<text x="380.1" y="538.16" font-size="6.2" text-anchor="end" font-weight="bold" fill="#111">15</text>
<line x1="382.7" y1="522.3" x2="386.7" y2="522.3" stroke="#555" stroke-width="0.9"/>
<text x="380.1" y="524.53" font-size="6.2" text-anchor="end" font-weight="bold" fill="#111">20</text>
<line x1="386.7" y1="576.8" x2="428.3" y2="576.8" stroke="#555" stroke-width="0.9"/>
<line x1="395.1" y1="576.8" x2="395.1" y2="580.1" stroke="#555" stroke-width="0.8"/>
<line x1="407.4" y1="576.8" x2="407.4" y2="580.1" stroke="#555" stroke-width="0.8"/>
<line x1="419.7" y1="576.8" x2="419.7" y2="580.1" stroke="#555" stroke-width="0.8"/>
<line x1="395.1" y1="558.54" x2="395.1" y2="552.27" stroke="#111" stroke-width="0.55"/>
<line x1="395.1" y1="566.99" x2="395.1" y2="570.26" stroke="#111" stroke-width="0.55"/>
<line x1="393.02" y1="552.27" x2="397.17" y2="552.27" stroke="#111" stroke-width="0.55"/>
<line x1="393.02" y1="570.26" x2="397.17" y2="570.26" stroke="#111" stroke-width="0.55"/>
<rect x="390.95" y="558.54" width="8.3" height="8.45" fill="#ee1c1c" stroke="#1a1a1a" stroke-width="0.75"/>
<line x1="390.95" y1="563.17" x2="399.25" y2="563.17" stroke="#1a1a1a" stroke-width="0.75"/>
<path d="M393.8 552.27a1.3 1.3 0 1 0 0.01 0M393.8 551.38a1.3 1.3 0 1 0 0.01 0M393.8 550.48a1.3 1.3 0 1 0 0.01 0M393.8 549.58a1.3 1.3 0 1 0 0.01 0M393.8 548.68a1.3 1.3 0 1 0 0.01 0M393.8 547.78a1.3 1.3 0 1 0 0.01 0M393.8 546.88a1.3 1.3 0 1 0 0.01 0M393.8 545.98a1.3 1.3 0 1 0 0.01 0M393.8 545.08a1.3 1.3 0 1 0 0.01 0M393.8 544.18a1.3 1.3 0 1 0 0.01 0M393.8 570.26a1.3 1.3 0 1 0 0.01 0M393.8 571.16a1.3 1.3 0 1 0 0.01 0M393.8 572.06a1.3 1.3 0 1 0 0.01 0M393.8 572.96a1.3 1.3 0 1 0 0.01 0M393.8 573.86a1.3 1.3 0 1 0 0.01 0M393.8 574.76a1.3 1.3 0 1 0 0.01 0M393.8 575.66a1.3 1.3 0 1 0 0.01 0M393.8 576.56a1.3 1.3 0 1 0 0.01 0" fill="#111"/>
<line x1="407.4" y1="552.27" x2="407.4" y2="546.82" stroke="#111" stroke-width="0.55"/>
<line x1="407.4" y1="560.18" x2="407.4" y2="564.81" stroke="#111" stroke-width="0.55"/>
<line x1="405.32" y1="546.82" x2="409.47" y2="546.82" stroke="#111" stroke-width="0.55"/>
<line x1="405.32" y1="564.81" x2="409.47" y2="564.81" stroke="#111" stroke-width="0.55"/>
<rect x="403.25" y="552.27" width="8.3" height="7.9" fill="#1e8c1e" stroke="#1a1a1a" stroke-width="0.75"/>
<line x1="403.25" y1="556.36" x2="411.55" y2="556.36" stroke="#1a1a1a" stroke-width="0.75"/>
<path d="M406.1 546.82a1.3 1.3 0 1 0 0.01 0M406.1 545.92a1.3 1.3 0 1 0 0.01 0M406.1 545.02a1.3 1.3 0 1 0 0.01 0M406.1 544.12a1.3 1.3 0 1 0 0.01 0M406.1 543.23a1.3 1.3 0 1 0 0.01 0M406.1 542.33a1.3 1.3 0 1 0 0.01 0M406.1 541.43a1.3 1.3 0 1 0 0.01 0M406.1 564.81a1.3 1.3 0 1 0 0.01 0M406.1 565.71a1.3 1.3 0 1 0 0.01 0M406.1 566.61a1.3 1.3 0 1 0 0.01 0M406.1 567.51a1.3 1.3 0 1 0 0.01 0M406.1 568.41a1.3 1.3 0 1 0 0.01 0M406.1 569.31a1.3 1.3 0 1 0 0.01 0M406.1 570.21a1.3 1.3 0 1 0 0.01 0M406.1 571.11a1.3 1.3 0 1 0 0.01 0M406.1 572.01a1.3 1.3 0 1 0 0.01 0" fill="#111"/>
<line x1="419.7" y1="543.83" x2="419.7" y2="541.38" stroke="#111" stroke-width="0.55"/>
<line x1="419.7" y1="552.55" x2="419.7" y2="556.63" stroke="#111" stroke-width="0.55"/>
<line x1="417.62" y1="541.38" x2="421.77" y2="541.38" stroke="#111" stroke-width="0.55"/>
<line x1="417.62" y1="556.63" x2="421.77" y2="556.63" stroke="#111" stroke-width="0.55"/>
<rect x="415.55" y="543.83" width="8.3" height="8.72" fill="#1226c8" stroke="#1a1a1a" stroke-width="0.75"/>
<line x1="415.55" y1="548.73" x2="423.85" y2="548.73" stroke="#1a1a1a" stroke-width="0.75"/>
<path d="M418.4 541.38a1.3 1.3 0 1 0 0.01 0M418.4 540.48a1.3 1.3 0 1 0 0.01 0M418.4 539.58a1.3 1.3 0 1 0 0.01 0M418.4 538.68a1.3 1.3 0 1 0 0.01 0M418.4 537.78a1.3 1.3 0 1 0 0.01 0M418.4 536.88a1.3 1.3 0 1 0 0.01 0M418.4 535.98a1.3 1.3 0 1 0 0.01 0M418.4 556.63a1.3 1.3 0 1 0 0.01 0M418.4 557.53a1.3 1.3 0 1 0 0.01 0M418.4 558.43a1.3 1.3 0 1 0 0.01 0M418.4 559.33a1.3 1.3 0 1 0 0.01 0M418.4 560.23a1.3 1.3 0 1 0 0.01 0M418.4 561.13a1.3 1.3 0 1 0 0.01 0M418.4 562.03a1.3 1.3 0 1 0 0.01 0M418.4 562.93a1.3 1.3 0 1 0 0.01 0M418.4 563.83a1.3 1.3 0 1 0 0.01 0M418.4 564.73a1.3 1.3 0 1 0 0.01 0M418.4 565.63a1.3 1.3 0 1 0 0.01 0" fill="#111"/>
<line x1="393.3" y1="521.1" x2="423" y2="521.1" stroke="#444" stroke-width="1"/>
<text x="408.55" y="522.14" font-size="7.2" font-weight="bold" text-anchor="middle" letter-spacing="0.8" fill="#111">***</text>
<line x1="407" y1="530.6" x2="423" y2="530.6" stroke="#444" stroke-width="1"/>
<text x="415.4" y="531.64" font-size="7.2" font-weight="bold" text-anchor="middle" letter-spacing="0.8" fill="#111">***</text>
<line x1="393.3" y1="537.5" x2="409.7" y2="537.5" stroke="#444" stroke-width="1"/>
<text x="401.9" y="538.54" font-size="7.2" font-weight="bold" text-anchor="middle" letter-spacing="0.8" fill="#111">***</text>
<text x="364.4" y="547.05" font-size="6.3" text-anchor="middle" font-weight="bold" fill="#222" transform="rotate(-90 364.4 547.05)">CXCL9 (RSEM log<tspan font-size="4.2" dy="1.2">2</tspan><tspan dy="-1.2">)</tspan></text>
<text x="397.1" y="586" font-size="6.4" text-anchor="end" font-weight="bold" fill="#111" transform="rotate(-45 397.1 586)">T1</text>
<text x="409.4" y="586" font-size="6.4" text-anchor="end" font-weight="bold" fill="#111" transform="rotate(-45 409.4 586)">T2</text>
<text x="421.7" y="586" font-size="6.4" text-anchor="end" font-weight="bold" fill="#111" transform="rotate(-45 421.7 586)">T3</text>
<line x1="462" y1="521.9" x2="462" y2="577.6" stroke="#555" stroke-width="0.9"/>
<line x1="458" y1="577.3" x2="462" y2="577.3" stroke="#555" stroke-width="0.9"/>
<text x="455.4" y="579.53" font-size="6.2" text-anchor="end" font-weight="bold" fill="#111">0</text>
<line x1="458" y1="558.97" x2="462" y2="558.97" stroke="#555" stroke-width="0.9"/>
<text x="455.4" y="561.2" font-size="6.2" text-anchor="end" font-weight="bold" fill="#111">5</text>
<line x1="458" y1="540.63" x2="462" y2="540.63" stroke="#555" stroke-width="0.9"/>
<text x="455.4" y="542.87" font-size="6.2" text-anchor="end" font-weight="bold" fill="#111">10</text>
<line x1="458" y1="522.3" x2="462" y2="522.3" stroke="#555" stroke-width="0.9"/>
<text x="455.4" y="524.53" font-size="6.2" text-anchor="end" font-weight="bold" fill="#111">15</text>
<line x1="462" y1="577.3" x2="503.6" y2="577.3" stroke="#555" stroke-width="0.9"/>
<line x1="470.4" y1="577.3" x2="470.4" y2="580.6" stroke="#555" stroke-width="0.8"/>
<line x1="482.7" y1="577.3" x2="482.7" y2="580.6" stroke="#555" stroke-width="0.8"/>
<line x1="495" y1="577.3" x2="495" y2="580.6" stroke="#555" stroke-width="0.8"/>
<line x1="470.4" y1="556.77" x2="470.4" y2="553.47" stroke="#111" stroke-width="0.55"/>
<line x1="470.4" y1="564.1" x2="470.4" y2="567.03" stroke="#111" stroke-width="0.55"/>
<line x1="468.32" y1="553.47" x2="472.47" y2="553.47" stroke="#111" stroke-width="0.55"/>
<line x1="468.32" y1="567.03" x2="472.47" y2="567.03" stroke="#111" stroke-width="0.55"/>
<rect x="466.25" y="556.77" width="8.3" height="7.33" fill="#ee1c1c" stroke="#1a1a1a" stroke-width="0.75"/>
<line x1="466.25" y1="560.43" x2="474.55" y2="560.43" stroke="#1a1a1a" stroke-width="0.75"/>
<path d="M469.1 553.47a1.3 1.3 0 1 0 0.01 0M469.1 552.57a1.3 1.3 0 1 0 0.01 0M469.1 551.67a1.3 1.3 0 1 0 0.01 0M469.1 550.77a1.3 1.3 0 1 0 0.01 0M469.1 549.87a1.3 1.3 0 1 0 0.01 0M469.1 548.97a1.3 1.3 0 1 0 0.01 0M469.1 548.07a1.3 1.3 0 1 0 0.01 0M469.1 547.17a1.3 1.3 0 1 0 0.01 0M469.1 546.27a1.3 1.3 0 1 0 0.01 0M469.1 545.37a1.3 1.3 0 1 0 0.01 0M469.1 567.03a1.3 1.3 0 1 0 0.01 0M469.1 567.93a1.3 1.3 0 1 0 0.01 0M469.1 568.83a1.3 1.3 0 1 0 0.01 0M469.1 569.73a1.3 1.3 0 1 0 0.01 0M469.1 570.63a1.3 1.3 0 1 0 0.01 0M469.1 571.53a1.3 1.3 0 1 0 0.01 0M469.1 572.43a1.3 1.3 0 1 0 0.01 0M469.1 573.33a1.3 1.3 0 1 0 0.01 0M469.1 574.23a1.3 1.3 0 1 0 0.01 0M469.1 575.13a1.3 1.3 0 1 0 0.01 0M469.1 576.03a1.3 1.3 0 1 0 0.01 0" fill="#111"/>
<line x1="482.7" y1="551.63" x2="482.7" y2="547.97" stroke="#111" stroke-width="0.55"/>
<line x1="482.7" y1="558.97" x2="482.7" y2="562.63" stroke="#111" stroke-width="0.55"/>
<line x1="480.62" y1="547.97" x2="484.77" y2="547.97" stroke="#111" stroke-width="0.55"/>
<line x1="480.62" y1="562.63" x2="484.77" y2="562.63" stroke="#111" stroke-width="0.55"/>
<rect x="478.55" y="551.63" width="8.3" height="7.33" fill="#1e8c1e" stroke="#1a1a1a" stroke-width="0.75"/>
<line x1="478.55" y1="554.93" x2="486.85" y2="554.93" stroke="#1a1a1a" stroke-width="0.75"/>
<path d="M481.4 547.97a1.3 1.3 0 1 0 0.01 0M481.4 547.07a1.3 1.3 0 1 0 0.01 0M481.4 546.17a1.3 1.3 0 1 0 0.01 0M481.4 545.27a1.3 1.3 0 1 0 0.01 0M481.4 544.37a1.3 1.3 0 1 0 0.01 0M481.4 543.47a1.3 1.3 0 1 0 0.01 0M481.4 542.57a1.3 1.3 0 1 0 0.01 0M481.4 541.67a1.3 1.3 0 1 0 0.01 0M481.4 562.63a1.3 1.3 0 1 0 0.01 0M481.4 563.53a1.3 1.3 0 1 0 0.01 0M481.4 564.43a1.3 1.3 0 1 0 0.01 0M481.4 565.33a1.3 1.3 0 1 0 0.01 0M481.4 566.23a1.3 1.3 0 1 0 0.01 0M481.4 567.13a1.3 1.3 0 1 0 0.01 0M481.4 568.03a1.3 1.3 0 1 0 0.01 0M481.4 568.93a1.3 1.3 0 1 0 0.01 0M481.4 569.83a1.3 1.3 0 1 0 0.01 0M481.4 570.73a1.3 1.3 0 1 0 0.01 0M481.4 571.63a1.3 1.3 0 1 0 0.01 0M481.4 572.53a1.3 1.3 0 1 0 0.01 0M481.4 573.43a1.3 1.3 0 1 0 0.01 0" fill="#111"/>
<line x1="495" y1="543.93" x2="495" y2="540.63" stroke="#111" stroke-width="0.55"/>
<line x1="495" y1="552.73" x2="495" y2="556.03" stroke="#111" stroke-width="0.55"/>
<line x1="492.93" y1="540.63" x2="497.07" y2="540.63" stroke="#111" stroke-width="0.55"/>
<line x1="492.93" y1="556.03" x2="497.07" y2="556.03" stroke="#111" stroke-width="0.55"/>
<rect x="490.85" y="543.93" width="8.3" height="8.8" fill="#1226c8" stroke="#1a1a1a" stroke-width="0.75"/>
<line x1="490.85" y1="548.33" x2="499.15" y2="548.33" stroke="#1a1a1a" stroke-width="0.75"/>
<path d="M493.7 540.63a1.3 1.3 0 1 0 0.01 0M493.7 539.73a1.3 1.3 0 1 0 0.01 0M493.7 538.83a1.3 1.3 0 1 0 0.01 0M493.7 537.93a1.3 1.3 0 1 0 0.01 0M493.7 537.03a1.3 1.3 0 1 0 0.01 0M493.7 536.13a1.3 1.3 0 1 0 0.01 0M493.7 535.23a1.3 1.3 0 1 0 0.01 0M493.7 534.33a1.3 1.3 0 1 0 0.01 0M493.7 533.43a1.3 1.3 0 1 0 0.01 0M493.7 556.03a1.3 1.3 0 1 0 0.01 0M493.7 556.93a1.3 1.3 0 1 0 0.01 0M493.7 557.83a1.3 1.3 0 1 0 0.01 0M493.7 558.73a1.3 1.3 0 1 0 0.01 0M493.7 559.63a1.3 1.3 0 1 0 0.01 0M493.7 560.53a1.3 1.3 0 1 0 0.01 0M493.7 561.43a1.3 1.3 0 1 0 0.01 0M493.7 562.33a1.3 1.3 0 1 0 0.01 0M493.7 563.23a1.3 1.3 0 1 0 0.01 0" fill="#111"/>
<line x1="468.9" y1="520.2" x2="499.2" y2="520.2" stroke="#444" stroke-width="1"/>
<text x="484.45" y="521.24" font-size="7.2" font-weight="bold" text-anchor="middle" letter-spacing="0.8" fill="#111">***</text>
<line x1="481.9" y1="528.4" x2="499.2" y2="528.4" stroke="#444" stroke-width="1"/>
<text x="490.95" y="529.44" font-size="7.2" font-weight="bold" text-anchor="middle" letter-spacing="0.8" fill="#111">***</text>
<line x1="468.9" y1="537.4" x2="485" y2="537.4" stroke="#444" stroke-width="1"/>
<text x="477.35" y="538.44" font-size="7.2" font-weight="bold" text-anchor="middle" letter-spacing="0.8" fill="#111">***</text>
<text x="439.7" y="547.3" font-size="6.3" text-anchor="middle" font-weight="bold" fill="#222" transform="rotate(-90 439.7 547.3)">CD8A(RSEM log<tspan font-size="4.2" dy="1.2">2</tspan><tspan dy="-1.2">)</tspan></text>
<text x="472.4" y="586.5" font-size="6.4" text-anchor="end" font-weight="bold" fill="#111" transform="rotate(-45 472.4 586.5)">T1</text>
<text x="484.7" y="586.5" font-size="6.4" text-anchor="end" font-weight="bold" fill="#111" transform="rotate(-45 484.7 586.5)">T2</text>
<text x="497" y="586.5" font-size="6.4" text-anchor="end" font-weight="bold" fill="#111" transform="rotate(-45 497 586.5)">T3</text>
<line x1="25.4" y1="624.3" x2="25.4" y2="677.6" stroke="#666" stroke-width="0.7"/>
<line x1="23.6" y1="677.3" x2="25.4" y2="677.3" stroke="#666" stroke-width="0.7"/>
<text x="23.2" y="679.28" font-size="5.5" text-anchor="end" font-weight="bold" fill="#111">0.00</text>
<line x1="23.6" y1="664.12" x2="25.4" y2="664.12" stroke="#666" stroke-width="0.7"/>
<text x="23.2" y="666.11" font-size="5.5" text-anchor="end" font-weight="bold" fill="#111">0.05</text>
<line x1="23.6" y1="650.95" x2="25.4" y2="650.95" stroke="#666" stroke-width="0.7"/>
<text x="23.2" y="652.93" font-size="5.5" text-anchor="end" font-weight="bold" fill="#111">0.10</text>
<line x1="23.6" y1="637.77" x2="25.4" y2="637.77" stroke="#666" stroke-width="0.7"/>
<text x="23.2" y="639.75" font-size="5.5" text-anchor="end" font-weight="bold" fill="#111">0.15</text>
<line x1="23.6" y1="624.6" x2="25.4" y2="624.6" stroke="#666" stroke-width="0.7"/>
<text x="23.2" y="626.58" font-size="5.5" text-anchor="end" font-weight="bold" fill="#111">0.20</text>
<line x1="25.4" y1="677.3" x2="78.5" y2="677.3" stroke="#666" stroke-width="0.8"/>
<line x1="25.4" y1="677.3" x2="25.4" y2="678.9" stroke="#666" stroke-width="0.6"/>
<text x="25.4" y="686.3" font-size="5.6" text-anchor="middle" font-weight="bold" fill="#333">0</text>
<line x1="35.72" y1="677.3" x2="35.72" y2="678.9" stroke="#666" stroke-width="0.6"/>
<text x="35.72" y="686.3" font-size="5.6" text-anchor="middle" font-weight="bold" fill="#333">20</text>
<line x1="46.04" y1="677.3" x2="46.04" y2="678.9" stroke="#666" stroke-width="0.6"/>
<text x="46.04" y="686.3" font-size="5.6" text-anchor="middle" font-weight="bold" fill="#333">40</text>
<line x1="56.36" y1="677.3" x2="56.36" y2="678.9" stroke="#666" stroke-width="0.6"/>
<text x="56.36" y="686.3" font-size="5.6" text-anchor="middle" font-weight="bold" fill="#333">60</text>
<line x1="66.68" y1="677.3" x2="66.68" y2="678.9" stroke="#666" stroke-width="0.6"/>
<text x="66.68" y="686.3" font-size="5.6" text-anchor="middle" font-weight="bold" fill="#333">80</text>
<line x1="77" y1="677.3" x2="77" y2="678.9" stroke="#666" stroke-width="0.6"/>
<text x="77" y="686.3" font-size="5.6" text-anchor="middle" font-weight="bold" fill="#333">100</text>
<line x1="30.56" y1="677.3" x2="30.56" y2="678.3" stroke="#666" stroke-width="0.5"/>
<line x1="40.88" y1="677.3" x2="40.88" y2="678.3" stroke="#666" stroke-width="0.5"/>
<line x1="51.2" y1="677.3" x2="51.2" y2="678.3" stroke="#666" stroke-width="0.5"/>
<line x1="61.52" y1="677.3" x2="61.52" y2="678.3" stroke="#666" stroke-width="0.5"/>
<line x1="71.84" y1="677.3" x2="71.84" y2="678.3" stroke="#666" stroke-width="0.5"/>
<text x="51.9" y="696.6" font-size="5" text-anchor="middle" font-weight="bold" fill="#333">sTILs (%)</text>
<path d="M24.9 666.76h1M24.9 669.39h1M24.9 672.03h1M24.9 674.66h1M24.9 677.3h1M25.4 666.76h1M25.4 669.39h1M25.4 672.03h1M25.4 674.66h1M25.4 677.3h1M25.9 664.12h1M25.9 666.76h1M25.9 669.39h1M25.9 672.03h1M25.9 674.66h1M25.9 677.3h1M26.4 664.12h1M26.4 666.76h1M26.4 669.39h1M26.4 672.03h1M26.4 674.66h1M26.4 677.3h1M27 664.12h1M27 669.39h1M27 672.03h1M27 674.66h1M27 677.3h1M27.5 664.12h1M27.5 666.76h1M27.5 669.39h1M27.5 672.03h1M27.5 674.66h1M27.5 677.3h1M28 664.12h1M28 666.76h1M28 669.39h1M28 672.03h1M28 674.66h1M28 677.3h1M28.5 669.39h1M28.5 672.03h1M29 664.12h1M29 666.76h1M29 669.39h1M29 672.03h1M29 674.66h1M29.5 666.76h1M29.5 674.66h1M29.5 677.3h1M30.1 661.49h1M30.1 664.12h1M30.1 666.76h1M30.1 669.39h1M30.1 672.03h1M30.1 674.66h1M30.1 677.3h1M32.6 658.86h1M32.6 666.76h1M32.6 669.39h1M32.6 672.03h1M32.6 674.66h1M35.2 661.49h1M35.2 664.12h1M35.2 666.76h1M35.2 669.39h1M35.2 672.03h1M35.2 674.66h1M35.2 677.3h1M37.8 658.86h1M37.8 664.12h1M37.8 666.76h1M37.8 669.39h1M37.8 672.03h1M40.4 648.31h1M40.4 656.22h1M40.4 658.86h1M40.4 664.12h1M40.4 669.39h1M40.4 672.03h1M40.4 677.3h1M43 656.22h1M43 664.12h1M43 669.39h1M43 674.66h1M45.5 643.04h1M45.5 653.59h1M45.5 656.22h1M45.5 658.86h1M45.5 664.12h1M45.5 666.76h1M45.5 669.39h1M48.1 640.41h1M48.1 653.59h1M48.1 666.76h1M48.1 672.03h1M50.7 653.59h1M50.7 656.22h1M50.7 658.86h1M50.7 674.66h1M53.3 648.31h1M53.3 650.95h1M55.9 645.68h1M55.9 648.31h1M55.9 658.86h1M55.9 664.12h1M58.4 658.86h1M58.4 664.12h1M58.4 669.39h1M61 645.68h1M61 656.22h1M61 666.76h1M61 669.39h1M63.6 635.14h1M63.6 640.41h1M63.6 643.04h1M63.6 648.31h1M63.6 650.95h1M63.6 653.59h1M63.6 661.49h1M63.6 669.39h1M68.8 637.77h1M68.8 643.04h1M68.8 661.49h1M71.3 637.77h1M71.3 648.31h1M71.3 666.76h1" stroke="#222" stroke-width="1" fill="none" opacity="0.85"/>
<line x1="25.6" y1="677" x2="71" y2="654.3" stroke="#2a2a9a" stroke-width="1.25"/>
<text x="6.2" y="650.6" font-size="5" text-anchor="middle" font-weight="bold" fill="#444" textLength="34" lengthAdjust="spacingAndGlyphs" transform="rotate(-90 6.2 650.6)">Mφ-M1 (ratio)</text>
<text x="13" y="707.6" font-size="6.3" fill="#222" textLength="75.5" lengthAdjust="spacingAndGlyphs"><tspan font-weight="bold"><tspan font-style="italic">ρ</tspan> = 0.63</tspan> [95%-CI 0.57–0.69]</text>
<line x1="110.1" y1="624.6" x2="110.1" y2="678" stroke="#666" stroke-width="0.7"/>
<line x1="108.3" y1="677.7" x2="110.1" y2="677.7" stroke="#666" stroke-width="0.7"/>
<text x="107.9" y="679.68" font-size="5.5" text-anchor="end" font-weight="bold" fill="#111">0.0</text>
<line x1="108.3" y1="664.5" x2="110.1" y2="664.5" stroke="#666" stroke-width="0.7"/>
<text x="107.9" y="666.48" font-size="5.5" text-anchor="end" font-weight="bold" fill="#111">0.1</text>
<line x1="108.3" y1="651.3" x2="110.1" y2="651.3" stroke="#666" stroke-width="0.7"/>
<text x="107.9" y="653.28" font-size="5.5" text-anchor="end" font-weight="bold" fill="#111">0.2</text>
<line x1="108.3" y1="638.1" x2="110.1" y2="638.1" stroke="#666" stroke-width="0.7"/>
<text x="107.9" y="640.08" font-size="5.5" text-anchor="end" font-weight="bold" fill="#111">0.3</text>
<line x1="108.3" y1="624.9" x2="110.1" y2="624.9" stroke="#666" stroke-width="0.7"/>
<text x="107.9" y="626.88" font-size="5.5" text-anchor="end" font-weight="bold" fill="#111">0.4</text>
<line x1="110.1" y1="677.7" x2="163.7" y2="677.7" stroke="#666" stroke-width="0.8"/>
<line x1="110.1" y1="677.7" x2="110.1" y2="679.3" stroke="#666" stroke-width="0.6"/>
<text x="110.1" y="686.7" font-size="5.6" text-anchor="middle" font-weight="bold" fill="#333">0</text>
<line x1="120.52" y1="677.7" x2="120.52" y2="679.3" stroke="#666" stroke-width="0.6"/>
<text x="120.52" y="686.7" font-size="5.6" text-anchor="middle" font-weight="bold" fill="#333">20</text>
<line x1="130.94" y1="677.7" x2="130.94" y2="679.3" stroke="#666" stroke-width="0.6"/>
<text x="130.94" y="686.7" font-size="5.6" text-anchor="middle" font-weight="bold" fill="#333">40</text>
<line x1="141.36" y1="677.7" x2="141.36" y2="679.3" stroke="#666" stroke-width="0.6"/>
<text x="141.36" y="686.7" font-size="5.6" text-anchor="middle" font-weight="bold" fill="#333">60</text>
<line x1="151.78" y1="677.7" x2="151.78" y2="679.3" stroke="#666" stroke-width="0.6"/>
<text x="151.78" y="686.7" font-size="5.6" text-anchor="middle" font-weight="bold" fill="#333">80</text>
<line x1="162.2" y1="677.7" x2="162.2" y2="679.3" stroke="#666" stroke-width="0.6"/>
<text x="162.2" y="686.7" font-size="5.6" text-anchor="middle" font-weight="bold" fill="#333">100</text>
<line x1="115.31" y1="677.7" x2="115.31" y2="678.7" stroke="#666" stroke-width="0.5"/>
<line x1="125.73" y1="677.7" x2="125.73" y2="678.7" stroke="#666" stroke-width="0.5"/>
<line x1="136.15" y1="677.7" x2="136.15" y2="678.7" stroke="#666" stroke-width="0.5"/>
<line x1="146.57" y1="677.7" x2="146.57" y2="678.7" stroke="#666" stroke-width="0.5"/>
<line x1="156.99" y1="677.7" x2="156.99" y2="678.7" stroke="#666" stroke-width="0.5"/>
<text x="136.6" y="697" font-size="5" text-anchor="middle" font-weight="bold" fill="#333">sTILs (%)</text>
<path d="M109.6 659.22h1M109.6 660.54h1M109.6 661.86h1M109.6 663.18h1M109.6 664.5h1M109.6 665.82h1M109.6 667.14h1M109.6 668.46h1M109.6 669.78h1M109.6 671.1h1M109.6 672.42h1M109.6 673.74h1M109.6 675.06h1M109.6 676.38h1M109.6 677.7h1M110.1 657.9h1M110.1 659.22h1M110.1 661.86h1M110.1 664.5h1M110.1 665.82h1M110.1 667.14h1M110.1 668.46h1M110.1 669.78h1M110.1 671.1h1M110.1 672.42h1M110.1 673.74h1M110.1 675.06h1M110.1 676.38h1M110.1 677.7h1M110.6 657.9h1M110.6 659.22h1M110.6 661.86h1M110.6 663.18h1M110.6 664.5h1M110.6 665.82h1M110.6 667.14h1M110.6 668.46h1M110.6 669.78h1M110.6 671.1h1M110.6 672.42h1M110.6 673.74h1M110.6 675.06h1M110.6 676.38h1M110.6 677.7h1M111.2 659.22h1M111.2 660.54h1M111.2 661.86h1M111.2 663.18h1M111.2 664.5h1M111.2 665.82h1M111.2 667.14h1M111.2 668.46h1M111.2 669.78h1M111.2 671.1h1M111.2 672.42h1M111.2 673.74h1M111.2 675.06h1M111.2 676.38h1M111.2 677.7h1M111.7 657.9h1M111.7 660.54h1M111.7 661.86h1M111.7 665.82h1M111.7 667.14h1M111.7 668.46h1M111.7 669.78h1M111.7 671.1h1M111.7 672.42h1M111.7 673.74h1M111.7 675.06h1M111.7 676.38h1M111.7 677.7h1M112.2 660.54h1M112.2 661.86h1M112.2 663.18h1M112.2 664.5h1M112.2 665.82h1M112.2 667.14h1M112.2 668.46h1M112.2 669.78h1M112.2 671.1h1M112.2 672.42h1M112.2 673.74h1M112.2 675.06h1M112.2 676.38h1M112.2 677.7h1M112.7 661.86h1M112.7 664.5h1M112.7 665.82h1M112.7 667.14h1M112.7 668.46h1M112.7 669.78h1M112.7 671.1h1M112.7 672.42h1M112.7 673.74h1M112.7 675.06h1M112.7 676.38h1M112.7 677.7h1M113.2 668.46h1M113.2 669.78h1M113.2 671.1h1M113.2 672.42h1M113.2 673.74h1M113.2 675.06h1M113.2 676.38h1M113.2 677.7h1M113.8 657.9h1M113.8 661.86h1M113.8 663.18h1M113.8 664.5h1M113.8 668.46h1M113.8 669.78h1M113.8 671.1h1M113.8 672.42h1M113.8 673.74h1M113.8 675.06h1M113.8 676.38h1M113.8 677.7h1M114.3 664.5h1M114.3 665.82h1M114.3 667.14h1M114.3 668.46h1M114.3 669.78h1M114.3 671.1h1M114.3 672.42h1M114.3 675.06h1M114.3 676.38h1M114.3 677.7h1M114.8 661.86h1M114.8 664.5h1M114.8 665.82h1M114.8 667.14h1M114.8 668.46h1M114.8 669.78h1M114.8 671.1h1M114.8 672.42h1M114.8 673.74h1M114.8 675.06h1M114.8 676.38h1M114.8 677.7h1M117.4 648.66h1M117.4 659.22h1M117.4 660.54h1M117.4 661.86h1M117.4 664.5h1M117.4 665.82h1M117.4 667.14h1M117.4 668.46h1M117.4 669.78h1M117.4 671.1h1M117.4 675.06h1M120 656.58h1M120 657.9h1M120 660.54h1M120 661.86h1M120 664.5h1M120 665.82h1M120 667.14h1M120 668.46h1M120 669.78h1M120 671.1h1M120 673.74h1M120 676.38h1M122.6 653.94h1M122.6 656.58h1M122.6 659.22h1M122.6 660.54h1M122.6 661.86h1M122.6 663.18h1M122.6 665.82h1M122.6 669.78h1M122.6 672.42h1M122.6 675.06h1M125.2 652.62h1M125.2 660.54h1M125.2 661.86h1M125.2 664.5h1M125.2 665.82h1M125.2 668.46h1M125.2 669.78h1M125.2 672.42h1M125.2 675.06h1M125.2 676.38h1M127.8 652.62h1M127.8 653.94h1M127.8 655.26h1M127.8 664.5h1M127.8 667.14h1M130.4 652.62h1M130.4 657.9h1M130.4 661.86h1M130.4 663.18h1M130.4 667.14h1M130.4 669.78h1M130.4 672.42h1M130.4 673.74h1M133 652.62h1M133 653.94h1M133 657.9h1M133 659.22h1M133 663.18h1M133 667.14h1M133 671.1h1M135.6 644.7h1M135.6 656.58h1M135.6 659.22h1M135.6 661.86h1M135.6 668.46h1M135.6 672.42h1M135.6 675.06h1M135.6 676.38h1M138.3 653.94h1M138.3 657.9h1M138.3 659.22h1M138.3 668.46h1M140.9 647.34h1M140.9 651.3h1M140.9 652.62h1M140.9 653.94h1M140.9 669.78h1M143.5 647.34h1M143.5 656.58h1M143.5 659.22h1M143.5 660.54h1M143.5 667.14h1M143.5 668.46h1M146.1 649.98h1M146.1 651.3h1M146.1 673.74h1M146.1 676.38h1M148.7 648.66h1M148.7 653.94h1M148.7 659.22h1M151.3 671.1h1M153.9 649.98h1M153.9 651.3h1M156.5 644.7h1M156.5 663.18h1M156.5 664.5h1M156.5 667.14h1" stroke="#222" stroke-width="1" fill="none" opacity="0.85"/>
<line x1="110.1" y1="672.5" x2="159.4" y2="660.4" stroke="#2a2a9a" stroke-width="1.25"/>
<text x="92" y="652" font-size="5" text-anchor="middle" font-weight="bold" fill="#444" textLength="34" lengthAdjust="spacingAndGlyphs" transform="rotate(-90 92 652)">Mφ-M1 (ratio)</text>
<text x="98.8" y="707.6" font-size="6.3" fill="#222" textLength="75.5" lengthAdjust="spacingAndGlyphs"><tspan font-weight="bold"><tspan font-style="italic">ρ</tspan> = 0.43</tspan> [95%-CI 0.35–0.51]</text>
<line x1="197.7" y1="624.6" x2="197.7" y2="678" stroke="#666" stroke-width="0.7"/>
<line x1="195.9" y1="677.7" x2="197.7" y2="677.7" stroke="#666" stroke-width="0.7"/>
<text x="195.5" y="679.68" font-size="5.5" text-anchor="end" font-weight="bold" fill="#111">0.00</text>
<line x1="195.9" y1="660.1" x2="197.7" y2="660.1" stroke="#666" stroke-width="0.7"/>
<text x="195.5" y="662.08" font-size="5.5" text-anchor="end" font-weight="bold" fill="#111">0.05</text>
<line x1="195.9" y1="642.5" x2="197.7" y2="642.5" stroke="#666" stroke-width="0.7"/>
<text x="195.5" y="644.48" font-size="5.5" text-anchor="end" font-weight="bold" fill="#111">0.10</text>
<line x1="195.9" y1="624.9" x2="197.7" y2="624.9" stroke="#666" stroke-width="0.7"/>
<text x="195.5" y="626.88" font-size="5.5" text-anchor="end" font-weight="bold" fill="#111">0.15</text>
<line x1="197.7" y1="677.7" x2="251.9" y2="677.7" stroke="#666" stroke-width="0.8"/>
<line x1="197.7" y1="677.7" x2="197.7" y2="679.3" stroke="#666" stroke-width="0.6"/>
<text x="197.7" y="686.7" font-size="5.6" text-anchor="middle" font-weight="bold" fill="#333">0</text>
<line x1="208.24" y1="677.7" x2="208.24" y2="679.3" stroke="#666" stroke-width="0.6"/>
<text x="208.24" y="686.7" font-size="5.6" text-anchor="middle" font-weight="bold" fill="#333">20</text>
<line x1="218.78" y1="677.7" x2="218.78" y2="679.3" stroke="#666" stroke-width="0.6"/>
<text x="218.78" y="686.7" font-size="5.6" text-anchor="middle" font-weight="bold" fill="#333">40</text>
<line x1="229.32" y1="677.7" x2="229.32" y2="679.3" stroke="#666" stroke-width="0.6"/>
<text x="229.32" y="686.7" font-size="5.6" text-anchor="middle" font-weight="bold" fill="#333">60</text>
<line x1="239.86" y1="677.7" x2="239.86" y2="679.3" stroke="#666" stroke-width="0.6"/>
<text x="239.86" y="686.7" font-size="5.6" text-anchor="middle" font-weight="bold" fill="#333">80</text>
<line x1="250.4" y1="677.7" x2="250.4" y2="679.3" stroke="#666" stroke-width="0.6"/>
<text x="250.4" y="686.7" font-size="5.6" text-anchor="middle" font-weight="bold" fill="#333">100</text>
<line x1="202.97" y1="677.7" x2="202.97" y2="678.7" stroke="#666" stroke-width="0.5"/>
<line x1="213.51" y1="677.7" x2="213.51" y2="678.7" stroke="#666" stroke-width="0.5"/>
<line x1="224.05" y1="677.7" x2="224.05" y2="678.7" stroke="#666" stroke-width="0.5"/>
<line x1="234.59" y1="677.7" x2="234.59" y2="678.7" stroke="#666" stroke-width="0.5"/>
<line x1="245.13" y1="677.7" x2="245.13" y2="678.7" stroke="#666" stroke-width="0.5"/>
<text x="224.2" y="697" font-size="5" text-anchor="middle" font-weight="bold" fill="#333">sTILs (%)</text>
<path d="M197.2 667.14h1M197.2 670.66h1M197.2 674.18h1M197.2 677.7h1M197.7 663.62h1M197.7 667.14h1M197.7 670.66h1M197.7 674.18h1M197.7 677.7h1M198.3 663.62h1M198.3 667.14h1M198.3 670.66h1M198.3 674.18h1M198.3 677.7h1M198.8 663.62h1M198.8 667.14h1M198.8 670.66h1M198.8 674.18h1M198.8 677.7h1M199.3 663.62h1M199.3 667.14h1M199.3 670.66h1M199.3 674.18h1M199.3 677.7h1M199.8 667.14h1M199.8 670.66h1M199.8 674.18h1M199.8 677.7h1M200.4 667.14h1M200.4 670.66h1M200.4 674.18h1M200.4 677.7h1M200.9 667.14h1M200.9 670.66h1M201.4 667.14h1M201.4 670.66h1M201.4 674.18h1M201.4 677.7h1M201.9 670.66h1M201.9 677.7h1M202.5 663.62h1M202.5 667.14h1M202.5 670.66h1M202.5 674.18h1M202.5 677.7h1M205.1 646.02h1M205.1 660.1h1M205.1 663.62h1M205.1 667.14h1M205.1 670.66h1M205.1 674.18h1M207.7 663.62h1M207.7 667.14h1M207.7 670.66h1M207.7 674.18h1M207.7 677.7h1M210.4 660.1h1M210.4 663.62h1M210.4 667.14h1M210.4 670.66h1M210.4 674.18h1M213 653.06h1M213 660.1h1M213 663.62h1M213 667.14h1M213 670.66h1M213 674.18h1M213 677.7h1M215.6 660.1h1M215.6 663.62h1M215.6 667.14h1M215.6 670.66h1M215.6 674.18h1M218.3 646.02h1M218.3 656.58h1M218.3 660.1h1M218.3 663.62h1M218.3 667.14h1M218.3 674.18h1M220.9 660.1h1M220.9 663.62h1M220.9 667.14h1M220.9 670.66h1M220.9 674.18h1M223.6 656.58h1M223.6 660.1h1M223.6 663.62h1M226.2 649.54h1M226.2 656.58h1M226.2 663.62h1M226.2 667.14h1M228.8 649.54h1M228.8 667.14h1M228.8 674.18h1M231.5 660.1h1M231.5 663.62h1M234.1 649.54h1M234.1 660.1h1M234.1 663.62h1M234.1 667.14h1M234.1 670.66h1M234.1 674.18h1M236.7 642.5h1M236.7 660.1h1M239.4 638.98h1M239.4 670.66h1M242 656.58h1M242 660.1h1M242 667.14h1M242 670.66h1M244.6 646.02h1" stroke="#222" stroke-width="1" fill="none" opacity="0.85"/>
<line x1="197.7" y1="675" x2="246" y2="660" stroke="#2a2a9a" stroke-width="1.25"/>
<text x="177" y="652" font-size="5" text-anchor="middle" font-weight="bold" fill="#444" textLength="36" lengthAdjust="spacingAndGlyphs" transform="rotate(-90 177 652)">NK Cells (ratio)</text>
<text x="190" y="707.6" font-size="6.3" fill="#222" textLength="75.5" lengthAdjust="spacingAndGlyphs"><tspan font-weight="bold"><tspan font-style="italic">ρ</tspan> = 0.52</tspan> [95%-CI 0.44–0.59]</text>
<line x1="287" y1="625.1" x2="287" y2="677.6" stroke="#666" stroke-width="0.7"/>
<line x1="285.2" y1="677.3" x2="287" y2="677.3" stroke="#666" stroke-width="0.7"/>
<text x="284.8" y="679.28" font-size="5.5" text-anchor="end" font-weight="bold" fill="#111">0.0</text>
<line x1="285.2" y1="660" x2="287" y2="660" stroke="#666" stroke-width="0.7"/>
<text x="284.8" y="661.98" font-size="5.5" text-anchor="end" font-weight="bold" fill="#111">0.5</text>
<line x1="285.2" y1="642.7" x2="287" y2="642.7" stroke="#666" stroke-width="0.7"/>
<text x="284.8" y="644.68" font-size="5.5" text-anchor="end" font-weight="bold" fill="#111">1.0</text>
<line x1="285.2" y1="625.4" x2="287" y2="625.4" stroke="#666" stroke-width="0.7"/>
<text x="284.8" y="627.38" font-size="5.5" text-anchor="end" font-weight="bold" fill="#111">1.5</text>
<line x1="287" y1="677.3" x2="340.5" y2="677.3" stroke="#666" stroke-width="0.8"/>
<line x1="287" y1="677.3" x2="287" y2="678.9" stroke="#666" stroke-width="0.6"/>
<text x="287" y="686.3" font-size="5.6" text-anchor="middle" font-weight="bold" fill="#333">0</text>
<line x1="297.4" y1="677.3" x2="297.4" y2="678.9" stroke="#666" stroke-width="0.6"/>
<text x="297.4" y="686.3" font-size="5.6" text-anchor="middle" font-weight="bold" fill="#333">20</text>
<line x1="307.8" y1="677.3" x2="307.8" y2="678.9" stroke="#666" stroke-width="0.6"/>
<text x="307.8" y="686.3" font-size="5.6" text-anchor="middle" font-weight="bold" fill="#333">40</text>
<line x1="318.2" y1="677.3" x2="318.2" y2="678.9" stroke="#666" stroke-width="0.6"/>
<text x="318.2" y="686.3" font-size="5.6" text-anchor="middle" font-weight="bold" fill="#333">60</text>
<line x1="328.6" y1="677.3" x2="328.6" y2="678.9" stroke="#666" stroke-width="0.6"/>
<text x="328.6" y="686.3" font-size="5.6" text-anchor="middle" font-weight="bold" fill="#333">80</text>
<line x1="339" y1="677.3" x2="339" y2="678.9" stroke="#666" stroke-width="0.6"/>
<text x="339" y="686.3" font-size="5.6" text-anchor="middle" font-weight="bold" fill="#333">100</text>
<line x1="292.2" y1="677.3" x2="292.2" y2="678.3" stroke="#666" stroke-width="0.5"/>
<line x1="302.6" y1="677.3" x2="302.6" y2="678.3" stroke="#666" stroke-width="0.5"/>
<line x1="313" y1="677.3" x2="313" y2="678.3" stroke="#666" stroke-width="0.5"/>
<line x1="323.4" y1="677.3" x2="323.4" y2="678.3" stroke="#666" stroke-width="0.5"/>
<line x1="333.8" y1="677.3" x2="333.8" y2="678.3" stroke="#666" stroke-width="0.5"/>
<text x="313.5" y="696.6" font-size="5" text-anchor="middle" font-weight="bold" fill="#333">sTILs (%)</text>
<path d="M286.5 653.08h1M286.5 658.27h1M286.5 660h1M286.5 661.73h1M286.5 663.46h1M286.5 665.19h1M286.5 666.92h1M286.5 668.65h1M286.5 670.38h1M286.5 672.11h1M286.5 673.84h1M286.5 675.57h1M286.5 677.3h1M287 653.08h1M287 654.81h1M287 660h1M287 661.73h1M287 663.46h1M287 665.19h1M287 666.92h1M287 668.65h1M287 670.38h1M287 672.11h1M287 673.84h1M287 675.57h1M287 677.3h1M287.5 654.81h1M287.5 658.27h1M287.5 660h1M287.5 661.73h1M287.5 663.46h1M287.5 665.19h1M287.5 666.92h1M287.5 668.65h1M287.5 670.38h1M287.5 672.11h1M287.5 673.84h1M287.5 675.57h1M287.5 677.3h1M288.1 654.81h1M288.1 661.73h1M288.1 663.46h1M288.1 665.19h1M288.1 666.92h1M288.1 668.65h1M288.1 670.38h1M288.1 672.11h1M288.1 673.84h1M288.1 675.57h1M288.1 677.3h1M288.6 658.27h1M288.6 660h1M288.6 661.73h1M288.6 663.46h1M288.6 665.19h1M288.6 666.92h1M288.6 668.65h1M288.6 670.38h1M288.6 672.11h1M288.6 673.84h1M288.6 675.57h1M288.6 677.3h1M289.1 651.35h1M289.1 656.54h1M289.1 658.27h1M289.1 660h1M289.1 661.73h1M289.1 663.46h1M289.1 665.19h1M289.1 666.92h1M289.1 668.65h1M289.1 670.38h1M289.1 672.11h1M289.1 675.57h1M289.1 677.3h1M289.6 653.08h1M289.6 654.81h1M289.6 656.54h1M289.6 661.73h1M289.6 663.46h1M289.6 665.19h1M289.6 666.92h1M289.6 668.65h1M289.6 670.38h1M289.6 672.11h1M289.6 673.84h1M289.6 675.57h1M289.6 677.3h1M290.1 666.92h1M290.1 670.38h1M290.1 672.11h1M290.1 673.84h1M290.1 675.57h1M290.1 677.3h1M290.7 651.35h1M290.7 658.27h1M290.7 663.46h1M290.7 665.19h1M290.7 666.92h1M290.7 668.65h1M290.7 670.38h1M290.7 672.11h1M290.7 673.84h1M290.7 675.57h1M290.7 677.3h1M291.2 665.19h1M291.2 666.92h1M291.2 668.65h1M291.2 670.38h1M291.2 672.11h1M291.2 675.57h1M291.2 677.3h1M291.7 651.35h1M291.7 653.08h1M291.7 654.81h1M291.7 656.54h1M291.7 660h1M291.7 661.73h1M291.7 663.46h1M291.7 665.19h1M291.7 666.92h1M291.7 668.65h1M291.7 670.38h1M291.7 672.11h1M291.7 673.84h1M291.7 675.57h1M291.7 677.3h1M294.3 639.24h1M294.3 647.89h1M294.3 649.62h1M294.3 651.35h1M294.3 656.54h1M294.3 658.27h1M294.3 660h1M294.3 661.73h1M294.3 663.46h1M294.3 665.19h1M294.3 666.92h1M294.3 668.65h1M294.3 670.38h1M294.3 672.11h1M294.3 673.84h1M296.9 634.05h1M296.9 649.62h1M296.9 651.35h1M296.9 656.54h1M296.9 660h1M296.9 661.73h1M296.9 665.19h1M296.9 666.92h1M296.9 668.65h1M296.9 670.38h1M296.9 675.57h1M299.5 649.62h1M299.5 651.35h1M299.5 653.08h1M299.5 654.81h1M299.5 656.54h1M299.5 660h1M299.5 661.73h1M299.5 668.65h1M299.5 670.38h1M299.5 672.11h1M302.1 647.89h1M302.1 649.62h1M302.1 651.35h1M302.1 653.08h1M302.1 656.54h1M302.1 658.27h1M302.1 660h1M302.1 665.19h1M302.1 668.65h1M302.1 670.38h1M302.1 675.57h1M304.7 637.51h1M304.7 646.16h1M304.7 651.35h1M304.7 653.08h1M304.7 656.54h1M304.7 660h1M304.7 661.73h1M304.7 663.46h1M304.7 672.11h1M307.3 640.97h1M307.3 647.89h1M307.3 654.81h1M307.3 661.73h1M307.3 663.46h1M307.3 666.92h1M307.3 668.65h1M307.3 673.84h1M309.9 640.97h1M309.9 651.35h1M309.9 653.08h1M309.9 675.57h1M312.5 637.51h1M312.5 646.16h1M312.5 651.35h1M312.5 656.54h1M312.5 658.27h1M312.5 661.73h1M315.1 651.35h1M315.1 660h1M315.1 672.11h1M317.7 639.24h1M317.7 642.7h1M317.7 663.46h1M317.7 666.92h1M317.7 670.38h1M320.3 639.24h1M320.3 640.97h1M320.3 666.92h1M322.9 666.92h1M322.9 670.38h1M322.9 672.11h1M322.9 673.84h1M322.9 675.57h1M325.5 656.54h1M325.5 661.73h1M328.1 668.65h1M330.7 635.78h1M330.7 656.54h1M330.7 668.65h1M333.3 651.35h1" stroke="#222" stroke-width="1" fill="none" opacity="0.85"/>
<line x1="287" y1="671.6" x2="334.6" y2="654.3" stroke="#2a2a9a" stroke-width="1.25"/>
<text x="269.7" y="651" font-size="5" text-anchor="middle" font-weight="bold" fill="#444" textLength="59" lengthAdjust="spacingAndGlyphs" transform="rotate(-90 269.7 651)">Total immune cells (ratio)</text>
<text x="275" y="707.6" font-size="6.3" fill="#222" textLength="75.5" lengthAdjust="spacingAndGlyphs"><tspan font-weight="bold"><tspan font-style="italic">ρ</tspan> = 0.63</tspan> [95%-CI 0.56–0.68]</text>
<line x1="373.2" y1="625.1" x2="373.2" y2="677.6" stroke="#666" stroke-width="0.7"/>
<line x1="371.4" y1="677.3" x2="373.2" y2="677.3" stroke="#666" stroke-width="0.7"/>
<text x="371" y="679.28" font-size="5.5" text-anchor="end" font-weight="bold" fill="#111">0.0</text>
<line x1="371.4" y1="660" x2="373.2" y2="660" stroke="#666" stroke-width="0.7"/>
<text x="371" y="661.98" font-size="5.5" text-anchor="end" font-weight="bold" fill="#111">0.1</text>
<line x1="371.4" y1="642.7" x2="373.2" y2="642.7" stroke="#666" stroke-width="0.7"/>
<text x="371" y="644.68" font-size="5.5" text-anchor="end" font-weight="bold" fill="#111">0.2</text>
<line x1="371.4" y1="625.4" x2="373.2" y2="625.4" stroke="#666" stroke-width="0.7"/>
<text x="371" y="627.38" font-size="5.5" text-anchor="end" font-weight="bold" fill="#111">0.3</text>
<line x1="373.2" y1="677.3" x2="426.3" y2="677.3" stroke="#666" stroke-width="0.8"/>
<line x1="373.2" y1="677.3" x2="373.2" y2="678.9" stroke="#666" stroke-width="0.6"/>
<text x="373.2" y="686.3" font-size="5.6" text-anchor="middle" font-weight="bold" fill="#333">0</text>
<line x1="383.52" y1="677.3" x2="383.52" y2="678.9" stroke="#666" stroke-width="0.6"/>
<text x="383.52" y="686.3" font-size="5.6" text-anchor="middle" font-weight="bold" fill="#333">20</text>
<line x1="393.84" y1="677.3" x2="393.84" y2="678.9" stroke="#666" stroke-width="0.6"/>
<text x="393.84" y="686.3" font-size="5.6" text-anchor="middle" font-weight="bold" fill="#333">40</text>
<line x1="404.16" y1="677.3" x2="404.16" y2="678.9" stroke="#666" stroke-width="0.6"/>
<text x="404.16" y="686.3" font-size="5.6" text-anchor="middle" font-weight="bold" fill="#333">60</text>
<line x1="414.48" y1="677.3" x2="414.48" y2="678.9" stroke="#666" stroke-width="0.6"/>
<text x="414.48" y="686.3" font-size="5.6" text-anchor="middle" font-weight="bold" fill="#333">80</text>
<line x1="424.8" y1="677.3" x2="424.8" y2="678.9" stroke="#666" stroke-width="0.6"/>
<text x="424.8" y="686.3" font-size="5.6" text-anchor="middle" font-weight="bold" fill="#333">100</text>
<line x1="378.36" y1="677.3" x2="378.36" y2="678.3" stroke="#666" stroke-width="0.5"/>
<line x1="388.68" y1="677.3" x2="388.68" y2="678.3" stroke="#666" stroke-width="0.5"/>
<line x1="399" y1="677.3" x2="399" y2="678.3" stroke="#666" stroke-width="0.5"/>
<line x1="409.32" y1="677.3" x2="409.32" y2="678.3" stroke="#666" stroke-width="0.5"/>
<line x1="419.64" y1="677.3" x2="419.64" y2="678.3" stroke="#666" stroke-width="0.5"/>
<text x="399.7" y="696.6" font-size="5" text-anchor="middle" font-weight="bold" fill="#333">sTILs (%)</text>
<path d="M372.7 668.65h1M372.7 670.38h1M372.7 672.11h1M372.7 673.84h1M372.7 675.57h1M372.7 677.3h1M373.2 668.65h1M373.2 670.38h1M373.2 672.11h1M373.2 673.84h1M373.2 675.57h1M373.2 677.3h1M373.7 666.92h1M373.7 668.65h1M373.7 670.38h1M373.7 672.11h1M373.7 673.84h1M373.7 675.57h1M373.7 677.3h1M374.2 666.92h1M374.2 668.65h1M374.2 670.38h1M374.2 672.11h1M374.2 673.84h1M374.2 675.57h1M374.2 677.3h1M374.8 666.92h1M374.8 668.65h1M374.8 670.38h1M374.8 672.11h1M374.8 673.84h1M374.8 675.57h1M374.8 677.3h1M375.3 665.19h1M375.3 668.65h1M375.3 670.38h1M375.3 672.11h1M375.3 673.84h1M375.3 675.57h1M375.3 677.3h1M375.8 665.19h1M375.8 666.92h1M375.8 668.65h1M375.8 670.38h1M375.8 672.11h1M375.8 673.84h1M375.8 675.57h1M375.8 677.3h1M376.3 670.38h1M376.3 672.11h1M376.3 675.57h1M376.3 677.3h1M376.8 666.92h1M376.8 668.65h1M376.8 670.38h1M376.8 672.11h1M376.8 673.84h1M376.8 675.57h1M376.8 677.3h1M377.3 673.84h1M377.3 675.57h1M377.3 677.3h1M377.9 663.46h1M377.9 665.19h1M377.9 666.92h1M377.9 668.65h1M377.9 670.38h1M377.9 672.11h1M377.9 673.84h1M377.9 675.57h1M377.9 677.3h1M380.4 635.78h1M380.4 642.7h1M380.4 666.92h1M380.4 668.65h1M380.4 670.38h1M380.4 672.11h1M380.4 673.84h1M380.4 675.57h1M380.4 677.3h1M383 661.73h1M383 663.46h1M383 665.19h1M383 666.92h1M383 670.38h1M383 672.11h1M383 673.84h1M383 675.57h1M385.6 640.97h1M385.6 644.43h1M385.6 665.19h1M385.6 666.92h1M385.6 670.38h1M385.6 673.84h1M388.2 637.51h1M388.2 644.43h1M388.2 663.46h1M388.2 666.92h1M388.2 673.84h1M390.8 656.54h1M390.8 661.73h1M390.8 666.92h1M390.8 672.11h1M393.3 656.54h1M393.3 661.73h1M393.3 665.19h1M393.3 666.92h1M393.3 670.38h1M393.3 673.84h1M395.9 646.16h1M395.9 653.08h1M395.9 661.73h1M395.9 665.19h1M395.9 668.65h1M395.9 672.11h1M398.5 660h1M398.5 661.73h1M398.5 663.46h1M398.5 665.19h1M398.5 672.11h1M398.5 675.57h1M401.1 654.81h1M401.1 660h1M401.1 665.19h1M401.1 666.92h1M401.1 668.65h1M403.7 637.51h1M403.7 649.62h1M403.7 656.54h1M403.7 660h1M403.7 661.73h1M403.7 672.11h1M406.2 644.43h1M406.2 656.54h1M406.2 670.38h1M408.8 651.35h1M408.8 660h1M408.8 661.73h1M408.8 670.38h1M408.8 672.11h1M411.4 653.08h1M411.4 654.81h1M411.4 670.38h1M414 647.89h1M414 661.73h1M416.6 658.27h1M416.6 660h1M416.6 670.38h1M419.1 646.16h1" stroke="#222" stroke-width="1" fill="none" opacity="0.85"/>
<line x1="373.2" y1="676" x2="420" y2="660.7" stroke="#2a2a9a" stroke-width="1.25"/>
<text x="356.4" y="651.5" font-size="5" text-anchor="middle" font-weight="bold" fill="#444" textLength="43" lengthAdjust="spacingAndGlyphs" transform="rotate(-90 356.4 651.5)">CD8<tspan font-size="3.4" dy="-1.6">+</tspan><tspan dy="1.6"> T cells (ratio)</tspan></text>
<text x="360.8" y="707.6" font-size="6.3" fill="#222" textLength="75.5" lengthAdjust="spacingAndGlyphs"><tspan font-weight="bold"><tspan font-style="italic">ρ</tspan> = 0.49</tspan> [95%-CI 0.41–0.56]</text>
<line x1="455.2" y1="623.9" x2="455.2" y2="677.5" stroke="#666" stroke-width="0.7"/>
<line x1="453.4" y1="677.2" x2="455.2" y2="677.2" stroke="#666" stroke-width="0.7"/>
<text x="453" y="679.18" font-size="5.5" text-anchor="end" font-weight="bold" fill="#111">0.0</text>
<line x1="453.4" y1="663.95" x2="455.2" y2="663.95" stroke="#666" stroke-width="0.7"/>
<text x="453" y="665.93" font-size="5.5" text-anchor="end" font-weight="bold" fill="#111">0.1</text>
<line x1="453.4" y1="650.7" x2="455.2" y2="650.7" stroke="#666" stroke-width="0.7"/>
<text x="453" y="652.68" font-size="5.5" text-anchor="end" font-weight="bold" fill="#111">0.2</text>
<line x1="453.4" y1="637.45" x2="455.2" y2="637.45" stroke="#666" stroke-width="0.7"/>
<text x="453" y="639.43" font-size="5.5" text-anchor="end" font-weight="bold" fill="#111">0.3</text>
<line x1="453.4" y1="624.2" x2="455.2" y2="624.2" stroke="#666" stroke-width="0.7"/>
<text x="453" y="626.18" font-size="5.5" text-anchor="end" font-weight="bold" fill="#111">0.4</text>
<line x1="455.2" y1="677.2" x2="509.5" y2="677.2" stroke="#666" stroke-width="0.8"/>
<line x1="455.2" y1="677.2" x2="455.2" y2="678.8" stroke="#666" stroke-width="0.6"/>
<text x="455.2" y="686.2" font-size="5.6" text-anchor="middle" font-weight="bold" fill="#333">0</text>
<line x1="465.76" y1="677.2" x2="465.76" y2="678.8" stroke="#666" stroke-width="0.6"/>
<text x="465.76" y="686.2" font-size="5.6" text-anchor="middle" font-weight="bold" fill="#333">20</text>
<line x1="476.32" y1="677.2" x2="476.32" y2="678.8" stroke="#666" stroke-width="0.6"/>
<text x="476.32" y="686.2" font-size="5.6" text-anchor="middle" font-weight="bold" fill="#333">40</text>
<line x1="486.88" y1="677.2" x2="486.88" y2="678.8" stroke="#666" stroke-width="0.6"/>
<text x="486.88" y="686.2" font-size="5.6" text-anchor="middle" font-weight="bold" fill="#333">60</text>
<line x1="497.44" y1="677.2" x2="497.44" y2="678.8" stroke="#666" stroke-width="0.6"/>
<text x="497.44" y="686.2" font-size="5.6" text-anchor="middle" font-weight="bold" fill="#333">80</text>
<line x1="508" y1="677.2" x2="508" y2="678.8" stroke="#666" stroke-width="0.6"/>
<text x="508" y="686.2" font-size="5.6" text-anchor="middle" font-weight="bold" fill="#333">100</text>
<line x1="460.48" y1="677.2" x2="460.48" y2="678.2" stroke="#666" stroke-width="0.5"/>
<line x1="471.04" y1="677.2" x2="471.04" y2="678.2" stroke="#666" stroke-width="0.5"/>
<line x1="481.6" y1="677.2" x2="481.6" y2="678.2" stroke="#666" stroke-width="0.5"/>
<line x1="492.16" y1="677.2" x2="492.16" y2="678.2" stroke="#666" stroke-width="0.5"/>
<line x1="502.72" y1="677.2" x2="502.72" y2="678.2" stroke="#666" stroke-width="0.5"/>
<text x="481.7" y="696.5" font-size="5" text-anchor="middle" font-weight="bold" fill="#333">sTILs (%)</text>
<path d="M454.7 653.35h1M454.7 654.68h1M454.7 657.33h1M454.7 658.65h1M454.7 659.98h1M454.7 661.3h1M454.7 662.62h1M454.7 663.95h1M454.7 665.28h1M454.7 666.6h1M454.7 667.93h1M454.7 669.25h1M454.7 670.58h1M454.7 671.9h1M454.7 673.23h1M454.7 674.55h1M454.7 675.88h1M454.7 677.2h1M455.2 657.33h1M455.2 658.65h1M455.2 659.98h1M455.2 661.3h1M455.2 662.62h1M455.2 663.95h1M455.2 665.28h1M455.2 666.6h1M455.2 667.93h1M455.2 669.25h1M455.2 670.58h1M455.2 671.9h1M455.2 673.23h1M455.2 674.55h1M455.2 675.88h1M455.8 652.03h1M455.8 658.65h1M455.8 659.98h1M455.8 661.3h1M455.8 662.62h1M455.8 663.95h1M455.8 665.28h1M455.8 666.6h1M455.8 667.93h1M455.8 669.25h1M455.8 670.58h1M455.8 671.9h1M455.8 673.23h1M455.8 674.55h1M455.8 677.2h1M456.3 653.35h1M456.3 659.98h1M456.3 661.3h1M456.3 662.62h1M456.3 663.95h1M456.3 665.28h1M456.3 666.6h1M456.3 667.93h1M456.3 670.58h1M456.3 671.9h1M456.3 673.23h1M456.3 674.55h1M456.3 675.88h1M456.3 677.2h1M456.8 653.35h1M456.8 654.68h1M456.8 658.65h1M456.8 661.3h1M456.8 662.62h1M456.8 665.28h1M456.8 666.6h1M456.8 667.93h1M456.8 669.25h1M456.8 670.58h1M456.8 673.23h1M456.8 674.55h1M456.8 675.88h1M456.8 677.2h1M457.3 656h1M457.3 658.65h1M457.3 659.98h1M457.3 661.3h1M457.3 662.62h1M457.3 666.6h1M457.3 667.93h1M457.3 669.25h1M457.3 670.58h1M457.3 671.9h1M457.3 673.23h1M457.3 674.55h1M457.3 675.88h1M457.3 677.2h1M457.9 657.33h1M457.9 658.65h1M457.9 659.98h1M457.9 662.62h1M457.9 665.28h1M457.9 666.6h1M457.9 667.93h1M457.9 669.25h1M457.9 670.58h1M457.9 671.9h1M457.9 674.55h1M457.9 675.88h1M457.9 677.2h1M458.4 666.6h1M458.4 671.9h1M458.4 673.23h1M458.4 674.55h1M458.4 675.88h1M458.4 677.2h1M458.9 652.03h1M458.9 654.68h1M458.9 657.33h1M458.9 659.98h1M458.9 663.95h1M458.9 665.28h1M458.9 667.93h1M458.9 669.25h1M458.9 670.58h1M458.9 673.23h1M458.9 674.55h1M458.9 675.88h1M458.9 677.2h1M459.5 666.6h1M459.5 667.93h1M459.5 671.9h1M459.5 673.23h1M460 650.7h1M460 653.35h1M460 658.65h1M460 659.98h1M460 661.3h1M460 663.95h1M460 665.28h1M460 666.6h1M460 667.93h1M460 669.25h1M460 670.58h1M460 671.9h1M460 673.23h1M460 674.55h1M462.6 642.75h1M462.6 648.05h1M462.6 653.35h1M462.6 654.68h1M462.6 657.33h1M462.6 659.98h1M462.6 661.3h1M462.6 663.95h1M462.6 665.28h1M462.6 666.6h1M462.6 669.25h1M462.6 673.23h1M465.3 661.3h1M465.3 662.62h1M465.3 666.6h1M465.3 667.93h1M465.3 674.55h1M467.9 646.73h1M467.9 649.38h1M467.9 656h1M467.9 657.33h1M467.9 659.98h1M467.9 661.3h1M467.9 662.62h1M467.9 663.95h1M467.9 665.28h1M467.9 667.93h1M467.9 671.9h1M467.9 674.55h1M467.9 675.88h1M467.9 677.2h1M470.5 649.38h1M470.5 652.03h1M470.5 656h1M470.5 659.98h1M470.5 662.62h1M470.5 667.93h1M470.5 670.58h1M470.5 673.23h1M473.2 648.05h1M473.2 653.35h1M473.2 657.33h1M473.2 658.65h1M473.2 659.98h1M473.2 667.93h1M473.2 669.25h1M473.2 671.9h1M473.2 674.55h1M475.8 642.75h1M475.8 650.7h1M475.8 654.68h1M475.8 661.3h1M475.8 662.62h1M475.8 665.28h1M475.8 667.93h1M478.5 652.03h1M478.5 663.95h1M481.1 641.43h1M481.1 645.4h1M481.1 648.05h1M481.1 650.7h1M481.1 654.68h1M481.1 658.65h1M481.1 662.62h1M481.1 663.95h1M481.1 665.28h1M481.1 675.88h1M483.7 661.3h1M483.7 667.93h1M486.4 646.73h1M486.4 649.38h1M486.4 650.7h1M486.4 654.68h1M486.4 656h1M486.4 659.98h1M486.4 661.3h1M486.4 667.93h1M491.7 666.6h1M494.3 646.73h1M494.3 648.05h1M494.3 656h1M494.3 659.98h1M494.3 661.3h1M494.3 665.28h1M496.9 645.4h1M496.9 646.73h1M496.9 650.7h1M496.9 652.03h1M496.9 656h1M496.9 658.65h1M496.9 662.62h1M499.6 667.93h1M502.2 634.8h1M502.2 645.4h1M502.2 650.7h1M502.2 661.3h1M502.2 665.28h1" stroke="#222" stroke-width="1" fill="none" opacity="0.85"/>
<line x1="455.2" y1="670" x2="503.6" y2="656.7" stroke="#2a2a9a" stroke-width="1.25"/>
<text x="436.9" y="651.6" font-size="5" text-anchor="middle" font-weight="bold" fill="#444" textLength="44" lengthAdjust="spacingAndGlyphs" transform="rotate(-90 436.9 651.6)">CD4<tspan font-size="3.4" dy="-1.6">+</tspan><tspan dy="1.6"> T cells (ratio)</tspan></text>
<text x="443.3" y="707.6" font-size="6.3" fill="#222" textLength="74" lengthAdjust="spacingAndGlyphs"><tspan font-weight="bold"><tspan font-style="italic">ρ</tspan> = 0.58</tspan> [95%-CI 0.51–0.64]</text>
</svg>
</body></html>
